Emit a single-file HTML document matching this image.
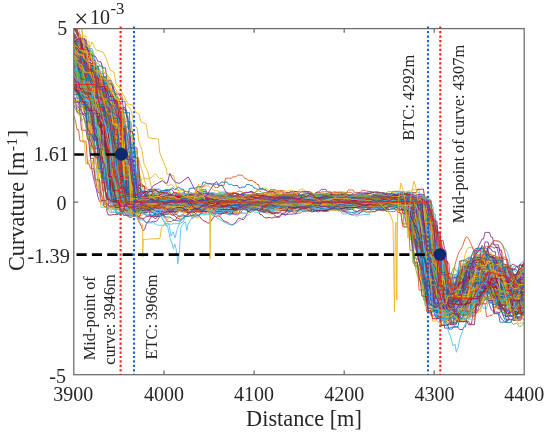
<!DOCTYPE html>
<html><head><meta charset="utf-8"><title>Curvature vs Distance</title>
<style>
html,body{margin:0;padding:0;background:#fff;}
body{width:550px;height:435px;overflow:hidden;}
svg{display:block;}
text{font-family:"Liberation Serif","Times New Roman",serif;fill:#262626;}
.tk{font-size:20.0px;}
.lb{font-size:22.3px;}
.an{font-size:16.35px;fill:#000;}
</style></head><body>
<svg width="550" height="435" viewBox="0 0 550 435">
<rect x="0" y="0" width="550" height="435" fill="#fff"/>
<defs><clipPath id="ax"><rect x="74" y="28.7" width="450.4" height="345.9"/></clipPath></defs>
<g clip-path="url(#ax)"><g transform="scale(0.1)" fill="none" stroke-width="8.5" stroke-linejoin="round">
<path stroke="#0072BD" d="M740 579l15 50 15 32 15 28 15 42 15 46 15 43 15 45 15 43 15 34 15 25 15 24 15 23 15 22 15 16 15 8 15 1 15 13 15 20 15 4 15-9 15 15 15 50 15 49 15 58 15 67 15 91 15 118 15 108 15 85 15 71 15 66 15 55 15 53 15 58 15 34 15 15 15 12 15 1 15 7 15 14 15 5 15-13 15-19 15-17 15-13 15-14 15-17 15-1 15 24 15 11 15-5 15 2 15 11 15 8 15 9 15 19 15 24 15 19 15 8 15 0 15-13 15-30 15-37 15-30 15-12 15-1 15-7 15-8 15-10 15-9 15-5 15 0 15 3 15 0 15-10 15-20 15-14 15-1 15 7 15 13 15 6 15-11 15-20 15-15 15-11 15-5 15 0 15 6 15 8 15 5 15-1 15-1 15 9 15 18 15 15 15 7 15 1 15-4 15 0 15 9 15 8 15 5 15 14 15 17 15 11 15 8 15 3 15-5 15-8 15-11 15-11 15-9 15-7 15-10 15-13 15-6 15 3 15-4 15-8 15-8 15 2 15 6 15 2 15 5 15 16 15 8 15-7 15-3 15-1 15-2 15-5 15-5 15 3 15 6 15 1 15 2 15 10 15 15 15 14 15 9 15 9 15 10 15 10 15 4 15 3 15 10 15 12 15 10 15 4 15-6 15-1 15 6 15 6 15 0 15-5 15-3 15 6 15 9 15 1 15-7 15-9 15-6 15-2 15-2 15-9 15-9 15 1 15 8 15 3 15-2 15-5 15-4 15-3 15 3 15 8 15 6 15 6 15 6 15 4 15 5 15 6 15 2 15 0 15 3 15 2 15 0 15 0 15-3 15-2 15 1 15 2 15-4 15-4 15 3 15 4 15-1 15-2 15-1 15-2 15 0 15-2 15-9 15-7 15-3 15-4 15-2 15 2 15-3 15-7 15-4 15 1 15-1 15 0 15 0 15 0 15-3 15-1 15-2 15-2 15 3 15 2 15-5 15-4 15 0 15 7 15 0 15-3 15 4 15 5 15 6 15 17 15 26 15 42 15 81 15 101 15 87 15 61 15 51 15 35 15 3 15-11 15 7 15 50 15 115 15 176 15 162 15 87 15 23 15 11 15-8 15-6 15-7 15 2 15-6 15-26 15-32 15-31 15-40 15-55 15-46 15-28 15-26 15-35 15-40 15-37 15-20 15-2 15 17 15 26 15 17 15-8 15-28 15-38 15-29 15-8 15 5 15 30 15 26 15 18 15 15 15 22 15 18 15 23 15 37 15 35 15 24 15 23 15 19 15 11 15-2 15-12 15-29 15-23 15-20 15-11 15 4 15-11 15-27 15-22 15-3"/>
<path stroke="#D95319" d="M740 502l15 0 15 12 15 24 15 0 15 0 15 104 15 48 15 0 15 99 15 0 15 0 15 0 15 0 15 138 15 0 15 0 15 0 15 35 15-15 15 0 15 59 15 0 15 0 15 0 15 0 15 162 15 0 15 0 15 0 15 0 15 375 15 342 15 0 15 0 15 0 15 0 15 124 15 0 15 11 15 25 15 18 15 0 15 0 15-14 15 0 15 0 15 0 15 0 15 46 15 0 15 0 15 0 15 0 15-23 15 4 15 0 15-5 15 0 15 0 15 0 15-56 15 0 15 0 15 0 15 0 15 33 15 0 15 18 15-16 15 0 15 0 15 0 15 0 15 27 15 0 15-32 15 0 15 0 15 0 15-36 15 0 15-15 15 0 15-9 15 0 15 0 15 0 15 0 15 19 15 0 15 0 15 8 15 0 15 0 15-5 15 3 15 0 15-18 15 0 15 2 15 0 15 0 15-12 15-15 15 0 15-7 15 0 15 0 15 31 15 0 15 0 15-18 15 0 15 0 15 45 15 0 15 0 15 0 15 0 15 22 15 0 15 7 15 21 15 45 15 0 15 0 15 0 15 0 15 1 15 0 15 0 15 0 15 0 15-33 15 0 15 0 15 2 15-5 15-11 15 0 15-11 15-6 15-3 15 0 15-28 15 0 15 12 15 0 15 0 15 0 15-1 15 0 15 18 15 0 15 0 15 0 15 0 15 0 15 3 15 0 15 0 15 0 15-6 15 0 15-22 15 0 15 0 15 0 15 0 15-23 15-20 15-29 15 0 15 0 15 0 15-5 15 0 15 0 15 4 15 0 15-2 15 6 15 0 15 14 15 0 15 0 15-3 15 0 15 7 15 12 15 0 15 17 15 0 15 0 15 14 15 0 15 0 15 19 15 0 15 0 15 6 15 1 15 5 15 0 15 15 15 0 15 0 15 11 15 0 15-2 15-1 15 0 15 7 15 0 15 0 15 29 15 0 15 0 15 0 15 5 15 9 15 0 15 12 15 106 15 0 15 95 15 0 15 93 15 0 15 84 15 262 15 0 15 0 15 0 15 119 15 0 15 0 15 102 15 3 15 0 15 71 15 0 15 0 15 0 15-17 15 0 15 0 15-165 15 0 15 0 15 0 15 0 15-54 15 0 15 0 15 33 15 0 15 18 15 13 15 13 15 0 15 0 15-5 15 0 15 0 15 0 15-42 15 0 15 0 15-44 15 0 15-44 15 0 15 4 15 25 15 0 15 0 15 0 15 21 15 0 15 0 15 21 15 4 15 0 15 0 15 0 15 0 15 13 15-34 15 0 15 0 15 0 15 0 15 30 15 0 15 0 15 0 15 54 15 0 15 0"/>
<path stroke="#EDB120" d="M740 420l15 66 15 72 15 70 15 56 15 24 15-5 15-12 15-7 15-12 15-16 15-6 15-4 15 4 15 11 15 7 15 15 15 27 15 38 15 54 15 38 15 27 15 4 15 1 15 19 15 45 15 70 15 128 15 142 15 123 15 59 15 20 15 56 15 117 15 133 15 62 15 2 15-6 15-6 15 0 15-2 15-1 15-7 15-8 15-10 15-13 15-12 15-3 15 4 15 5 15-2 15-6 15-9 15-19 15-16 15 9 15 26 15 13 15-1 15 4 15 17 15 25 15 20 15 6 15-7 15-3 15 14 15 16 15 14 15 12 15 4 15-1 15-4 15-2 15 7 15 13 15 15 15 7 15-1 15-5 15-8 15-11 15-11 15-13 15-14 15-11 15-3 15-2 15-4 15 0 15 7 15 8 15 10 15 14 15 11 15-1 15 0 15 15 15 20 15 15 15 14 15 9 15 3 15-1 15 2 15 6 15 8 15 6 15 0 15-3 15-2 15-5 15-7 15-2 15 4 15 3 15-2 15-8 15-13 15-10 15-19 15-23 15-14 15-4 15-3 15-8 15-7 15-1 15 4 15 9 15 9 15 4 15 0 15-1 15 0 15 6 15 3 15-4 15-4 15 0 15 1 15 3 15 3 15-5 15-7 15 1 15 5 15 5 15 2 15 0 15-7 15-13 15-6 15 4 15 12 15 10 15 1 15-1 15 6 15 10 15 6 15 4 15 3 15 5 15 9 15 6 15-4 15-9 15-5 15 0 15 3 15 4 15 8 15 7 15 1 15-4 15 5 15 11 15 8 15 6 15-1 15-8 15-7 15-6 15-7 15-3 15 2 15 2 15-4 15-5 15-5 15-1 15-3 15-6 15-1 15 3 15 3 15 7 15 4 15 0 15 0 15 5 15 10 15 9 15 9 15 8 15 4 15-2 15-7 15-8 15-3 15-1 15-1 15 1 15 5 15 4 15 5 15 9 15 9 15 3 15-1 15 0 15-1 15-7 15-2 15 8 15 50 15 77 15 63 15 50 15 60 15 82 15 76 15 44 15 14 15 17 15 50 15 83 15 73 15 40 15 24 15 26 15 41 15 16 15 17 15 5 15 17 15 7 15-5 15-2 15 7 15 7 15 1 15-27 15-24 15-16 15-10 15-27 15-66 15-101 15-87 15-58 15-41 15-19 15-5 15 1 15 7 15 10 15 24 15 58 15 72 15 54 15 21 15 5 15 3 15 0 15-23 15-26 15 1 15 27 15 23 15 19 15 32 15 46 15 40 15 31 15 30 15 18 15-1 15-19 15-14 15-23 15-39 15-53 15-41 15-11 15 17 15 21 15 10 15 7 15 12"/>
<path stroke="#7E2F8E" d="M740 379l15 68 15 83 15 66 15 44 15 16 15-6 15-10 15 6 15 21 15 20 15 16 15 15 15 9 15-2 15 2 15 15 15 14 15 5 15 11 15 33 15 58 15 41 15 20 15 10 15 12 15 18 15 30 15 24 15 19 15 41 15 25 15-11 15-22 15 8 15 80 15 107 15 111 15 113 15 100 15 72 15 75 15 114 15 132 15 39 15 14 15-8 15-12 15-10 15-8 15-6 15-1 15 3 15 1 15-3 15-6 15-6 15-4 15-2 15 2 15 4 15 5 15 5 15 7 15 3 15-2 15-2 15 0 15-1 15-3 15-9 15-6 15 2 15 9 15 15 15 11 15 2 15-2 15-4 15-2 15 2 15 5 15 2 15 0 15-2 15 0 15 4 15 7 15 3 15 0 15 2 15 4 15 5 15 4 15 0 15-4 15-5 15 0 15 2 15 2 15 4 15 3 15 4 15 3 15 0 15 0 15 3 15 5 15 0 15-9 15-5 15 0 15-3 15-7 15-6 15-1 15-3 15-6 15-10 15-2 15 4 15 5 15 1 15-1 15 1 15 2 15 4 15 5 15 3 15 2 15 3 15 4 15 3 15 4 15 4 15 0 15-2 15-3 15-6 15-6 15-3 15-7 15-5 15 2 15 2 15-5 15-7 15-1 15 0 15-2 15-1 15 3 15 2 15-3 15-6 15-6 15-2 15 1 15-2 15-2 15 1 15 2 15-1 15 0 15-1 15-2 15-2 15 0 15-1 15 1 15 1 15 2 15 4 15 5 15 6 15 9 15 8 15 0 15-1 15 1 15 1 15-2 15 0 15 2 15 1 15-4 15-7 15-5 15 0 15 1 15-2 15-6 15-6 15-2 15 0 15 3 15 0 15-2 15 3 15 7 15 2 15-2 15-3 15-3 15-2 15-3 15-2 15 2 15 2 15 1 15 2 15-1 15-3 15 1 15 3 15 3 15-2 15-3 15 1 15 3 15 2 15 0 15-1 15-2 15-3 15-1 15 2 15-4 15-7 15 0 15 4 15 5 15 47 15 86 15 86 15 78 15 83 15 77 15 46 15 20 15 23 15 36 15 41 15 45 15 47 15 44 15 32 15 13 15 5 15 24 15 2 15 4 15-5 15-2 15 0 15 3 15 15 15-1 15-9 15-34 15-29 15-6 15-12 15-43 15-55 15-37 15-17 15-14 15-19 15-5 15 20 15 24 15-3 15-39 15-47 15-26 15-12 15-20 15-17 15-7 15 5 15 13 15 25 15 48 15 68 15 72 15 49 15 21 15 22 15 39 15 60 15 69 15 33 15-1 15 1 15 6 15 7 15-11 15-32 15-37 15-19"/>
<path stroke="#77AC30" d="M740 573l15 12 15 19 15 46 15 72 15 67 15 46 15 49 15 61 15 44 15 7 15-12 15 7 15 35 15 23 15 5 15 2 15 8 15 17 15 25 15 27 15 28 15 37 15 61 15 121 15 151 15 115 15 52 15 4 15-7 15 17 15 49 15 67 15 82 15 94 15 100 15 51 15 9 15-2 15-13 15-16 15-19 15-11 15 1 15-3 15-4 15 6 15 15 15 12 15-6 15-21 15-19 15-10 15-3 15-3 15-9 15-20 15-19 15-1 15 9 15-5 15-17 15-17 15-13 15-12 15-6 15 0 15-3 15-9 15-2 15 14 15 13 15 9 15 15 15 10 15 3 15 13 15 26 15 20 15 9 15 5 15 8 15 11 15 7 15 1 15-4 15 0 15 10 15 7 15-2 15 2 15 14 15 15 15 9 15-6 15-20 15-29 15-26 15-14 15-7 15-12 15-16 15-9 15 0 15 3 15-4 15-10 15-5 15-3 15-3 15-2 15 6 15 14 15 12 15 4 15 1 15 4 15 0 15-16 15-12 15 6 15 18 15 17 15 9 15 1 15-5 15-7 15-3 15 2 15 5 15 5 15 3 15-2 15-3 15 2 15-3 15-9 15-6 15-3 15-7 15-6 15-5 15-7 15-7 15-4 15 2 15 3 15-1 15-2 15 0 15 4 15 5 15 4 15 2 15-1 15 2 15 5 15 6 15 0 15-4 15-1 15 0 15 1 15-3 15-6 15-7 15 1 15 11 15 8 15 2 15 2 15 3 15 3 15 3 15 3 15 0 15 1 15 4 15 2 15 1 15 8 15 9 15 6 15 2 15-1 15 1 15 8 15 14 15 14 15 0 15-11 15-8 15-4 15-7 15-9 15-3 15 2 15-8 15-14 15-4 15 11 15 16 15 10 15 4 15 4 15 9 15 6 15-3 15-6 15-7 15-12 15-13 15-6 15-1 15 2 15-5 15-10 15 9 15 5 15-1 15 7 15 25 15 61 15 73 15 83 15 91 15 100 15 109 15 93 15 55 15 32 15 36 15 43 15 43 15 56 15 80 15 46 15 38 15 3 15-23 15-35 15-28 15-14 15-10 15-14 15-12 15-27 15-29 15-6 15 8 15 15 15 16 15 12 15-6 15-17 15-22 15-23 15-19 15-13 15-7 15-3 15 5 15 6 15 9 15 4 15-12 15-6 15-6 15-8 15-5 15-11 15 1 15 12 15 18 15 10 15-1 15-3 15-12 15-15 15-1 15 12 15 9 15 6 15 3 15-6 15 4 15 12 15 17 15 33 15 36 15 24 15 2 15 8 15 19 15 19 15 12 15 9 15 17 15 23 15 1 15-30"/>
<path stroke="#4DBEEE" d="M740 888l15 0 15 0 15 49 15 0 15 79 15 0 15 0 15 67 15 0 15 0 15 0 15 205 15 0 15 0 15 0 15 148 15 81 15 0 15 0 15 161 15 163 15 0 15 98 15 0 15 0 15 118 15 0 15 0 15 40 15 0 15 0 15-12 15 0 15 0 15 9 15-9 15 0 15 0 15-23 15 0 15 0 15-7 15 0 15 0 15 0 15 0 15 18 15 0 15 0 15 0 15 5 15-9 15 0 15 0 15-30 15 0 15-21 15 0 15 0 15 0 15 0 15 1 15-18 15 0 15 0 15 0 15-3 15 0 15 7 15 10 15 0 15-4 15 0 15 19 15 0 15 9 15 0 15-27 15 0 15 0 15 0 15 0 15-10 15-19 15 0 15-12 15 0 15 0 15 0 15 11 15 20 15 0 15 0 15 3 15 0 15 0 15 0 15 0 15-8 15 0 15-5 15 0 15 0 15-2 15 0 15 0 15 24 15 0 15 0 15 0 15 0 15 17 15 0 15 0 15 9 15 0 15-11 15 0 15 0 15 2 15 0 15 0 15-5 15 0 15 0 15 0 15-11 15 0 15 3 15 0 15 0 15 0 15-11 15 0 15 0 15 0 15 0 15-4 15 8 15 0 15-1 15 2 15 0 15 0 15 0 15 0 15 33 15 3 15 0 15 8 15 0 15 8 15 0 15 0 15 0 15-14 15 0 15 0 15 0 15 0 15-18 15 0 15 0 15-1 15-10 15 0 15 0 15 0 15-5 15-1 15 1 15-5 15 0 15 0 15 0 15 0 15 10 15 7 15 0 15 2 15 4 15 8 15 0 15 0 15 0 15 0 15 0 15-1 15-4 15 0 15 0 15 0 15 0 15 0 15-6 15 0 15 0 15 0 15 0 15-14 15 0 15 0 15 9 15 3 15 1 15 0 15 0 15 2 15 22 15 0 15 0 15 0 15-6 15-6 15 0 15 0 15-3 15 0 15 0 15-8 15 0 15 14 15 0 15 0 15 52 15 0 15 0 15 0 15 0 15 236 15 0 15 0 15 0 15 0 15 257 15 0 15 169 15 0 15 90 15 67 15 29 15-23 15 0 15 0 15-22 15 0 15 0 15 0 15-22 15 0 15 0 15 0 15-38 15 0 15 0 15 0 15 0 15 83 15 0 15 0 15 1 15 0 15 0 15-3 15 0 15 4 15 25 15 0 15 7 15-1 15 0 15 0 15-63 15 0 15-12 15 0 15 0 15 0 15 6 15 0 15 0 15 0 15-18 15 0 15 28 15 0 15 0 15 26 15 131 15 0 15 0 15 0 15-1 15 0 15 0 15 85 15 0 15 0 15 0 15 0"/>
<path stroke="#A2142F" d="M740 486l15 3 15 10 15 33 15 48 15 53 15 52 15 37 15 23 15 16 15 10 15 15 15 36 15 46 15 35 15 26 15 30 15 43 15 53 15 67 15 56 15 34 15 10 15 4 15 21 15 87 15 112 15 88 15 26 15-19 15-18 15 41 15 104 15 123 15 133 15 87 15 32 15-2 15-7 15-4 15-1 15-6 15-6 15 0 15 4 15 4 15 2 15 2 15 6 15 2 15-6 15-5 15-3 15-6 15-11 15-9 15 0 15 3 15-5 15-11 15-7 15 1 15 6 15 8 15 6 15 2 15-4 15-6 15-5 15-6 15 0 15 6 15 7 15 5 15 7 15 5 15 1 15 1 15 3 15 4 15 3 15 3 15 5 15 2 15-7 15-9 15-2 15 4 15 1 15-2 15-2 15 1 15 4 15 5 15 4 15 5 15 3 15 2 15 3 15 3 15 1 15 2 15 3 15 2 15 0 15-1 15 2 15 7 15 5 15-4 15-4 15 1 15 5 15 3 15-1 15-4 15-6 15-3 15-1 15 1 15-5 15-6 15-5 15-1 15 0 15-3 15-6 15-7 15-7 15-3 15 2 15 5 15 5 15 3 15-1 15-2 15 0 15-4 15-9 15-7 15-3 15 1 15 5 15 7 15 4 15 1 15 2 15 3 15 0 15-4 15-5 15-3 15 1 15 3 15 1 15-2 15-3 15-3 15-8 15-8 15-2 15 1 15 0 15-4 15-1 15 0 15-3 15-6 15-2 15 5 15 8 15 4 15 2 15-2 15-1 15 2 15 0 15-1 15-2 15 1 15 4 15 3 15 0 15-1 15 2 15 1 15-4 15-5 15-1 15 3 15 2 15 2 15 1 15-3 15-6 15-4 15-1 15 0 15-2 15-2 15 0 15 3 15 2 15 3 15 3 15 2 15 0 15-1 15-1 15 2 15 6 15 5 15 1 15-4 15-4 15 0 15-1 15-5 15 1 15 1 15 3 15 2 15 2 15 0 15 3 15 5 15-4 15-9 15 7 15 12 15 28 15 67 15 59 15 54 15 41 15 42 15 66 15 61 15 14 15 2 15 29 15 42 15 54 15 81 15 89 15 65 15 32 15 33 15 77 15 74 15 42 15 8 15-14 15-19 15-5 15 1 15-1 15-21 15-21 15-19 15-15 15-7 15-4 15-12 15-30 15-50 15-39 15-41 15-43 15-39 15-32 15-23 15-17 15-4 15 12 15 10 15 3 15 6 15 5 15-4 15 2 15 21 15 31 15 13 15 0 15 0 15 9 15 16 15 21 15 28 15 32 15 28 15 17 15 22 15 22 15 11 15 6 15-9 15 0 15-11 15-17"/>
<path stroke="#0072BD" d="M740 330l15 32 15 106 15 0 15 0 15 176 15 0 15 0 15 0 15 0 15 123 15 0 15 0 15 121 15 0 15 24 15 0 15 16 15 0 15 0 15 0 15 0 15 4 15 0 15 0 15 0 15 91 15 0 15 44 15 0 15 0 15 20 15-15 15 55 15 0 15 0 15 0 15 0 15 545 15 0 15 0 15 303 15 0 15 19 15 42 15 0 15 0 15 0 15 0 15-44 15-34 15 0 15 0 15-62 15 0 15 0 15 35 15 0 15 0 15 0 15 10 15 0 15 0 15 7 15 0 15 29 15 0 15 23 15 0 15 0 15-10 15 0 15 0 15 12 15 0 15 0 15 0 15 33 15 0 15 30 15 0 15 0 15-26 15 0 15 0 15-33 15 0 15 0 15 0 15 0 15-1 15 0 15 0 15 20 15 0 15 0 15 0 15 0 15 29 15 0 15 0 15 0 15-15 15 0 15 0 15-64 15 0 15 0 15 0 15-3 15 0 15 0 15 0 15 0 15-9 15 0 15 0 15 21 15 0 15 0 15 54 15 0 15 0 15 0 15 13 15 0 15 0 15 0 15 0 15-23 15 0 15-3 15 17 15 0 15 0 15-22 15 0 15-1 15 0 15 0 15-3 15-16 15 0 15 0 15 0 15 0 15-12 15-4 15 0 15 0 15-4 15 0 15 0 15 14 15 4 15 0 15 0 15 0 15 0 15-2 15 0 15 0 15-10 15 0 15 0 15-1 15 0 15 0 15 0 15 7 15 0 15 0 15 0 15 0 15-19 15-6 15 0 15 0 15 0 15-8 15 10 15 0 15 0 15 7 15 0 15 0 15 4 15 0 15 8 15 0 15 7 15 11 15 0 15 0 15 26 15 0 15 0 15 0 15 0 15-9 15 0 15 0 15 0 15 0 15-19 15 0 15 0 15 0 15 0 15 17 15 0 15 0 15-21 15 0 15 0 15 0 15 0 15 37 15 0 15 0 15 0 15 36 15 0 15 22 15 19 15 0 15 0 15 92 15 0 15 87 15 0 15 0 15 169 15 0 15 0 15 398 15 0 15 0 15 0 15 187 15 0 15 31 15 0 15 0 15-13 15 0 15 0 15 0 15 7 15 66 15 0 15 0 15 0 15 0 15-53 15 0 15-31 15-32 15 0 15-49 15 0 15-37 15 0 15-4 15-21 15 0 15-36 15 0 15-38 15-36 15 0 15-36 15 0 15 0 15-61 15 0 15 17 15 0 15 0 15 0 15 0 15 123 15 0 15 0 15 0 15 0 15 44 15 0 15 0 15 2 15 0 15 0 15 0 15 0 15-17 15 2 15 0 15 0 15 0 15 0 15-4"/>
<path stroke="#D95319" d="M740 655l15 32 15 14 15 9 15 24 15 33 15 26 15 12 15 13 15 34 15 47 15 38 15 21 15 13 15 15 15 16 15 7 15 7 15 14 15 33 15 48 15 67 15 84 15 88 15 99 15 102 15 89 15 66 15 59 15 77 15 90 15 84 15 12 15 0 15-5 15 3 15 11 15 3 15 2 15-1 15-3 15-1 15 4 15 12 15 13 15 5 15 0 15 2 15-1 15-5 15-8 15-11 15-10 15-5 15-2 15-2 15 2 15 5 15 6 15 8 15 6 15 2 15 1 15 1 15 3 15 8 15 5 15-1 15-1 15 1 15 2 15 2 15 0 15 1 15 1 15 1 15-1 15-2 15 2 15 7 15 1 15-5 15-5 15-5 15-3 15-1 15 0 15-4 15-3 15 1 15 2 15 0 15 1 15 1 15 4 15 5 15 4 15-2 15-5 15-2 15 4 15 4 15-1 15-4 15-3 15-1 15 1 15 0 15-1 15-1 15-1 15-3 15-2 15-3 15-2 15-1 15-4 15-4 15-8 15-2 15-3 15-6 15-6 15-1 15 8 15 10 15 8 15 4 15 1 15-4 15-8 15-8 15-4 15-4 15-2 15 1 15-1 15-5 15-5 15 1 15 1 15 0 15 1 15 1 15 2 15 4 15 4 15 2 15 0 15-3 15-1 15 0 15 2 15 2 15 2 15 0 15 1 15 0 15-2 15-2 15 1 15 3 15-1 15-2 15-1 15 4 15 5 15 4 15 0 15 1 15 1 15-4 15-8 15-2 15 3 15 1 15-3 15-3 15-1 15 1 15 2 15-1 15-4 15-1 15 3 15 1 15 1 15 2 15-4 15-8 15-6 15 0 15 2 15 7 15 9 15 1 15-5 15-4 15-2 15-2 15 0 15 3 15 2 15 0 15-1 15-1 15 1 15 0 15-1 15 2 15 4 15 2 15-1 15-3 15-5 15-4 15 1 15 4 15 2 15 0 15-3 15 1 15 5 15 5 15 6 15 4 15 10 15 6 15 4 15 1 15-1 15-4 15 16 15 87 15 110 15 82 15 65 15 69 15 84 15 86 15 69 15 66 15 72 15 60 15 39 15 38 15 49 15 48 15 24 15 26 15 25 15 19 15 32 15 24 15 5 15-21 15-33 15-21 15-20 15-42 15-68 15-104 15-101 15-64 15-23 15 4 15 1 15-16 15-31 15-34 15-13 15 21 15 21 15 6 15 0 15 13 15 26 15 26 15 20 15 16 15 19 15 17 15 7 15 4 15 9 15 20 15 27 15 29 15 19 15 10 15 5 15 7 15 15 15 16 15 4 15-2 15-3 15-12 15-17 15-23 15-25"/>
<path stroke="#EDB120" d="M740 755l15 43 15 33 15 6 15-7 15 11 15 37 15 38 15 19 15 16 15 28 15 26 15 24 15 33 15 36 15 35 15 32 15 28 15 11 15-12 15-29 15-22 15 12 15 48 15 44 15 65 15 85 15 84 15 86 15 103 15 126 15 127 15 114 15 66 15 5 15-3 15 5 15 23 15 18 15 1 15 3 15 2 15 0 15 1 15 2 15-2 15-8 15-10 15-10 15-12 15-8 15-4 15-5 15-5 15-7 15-7 15-3 15 0 15-3 15-7 15-6 15-2 15 0 15 3 15 4 15 4 15 1 15-3 15-3 15 5 15 11 15 6 15-1 15 0 15 3 15 2 15 0 15-4 15-7 15-4 15 0 15 2 15-2 15-4 15-6 15-4 15 0 15 0 15-4 15-4 15-1 15 4 15 4 15 0 15-1 15 2 15 3 15 1 15 0 15 0 15 2 15 2 15 2 15 2 15 0 15-4 15-5 15 1 15 6 15 4 15-1 15-1 15-1 15-2 15-1 15-1 15 0 15 4 15 0 15 2 15 2 15 2 15-4 15-8 15-5 15-2 15-3 15-4 15-3 15 1 15 0 15-1 15-1 15 4 15 4 15 2 15 0 15 2 15 3 15 0 15-5 15-7 15-8 15-7 15-3 15-4 15-3 15 0 15 5 15 6 15 5 15 1 15-4 15-4 15-3 15 0 15 5 15 5 15 1 15 1 15 4 15 1 15-2 15-5 15-3 15-2 15-5 15-7 15-8 15-7 15-4 15-2 15-2 15-5 15-4 15 0 15 1 15 4 15 6 15 8 15 8 15 5 15 2 15 3 15 4 15 2 15-2 15-6 15-6 15-5 15-1 15 4 15 3 15-2 15-5 15-1 15 2 15 4 15 6 15 8 15 3 15-3 15-4 15-2 15 0 15 3 15 7 15 4 15 0 15-6 15-8 15-3 15 6 15 6 15 2 15-1 15-4 15-4 15 3 15 5 15 1 15 0 15 4 15 5 15 3 15 5 15 6 15 3 15-5 15-10 15-8 15 7 15 0 15 0 15 15 15 46 15 85 15 91 15 74 15 64 15 69 15 64 15 53 15 60 15 84 15 97 15 70 15 23 15 7 15 28 15 46 15 7 15 4 15 11 15 7 15-4 15-19 15-30 15-26 15-11 15 9 15 22 15 2 15-18 15-11 15 2 15 2 15 2 15 4 15-2 15-14 15-19 15-11 15-4 15 6 15 4 15-15 15-20 15-4 15-1 15-10 15-17 15-23 15-31 15-22 15-18 15-7 15 4 15 11 15 13 15 24 15 46 15 55 15 56 15 40 15 42 15 33 15 13 15 9 15 6 15 2"/>
<path stroke="#7E2F8E" d="M740 710l15 0 15 0 15 0 15 26 15 0 15 0 15 61 15 0 15 0 15 162 15 0 15 0 15 0 15 78 15 0 15 0 15 0 15 0 15 53 15 57 15 0 15 0 15 293 15 0 15 0 15 0 15 0 15 311 15 0 15 0 15 0 15 39 15 32 15 230 15 0 15 0 15 0 15 0 15 26 15-11 15-34 15 0 15 0 15-12 15 0 15-21 15 0 15 0 15 0 15 0 15-1 15 0 15 0 15 0 15-26 15-44 15 0 15-20 15 0 15-1 15-11 15 0 15 0 15 0 15 0 15 9 15 36 15 0 15 0 15-1 15 0 15 0 15 15 15 0 15 13 15 0 15 0 15 0 15 0 15-5 15 0 15 0 15 26 15 0 15-14 15 0 15 0 15 0 15 20 15 0 15 0 15 0 15 0 15-25 15 14 15 0 15 10 15 0 15 0 15-3 15 0 15 0 15-3 15 0 15 0 15 27 15 0 15 0 15 0 15 0 15-22 15 0 15 15 15 13 15 1 15 0 15 0 15 0 15-32 15 0 15-16 15 0 15 0 15 0 15 0 15-3 15 0 15 13 15 0 15 3 15 0 15 0 15 0 15 9 15 0 15 0 15-26 15 0 15 0 15-35 15 0 15 0 15 0 15-17 15 0 15 0 15 45 15 0 15 0 15 0 15 0 15 20 15 0 15 12 15 0 15 0 15 21 15 0 15 0 15 0 15 3 15 0 15 2 15 8 15 12 15 0 15 1 15 0 15 3 15 0 15 13 15 0 15 0 15 4 15 0 15-14 15-7 15-12 15 0 15 0 15-5 15 0 15-3 15 0 15 0 15-3 15-9 15 0 15 0 15 0 15 0 15 25 15 1 15-16 15 0 15 0 15 0 15 0 15 10 15 0 15 0 15-17 15 0 15 0 15 0 15 1 15-11 15 0 15 13 15 0 15-10 15 0 15 0 15-15 15 0 15 0 15 7 15 4 15 0 15 0 15 0 15 0 15 0 15 37 15 0 15 0 15 0 15-1 15 0 15 0 15 279 15 0 15 0 15 0 15 0 15 33 15 0 15 150 15 0 15 165 15 0 15 67 15 155 15 0 15 41 15 20 15 0 15 0 15 60 15 0 15 32 15 0 15 0 15 0 15-1 15 0 15-3 15-5 15 27 15 0 15 0 15 0 15 0 15-54 15 0 15-66 15 0 15 0 15-14 15 0 15 0 15-38 15 0 15 0 15 0 15 0 15-20 15 0 15 0 15-17 15 22 15 0 15 0 15 42 15 0 15 0 15 0 15 11 15 0 15 0 15 106 15 0 15 0 15 30 15 0 15 0 15-2 15-27 15 0 15-12"/>
<path stroke="#77AC30" d="M740 694l15 15 15 28 15 33 15 8 15-1 15 9 15 16 15 17 15 16 15 22 15 39 15 63 15 85 15 62 15 41 15 79 15 145 15 157 15 103 15 58 15 60 15 74 15 85 15 92 15 19 15 10 15-3 15-7 15-1 15 5 15 3 15-3 15-7 15-2 15 4 15 6 15 9 15 12 15 8 15 0 15-7 15-7 15-5 15-7 15-7 15-8 15-10 15-7 15-1 15 1 15-2 15-1 15 1 15 2 15 3 15 5 15 0 15-4 15-1 15 4 15 3 15 0 15 1 15 3 15 2 15-1 15-2 15 2 15 4 15 3 15 2 15 2 15 2 15 1 15-2 15-7 15-4 15-3 15-3 15-2 15-3 15-4 15-5 15 1 15 7 15 9 15 8 15 9 15 8 15 4 15 1 15-2 15-2 15-3 15-2 15 1 15 2 15-3 15-4 15-1 15 3 15 5 15 8 15 6 15 2 15-2 15-5 15-3 15-3 15 1 15 0 15-3 15-5 15-7 15-9 15-7 15 2 15 4 15 9 15 3 15-2 15 1 15 3 15 1 15 0 15-2 15 0 15 0 15-4 15-6 15 4 15 10 15 6 15-2 15-4 15 0 15 0 15-2 15-3 15-4 15 0 15 1 15 1 15-2 15-2 15-5 15-7 15-3 15 2 15 3 15 1 15 1 15 0 15 2 15 6 15 6 15 5 15 5 15 1 15-3 15-3 15-3 15-2 15-3 15-3 15-4 15-2 15-3 15-4 15 0 15 6 15 5 15-3 15-6 15-5 15-5 15-5 15-7 15-4 15-2 15-3 15-2 15-1 15 0 15-5 15-7 15-3 15 3 15 7 15 6 15 6 15 3 15-1 15-3 15-1 15 3 15 7 15 5 15 1 15 2 15 7 15 8 15 0 15-5 15-5 15-3 15-4 15-5 15-1 15 0 15 1 15 1 15 0 15 3 15 7 15 9 15 4 15 1 15 2 15 3 15-1 15-5 15-7 15-6 15-4 15-4 15-5 15-3 15-5 15-3 15 1 15 8 15 8 15 84 15 47 15 9 15 18 15 48 15 67 15 76 15 84 15 87 15 77 15 76 15 91 15 88 15 46 15 6 15 9 15 42 15 7 15 4 15-25 15-18 15-13 15-7 15-6 15 1 15-8 15-18 15-22 15-6 15 9 15 17 15 15 15 9 15 10 15 7 15-6 15-21 15-39 15-41 15-18 15-22 15-13 15 2 15 1 15-7 15-9 15 0 15 1 15-6 15-6 15-7 15-1 15 7 15 15 15 25 15 38 15 47 15 42 15 46 15 58 15 46 15 38 15 30 15 31 15 20 15 0 15-3"/>
<path stroke="#4DBEEE" d="M740 672l15 46 15 41 15 23 15 8 15 6 15 12 15 14 15 4 15 0 15 2 15 19 15 43 15 49 15 35 15 28 15 33 15 33 15 22 15 18 15 32 15 69 15 91 15 92 15 80 15 76 15 72 15 91 15 92 15 66 15 45 15 58 15 54 15 23 15 22 15 16 15 11 15 2 15-3 15-2 15 12 15 18 15 12 15 3 15-11 15-24 15-29 15-24 15-15 15-4 15 3 15 4 15 0 15-1 15 3 15 2 15-5 15-12 15-9 15-7 15-10 15-12 15-16 15-13 15 6 15 20 15 3 15-16 15-8 15 10 15 8 15-11 15-15 15 3 15 16 15 14 15 6 15-5 15-4 15 12 15 24 15 14 15-1 15 1 15 5 15-1 15-7 15-3 15 3 15 6 15 10 15 8 15-4 15-15 15-14 15-8 15 1 15 7 15 9 15 12 15 10 15 4 15 5 15 2 15-10 15-12 15-7 15-7 15-15 15-12 15 8 15 17 15 6 15-7 15-10 15-9 15-6 15 4 15 12 15 16 15 8 15 4 15 7 15 4 15-3 15-10 15-4 15 8 15 7 15 1 15 0 15-1 15 4 15 11 15 2 15-12 15-6 15 13 15 20 15 9 15 1 15 3 15 7 15 5 15 2 15 0 15 3 15 2 15-1 15-3 15-4 15-7 15-5 15-1 15-3 15-12 15-17 15-8 15 9 15 16 15 6 15-2 15-4 15 0 15 9 15 13 15 6 15-4 15-9 15-9 15-9 15-8 15-6 15-6 15-9 15-15 15-14 15-12 15-10 15-4 15 0 15-1 15-6 15-8 15-8 15-5 15 1 15 8 15 7 15-1 15-4 15 6 15 13 15 10 15 1 15-6 15-9 15-5 15 5 15 7 15 3 15-1 15-1 15 0 15 1 15 3 15 10 15 15 15 13 15 4 15-10 15-14 15-6 15-1 15-3 15-5 15 0 15 6 15 7 15 2 15-1 15-3 15 0 15 4 15 3 15 0 15 3 15 5 15 8 15 3 15-5 15-9 15-9 15-5 15 2 15 10 15 21 15 28 15 20 15 41 15 72 15 94 15 93 15 90 15 95 15 108 15 126 15 120 15 71 15 14 15 9 15 2 15-5 15-10 15-2 15 12 15 14 15-2 15-3 15-4 15-12 15-25 15-28 15-14 15 1 15 1 15-11 15-23 15-4 15 2 15-13 15-30 15-12 15 1 15 0 15-8 15-19 15-17 15-4 15-2 15-7 15-12 15-12 15 2 15 19 15 25 15 15 15-7 15-28 15-10 15 0 15 5 15 10 15 23 15 42 15 58 15 44 15 22 15 20 15 4 15 3"/>
<path stroke="#A2142F" d="M740 727l15 12 15 14 15 13 15 12 15 13 15 21 15 22 15 15 15 9 15 10 15 17 15 36 15 52 15 56 15 45 15 24 15 23 15 28 15 28 15 31 15 50 15 61 15 73 15 82 15 74 15 57 15 41 15 34 15 37 15 49 15 70 15 87 15 68 15 40 15 38 15 34 15 33 15 5 15-8 15-3 15 12 15 16 15 11 15 8 15 6 15 8 15 19 15 18 15-3 15-22 15-26 15-12 15 7 15 13 15-4 15-24 15-30 15-18 15 1 15 7 15-1 15-9 15-5 15 5 15 14 15 18 15 17 15 15 15 10 15 8 15 4 15-4 15-7 15-10 15-12 15-13 15-16 15-15 15-5 15 8 15 16 15 14 15 8 15 11 15 21 15 16 15 6 15 7 15 11 15 2 15-12 15-24 15-22 15-9 15-2 15-3 15 2 15 16 15 20 15 13 15 7 15 4 15 10 15 12 15 6 15-5 15-10 15-15 15-22 15-16 15 3 15 11 15 0 15-17 15-31 15-30 15-13 15-8 15-5 15-7 15-5 15-3 15-1 15 4 15 5 15 4 15-4 15-10 15-7 15-5 15-5 15-1 15 3 15-2 15-9 15-6 15 1 15 0 15-6 15-11 15-6 15-4 15-3 15-3 15 1 15 8 15 13 15 15 15 14 15 13 15 6 15 0 15-2 15-3 15-2 15-7 15-10 15-8 15-12 15-19 15-13 15-5 15-3 15-2 15 4 15 9 15 11 15 13 15 9 15 1 15 0 15 0 15-4 15-9 15-6 15-1 15 3 15-2 15-7 15-11 15-13 15-9 15-1 15 5 15 5 15 5 15 9 15 13 15 8 15 4 15 11 15 17 15 8 15-3 15-7 15-8 15-10 15-10 15-4 15-1 15-1 15 3 15 8 15 12 15 10 15 2 15-6 15-6 15 0 15 1 15-8 15-11 15-4 15 8 15 11 15 7 15 1 15 0 15-2 15-1 15 5 15 18 15 23 15 21 15 11 15 6 15 3 15 6 15 3 15 4 15 1 15 8 15 34 15 69 15 58 15 38 15 43 15 69 15 89 15 89 15 85 15 74 15 66 15 64 15 64 15 57 15 49 15 54 15 30 15 27 15 12 15 0 15-17 15-26 15-14 15-14 15-16 15-2 15-2 15-22 15-36 15-36 15-37 15-42 15-34 15-29 15-18 15 4 15 13 15-10 15-41 15-40 15-8 15 19 15 12 15 17 15 3 15-12 15-24 15-27 15-18 15-3 15 2 15 8 15 14 15 11 15 5 15 5 15 5 15 7 15 15 15 11 15 11 15 28 15 41 15 13 15 11 15 0 15-5 15-1"/>
<path stroke="#0072BD" d="M740 380l15 0 15 16 15 58 15 0 15 0 15 197 15 0 15 93 15 0 15 0 15 124 15 0 15 38 15 0 15 0 15 43 15 0 15 0 15 1 15 0 15 41 15 0 15-11 15 26 15 0 15 0 15 119 15 0 15 0 15 0 15 174 15 0 15 0 15 359 15 0 15 0 15 0 15 346 15 0 15 0 15 0 15 0 15 14 15 0 15 0 15 0 15 0 15 4 15 0 15 6 15 0 15 0 15 0 15 0 15 12 15 7 15 0 15-5 15-11 15 0 15 0 15 23 15 0 15 0 15 0 15 9 15 0 15 0 15-7 15 0 15-6 15 0 15-12 15 0 15 0 15 8 15 0 15 0 15 1 15 0 15-6 15 0 15-5 15 0 15 0 15 0 15 4 15 0 15 0 15 0 15-9 15 5 15 0 15 0 15 0 15 0 15-13 15 0 15 0 15 0 15 0 15-3 15 0 15 0 15 0 15 16 15 0 15 0 15 0 15 19 15 0 15 5 15 7 15 12 15 0 15 0 15-10 15 0 15 0 15 0 15 0 15-17 15 0 15 0 15 0 15 8 15 0 15-7 15-9 15 0 15 0 15 5 15 0 15 4 15 0 15 0 15-14 15-34 15 0 15 0 15 0 15-23 15 0 15-9 15 0 15 0 15-4 15 0 15 2 15-3 15 0 15 0 15 4 15 7 15 0 15 0 15 6 15 0 15 0 15 0 15 14 15 0 15 0 15 2 15 1 15 0 15 0 15 5 15 0 15-3 15 0 15 0 15 0 15 0 15 14 15 12 15 0 15 0 15 10 15 0 15 0 15-6 15 0 15 0 15-7 15 0 15 0 15 0 15 0 15-26 15 0 15 0 15 6 15 5 15 3 15 0 15 0 15 0 15 0 15 12 15 0 15-6 15-6 15 0 15 0 15-2 15 0 15 5 15 0 15-5 15 0 15 0 15 0 15 0 15 12 15 0 15 0 15 0 15 0 15-4 15-1 15 0 15 0 15 9 15 0 15 3 15 0 15 19 15 0 15 126 15 0 15 0 15 0 15 272 15 0 15 0 15 148 15 0 15 334 15 0 15 0 15 0 15 170 15 49 15 0 15 0 15 0 15-7 15 0 15 0 15-19 15 0 15 0 15-2 15 0 15 0 15 0 15 0 15-107 15 0 15-62 15 0 15 0 15-60 15 0 15 0 15-78 15 0 15 28 15 0 15 12 15 18 15 0 15 3 15 0 15 0 15-49 15 0 15 13 15 0 15 0 15 54 15 0 15 0 15 0 15 61 15 0 15 0 15 0 15 0 15 204 15 0 15 30 15 12 15-16 15 0 15 0 15-13 15-26 15-22"/>
<path stroke="#D95319" d="M740 733l15 0 15 0 15 18 15-21 15 0 15 0 15 0 15 57 15 0 15 0 15 0 15 0 15 59 15 0 15 0 15 0 15 0 15 296 15 0 15 0 15 0 15 42 15 14 15 0 15-7 15 0 15 0 15 0 15 3 15 39 15 0 15 0 15 240 15 0 15 0 15 146 15 200 15 0 15 0 15 245 15 26 15 0 15 0 15 0 15-19 15 0 15 0 15 0 15 0 15-25 15 0 15 0 15-25 15 0 15-3 15 0 15 0 15-14 15 0 15 0 15 2 15 0 15 0 15 0 15 2 15 0 15 2 15 0 15 0 15 0 15-11 15 0 15 0 15-4 15-14 15 0 15 0 15 0 15 14 15 0 15 0 15 9 15 0 15 0 15-10 15 0 15 0 15 0 15-5 15 0 15 0 15-14 15 0 15 0 15 0 15 0 15 8 15 6 15 0 15 17 15 0 15 0 15 0 15 0 15-2 15 0 15-5 15-1 15 4 15 4 15 10 15 0 15 0 15 14 15 0 15 0 15 0 15-7 15 0 15 0 15 0 15 0 15 6 15 12 15 0 15 0 15 0 15-1 15 0 15 5 15 0 15 5 15 0 15 0 15-8 15 0 15 0 15 0 15 1 15 0 15 0 15 8 15 17 15 0 15 0 15 0 15 0 15 16 15-4 15 0 15-12 15 0 15 0 15 0 15-2 15 0 15-1 15-6 15 0 15-9 15 0 15 0 15-11 15 0 15 0 15 0 15-4 15 0 15 0 15 0 15 21 15 0 15 0 15 0 15 4 15-5 15 0 15 0 15 0 15 0 15-19 15-7 15-9 15-9 15 0 15 0 15 8 15 0 15 0 15-6 15 0 15 0 15 8 15 0 15 2 15 0 15 0 15 0 15-4 15-4 15 0 15 0 15-9 15 0 15 0 15-13 15 0 15-1 15-3 15 14 15 0 15 0 15-10 15 0 15 0 15 0 15 136 15 0 15 135 15 0 15 0 15 0 15 0 15 29 15 24 15 0 15 0 15 180 15 0 15 0 15 0 15 0 15 284 15 0 15 79 15 0 15 0 15 0 15 0 15 63 15 0 15 0 15 0 15 0 15 78 15 0 15 0 15 4 15 0 15-52 15 0 15-82 15 0 15 0 15-95 15 0 15 0 15-75 15 0 15 0 15 0 15-16 15 13 15 9 15 0 15 50 15 0 15 0 15 67 15 0 15 0 15 63 15 0 15 0 15 59 15 41 15 0 15 0 15 29 15 56 15 0 15-26 15 0 15 0 15-67 15 0 15-45 15 0 15 3 15 0 15-83 15 0 15 0 15 0 15-11 15 0 15 0 15 0 15 0 15-19"/>
<path stroke="#EDB120" d="M740 278l15 32 15 25 15 24 15 12 15 5 15 17 15 28 15 22 15 13 15 12 15 23 15 35 15 49 15 61 15 53 15 38 15 31 15 14 15-3 15-4 15 10 15 27 15 35 15 32 15 28 15 29 15 22 15 13 15 13 15 26 15 46 15 75 15 62 15 32 15-1 15 14 15 48 15 75 15 88 15 78 15 60 15 57 15 61 15 58 15 65 15 70 15 67 15 45 15 24 15 9 15-7 15-7 15-9 15-8 15-4 15 7 15 16 15 5 15-14 15-17 15-4 15 0 15-5 15-12 15-18 15-15 15-10 15-6 15 0 15 1 15 3 15 13 15 23 15 20 15 9 15 3 15 1 15-1 15-1 15 2 15-6 15-15 15-11 15-1 15 6 15 6 15 3 15 4 15 11 15 11 15 2 15-7 15-9 15-2 15-2 15-11 15-10 15-1 15-5 15-10 15-5 15-2 15-1 15-4 15-8 15-6 15 1 15 10 15 18 15 19 15 14 15 7 15-4 15-3 15 5 15 3 15-7 15-9 15-4 15-6 15-4 15-2 15 1 15 4 15 7 15 1 15-5 15-3 15-1 15-5 15-7 15-6 15-9 15-9 15-4 15 0 15-3 15-11 15-6 15 3 15 11 15 13 15 9 15 2 15 1 15 1 15-4 15-7 15 0 15 7 15 3 15-3 15 0 15 6 15 8 15 8 15 6 15 5 15 8 15 8 15 5 15 5 15 2 15 0 15-2 15-7 15-5 15 5 15 8 15 7 15 7 15 7 15 10 15 14 15 8 15-1 15-7 15-10 15-8 15-9 15-8 15 0 15 1 15-1 15-7 15-9 15-10 15-9 15-4 15-1 15 1 15 1 15 0 15 1 15 3 15 7 15 5 15 1 15-5 15-2 15 4 15 6 15 2 15 0 15 2 15 3 15 1 15 0 15 2 15 9 15 11 15 8 15 0 15-6 15-15 15-17 15-12 15 5 15 12 15 12 15 29 15 4 15-8 15-1 15 16 15 33 15 49 15 51 15 39 15 29 15 49 15 82 15 88 15 61 15 37 15 38 15 69 15 101 15 103 15 93 15 72 15 17 15 17 15 27 15 34 15 24 15 9 15-2 15-8 15-23 15-26 15-14 15-12 15-28 15-51 15-66 15-54 15-44 15-39 15-27 15-13 15 3 15 12 15 1 15-11 15-8 15 18 15 18 15 13 15 0 15-6 15 7 15 31 15 20 15-1 15-10 15 4 15 8 15-7 15-12 15-5 15 7 15 12 15 6 15 9 15-20 15-11 15-15 15-24 15-13 15-2 15-2 15-4 15-6 15-7 15 4 15 3 15-12 15-20 15-13"/>
<path stroke="#7E2F8E" d="M740 438l15 0 15 0 15 145 15 0 15 0 15 0 15 0 15 76 15 0 15 0 15-24 15 0 15 0 15 49 15 139 15 0 15 0 15 0 15 158 15 0 15 0 15 65 15 0 15 181 15 0 15 0 15 255 15 0 15 100 15 0 15 0 15 127 15 148 15 0 15 0 15 171 15 0 15 9 15 0 15 30 15 0 15 0 15 0 15-26 15 0 15 0 15-17 15 0 15 0 15-37 15 0 15 1 15 0 15 0 15 0 15 33 15 0 15-1 15 7 15 0 15 0 15 0 15 0 15 19 15 0 15 0 15 0 15 2 15 0 15 0 15 0 15-9 15 0 15 0 15-15 15-17 15 0 15-3 15 0 15-3 15 0 15 0 15 4 15 0 15 0 15-23 15 0 15 0 15 0 15-17 15 0 15-1 15 0 15 0 15 0 15 0 15 11 15 0 15 14 15 0 15 0 15 0 15 4 15 0 15 0 15-5 15 0 15 2 15 0 15 0 15 13 15 0 15-8 15 0 15 0 15-5 15 0 15 0 15-7 15-9 15 0 15 0 15-4 15 0 15 0 15 0 15 6 15 5 15 0 15 0 15-17 15-9 15 0 15 0 15-5 15 0 15 0 15 0 15 3 15 0 15 0 15 1 15 15 15 0 15 0 15 0 15 0 15 4 15 0 15 0 15 6 15 0 15 0 15 0 15 3 15 0 15 0 15-3 15 0 15 0 15 3 15 0 15 0 15 21 15 0 15 15 15 0 15-1 15-3 15 8 15 0 15 5 15 1 15-3 15 0 15 0 15-4 15 0 15 0 15-8 15 0 15-5 15 0 15-3 15 0 15 0 15 8 15 0 15-2 15 0 15 1 15 2 15 1 15-1 15 0 15-4 15 0 15 0 15 0 15 0 15 6 15 0 15 0 15 0 15 0 15-8 15 0 15 0 15 0 15-8 15 0 15-7 15 0 15 0 15-14 15 0 15-8 15-9 15 0 15-5 15 0 15-13 15 0 15 0 15 0 15 0 15 40 15 0 15 0 15 0 15 0 15 179 15-39 15 0 15 0 15 279 15 0 15 99 15 89 15 0 15 0 15 230 15 0 15 0 15 0 15 36 15 0 15 0 15 0 15 0 15 16 15 0 15 6 15 0 15 0 15-19 15-21 15-31 15 0 15-5 15-7 15 0 15 10 15 23 15 32 15 0 15 35 15 0 15 0 15-64 15 0 15 0 15-164 15 0 15 0 15 0 15-12 15 0 15 0 15 10 15 0 15 0 15-1 15 0 15 0 15 40 15 0 15 0 15 129 15 0 15 19 15 0 15 0 15 67 15 0 15 0 15 21 15 0 15 0 15 0"/>
<path stroke="#77AC30" d="M740 428l15 43 15 0 15 48 15 0 15 34 15 0 15 0 15 107 15 0 15 0 15 0 15 0 15 214 15 0 15 0 15 0 15-31 15 8 15 0 15 0 15 123 15 0 15 0 15 19 15 0 15 0 15 160 15 0 15 319 15 0 15 0 15 0 15 142 15 0 15 71 15 0 15 101 15 0 15 118 15 122 15 0 15 0 15 14 15 19 15 0 15 6 15 0 15-4 15 0 15 0 15 0 15 0 15-12 15 0 15 0 15-17 15 0 15-2 15 10 15 0 15-5 15 0 15 0 15 0 15 0 15-3 15 0 15 4 15 6 15 0 15 0 15-12 15 0 15-2 15 0 15 0 15 0 15 0 15 17 15 17 15 0 15 0 15 5 15 0 15-6 15 0 15 0 15 0 15 0 15 0 15 5 15 0 15 0 15 15 15 0 15 0 15 0 15 0 15-2 15 0 15 0 15 0 15-3 15 0 15 9 15 0 15 0 15-24 15 0 15-16 15 0 15-9 15 0 15 3 15 0 15 0 15 0 15 0 15-16 15 0 15 0 15-6 15 0 15 0 15-11 15-3 15-9 15 0 15 0 15 4 15-4 15 0 15 0 15 0 15 17 15 0 15 0 15 0 15 20 15 0 15 5 15 0 15 0 15-5 15 1 15 0 15 0 15 0 15 0 15-8 15 0 15-8 15-12 15 0 15 0 15 7 15-3 15 0 15 0 15 3 15 0 15 2 15 0 15 0 15 20 15 0 15 0 15 0 15 0 15 1 15 0 15 0 15 0 15 0 15 2 15-8 15 0 15 0 15 0 15-1 15 0 15 3 15 0 15 0 15 0 15 10 15 0 15 0 15 0 15 0 15-1 15 0 15 0 15-11 15 0 15-20 15 0 15 0 15 0 15-17 15 0 15 0 15-7 15-13 15 0 15 0 15 0 15 0 15 9 15 0 15 11 15 0 15 0 15 0 15 0 15 29 15 0 15 14 15 0 15 0 15 4 15 0 15 0 15 0 15 0 15-7 15-3 15 0 15 0 15 0 15 0 15 393 15 0 15 0 15 0 15 251 15 0 15 108 15 0 15 0 15 212 15 0 15 0 15 0 15 74 15 0 15-6 15 0 15 0 15 0 15 0 15 37 15-21 15 0 15 0 15-144 15 0 15 0 15 0 15-83 15 0 15-65 15 0 15 0 15-17 15-140 15 0 15-66 15 0 15 0 15 49 15 0 15 90 15 0 15 32 15 0 15 0 15 0 15 56 15 0 15 0 15 55 15 8 15 0 15 81 15 0 15 0 15 110 15 0 15-21 15 0 15 0 15-61 15 0 15 0 15-17 15-131 15 0 15 0 15 0"/>
<path stroke="#4DBEEE" d="M740 548l15 11 15 16 15 43 15 64 15 59 15 48 15 35 15 30 15 44 15 56 15 43 15 15 15-1 15 5 15 8 15-2 15-11 15-7 15 8 15 43 15 73 15 118 15 106 15 80 15 78 15 99 15 98 15 80 15 70 15 100 15 61 15 26 15 1 15-8 15-9 15-5 15-3 15-2 15 0 15 0 15-3 15-4 15-2 15-4 15-7 15-7 15-2 15 3 15 0 15-10 15-10 15-3 15 2 15 0 15-3 15 2 15 5 15 2 15 1 15 6 15 4 15 0 15-3 15-4 15-6 15-7 15-9 15-9 15-2 15 1 15 3 15 3 15 1 15-3 15-6 15-5 15 2 15 5 15 2 15 1 15 3 15 1 15-3 15-2 15 5 15 10 15 10 15 6 15 1 15-1 15 1 15 4 15 5 15 3 15 4 15 2 15-4 15-10 15-9 15-6 15-2 15-5 15-6 15-3 15 1 15 5 15 5 15 1 15-5 15-9 15-6 15 3 15 7 15-2 15-6 15-1 15-1 15-4 15 4 15 5 15 3 15 2 15 0 15 1 15 4 15 1 15-5 15-4 15 1 15-1 15 0 15 3 15 0 15-5 15-6 15-4 15-1 15 1 15 7 15 9 15 2 15-1 15 4 15 7 15 4 15 1 15-1 15 0 15-1 15-4 15-3 15 0 15 5 15 6 15 8 15 7 15 5 15 6 15 10 15 11 15 5 15-6 15-8 15-3 15 2 15-1 15-4 15-1 15 2 15 1 15-4 15-4 15 0 15 2 15 5 15 6 15 5 15-1 15-5 15-7 15-7 15-5 15-2 15-1 15-1 15-2 15 1 15 0 15-2 15 1 15 3 15 4 15 1 15-1 15 2 15 3 15 1 15-2 15-2 15 0 15 4 15 1 15-2 15-2 15-3 15-4 15-4 15 0 15 0 15-1 15-2 15 0 15 1 15 0 15 0 15 1 15-1 15-1 15-4 15-4 15-3 15-3 15 4 15 3 15 0 15-2 15-2 15-5 15-4 15 8 15 10 15 6 15 1 15-1 15 2 15 52 15 74 15 77 15 70 15 69 15 71 15 66 15 61 15 64 15 70 15 75 15 75 15 62 15 38 15 28 15 44 15 31 15-3 15-24 15-13 15-13 15-29 15-29 15-23 15-25 15-48 15-40 15-41 15-32 15-20 15-23 15-41 15-52 15-47 15-18 15 3 15 1 15 6 15 19 15 3 15-40 15-37 15-19 15-13 15-12 15-3 15 4 15 5 15 7 15 12 15 25 15 24 15 16 15 24 15 57 15 79 15 64 15 29 15 17 15 25 15 18 15 6 15-5 15 4 15 3"/>
<path stroke="#A2142F" d="M740 347l15 0 15 50 15 0 15 0 15-12 15 0 15 95 15 0 15 0 15 125 15 0 15 0 15 0 15 172 15 0 15 0 15 0 15 133 15 0 15 12 15 15 15 0 15 0 15 0 15 0 15 85 15 0 15 0 15 96 15 378 15 0 15 0 15 0 15 0 15 245 15-2 15 24 15 0 15 0 15 99 15 184 15 0 15 0 15 0 15 0 15-2 15 0 15 0 15 0 15-10 15 0 15 0 15 2 15 0 15 0 15 0 15 11 15 0 15 0 15 0 15-6 15 0 15 3 15 0 15 0 15-15 15 0 15-9 15-4 15-6 15 0 15 0 15-14 15 0 15 3 15 0 15 4 15-2 15 0 15 7 15 0 15 9 15-3 15 0 15-2 15 1 15 0 15-5 15 0 15 7 15 0 15 0 15-7 15-6 15 0 15-3 15-2 15 0 15 7 15 0 15-4 15 0 15-2 15-6 15 0 15-1 15 30 15 0 15 0 15 0 15 27 15 0 15 0 15 0 15 0 15-27 15 0 15-17 15-9 15 2 15 0 15 0 15-15 15 0 15 0 15 0 15 0 15 6 15 0 15 0 15-12 15 0 15 0 15 8 15 18 15 0 15 9 15 0 15-4 15 0 15 0 15-2 15 0 15 0 15-10 15 0 15 0 15 9 15 0 15 0 15 16 15 0 15-11 15 0 15-15 15 0 15 0 15 0 15 1 15 1 15 0 15 0 15 0 15 15 15 0 15 0 15 0 15-4 15 0 15-6 15 0 15 0 15 0 15-7 15 0 15 0 15 0 15 0 15-2 15 0 15-1 15-1 15 5 15 0 15 0 15 9 15 0 15 0 15-4 15 0 15 5 15 0 15-1 15 0 15 0 15 0 15 0 15 12 15 4 15-1 15 0 15 0 15-7 15 0 15 2 15 0 15 0 15-1 15 6 15 0 15 12 15 0 15-1 15 0 15 6 15 0 15 0 15 3 15 0 15 0 15-5 15 0 15 0 15 0 15 4 15 0 15 0 15 135 15 0 15 0 15 0 15 219 15 0 15 0 15 64 15 0 15 0 15 0 15 0 15 226 15 0 15 0 15 156 15 116 15 0 15 0 15 81 15 0 15 9 15 0 15-17 15 0 15 0 15 0 15-85 15 0 15 0 15-53 15-37 15 0 15 0 15-12 15 0 15-7 15 0 15-73 15 0 15 0 15 0 15 0 15-15 15 64 15 0 15 0 15 0 15 0 15 25 15 0 15 0 15 0 15 0 15 38 15 21 15 0 15 0 15 0 15 0 15 38 15 0 15 0 15 21 15 0 15 0 15 28 15 0 15 0 15-24 15 0 15 0 15-35"/>
<path stroke="#0072BD" d="M740 895l15 0 15 28 15 0 15 11 15 43 15 0 15 0 15 0 15 82 15 54 15 0 15 0 15 164 15 0 15 0 15 0 15 319 15 0 15 0 15 0 15 0 15 183 15 15 15 113 15 0 15 170 15 0 15 0 15 0 15 5 15 0 15 8 15 0 15 0 15-7 15 0 15 0 15-15 15 0 15 0 15-3 15 0 15 9 15 8 15 0 15-19 15 0 15 0 15 0 15-20 15 0 15-6 15 0 15 0 15 0 15 0 15 0 15-14 15 0 15-1 15 0 15 0 15 0 15-3 15 0 15 11 15 0 15 0 15 0 15 0 15 20 15 0 15 0 15 0 15 0 15 5 15 0 15-6 15-4 15 0 15 0 15-6 15 0 15 0 15 0 15-9 15 0 15 0 15-14 15 0 15-8 15 0 15 0 15 0 15 3 15 0 15 0 15 0 15 0 15 16 15-2 15 10 15 0 15 0 15 0 15 0 15 14 15 0 15-1 15 0 15 0 15 0 15 0 15-13 15 0 15-3 15 0 15-2 15 0 15 0 15 0 15 0 15 18 15 0 15-1 15 0 15-2 15-1 15-2 15 0 15-2 15-13 15 0 15 0 15 7 15 0 15 0 15 0 15 11 15 0 15 0 15 3 15 0 15 0 15 0 15 0 15 0 15-2 15-2 15-1 15 0 15 0 15-4 15 0 15 0 15 0 15 0 15 1 15 0 15-4 15 0 15 0 15-7 15 5 15 16 15 0 15 10 15 0 15 0 15 0 15 0 15 23 15 0 15 6 15-10 15 0 15 0 15 0 15 0 15-14 15 0 15-14 15 0 15 0 15-3 15 0 15 0 15 0 15-4 15-1 15 0 15-1 15 0 15 0 15 0 15-10 15 0 15 0 15-10 15 0 15 0 15-2 15-3 15 0 15-1 15-7 15 0 15 0 15-8 15 0 15 0 15 4 15 10 15 8 15 5 15 8 15 0 15-16 15 0 15 0 15 0 15 0 15 11 15 0 15 0 15-7 15 0 15 0 15 41 15 0 15 124 15 0 15 0 15 199 15 180 15 0 15 0 15 143 15-30 15 0 15 0 15-1 15 0 15 179 15 0 15 0 15 121 15 88 15 0 15 96 15 0 15 60 15 0 15 0 15 0 15-57 15 0 15-27 15-17 15 0 15 0 15 0 15 16 15 0 15 0 15-38 15-56 15-84 15 0 15 0 15-32 15 0 15-10 15 0 15 0 15-46 15 3 15 0 15 36 15 0 15-2 15 0 15 18 15 0 15-13 15 0 15 0 15 60 15 0 15 66 15 0 15 0 15 30 15 0 15 0 15 0 15-11 15-17 15 0 15 0"/>
<path stroke="#D95319" d="M740 881l15 0 15 18 15 6 15 0 15 0 15 89 15 0 15 26 15 0 15 0 15 268 15 0 15 0 15 0 15 115 15 0 15 0 15 0 15 0 15 278 15 0 15 0 15 0 15 0 15 291 15 0 15 0 15 0 15 35 15 9 15 16 15 0 15 0 15 20 15 0 15 0 15 12 15-4 15 0 15 34 15 0 15 0 15 0 15-31 15 0 15 0 15 0 15-17 15 0 15-22 15 0 15-9 15 22 15 0 15 3 15 0 15-14 15-3 15 0 15 0 15 0 15 0 15 11 15 0 15 3 15-3 15 0 15-16 15 0 15-23 15 0 15 0 15 6 15 0 15-31 15 0 15 0 15 0 15 0 15-20 15 0 15 0 15-28 15 0 15-27 15 0 15 0 15 0 15 56 15 0 15 0 15 12 15 10 15 0 15-15 15 0 15 0 15 7 15 0 15 24 15 10 15-17 15 0 15 0 15 0 15 0 15 49 15 0 15 0 15 0 15-4 15 0 15-7 15 0 15-17 15 0 15 0 15 1 15 0 15 0 15 0 15 0 15-4 15 5 15 0 15-8 15 7 15 0 15 0 15 18 15 0 15 0 15 25 15 0 15-23 15 0 15-3 15 0 15 1 15 4 15 0 15 0 15 24 15 0 15 0 15 17 15 0 15 0 15-15 15 0 15 0 15 6 15 0 15 0 15-7 15 0 15 0 15 0 15 0 15 3 15 0 15 0 15 9 15 21 15 0 15 28 15 0 15 0 15 0 15 0 15-12 15 0 15 0 15 0 15-14 15 0 15 0 15-5 15 0 15 0 15 0 15 0 15-32 15 0 15-11 15-14 15 0 15 0 15 19 15 0 15 7 15 0 15 0 15-6 15-3 15 0 15 0 15 0 15 0 15-10 15 0 15 0 15-1 15 0 15-3 15 19 15 0 15 0 15 0 15 18 15 0 15 0 15 0 15 0 15-32 15 0 15-35 15 0 15 0 15 0 15 0 15 7 15 2 15 0 15 0 15 0 15 0 15 0 15-14 15 0 15 158 15 0 15 199 15 0 15 0 15 173 15 0 15 0 15 0 15 280 15 0 15 0 15 0 15 0 15 41 15 0 15 0 15-28 15 0 15 11 15 0 15 0 15 0 15 0 15-8 15 0 15-21 15 0 15 0 15 2 15 0 15-6 15 12 15 0 15-8 15 0 15 0 15-66 15-24 15-100 15 0 15 0 15 17 15 0 15-24 15 0 15 0 15 0 15 101 15 0 15 0 15 0 15 40 15 0 15 0 15 0 15 80 15 0 15 0 15 14 15 0 15 56 15 65 15 0 15 0 15 0 15 0 15 10 15-2 15 0"/>
<path stroke="#EDB120" d="M740 470l15 0 15 0 15 0 15 0 15 134 15 0 15 0 15-4 15 0 15 0 15 0 15 0 15 79 15 0 15 31 15 0 15 175 15 0 15 0 15 0 15 106 15 74 15 0 15 0 15 127 15 0 15 73 15 0 15 0 15 136 15 0 15 0 15 164 15 0 15 246 15 0 15 0 15 0 15 170 15 0 15 0 15 0 15 0 15 138 15 0 15 0 15-20 15 0 15 0 15 6 15-31 15 0 15 0 15 0 15 4 15 0 15-18 15 0 15 0 15 75 15 0 15 0 15 9 15 0 15 0 15 0 15-22 15 0 15 0 15-31 15 0 15-2 15 0 15 36 15 0 15 0 15 0 15 41 15 0 15 0 15 7 15 7 15 0 15-42 15 0 15-18 15-40 15 0 15-49 15 0 15 0 15 0 15 0 15-2 15 0 15 0 15-10 15-10 15 0 15-28 15 0 15 0 15 11 15-17 15 0 15 0 15 0 15 18 15 14 15 9 15-4 15 0 15-30 15 0 15-4 15 0 15 17 15 0 15 0 15 23 15 0 15 2 15 0 15 14 15 0 15 0 15-1 15 0 15-7 15 0 15 7 15 0 15 0 15-15 15 0 15-2 15 3 15 7 15 0 15 0 15 30 15 0 15 0 15-14 15 0 15 0 15-5 15 10 15-10 15 0 15-6 15-31 15 0 15 0 15 0 15 0 15-14 15 0 15 0 15 12 15 0 15 0 15 0 15-10 15-21 15 0 15 0 15 0 15 0 15-4 15-6 15 2 15 0 15-3 15 0 15 0 15 0 15 0 15-10 15 0 15 0 15-6 15 38 15 0 15 0 15 0 15 0 15 5 15 0 15 0 15 12 15 0 15 0 15-13 15-7 15-9 15-8 15 0 15 0 15 0 15 0 15-11 15 0 15 0 15-5 15 0 15 0 15 0 15-2 15-1 15 0 15 0 15-17 15 0 15 0 15 18 15 0 15-10 15 0 15 0 15 0 15-19 15 0 15 0 15 0 15-14 15 0 15 0 15 0 15 0 15 103 15 0 15 0 15 221 15 0 15 0 15 173 15 0 15 65 15 126 15 0 15 0 15 0 15 0 15 262 15 0 15 0 15 0 15-7 15 0 15-23 15 0 15 31 15 0 15 0 15 44 15 0 15 0 15 0 15 0 15 0 15-61 15 0 15 0 15-33 15 0 15-64 15 0 15 0 15-137 15 0 15 0 15-72 15 0 15 14 15 0 15 0 15 7 15 0 15 33 15 0 15 0 15 78 15 0 15 0 15 57 15 0 15 0 15 170 15 0 15 0 15 0 15 70 15 0 15 0 15 0 15 0 15-26 15 0 15 0"/>
<path stroke="#7E2F8E" d="M740 1062l15 2 15 3 15 7 15 11 15 27 15 40 15 34 15 55 15 83 15 118 15 138 15 121 15 82 15 57 15 61 15 70 15 44 15-2 15-10 15 16 15 26 15 8 15 14 15 0 15-1 15 2 15-1 15-1 15-3 15-8 15-12 15-8 15-3 15-1 15-5 15-4 15 3 15 5 15 1 15-2 15-3 15-3 15-2 15 0 15-2 15-4 15-3 15-1 15 3 15 9 15 7 15 2 15 3 15 6 15 5 15 5 15 2 15-5 15-7 15-3 15-2 15-1 15 0 15-3 15 1 15 6 15 3 15 1 15 1 15 3 15 4 15 2 15 2 15 5 15 6 15 5 15 1 15-1 15-5 15-7 15-5 15 1 15 3 15-5 15-9 15-6 15-5 15-5 15-1 15 1 15 2 15 6 15 9 15 4 15-3 15-9 15-9 15-11 15-9 15-1 15 8 15 14 15 13 15 7 15 2 15 0 15-3 15-7 15-3 15 2 15 6 15 6 15 4 15 4 15 6 15 4 15 4 15-4 15 4 15 0 15 0 15 2 15-2 15-8 15-9 15-5 15-2 15 0 15-1 15 0 15-1 15 1 15 2 15 0 15 1 15 0 15-1 15 3 15 10 15 8 15 2 15-3 15-1 15 0 15-2 15-6 15-8 15-7 15-5 15-4 15-7 15-8 15-2 15 2 15 3 15 0 15-4 15-2 15 1 15 0 15-2 15 1 15 6 15 7 15 6 15 3 15 0 15-4 15-6 15-5 15-1 15 0 15-2 15-1 15 0 15 1 15 1 15-1 15-5 15-5 15-3 15 0 15 2 15 3 15 3 15 1 15 1 15 2 15 5 15 2 15 0 15-1 15-2 15-4 15-3 15-5 15-5 15-5 15-4 15-3 15-2 15-3 15-2 15-4 15-7 15-5 15 0 15 6 15 7 15 1 15-4 15-3 15 2 15 4 15 5 15 0 15-5 15-10 15-8 15-6 15-3 15 0 15 0 15-3 15-6 15 3 15 7 15 3 15 2 15 9 15 63 15 95 15 66 15 40 15 42 15 65 15 83 15 99 15 96 15 64 15 36 15 38 15 54 15 67 15 76 15 34 15 22 15 9 15 6 15-3 15-5 15 2 15 13 15 13 15 10 15 7 15-13 15-20 15-13 15 12 15 19 15-7 15-53 15-54 15-35 15-19 15-11 15-10 15-11 15-28 15-63 15-57 15-21 15-11 15-9 15-10 15-16 15-19 15-5 15 13 15 18 15 24 15 30 15 20 15 8 15 7 15 29 15 53 15 55 15 52 15 52 15 51 15 20 15 8 15 0 15-8 15-20 15-35 15-29 15-22"/>
<path stroke="#77AC30" d="M740 553l15 0 15 0 15 0 15 0 15 43 15 0 15 0 15 62 15 0 15 0 15 230 15 0 15 0 15 0 15 77 15 73 15 0 15 0 15 0 15 0 15 67 15 0 15 0 15 0 15 0 15 190 15 89 15 0 15 0 15 0 15 416 15 0 15 217 15 0 15 0 15 0 15 47 15 0 15 0 15 0 15 0 15-13 15 0 15 0 15-36 15 0 15 0 15 0 15 0 15 14 15 0 15 0 15-10 15-9 15 0 15 9 15 0 15 0 15 1 15 0 15 0 15 0 15 0 15-27 15 0 15 0 15 0 15 0 15-29 15 0 15-8 15 0 15 0 15 0 15 0 15 12 15 0 15 0 15-1 15 9 15 0 15 0 15 2 15 3 15 6 15-1 15 0 15-5 15 7 15 0 15 7 15 2 15 0 15 0 15 5 15 1 15 0 15 0 15 0 15 14 15 0 15 0 15 0 15 6 15 13 15 0 15 0 15 0 15 0 15 0 15-10 15 0 15 0 15-11 15 0 15 0 15 0 15-8 15 0 15 0 15-1 15 0 15 0 15 0 15 0 15 21 15 0 15 0 15 0 15 5 15 0 15 0 15 0 15 0 15-11 15-2 15 0 15 0 15 6 15 0 15-6 15 0 15 0 15 0 15 0 15-1 15 0 15-12 15-18 15 0 15 0 15 0 15 0 15 2 15 8 15 0 15 0 15-21 15 0 15 2 15 0 15 0 15 0 15 7 15 3 15 0 15 0 15 0 15-4 15 0 15-6 15 0 15-10 15-6 15-4 15 0 15 2 15 0 15 3 15 0 15 4 15 0 15 0 15 0 15 0 15 10 15 0 15 8 15 0 15 0 15-3 15 0 15 1 15 0 15 0 15 9 15 0 15 0 15-5 15 0 15-9 15-17 15 0 15-1 15 0 15 0 15 2 15 0 15 0 15 9 15 2 15 5 15 0 15 0 15 0 15 12 15 18 15 0 15 0 15 1 15 0 15 8 15 0 15 0 15 7 15-1 15-10 15 0 15 17 15 0 15 0 15 0 15 154 15 92 15 0 15 0 15 0 15 0 15 182 15 0 15 0 15 0 15 0 15 101 15 42 15 99 15 0 15 0 15 230 15 0 15 0 15 1 15 0 15 0 15 7 15 0 15 0 15-62 15 0 15 0 15 0 15-43 15-65 15 0 15 0 15-58 15 0 15 0 15 0 15-19 15 0 15 0 15 0 15 0 15 96 15 0 15 0 15 0 15 5 15 0 15 0 15 0 15 0 15 146 15 0 15 39 15 0 15 0 15 15 15 0 15 0 15 0 15 0 15 103 15 0 15 0 15 0 15 0 15-136 15 0"/>
<path stroke="#4DBEEE" d="M740 825l15 0 15 33 15 0 15 130 15 0 15 0 15 148 15 0 15 9 15 0 15 8 15 35 15 0 15 0 15 25 15 95 15 0 15 0 15 0 15 253 15 0 15 0 15 423 15 0 15 138 15 0 15 0 15 0 15 23 15 0 15 0 15-6 15 0 15 0 15 0 15-6 15-47 15 0 15 0 15 0 15 0 15-33 15-12 15 0 15 0 15 0 15 0 15-14 15 19 15 0 15-1 15 0 15 2 15 12 15 0 15 0 15 0 15 0 15-10 15 0 15-8 15 0 15 0 15 0 15 0 15 8 15 5 15 13 15 0 15 10 15 0 15-30 15 0 15 0 15 0 15 0 15 21 15 7 15 8 15 0 15-11 15 0 15 0 15 0 15 4 15 0 15 0 15 0 15-4 15 0 15-3 15 0 15-3 15-6 15 0 15 0 15 19 15 0 15 0 15 0 15 26 15 20 15 0 15 1 15 0 15 0 15-10 15 0 15 0 15-28 15 0 15 0 15-8 15 0 15-6 15 0 15 0 15 3 15-5 15 0 15 0 15 6 15 0 15 0 15-7 15-2 15 0 15 0 15 2 15 0 15 0 15 0 15 0 15-4 15 0 15 0 15-9 15 0 15 0 15-6 15 0 15 9 15 0 15 0 15 4 15 0 15 2 15 0 15 0 15-7 15 0 15 1 15 0 15-5 15 0 15 0 15 0 15 0 15 7 15 0 15 1 15-4 15 0 15 6 15 0 15 0 15-6 15 0 15 0 15-5 15 0 15-1 15 1 15 0 15 0 15 0 15-1 15 3 15 0 15-9 15 0 15 0 15-14 15 0 15 0 15 0 15 0 15-5 15 0 15-13 15 0 15 0 15 11 15 0 15 0 15-4 15 0 15 0 15 1 15 13 15 0 15 0 15-2 15 0 15-4 15-5 15 0 15 0 15 1 15 0 15 0 15 2 15 0 15 0 15 0 15 16 15 0 15 0 15 0 15-3 15 2 15 25 15 0 15 0 15 0 15 119 15 0 15 0 15 113 15 242 15 0 15 0 15 0 15 342 15 0 15 0 15 0 15 130 15 0 15 0 15 161 15 0 15 0 15 0 15 68 15 0 15 0 15 0 15 0 15-11 15 0 15 0 15 0 15-16 15-84 15 0 15 0 15 0 15 0 15-140 15 0 15-98 15 0 15 0 15 0 15-36 15 0 15 0 15 0 15-59 15 0 15-24 15 0 15-4 15 66 15 0 15 0 15 0 15 0 15 157 15 52 15 0 15 0 15 11 15-11 15 0 15-11 15 0 15 2 15-4 15 0 15 0 15 0 15 0 15-90 15 0 15 0 15-70 15 0 15-20"/>
<path stroke="#A2142F" d="M740 695l15 0 15-7 15 1 15 23 15 32 15 21 15 0 15 0 15 0 15-16 15 0 15 33 15 0 15 0 15 142 15 0 15 0 15 123 15 0 15 148 15 0 15 0 15 0 15 192 15 76 15-54 15 0 15 13 15 0 15 317 15 0 15 0 15 0 15 0 15 154 15 0 15 0 15 0 15 0 15 153 15 11 15 0 15-4 15 0 15 0 15 0 15 0 15-18 15 0 15-13 15 0 15 0 15-7 15-7 15 0 15 0 15 10 15 0 15 0 15 17 15 0 15 23 15 0 15 0 15 0 15 0 15-9 15 0 15 0 15-40 15 0 15 0 15-9 15 0 15 0 15 0 15 0 15 5 15 10 15 0 15 0 15 0 15 0 15-3 15 0 15 0 15 16 15 0 15 5 15 4 15 5 15 2 15 0 15 0 15-8 15 0 15 0 15 0 15 0 15-9 15-24 15 0 15 0 15 0 15-6 15 0 15 0 15-9 15 0 15 0 15 16 15 0 15 0 15 8 15 0 15 0 15-14 15 0 15 0 15 4 15 11 15 0 15 7 15 0 15 1 15 3 15 0 15 0 15 0 15 0 15 5 15-2 15 0 15 0 15-5 15-12 15 0 15 0 15 0 15 1 15-1 15 0 15 0 15 16 15 0 15 0 15 0 15 0 15 0 15-6 15 0 15 0 15-3 15 0 15-1 15 0 15 0 15-4 15 1 15 7 15 0 15 0 15 17 15 14 15 0 15 0 15 0 15 3 15 0 15 0 15-4 15-10 15 0 15 0 15 1 15 0 15-4 15 5 15 0 15 4 15 0 15 0 15 12 15 0 15-16 15 0 15 0 15 0 15 0 15-33 15 0 15 2 15 0 15 0 15 9 15 0 15-13 15 0 15 0 15-9 15 0 15 0 15-3 15-5 15 0 15 0 15 0 15 23 15 0 15 0 15 0 15 0 15 0 15 0 15 7 15 0 15 0 15 0 15 6 15 0 15 6 15 0 15 0 15 0 15 0 15-21 15 0 15 11 15 0 15 177 15 0 15 52 15 30 15 0 15 0 15 270 15 0 15 0 15 0 15 69 15 113 15 0 15 118 15 0 15 0 15 163 15 0 15 0 15 32 15 3 15 0 15 0 15 51 15 0 15 0 15 19 15 0 15 0 15 0 15-65 15-78 15 0 15 0 15-187 15 0 15 0 15 0 15-156 15-29 15-13 15 0 15 0 15-47 15 0 15 0 15 0 15 0 15 0 15 54 15 0 15 0 15 0 15 0 15 140 15 0 15 0 15 133 15 0 15 0 15 100 15 4 15 0 15 0 15 0 15 25 15 0 15 0 15 0 15 0 15-103"/>
<path stroke="#0072BD" d="M740 452l15-8 15-14 15-9 15 3 15 10 15 7 15 11 15 22 15 26 15 14 15 13 15 30 15 50 15 58 15 54 15 46 15 47 15 51 15 47 15 28 15 17 15 16 15 17 15 19 15 17 15 21 15 44 15 44 15 66 15 113 15 113 15 78 15 54 15 77 15 102 15 97 15 57 15 42 15 53 15 20 15 10 15 5 15 12 15 8 15 0 15 5 15 5 15 1 15-1 15 0 15 0 15 5 15 5 15 2 15-4 15-11 15-13 15-4 15-3 15-9 15-11 15-6 15-3 15-3 15-2 15 2 15 2 15 1 15 3 15 4 15 1 15-1 15-2 15 2 15-1 15-6 15-4 15 1 15 6 15 5 15 1 15-3 15-4 15-2 15-2 15-1 15 3 15 2 15-1 15-3 15-2 15-2 15 0 15 3 15 3 15 0 15 4 15 8 15 6 15 0 15-4 15-3 15-3 15-3 15-3 15-3 15-1 15 4 15 2 15-3 15-5 15-5 15 2 15 4 15 2 15-2 15-3 15-5 15-2 15-1 15 3 15 5 15 3 15-2 15-5 15-4 15-2 15 0 15 3 15 4 15 2 15 0 15 2 15 5 15-1 15-5 15-7 15-11 15-12 15-4 15 2 15 3 15 3 15-1 15-2 15 3 15 3 15-3 15-2 15 0 15 0 15 0 15 5 15 8 15 7 15 6 15 1 15-1 15 1 15 0 15-4 15-4 15-4 15-3 15-1 15 3 15 3 15 2 15 1 15 3 15 7 15 6 15 6 15 4 15-1 15-4 15-2 15 0 15-2 15-7 15-4 15-1 15-4 15-9 15-7 15-3 15 0 15 3 15 6 15 5 15 4 15 3 15 5 15 7 15 5 15 2 15 2 15 1 15-2 15 0 15 2 15 4 15 3 15 1 15-2 15-1 15-1 15-2 15 1 15 4 15 5 15 3 15 3 15 5 15 6 15 4 15-1 15 0 15-1 15 7 15 9 15 6 15 1 15-3 15-1 15-1 15-5 15-13 15-10 15-5 15 1 15 9 15 59 15 53 15 9 15 17 15 62 15 80 15 61 15 46 15 39 15 47 15 75 15 98 15 89 15 62 15 35 15 36 15 55 15 26 15 11 15-9 15-22 15-25 15-14 15 3 15 10 15 5 15 2 15-2 15-23 15-36 15-28 15-15 15 1 15 10 15 3 15-3 15 0 15-1 15-15 15-27 15-32 15-23 15-10 15-7 15-32 15-34 15-17 15 0 15-6 15-26 15-17 15 2 15 11 15 9 15 14 15 26 15 25 15 11 15 3 15 34 15 64 15 18 15 7 15-6 15-14 15-31 15-31 15-18"/>
<path stroke="#D95319" d="M740 827l15 0 15 0 15 46 15 58 15 0 15 0 15 137 15 0 15 0 15 0 15 174 15 0 15 211 15 0 15 137 15-3 15 0 15 0 15 0 15 0 15 218 15 67 15 111 15 0 15 0 15 0 15 109 15 0 15 0 15 8 15-6 15 0 15 0 15 0 15-12 15 0 15-10 15 0 15 2 15 0 15 0 15 0 15 0 15 18 15 6 15 0 15 0 15-16 15 0 15 0 15 13 15 0 15 0 15-7 15 2 15 0 15-5 15 0 15 0 15-10 15 0 15-6 15-17 15 0 15 0 15 0 15-6 15 0 15 10 15 0 15 0 15 0 15 8 15 0 15 0 15 0 15-4 15-4 15 0 15-2 15 4 15 6 15-7 15 0 15 0 15-10 15 3 15 7 15 5 15 1 15-2 15 0 15-5 15-1 15 0 15-6 15 0 15 2 15 0 15 15 15 0 15 0 15 0 15 14 15 0 15 0 15 0 15-18 15 0 15 0 15 0 15 0 15-14 15 0 15 0 15 0 15 3 15 0 15 2 15 0 15 0 15 9 15 0 15 0 15 0 15 0 15 11 15 0 15-7 15 0 15 0 15 12 15 0 15-9 15 0 15-6 15 0 15 0 15-1 15 0 15 0 15 13 15 0 15 10 15 0 15 0 15 0 15 4 15 0 15 0 15 0 15-3 15-10 15 0 15 0 15 0 15-2 15 0 15 0 15 0 15 0 15 0 15 3 15 0 15 0 15 0 15 0 15-9 15-4 15 0 15-8 15 0 15 0 15-4 15 0 15 0 15-8 15 7 15 0 15 3 15 2 15 0 15-2 15 0 15-2 15 0 15-2 15-1 15 0 15 0 15 4 15 0 15 0 15 0 15 2 15 0 15 0 15 3 15 0 15 0 15 0 15 0 15 0 15 0 15 0 15-3 15 1 15 0 15 0 15 0 15 0 15 8 15 0 15 0 15 1 15 0 15 0 15-1 15 0 15 0 15 0 15 0 15-36 15 0 15-10 15 0 15-2 15 7 15 0 15 0 15 13 15 0 15 0 15 134 15 0 15 0 15 0 15 113 15 0 15 0 15 148 15 135 15 0 15 0 15 42 15 274 15 0 15 0 15 0 15 67 15 0 15 106 15 0 15 0 15 0 15 10 15 7 15-17 15 0 15 0 15 0 15 34 15 37 15 0 15 0 15 0 15 0 15-57 15-17 15-8 15 0 15 0 15-8 15 0 15 0 15-97 15 0 15 0 15 0 15 0 15-83 15 0 15 8 15 0 15 0 15 15 15-31 15 0 15-8 15 0 15 38 15 0 15 60 15 0 15 0 15 0 15 111 15 0 15 36 15 0"/>
<path stroke="#EDB120" d="M740 723l15 12 15 5 15 0 15 2 15 9 15 19 15 30 15 26 15 28 15 63 15 78 15 57 15 24 15 17 15 46 15 65 15 102 15 82 15 40 15 25 15 56 15 106 15 120 15 101 15 76 15 56 15 37 15 16 15 17 15 23 15 12 15 4 15-4 15-10 15-8 15-2 15 3 15 4 15 0 15-5 15-8 15-10 15-8 15-4 15 0 15 0 15-5 15-8 15 1 15 13 15 15 15 7 15 4 15 9 15 11 15 7 15 2 15 2 15 3 15 2 15-2 15-8 15-4 15 1 15 3 15 6 15 9 15 7 15 2 15-2 15-2 15 0 15 4 15 0 15-7 15-7 15-3 15-1 15-2 15-1 15-1 15-2 15-5 15-7 15-3 15-5 15-9 15-6 15-1 15-1 15 2 15 5 15 1 15-8 15-13 15-14 15-8 15-2 15-2 15-2 15 1 15 5 15 4 15 5 15 8 15 12 15 8 15 3 15 4 15 7 15 8 15 7 15 6 15 3 15 2 15 6 15 9 15 0 15 3 15 4 15 2 15-3 15 0 15 5 15 7 15 4 15 5 15 6 15 4 15 4 15 3 15-3 15-6 15-7 15-9 15-12 15-10 15-12 15-15 15-14 15-8 15-4 15 0 15-1 15-4 15-1 15 3 15 1 15 2 15 5 15 4 15-1 15 0 15 0 15 1 15 0 15-3 15-7 15-7 15-4 15-1 15 1 15 3 15-1 15-5 15-6 15-2 15 0 15-1 15-4 15-4 15 0 15 4 15 3 15 0 15 4 15 5 15 1 15-3 15-3 15 0 15 1 15 0 15-3 15-2 15 2 15 4 15 3 15-1 15-4 15-7 15-3 15 3 15 4 15 1 15 3 15 6 15 10 15 10 15 6 15-1 15-4 15-1 15 1 15 1 15-2 15 0 15-2 15-1 15 1 15 3 15 4 15 5 15-3 15-6 15-9 15-3 15 13 15 53 15 58 15 35 15 32 15 43 15 61 15 76 15 74 15 51 15 44 15 65 15 83 15 77 15 61 15 37 15 20 15 16 15 33 15 88 15 84 15 17 15 10 15 16 15 22 15 19 15 14 15 7 15-2 15-11 15-20 15-24 15-38 15-54 15-58 15-43 15-36 15-44 15-55 15-51 15-31 15-15 15-22 15-31 15-22 15 27 15 38 15 38 15 30 15 14 15 2 15 15 15 27 15 9 15 2 15 15 15 25 15 31 15 28 15 19 15 12 15 18 15 25 15 8 15 9 15 11 15 6 15-2 15-4 15 5 15 4 15-9 15-15 15 9 15 30 15 37 15 31 15 6 15-13 15-9 15-3 15-12 15-21"/>
<path stroke="#7E2F8E" d="M740 625l15 61 15 54 15 44 15 41 15 36 15 27 15 26 15 32 15 37 15 40 15 35 15 24 15 28 15 29 15 26 15 23 15 18 15 14 15 14 15 33 15 52 15 107 15 130 15 141 15 85 15 10 15 0 15 38 15 67 15 58 15 57 15 63 15 31 15 33 15 13 15 13 15 8 15 0 15-5 15-5 15-1 15 7 15 0 15-18 15-30 15-30 15-25 15-19 15-6 15 3 15 2 15 5 15 13 15 12 15-2 15-16 15-18 15-2 15 18 15 24 15 11 15 3 15 7 15 4 15 2 15 8 15 10 15 0 15-24 15-38 15-26 15-5 15 5 15 4 15-2 15-4 15 0 15 6 15 10 15 17 15 17 15 19 15 16 15 2 15-5 15-6 15-6 15-5 15-2 15 6 15 12 15 12 15 4 15-4 15 1 15 8 15 11 15 1 15-19 15-23 15-2 15 17 15 13 15 2 15 2 15-3 15-18 15-20 15-6 15 3 15-2 15-5 15 3 15 7 15 1 15-4 15 0 15 0 15-2 15-4 15 0 15 2 15 4 15 7 15 9 15 3 15-3 15 1 15 5 15 6 15 5 15 6 15 9 15 12 15 11 15 3 15-9 15-13 15-4 15 6 15-1 15-11 15-10 15-8 15-8 15-12 15-16 15-13 15-4 15 6 15 5 15 2 15 1 15-6 15-12 15-11 15-15 15-15 15-3 15 4 15 3 15 2 15 1 15 1 15-2 15 1 15 6 15 5 15 4 15 1 15-1 15 0 15 3 15 3 15 0 15 0 15 6 15 7 15 5 15 8 15 7 15-3 15-10 15-10 15-8 15-11 15-9 15-1 15-2 15-9 15-11 15-7 15-3 15 0 15 0 15 5 15 5 15-2 15-5 15-2 15-1 15 4 15 10 15 10 15 7 15-3 15-11 15-8 15-3 15-4 15-2 15 3 15 7 15 10 15 14 15 14 15 10 15 1 15-2 15 2 15 14 15 11 15 30 15 91 15 91 15 77 15 65 15 67 15 69 15 49 15 32 15 45 15 70 15 77 15 58 15 34 15 28 15 33 15 3 15 7 15-3 15 11 15 18 15 12 15 0 15-5 15-11 15-12 15 0 15 23 15 33 15 26 15 16 15-10 15-22 15-36 15-30 15-16 15-34 15-73 15-70 15-47 15-47 15-34 15-6 15 11 15 15 15 10 15 10 15 30 15 54 15 45 15 24 15 10 15 26 15 58 15 64 15 43 15 20 15 12 15 9 15 1 15-4 15-7 15-13 15-14 15-27 15-34 15-7 15 10 15-5 15-32 15-38 15-15 15 4 15 8 15-6 15-18 15-16 15-4"/>
<path stroke="#77AC30" d="M740 427l15 0 15 49 15 123 15 0 15 0 15 0 15 160 15 0 15 0 15 0 15 36 15 0 15 13 15 0 15 0 15 28 15 0 15 0 15 8 15 0 15 0 15 58 15 33 15 0 15 27 15 0 15 0 15 0 15 0 15 108 15 20 15 0 15 0 15 128 15 0 15 0 15 0 15 0 15 124 15 173 15 0 15 0 15 258 15 0 15 225 15 0 15 0 15 0 15 0 15 81 15 0 15-1 15 12 15 0 15 0 15 0 15 0 15-7 15 0 15 7 15 0 15 0 15 0 15 0 15-8 15 0 15 0 15-9 15 0 15 0 15 0 15-11 15 0 15 0 15-21 15 0 15 0 15-18 15 0 15 11 15 0 15 0 15 0 15 0 15-5 15 0 15 0 15 0 15 4 15 5 15-2 15 0 15 0 15 0 15 0 15 13 15 0 15 9 15 0 15 0 15 0 15 0 15 0 15 0 15 0 15 1 15 0 15 0 15-4 15 0 15-3 15-3 15-6 15 0 15-11 15 0 15 0 15 0 15 0 15-9 15 0 15-4 15 0 15 17 15 0 15 0 15 0 15 0 15-22 15 0 15 0 15 0 15 0 15-13 15 5 15 0 15-1 15 0 15 0 15 0 15 12 15 2 15 0 15 5 15 0 15 7 15 0 15 0 15 0 15 0 15-13 15 0 15 0 15-7 15 0 15 0 15 1 15-10 15 0 15 0 15-2 15 0 15 0 15 0 15 17 15 15 15 0 15 0 15-2 15 6 15 0 15 0 15 0 15-4 15 0 15 0 15 2 15 0 15-3 15 0 15-2 15 0 15 1 15 0 15 0 15 0 15 0 15 17 15 0 15 0 15 0 15 0 15-7 15 0 15 1 15 0 15 0 15 0 15 0 15 6 15 0 15 0 15 0 15 6 15 0 15-11 15 0 15-6 15 0 15 2 15 8 15 0 15 0 15-5 15-11 15-4 15-5 15 0 15 0 15 253 15 0 15 0 15 0 15 124 15 0 15 234 15 0 15 0 15 0 15 65 15 0 15 0 15 305 15 0 15 0 15 0 15 27 15-3 15 12 15 0 15 0 15 0 15-167 15 0 15 0 15 0 15 63 15 0 15 0 15 10 15-24 15 0 15-21 15 0 15 0 15 0 15 36 15 0 15-16 15 23 15 0 15 0 15 7 15 0 15 0 15 0 15 0 15 14 15 0 15 0 15 24 15 0 15 0 15-3 15 0 15 0 15 0 15 14 15 0 15 0 15 0 15 42 15 0 15 0 15 0 15 9 15 0 15 0 15-70 15 0 15 0 15-24 15 0 15 8 15 0 15 6 15 33 15 0 15 0 15 32"/>
<path stroke="#4DBEEE" d="M740 387l15 16 15 0 15-9 15 1 15 22 15 30 15 21 15 17 15 19 15 26 15 26 15 20 15 28 15 40 15 32 15 25 15 46 15 63 15 59 15 33 15 10 15-1 15 11 15 32 15 28 15 19 15 20 15 16 15 10 15 18 15 41 15 53 15 93 15 79 15 76 15 101 15 107 15 61 15 12 15 32 15 100 15 120 15 18 15-6 15-8 15 3 15 13 15 13 15-1 15 0 15-3 15-6 15-9 15-5 15 3 15 9 15 11 15 12 15 5 15 1 15 3 15 0 15 1 15 7 15 7 15 3 15 2 15 4 15 3 15 5 15 9 15 4 15 3 15 5 15 0 15-4 15-3 15-4 15-8 15-8 15-7 15-8 15-7 15-1 15 5 15 6 15 3 15 1 15-3 15-3 15 0 15 2 15-3 15-9 15-9 15-7 15-12 15-13 15-8 15-5 15-4 15-2 15 4 15 8 15 10 15 9 15 8 15 6 15 3 15 6 15 11 15 12 15 6 15 3 15 5 15 4 15-3 15-12 15-9 15-6 15-3 15 0 15 1 15 0 15 0 15 1 15-1 15-2 15-1 15 3 15 1 15-1 15-4 15-6 15-4 15-6 15-6 15-5 15-2 15-2 15-1 15 2 15 4 15 7 15 6 15 1 15 1 15 2 15 0 15-5 15-5 15-3 15-2 15 0 15 0 15 2 15 2 15 1 15 3 15 5 15 1 15-1 15-3 15-6 15-3 15 2 15 5 15 4 15-1 15-2 15 0 15 2 15 2 15-1 15-1 15-1 15 0 15-1 15 3 15 1 15-2 15 0 15 3 15 4 15 6 15 6 15 4 15 4 15 5 15 1 15 0 15 0 15 2 15 2 15 3 15 4 15 1 15 0 15 3 15 2 15 0 15-3 15-6 15-8 15-3 15-1 15-2 15-4 15-3 15 1 15 1 15-3 15-6 15-3 15 1 15 6 15 8 15 6 15 4 15 6 15 7 15 8 15 2 15-2 15-6 15-5 15-2 15 6 15 11 15 57 15 76 15 38 15 24 15 49 15 100 15 132 15 113 15 64 15 27 15 40 15 83 15 97 15 72 15 53 15 46 15 4 15-7 15-15 15 0 15 11 15 12 15 6 15-7 15-15 15-12 15-23 15-44 15-48 15-33 15-32 15-46 15-56 15-37 15-28 15-33 15-36 15-34 15-30 15-16 15-10 15-10 15-4 15 14 15 5 15-9 15-1 15 17 15 41 15 39 15 15 15 5 15 13 15 12 15 9 15 15 15 16 15 10 15 15 15 18 15 7 15 3 15 15 15-3 15-23 15-33 15-54 15-52 15-35 15-8 15-16"/>
<path stroke="#A2142F" d="M740 486l15 0 15 0 15 120 15 0 15 0 15 98 15 0 15 124 15 0 15 50 15 0 15 0 15 119 15 0 15 0 15 0 15 161 15 0 15 0 15 0 15 61 15 399 15 0 15 0 15 0 15 0 15 336 15 0 15 0 15 112 15 0 15 0 15 6 15 0 15 0 15 9 15 0 15 0 15 0 15 0 15 40 15 0 15 0 15 0 15 5 15 0 15 0 15 0 15-5 15-17 15 0 15 0 15-22 15-3 15 0 15 2 15 0 15 0 15 0 15 0 15 5 15 0 15 0 15-11 15 0 15 0 15-11 15 9 15 0 15 0 15-18 15 0 15 0 15 0 15 8 15 0 15-13 15 0 15 0 15-1 15 0 15 0 15 0 15 0 15-15 15 0 15 0 15 0 15 0 15-14 15 0 15-10 15 0 15-5 15 0 15 0 15-21 15 0 15-6 15-6 15 0 15 1 15 6 15 0 15-2 15 0 15 0 15 0 15-4 15 0 15 0 15 7 15 0 15 0 15 0 15 11 15 0 15-27 15 0 15 0 15 0 15-10 15 0 15 0 15 0 15-5 15 0 15 0 15 0 15 2 15-1 15 0 15 0 15 26 15 0 15 0 15 0 15 1 15-7 15 0 15 0 15 0 15-2 15 5 15 0 15 0 15 2 15 0 15 6 15 0 15 0 15 14 15 3 15 0 15 15 15 0 15 0 15 0 15 13 15 5 15 0 15 0 15 0 15 0 15 2 15 0 15-7 15 0 15 0 15-9 15 7 15 0 15 0 15 0 15 13 15 0 15 0 15 0 15 0 15 4 15-2 15 0 15 3 15 5 15 0 15 0 15 3 15 11 15 19 15 0 15-11 15 0 15 0 15 0 15-18 15 0 15 0 15 0 15-18 15 0 15 1 15 0 15 0 15 0 15 0 15 0 15 5 15 0 15 0 15-1 15 0 15-2 15 0 15 0 15 0 15 0 15 0 15 0 15 0 15 0 15-1 15 0 15 14 15 0 15 0 15 0 15-9 15 0 15 0 15 0 15 0 15 0 15 0 15 0 15 147 15 147 15 0 15 130 15 0 15 0 15 191 15 0 15 0 15 88 15 0 15 127 15 0 15 51 15 0 15 0 15 0 15 96 15 0 15 0 15 0 15 0 15 45 15 0 15 0 15 81 15 0 15 0 15 26 15 0 15-42 15 0 15-109 15 0 15 0 15-144 15-102 15 0 15 0 15 0 15 0 15-80 15 0 15-5 15-2 15 0 15 0 15 56 15 0 15 134 15 0 15 0 15 0 15 0 15 98 15 0 15 0 15 136 15 0 15 0 15 0 15-4 15 0 15-55 15 0 15 0"/>
<path stroke="#0072BD" d="M740 502l15 9 15 2 15 9 15 15 15 3 15-12 15-6 15 21 15 51 15 57 15 45 15 47 15 65 15 74 15 52 15 23 15 16 15 14 15-2 15-8 15 9 15 21 15 4 15-10 15 7 15 50 15 57 15 49 15 24 15 51 15 87 15 104 15 97 15 88 15 74 15 78 15 91 15 98 15 35 15 28 15 1 15 0 15 3 15 4 15-2 15-6 15-3 15 1 15 3 15 1 15 2 15 2 15 0 15-2 15 1 15 10 15 18 15 14 15 1 15-6 15-8 15-7 15-7 15-2 15 1 15-3 15-7 15-5 15 7 15 7 15-3 15-11 15-8 15-1 15 2 15 3 15 1 15 3 15 6 15 6 15 6 15 6 15 3 15 2 15 2 15 2 15 0 15-2 15-2 15 0 15 3 15 4 15 2 15-2 15-5 15-8 15-6 15-3 15-2 15 2 15 4 15-2 15-14 15-15 15-8 15-3 15-3 15-6 15-6 15-4 15 0 15 3 15 1 15-3 15-2 15-2 15 0 15 0 15 4 15 0 15-1 15 0 15 1 15 2 15 5 15 6 15 3 15 1 15 0 15-1 15-2 15 4 15 7 15 5 15 4 15 8 15 6 15 2 15 2 15 2 15-1 15 1 15 1 15-4 15-4 15-1 15-1 15-2 15 0 15 3 15 5 15 5 15 3 15 0 15-1 15-1 15-1 15-4 15-6 15-3 15 1 15-1 15-4 15-4 15-4 15-2 15 1 15 2 15 0 15 2 15 6 15 2 15-2 15-5 15-4 15 0 15 1 15 1 15 1 15 1 15 3 15 4 15 4 15 1 15-1 15-2 15-1 15-3 15-3 15 2 15 5 15 1 15 1 15 3 15-1 15-1 15 2 15 5 15 1 15-3 15-4 15-3 15-3 15-3 15-3 15 0 15 1 15-1 15 0 15 5 15 5 15 1 15 1 15-1 15-5 15 1 15 13 15 14 15 2 15-5 15-4 15 0 15 0 15-5 15-2 15 6 15 1 15-2 15 11 15 16 15 37 15 77 15 123 15 134 15 108 15 68 15 43 15 49 15 67 15 84 15 86 15 59 15 24 15 10 15 32 15 7 15-23 15-21 15-11 15-5 15-19 15-13 15-4 15 3 15 13 15 21 15 19 15 9 15-3 15-18 15-20 15-27 15-33 15-42 15-45 15-45 15-36 15-31 15-23 15-14 15-25 15-27 15-28 15-29 15-18 15-7 15-6 15-4 15 5 15 28 15 42 15 29 15 19 15 49 15 75 15 65 15 39 15 18 15 20 15 16 15 4 15-16 15-18 15-11 15-11 15-11 15 5 15 21 15 18 15 4"/>
<path stroke="#D95319" d="M740 350l15 0 15 65 15 0 15 0 15 12 15 82 15 0 15 0 15 0 15 0 15 180 15 0 15 0 15 6 15 193 15 0 15 0 15 0 15 141 15 0 15 0 15 0 15 0 15 87 15 0 15 0 15 0 15 0 15 309 15 0 15 0 15 0 15 102 15 0 15 0 15 62 15 179 15 0 15 0 15 255 15 0 15 14 15 31 15 0 15 0 15 63 15 0 15 23 15 13 15-10 15 0 15 0 15 0 15 0 15-62 15 0 15 0 15-48 15 0 15 0 15 19 15 27 15 0 15 0 15-14 15 0 15 0 15 0 15-25 15 10 15 0 15 0 15 0 15-29 15 0 15 0 15 0 15-6 15 0 15 0 15 0 15 0 15 33 15 0 15 0 15 0 15 0 15-7 15 2 15 0 15 0 15-30 15 0 15 10 15 0 15 17 15 6 15 10 15 0 15-3 15 0 15 6 15 0 15 13 15 0 15 0 15-40 15 0 15 0 15 0 15 0 15 0 15 12 15 0 15-5 15 0 15-8 15-14 15 0 15 0 15 2 15 0 15 0 15 2 15 5 15 0 15-5 15 0 15 0 15 0 15-8 15-11 15-11 15 0 15 0 15 0 15-11 15-12 15 0 15 0 15 5 15 6 15 0 15-4 15 0 15 0 15-33 15 0 15 0 15 0 15 1 15 0 15-20 15 0 15 0 15 9 15 0 15 0 15 0 15 20 15 14 15-3 15 0 15 0 15 10 15 0 15 5 15 0 15 0 15-28 15 0 15 0 15 0 15 9 15 0 15 15 15 0 15 0 15 0 15 0 15 15 15 4 15 0 15 3 15 0 15 0 15 25 15 0 15 0 15 0 15-8 15 0 15-17 15 0 15 0 15 0 15 2 15-15 15 0 15 0 15 0 15 9 15 0 15 12 15 0 15-8 15-19 15 0 15 0 15 0 15 0 15-47 15 0 15 0 15-2 15-5 15 0 15 9 15 4 15-9 15 0 15 3 15 0 15 0 15 25 15 0 15 0 15 0 15-2 15 0 15-4 15 0 15 8 15 0 15 0 15 29 15 0 15 0 15 188 15 0 15 0 15 95 15 124 15 0 15 75 15 0 15 44 15 105 15 0 15 0 15 207 15 0 15 0 15 0 15 38 15 14 15-26 15 0 15 0 15-137 15 0 15 0 15 0 15-16 15 0 15 0 15 0 15 28 15 0 15 0 15 0 15 3 15 0 15 0 15 0 15 89 15 0 15 0 15 0 15 0 15 24 15 0 15 0 15 0 15 0 15 32 15 9 15 0 15 9 15 0 15-1 15-34 15 0 15 15 15 0 15 0 15 37 15-6 15 0 15 0"/>
<path stroke="#EDB120" d="M740 560l15 48 15 42 15 26 15 5 15-23 15-23 15 17 15 85 15 133 15 94 15 35 15 22 15 9 15 2 15 9 15 12 15-2 15-10 15 9 15 33 15 40 15 38 15 38 15 99 15 156 15 117 15 26 15-13 15 10 15 45 15 68 15 89 15 89 15 75 15 25 15 23 15 19 15-1 15-4 15-6 15-3 15 0 15 5 15 5 15 3 15-5 15-9 15-3 15 4 15 1 15 0 15 1 15 0 15-9 15-13 15-9 15-4 15 0 15 1 15 0 15-1 15 0 15 4 15 5 15 7 15 9 15 6 15 3 15 12 15 17 15 11 15 1 15-1 15-1 15-2 15-2 15-2 15 0 15 2 15 0 15-5 15-11 15-9 15 2 15 6 15 2 15 0 15 0 15 3 15 2 15 4 15 3 15-2 15-6 15-2 15 4 15 4 15 3 15 3 15 6 15 8 15 4 15-4 15-5 15 6 15 7 15 2 15-3 15-5 15-1 15 2 15 1 15-1 15-2 15 1 15 8 15 10 15-1 15-2 15-5 15-3 15-3 15-5 15-5 15-1 15-1 15-4 15-2 15-3 15-7 15-5 15 3 15 5 15 1 15 1 15 1 15-2 15 1 15 1 15-2 15-5 15-6 15-5 15 1 15 7 15 5 15-3 15-5 15-5 15-7 15-5 15 2 15 4 15-3 15-6 15-5 15-7 15-8 15-5 15-3 15-2 15 0 15 3 15 0 15-3 15-1 15 0 15 0 15 1 15 4 15 2 15-3 15-5 15-4 15-2 15 1 15 5 15 6 15 0 15-2 15 2 15 5 15 6 15 3 15-2 15-3 15-2 15-3 15-3 15-1 15-3 15-2 15 0 15 2 15 1 15 0 15-2 15-4 15-5 15-5 15 0 15 1 15-2 15-4 15-4 15-3 15-2 15-1 15 4 15 9 15 7 15 3 15-4 15-8 15-7 15-5 15-5 15-2 15-2 15 0 15 4 15 12 15 7 15 6 15 7 15 14 15 16 15 13 15 27 15 26 15 78 15 124 15 116 15 74 15 31 15 20 15 33 15 44 15 60 15 89 15 107 15 62 15 21 15 1 15-1 15 3 15 11 15 17 15 32 15 43 15 29 15 4 15 2 15 18 15 15 15-4 15-12 15-5 15-9 15-31 15-46 15-49 15-47 15-49 15-27 15-8 15 15 15 10 15 5 15 42 15 31 15 10 15 3 15 6 15 18 15 28 15 19 15-5 15-10 15-1 15 7 15 14 15 20 15 25 15 24 15 14 15 3 15-5 15-7 15-4 15-7 15-14 15-12 15-20 15-30 15-36 15-27 15-11 15 0 15 14"/>
<path stroke="#7E2F8E" d="M740 667l15 0 15 0 15 23 15 0 15 38 15 51 15 116 15 0 15 73 15 0 15 0 15 0 15 125 15 0 15 0 15 0 15 0 15 77 15 236 15 0 15 0 15 0 15 116 15 0 15 0 15 379 15 0 15 0 15 131 15 9 15 22 15 0 15-8 15 0 15 0 15 0 15 0 15-31 15 0 15-4 15 0 15 7 15 0 15 5 15 0 15 0 15 0 15 0 15-9 15-3 15 0 15 0 15-6 15 0 15 0 15-10 15 0 15 0 15-7 15-15 15 0 15 0 15 0 15 0 15 0 15 3 15 0 15-6 15 0 15 0 15 18 15 0 15 0 15 0 15 0 15-33 15 0 15 0 15-7 15-1 15 0 15 0 15-1 15 0 15-2 15 11 15 0 15 2 15-4 15 0 15 0 15 4 15 0 15 0 15 15 15 0 15 0 15 0 15 0 15 10 15-1 15 0 15 0 15-9 15 0 15 0 15 0 15 0 15-19 15 3 15 0 15 0 15 16 15 0 15 0 15 0 15 4 15 0 15-10 15 0 15 0 15-18 15 0 15 0 15 0 15 0 15 10 15 20 15 0 15 0 15 0 15 16 15-1 15-6 15 0 15-3 15-7 15 0 15 0 15 0 15 0 15-19 15 0 15 0 15 0 15 0 15 16 15 0 15 0 15 0 15 0 15 13 15 0 15 0 15 0 15 0 15-3 15 0 15 6 15 0 15 0 15 0 15 0 15-5 15 0 15 0 15 0 15-12 15-2 15 0 15 2 15 0 15-2 15 0 15 5 15 0 15 0 15 0 15-18 15 0 15 0 15-3 15 0 15-5 15 0 15 0 15-4 15 0 15-3 15 0 15-3 15 2 15 0 15 0 15 0 15 0 15 8 15 0 15 0 15 12 15 0 15 0 15 0 15 4 15 0 15-7 15 0 15 0 15 4 15 5 15 0 15 0 15 0 15 0 15 0 15 12 15 0 15 11 15 0 15 0 15 0 15-5 15 0 15 0 15-14 15 0 15-8 15 0 15 0 15-11 15 0 15 0 15 0 15 24 15 0 15 111 15 0 15 0 15 0 15 119 15 0 15 0 15 187 15 0 15 0 15 0 15 83 15 30 15 222 15 0 15 0 15 0 15 88 15 0 15 0 15 0 15 0 15-42 15 0 15 0 15-126 15 0 15 0 15 0 15 44 15 0 15 42 15 0 15 29 15 0 15-10 15 0 15 0 15 0 15 0 15-68 15-46 15 0 15-12 15 0 15-22 15 0 15-12 15-25 15 0 15 0 15 16 15 0 15 0 15 89 15 0 15 82 15 0 15 0 15 115 15 0 15 0 15 0 15 6 15 0"/>
<path stroke="#77AC30" d="M740 569l15 0 15 0 15 70 15 99 15 0 15 0 15 0 15 130 15 0 15 0 15 0 15 0 15 98 15 48 15 0 15 0 15 0 15 35 15 0 15 18 15 9 15 11 15 185 15 0 15 0 15 0 15 17 15 0 15 0 15 276 15 0 15 0 15 0 15 316 15 0 15 0 15 0 15 0 15 104 15 11 15 0 15 0 15 5 15 16 15 8 15 0 15-7 15-3 15-3 15-7 15-13 15 0 15 0 15 24 15 0 15 0 15 0 15-3 15 0 15-3 15 0 15 6 15 0 15 0 15 2 15 0 15 0 15 0 15 0 15-8 15 1 15 0 15 0 15 9 15 0 15-4 15 0 15 0 15 0 15-9 15-12 15 0 15 0 15 0 15 0 15-2 15 0 15 0 15 0 15 15 15 0 15 0 15 0 15 0 15 5 15 0 15 0 15 2 15 0 15 2 15 0 15 0 15 0 15 0 15 5 15 11 15 0 15 0 15-5 15 0 15 0 15 15 15 0 15 0 15 0 15 0 15-24 15 0 15 0 15 0 15 0 15 26 15 13 15 0 15 0 15 6 15 0 15 0 15 0 15-7 15 0 15 0 15 0 15-16 15 0 15 0 15 0 15 0 15-7 15 0 15 2 15 0 15 0 15 0 15-3 15-11 15 0 15 0 15-5 15 11 15 0 15 0 15-3 15 0 15 2 15 0 15 0 15-3 15 0 15 0 15 0 15-10 15-3 15 0 15 0 15-3 15 0 15 0 15 9 15 0 15 0 15 0 15 10 15 2 15 0 15 0 15 5 15 0 15-2 15 0 15 0 15 0 15-9 15 0 15-5 15 0 15 0 15 0 15-2 15 0 15 0 15-6 15 0 15 0 15 0 15 0 15 3 15 0 15 3 15 0 15-4 15 0 15 0 15 0 15 0 15-1 15 0 15 0 15 0 15 0 15-12 15 0 15-11 15 0 15 0 15 0 15 0 15 10 15 6 15 0 15 7 15 5 15 0 15-2 15-4 15-7 15 2 15 0 15 8 15 108 15 0 15 243 15 0 15 0 15 0 15 0 15 224 15 0 15 0 15 269 15 0 15 0 15 0 15 140 15 0 15 0 15 69 15 0 15 0 15 0 15 0 15-31 15 0 15 0 15 48 15 0 15-18 15 0 15 0 15-77 15 0 15-39 15 0 15-31 15 0 15-45 15-109 15 0 15 0 15-39 15 41 15 0 15 0 15 0 15-45 15 0 15 0 15-116 15 0 15 0 15 0 15 101 15 0 15 0 15 87 15 0 15 0 15 169 15 0 15 75 15 0 15 32 15 0 15 22 15 1 15 0 15-76 15 0 15 0 15-36"/>
<path stroke="#4DBEEE" d="M740 798l15 0 15 0 15-24 15 70 15 0 15 0 15 83 15 0 15 54 15 0 15 0 15 0 15 4 15 12 15 30 15 0 15 32 15 201 15 0 15 0 15 0 15 207 15 73 15 246 15 0 15 0 15 0 15 0 15 189 15-10 15 0 15 0 15 0 15 11 15 0 15 0 15 0 15 2 15 8 15 0 15 11 15 5 15 0 15 0 15 0 15 0 15 0 15-1 15-1 15-3 15 0 15-10 15 0 15-1 15 0 15 8 15 0 15 0 15 0 15 11 15 0 15 0 15 21 15 0 15 11 15 1 15 0 15 0 15 0 15 0 15-6 15 0 15 0 15 15 15 0 15 0 15 0 15 0 15-6 15 0 15 13 15 0 15-3 15-15 15 0 15 0 15-26 15 0 15 0 15 0 15 0 15-8 15 0 15 0 15 0 15 0 15-15 15 0 15-6 15 0 15 0 15 3 15 0 15 0 15 0 15-3 15 0 15 0 15 0 15-21 15-8 15 0 15 0 15 0 15 0 15 0 15 0 15 0 15 0 15 10 15 7 15 0 15 1 15 3 15 0 15 5 15 0 15-1 15-7 15 0 15 0 15 0 15-3 15-9 15 0 15 9 15 0 15 4 15 0 15 0 15 0 15-2 15 0 15 0 15 0 15 0 15 0 15 0 15 4 15 0 15 0 15 0 15 0 15 2 15 0 15 0 15 10 15 0 15 0 15 0 15 11 15-3 15 0 15-17 15 0 15-15 15 0 15 0 15 0 15-3 15 0 15 0 15 8 15 12 15 0 15 0 15 0 15 15 15 0 15 0 15 0 15 0 15 0 15 0 15 1 15-5 15-8 15-12 15 0 15 1 15 0 15 0 15-7 15 0 15-5 15 0 15 8 15 0 15 0 15 10 15 0 15 0 15 19 15 0 15 0 15-18 15 0 15-11 15 0 15 8 15 0 15-10 15 0 15 0 15 0 15-23 15 0 15 0 15 0 15 5 15 59 15 0 15 115 15 0 15 0 15 175 15 0 15 61 15 162 15 0 15 0 15 286 15 0 15 0 15 0 15 121 15-31 15 0 15 0 15 77 15 0 15-7 15 0 15 0 15-39 15 0 15 0 15 0 15-143 15 0 15 0 15 0 15-33 15 0 15 0 15 0 15 25 15 0 15 0 15 0 15 0 15 84 15 0 15 0 15 0 15 0 15 30 15 6 15 10 15-24 15 0 15 0 15 0 15 0 15-91 15 0 15 14 15 0 15 0 15 37 15 0 15 0 15 0 15 0 15 1 15-7 15-5 15 0 15 0 15 0 15 0 15-7 15 0 15 65 15 0 15 0 15 0 15 0 15 14 15 0"/>
<path stroke="#A2142F" d="M740 413l15 0 15 21 15 0 15 0 15 62 15 0 15 68 15 177 15 0 15 0 15 0 15 0 15 156 15 0 15 0 15 0 15-47 15 0 15 0 15 40 15 0 15 0 15 35 15 0 15 67 15 0 15 0 15 80 15 89 15 0 15 0 15 0 15 0 15 262 15 223 15 0 15 0 15 317 15 0 15 62 15 0 15-3 15 0 15 0 15 0 15-9 15 0 15 0 15-27 15 0 15 0 15 0 15-1 15 0 15 0 15 0 15 5 15 0 15 0 15 0 15 4 15 0 15-1 15 0 15-9 15 0 15 0 15-23 15-5 15 4 15 0 15 0 15 7 15-4 15 0 15 0 15 0 15 25 15 0 15 7 15 0 15 0 15 28 15 0 15 0 15 8 15 0 15 15 15 0 15 0 15 0 15 8 15 0 15 0 15 8 15 9 15 0 15 0 15 0 15-10 15-14 15 0 15 0 15 0 15 0 15-16 15 0 15-10 15 0 15 0 15 13 15 0 15-3 15 0 15 0 15 0 15 0 15-1 15-3 15-9 15 0 15 0 15 0 15-30 15 0 15 0 15 0 15-2 15-14 15 0 15 0 15 0 15-3 15 0 15 0 15 0 15 2 15 0 15 0 15 0 15 0 15 22 15 0 15 12 15 0 15 0 15 8 15 5 15 0 15-1 15-5 15-4 15 0 15 0 15 0 15-2 15 0 15 0 15-13 15 0 15 0 15 0 15 0 15 0 15 0 15 0 15 19 15 0 15 0 15 0 15 10 15 0 15 0 15 0 15 0 15-4 15 0 15-12 15 0 15 0 15-6 15 0 15 0 15-12 15 0 15 0 15 6 15 0 15-8 15 0 15 0 15-15 15 0 15 0 15 0 15 4 15 0 15 0 15 4 15 0 15 0 15 0 15 3 15 8 15 0 15 0 15 0 15 0 15-15 15 0 15 1 15 0 15 0 15 0 15-13 15 0 15 0 15 0 15-11 15-7 15 0 15 0 15 5 15 0 15 0 15 0 15 4 15 0 15 0 15 50 15 0 15 206 15 0 15 0 15 0 15 109 15 36 15 80 15 0 15 0 15 0 15 240 15 0 15 107 15 0 15 77 15 181 15 0 15 0 15 0 15 0 15 35 15 0 15 15 15 0 15-17 15 0 15 0 15-63 15 0 15 0 15 0 15-242 15 0 15 0 15-98 15 0 15 0 15-45 15 0 15 0 15-35 15 16 15 25 15 5 15 0 15 0 15 99 15 0 15 0 15 0 15 75 15 46 15 0 15 0 15 45 15 0 15 23 15 38 15 78 15 0 15 28 15 40 15 0 15 0 15 0 15 0 15-145 15 0 15 0"/>
<path stroke="#0072BD" d="M740 600l15 0 15 118 15 0 15 0 15 131 15 0 15 49 15 0 15 88 15 0 15 0 15 0 15 0 15 96 15 0 15 45 15 146 15 0 15 0 15 0 15 0 15 365 15 0 15 195 15 0 15 91 15 115 15 0 15 0 15-1 15 26 15 0 15 14 15 0 15-1 15 0 15 6 15 0 15 0 15-7 15-16 15 0 15 0 15 0 15-25 15 0 15-17 15 0 15 0 15 0 15 6 15 8 15 24 15 0 15 26 15 0 15 0 15 0 15-1 15 0 15 0 15 0 15 0 15-1 15 0 15 0 15 0 15 0 15-13 15 0 15 0 15-2 15-14 15 0 15-17 15 0 15 0 15 0 15 0 15 5 15-9 15 0 15-6 15-9 15 0 15 0 15-16 15-8 15 0 15 0 15 0 15-7 15 0 15 0 15 0 15 0 15 22 15 0 15 10 15 0 15 0 15 8 15 0 15 0 15-17 15 0 15 0 15 0 15 0 15 19 15 0 15 0 15 0 15 14 15 0 15-3 15 0 15 0 15-3 15-5 15 0 15-7 15 0 15 0 15 0 15-17 15 0 15 0 15 0 15 0 15-6 15 15 15 0 15-4 15 0 15-20 15 0 15 0 15 2 15 0 15 0 15 3 15 0 15 0 15 0 15 0 15 10 15 0 15 0 15 0 15 15 15 0 15 0 15 0 15 17 15-14 15 0 15 0 15 0 15-20 15 0 15-13 15 0 15 0 15-7 15 0 15 0 15-2 15 0 15 0 15 0 15 12 15 8 15 0 15 7 15 0 15 0 15 16 15 0 15 0 15 0 15 0 15-9 15 0 15 0 15-5 15 0 15 0 15 0 15 0 15 3 15 4 15 0 15 0 15-2 15 0 15 13 15 0 15 0 15 11 15 0 15 0 15 0 15 0 15 0 15 0 15 2 15 0 15 0 15 0 15 7 15-18 15 0 15 0 15 0 15-12 15 0 15-2 15 0 15 0 15 6 15 0 15 0 15 0 15 20 15 0 15 0 15 12 15 0 15 91 15 111 15 0 15 0 15 214 15 0 15 179 15 0 15 0 15 175 15 0 15 127 15 0 15 0 15 172 15 0 15-27 15 0 15 0 15 0 15 6 15 0 15-12 15-5 15 0 15 0 15 0 15 32 15 0 15 0 15 0 15 10 15 0 15 0 15 0 15-78 15 0 15-29 15-142 15 0 15 0 15 0 15 0 15-71 15-34 15 0 15-17 15 0 15 0 15 0 15 0 15-7 15 0 15 30 15 0 15 0 15 43 15 157 15 0 15 0 15 0 15 0 15 114 15 50 15 0 15 0 15-7 15 0 15-19 15-9 15 6"/>
<path stroke="#D95319" d="M740 593l15 0 15 31 15 0 15 21 15 106 15 0 15 0 15 0 15 0 15 109 15 0 15 96 15 0 15 0 15 0 15 0 15 133 15 0 15 0 15 323 15 0 15 0 15 0 15 323 15 0 15 0 15 0 15 0 15 330 15 0 15 0 15 29 15 0 15 4 15-29 15 0 15 0 15 0 15-27 15 0 15-18 15-32 15 0 15-9 15 0 15 0 15-34 15 0 15 0 15 0 15 0 15-4 15 4 15 0 15 15 15 0 15 0 15 0 15 0 15 32 15 0 15 0 15-5 15 0 15-8 15 0 15 0 15 0 15 0 15-8 15 0 15 0 15 8 15 7 15 0 15 5 15 0 15-4 15 0 15 0 15 0 15 0 15-8 15 0 15 0 15-5 15 0 15 5 15 18 15 0 15 0 15-9 15 0 15-10 15 0 15 0 15 0 15 0 15 1 15 6 15 0 15-4 15 0 15 0 15 13 15 0 15 0 15 0 15-15 15 0 15 0 15 0 15-13 15 0 15 0 15 0 15-22 15 0 15 0 15 0 15 0 15 0 15 0 15 10 15 13 15 0 15 4 15 0 15 7 15 8 15 8 15 0 15 0 15 3 15 0 15 0 15 0 15 14 15 0 15 3 15 0 15 1 15 3 15 0 15 0 15 7 15 4 15 0 15 0 15-33 15 0 15 0 15 0 15 0 15-34 15 0 15 0 15 0 15 0 15 1 15 0 15 0 15 2 15 22 15 0 15 12 15 0 15-3 15 0 15 0 15 0 15-12 15 0 15 0 15 0 15 0 15-13 15 0 15 0 15 4 15 0 15 0 15 0 15 0 15 8 15 0 15-9 15 0 15 0 15 0 15 0 15-6 15-1 15 0 15 0 15-9 15 0 15 0 15 0 15 0 15-25 15 0 15 0 15 13 15 19 15 0 15 0 15 0 15 24 15 0 15 0 15 0 15 0 15-5 15 0 15-5 15 0 15 0 15 2 15 0 15-14 15 0 15 0 15 0 15 0 15 5 15 0 15 0 15 183 15 0 15 0 15 114 15 149 15 0 15 0 15 318 15 0 15 0 15 224 15 0 15 65 15 0 15 0 15 0 15-85 15 0 15 0 15 0 15 0 15-152 15 0 15 0 15 0 15-8 15 0 15 0 15 0 15-66 15 0 15 0 15-63 15 0 15 26 15 0 15 0 15 0 15 0 15-14 15 0 15 0 15-108 15 0 15 0 15 0 15-47 15-1 15 55 15 0 15 0 15 0 15 63 15 40 15 0 15 66 15 0 15 0 15 0 15 0 15 201 15 0 15 0 15 0 15 0 15 1 15 0 15-79 15 0 15 0 15 0 15 3"/>
<path stroke="#EDB120" d="M740 214l15 0 15 0 15 0 15 0 15 56 15 143 15 0 15 0 15 0 15 0 15 177 15 0 15 0 15 100 15 80 15 0 15 21 15 0 15 18 15 0 15 0 15 0 15 0 15 109 15 0 15 0 15 127 15 0 15 0 15 173 15 0 15 0 15 0 15 0 15 375 15 0 15 0 15 294 15 0 15 0 15 0 15 71 15 23 15 0 15 0 15 2 15 0 15 0 15-3 15 0 15 0 15 0 15 12 15-10 15 0 15 14 15 0 15 0 15 0 15-2 15-4 15-2 15 0 15 0 15-5 15-4 15-9 15-12 15 0 15 0 15 0 15 0 15-23 15 0 15 4 15 0 15 3 15 0 15 0 15 0 15-1 15 0 15 0 15 0 15 0 15-9 15 0 15 0 15 1 15 0 15 0 15 0 15 2 15 2 15 0 15 6 15 0 15 10 15 0 15 0 15 0 15 0 15 19 15 0 15 28 15 0 15 0 15 20 15 0 15 0 15 6 15 0 15 0 15 0 15 0 15 0 15 0 15-8 15 0 15 0 15 0 15 3 15-3 15-9 15 0 15 0 15-1 15 0 15-2 15 0 15-3 15 0 15 0 15 35 15 0 15 0 15 0 15-4 15-19 15 0 15 0 15 0 15 0 15-11 15 0 15 0 15 0 15-6 15-4 15 0 15 0 15 0 15 5 15 0 15 10 15 0 15 0 15 2 15 0 15 0 15 0 15 5 15 0 15 3 15 0 15-6 15 0 15 0 15 0 15-6 15 0 15-2 15 0 15 0 15 0 15-7 15-21 15 0 15 0 15 0 15 0 15-17 15 0 15 0 15 0 15 0 15 12 15 0 15 7 15 0 15 2 15 0 15 0 15 0 15 0 15 9 15 0 15 0 15-4 15 0 15 0 15 3 15 0 15-2 15 0 15 0 15-9 15-4 15 0 15 0 15 0 15 0 15 32 15 0 15-2 15-8 15 0 15 0 15 3 15 0 15 0 15 0 15 0 15 3 15-13 15 0 15 0 15-2 15 0 15 0 15 0 15 0 15 145 15 106 15 68 15 161 15 0 15 0 15 0 15 140 15 0 15 58 15 117 15 0 15 0 15 180 15 0 15 0 15-15 15 0 15-47 15 0 15 0 15-71 15 0 15-68 15 0 15 0 15-19 15-27 15 0 15 0 15 0 15-41 15 0 15-41 15 0 15 0 15 0 15 0 15-41 15 0 15 0 15-4 15 0 15 0 15-61 15 0 15 70 15 0 15 0 15 0 15 2 15 25 15 43 15 0 15 67 15 0 15 0 15 0 15 134 15 0 15 0 15 0 15 40 15 0 15 0 15 0 15 0 15-64"/>
<path stroke="#7E2F8E" d="M740 574l15 0 15 0 15 83 15 0 15 75 15 0 15 0 15 151 15 0 15 15 15 6 15 0 15 0 15 122 15 0 15 93 15 0 15 0 15 146 15 0 15 0 15 299 15 0 15 0 15 42 15 0 15 0 15 284 15 0 15 0 15 0 15 169 15 0 15-8 15 0 15-13 15-14 15 0 15 0 15-18 15-10 15 4 15 0 15 0 15 0 15 0 15 0 15-9 15-7 15-2 15 0 15 6 15 0 15 0 15 1 15-6 15 0 15 0 15-7 15-3 15 0 15 0 15 5 15 0 15-4 15-9 15 0 15 7 15 9 15 0 15 0 15 1 15 0 15 20 15 0 15-9 15 0 15 0 15 0 15 0 15-8 15 16 15 0 15-12 15 0 15 0 15 0 15 1 15 0 15 20 15 0 15 0 15 0 15 0 15 0 15 0 15 11 15 0 15 3 15-10 15 0 15 0 15 0 15 0 15-3 15 0 15 0 15 0 15 26 15 0 15 0 15 0 15 0 15 0 15 0 15 0 15-16 15 0 15 0 15 0 15 0 15-11 15 8 15 0 15 0 15 0 15 0 15 0 15 3 15 0 15 0 15-3 15 0 15 6 15 0 15 1 15 0 15-5 15-8 15 0 15-11 15 0 15 0 15 0 15-11 15 11 15 0 15 9 15 0 15 0 15 0 15 0 15 9 15-2 15-6 15 0 15 0 15-12 15 0 15 0 15-2 15 0 15 0 15 0 15-11 15 0 15 0 15-5 15-1 15 0 15 0 15 0 15-7 15 4 15 0 15 6 15 0 15 0 15-1 15 0 15 0 15 0 15-6 15 0 15 0 15-3 15 0 15 0 15 0 15 2 15 0 15 4 15-1 15 0 15 0 15 0 15-9 15 0 15-2 15 0 15-18 15 0 15 0 15 0 15 0 15-17 15 0 15 2 15 10 15 0 15 3 15 2 15 4 15 0 15 0 15-2 15 5 15 0 15 0 15-2 15-12 15 0 15 0 15 0 15 0 15 8 15 8 15 0 15 0 15 8 15 20 15 0 15 0 15 0 15 0 15 131 15 0 15 56 15 144 15 0 15 0 15 270 15 0 15 0 15 0 15 281 15 0 15 0 15 0 15 61 15 0 15 0 15 0 15 0 15 24 15 0 15 0 15 0 15 0 15 20 15 0 15 0 15-3 15 0 15 0 15 0 15 0 15-186 15 0 15 0 15 0 15 0 15-171 15 0 15 0 15 0 15-44 15 0 15 0 15 17 15 0 15 0 15 0 15 4 15 0 15 0 15 138 15 0 15 0 15 0 15 0 15 32 15 0 15 0 15 64 15 0 15 0 15 0 15-24 15 0"/>
<path stroke="#77AC30" d="M740 910l15 0 15-10 15 0 15 12 15 0 15 0 15 96 15 0 15 60 15 0 15 0 15 0 15 0 15 237 15 0 15 0 15 0 15 278 15 0 15 78 15 0 15 0 15 101 15 88 15 104 15 105 15 0 15 0 15 0 15 0 15-29 15 0 15 0 15 0 15-14 15-2 15 0 15 0 15 6 15 0 15 3 15 0 15 0 15 0 15 0 15-25 15 0 15 0 15 0 15-14 15 0 15 0 15 0 15 0 15 21 15 0 15 0 15 11 15 0 15 12 15 18 15 0 15 1 15-1 15 0 15 0 15 0 15-11 15 0 15 0 15 0 15 0 15-12 15 0 15 0 15 13 15 0 15-4 15 0 15 5 15 0 15 0 15 0 15 11 15 0 15 0 15 3 15 0 15 0 15 0 15 0 15-31 15 0 15 0 15 0 15-2 15 0 15 0 15-21 15 0 15-2 15-1 15-2 15 1 15 0 15 0 15-2 15-9 15 0 15-3 15 0 15 0 15 0 15 16 15 0 15 0 15 0 15 0 15 2 15 0 15-6 15 0 15 0 15 0 15 0 15-1 15 0 15-10 15 0 15 0 15 0 15 0 15 8 15 11 15 0 15 0 15 0 15 0 15 16 15 0 15 9 15 0 15 0 15 9 15 0 15 5 15 0 15 0 15 1 15 0 15 0 15 0 15-7 15-21 15 0 15 0 15 0 15-9 15 0 15 0 15 0 15 0 15 4 15 0 15 0 15 7 15 10 15 14 15 0 15 0 15-2 15-14 15 0 15 0 15 0 15 0 15-24 15 0 15 0 15-3 15 0 15 0 15-24 15 0 15 0 15 3 15 17 15 0 15 9 15 0 15 6 15 0 15 0 15-3 15 0 15-1 15-5 15 0 15 0 15 2 15 13 15 0 15 6 15 0 15 0 15-6 15-4 15-6 15 0 15 0 15 0 15 15 15 0 15 0 15 0 15 0 15 4 15 0 15 0 15-4 15 0 15-23 15 0 15-30 15 0 15 55 15 0 15 0 15 0 15 0 15 244 15 0 15 0 15 0 15 72 15 98 15 0 15 0 15 222 15 0 15 0 15 244 15 0 15 0 15 64 15 0 15 0 15-5 15 0 15 0 15 0 15 0 15-34 15 0 15 0 15-61 15 0 15 5 15-15 15 0 15 0 15 5 15 3 15 0 15 0 15 9 15 0 15-26 15 0 15 0 15 0 15 0 15-108 15 0 15-14 15-41 15 0 15-47 15 0 15 14 15 33 15 0 15 0 15 44 15 0 15 27 15 157 15 0 15 0 15 0 15 31 15 0 15 28 15 0 15-5 15 0 15 0 15 0 15 0 15 12"/>
<path stroke="#4DBEEE" d="M740 464l15 46 15 40 15 24 15 6 15 0 15 19 15 46 15 61 15 54 15 39 15 30 15 35 15 50 15 57 15 39 15 2 15-3 15 0 15 10 15 22 15 29 15 29 15 40 15 40 15 36 15 66 15 83 15 105 15 110 15 75 15 49 15 76 15 114 15 98 15 15 15 1 15 12 15 26 15 14 15 0 15-7 15-7 15-6 15-4 15 0 15 1 15-3 15-11 15-13 15-8 15-2 15 2 15 3 15 1 15-1 15-3 15-3 15-3 15-10 15-12 15-9 15-4 15-1 15-3 15-7 15-8 15-5 15-2 15 2 15 4 15 7 15 9 15 6 15-1 15-2 15 1 15 4 15 9 15 10 15 6 15 2 15 1 15-1 15-5 15-2 15 2 15-2 15-7 15-6 15-6 15-8 15-2 15 1 15-2 15-8 15-5 15 7 15 12 15 10 15 9 15 11 15 8 15 5 15 6 15 6 15 0 15-2 15-2 15-1 15 1 15 2 15 3 15 4 15 4 15 5 15 5 15 5 15-1 15 2 15 4 15 10 15 10 15 6 15 3 15-2 15-7 15-6 15-1 15 0 15 0 15-3 15-4 15-3 15 3 15 2 15 0 15 1 15 2 15 5 15 3 15 0 15-3 15-2 15-1 15-1 15 2 15 1 15-4 15-4 15-2 15 2 15 2 15 1 15-2 15-5 15-4 15 1 15 6 15 5 15 4 15 5 15 3 15 1 15-2 15-3 15-3 15-4 15-5 15-6 15-3 15 1 15 7 15 10 15 9 15 5 15 2 15 2 15 4 15 4 15-1 15-6 15-8 15-7 15-4 15-4 15-2 15-4 15-7 15-4 15 1 15-1 15-6 15-9 15-6 15 1 15 5 15 3 15 2 15 5 15 8 15 6 15-2 15-8 15-9 15-7 15-3 15-3 15-5 15-4 15-5 15-5 15-3 15 1 15 2 15 2 15 3 15-1 15-5 15 0 15 7 15 7 15 3 15-1 15-1 15-3 15-1 15 0 15 1 15-3 15 1 15-1 15 62 15 40 15 28 15 38 15 50 15 39 15 12 15-2 15 9 15 40 15 86 15 117 15 111 15 75 15 32 15 2 15-1 15 20 15 56 15 97 15 43 15 15 15-8 15-22 15-31 15-25 15-22 15-6 15 8 15 12 15 3 15-6 15-12 15-10 15 2 15-5 15-12 15-8 15 1 15-5 15-17 15-32 15-30 15-23 15-13 15-14 15-10 15 7 15 9 15-7 15-20 15-6 15 14 15 33 15 24 15 10 15 8 15 18 15 22 15 21 15 19 15 20 15 27 15 36 15 6 15 7 15 6 15 4 15-4"/>
<path stroke="#A2142F" d="M740 689l15 37 15 0 15 0 15 0 15 0 15 78 15 0 15 0 15 0 15 41 15 0 15 0 15 169 15 0 15 0 15 0 15 0 15 209 15 97 15 0 15 0 15 274 15 0 15 0 15 0 15 0 15 395 15 0 15 0 15 0 15 58 15 14 15 0 15 0 15-13 15 0 15-37 15 0 15 0 15 0 15-19 15 0 15 0 15-1 15 5 15 0 15 0 15 17 15 0 15 0 15 0 15 9 15 0 15 0 15-6 15-6 15-11 15 0 15 0 15 4 15 0 15 0 15 0 15 21 15 0 15 0 15 0 15 30 15 0 15 0 15 3 15 0 15 0 15 22 15 0 15-1 15-9 15 0 15 0 15-15 15 0 15-1 15 3 15 0 15-4 15 0 15 10 15 0 15 0 15 35 15 0 15 2 15 0 15-16 15 0 15 0 15-15 15 0 15-13 15-12 15-7 15-18 15 0 15-16 15 4 15 0 15 13 15 0 15 0 15-7 15-12 15 0 15 0 15-7 15 0 15 1 15-5 15 0 15-5 15 0 15 6 15 0 15 0 15 13 15 0 15 0 15-13 15 0 15 4 15 0 15 5 15 0 15 9 15 0 15 0 15 0 15 8 15 0 15 0 15 0 15-2 15 0 15 0 15 7 15 0 15 0 15-3 15 7 15 0 15 0 15 15 15 0 15 0 15 0 15 0 15-17 15 5 15 0 15 0 15 0 15-4 15 0 15 0 15 0 15 0 15 0 15 0 15 1 15 0 15 0 15 0 15 0 15-2 15 4 15 0 15 0 15 0 15 14 15 0 15 7 15 0 15 0 15 0 15 2 15 0 15 0 15 3 15 0 15 0 15-11 15 0 15 0 15 0 15-4 15 0 15 1 15 0 15 0 15 0 15-4 15 0 15 0 15 0 15 0 15-7 15 0 15-1 15-13 15 0 15 0 15-23 15 0 15 0 15-5 15 0 15-1 15-1 15 0 15 0 15-29 15 0 15 0 15 0 15 12 15 0 15 0 15 0 15 113 15 228 15 0 15 0 15 0 15 138 15 0 15 0 15 151 15 0 15 0 15 81 15 0 15 0 15 0 15 0 15 223 15 0 15 18 15 33 15 0 15 0 15 38 15-93 15 0 15 0 15 0 15-135 15 0 15 0 15 0 15-19 15 0 15-32 15 0 15 0 15-26 15-55 15 0 15-5 15 0 15 0 15 0 15 0 15 122 15 0 15 0 15 0 15 131 15 0 15 0 15 0 15 33 15 0 15 0 15-3 15 0 15 0 15 0 15 0 15-46 15-17 15 0 15 0 15-47 15 0 15 0 15-21 15 14 15 0 15-43 15 0 15-10"/>
<path stroke="#0072BD" d="M740 841l15 75 15 0 15 0 15 77 15 0 15 0 15 0 15 0 15 240 15 0 15-106 15 0 15 0 15 0 15 0 15 381 15 0 15-19 15 0 15 0 15 0 15 174 15 0 15 314 15 0 15 0 15 0 15 0 15 0 15-30 15-25 15-7 15 0 15-38 15 0 15 0 15 0 15-21 15 0 15 0 15-17 15 15 15 0 15 0 15 58 15 0 15 8 15 0 15 0 15 55 15 0 15 0 15 0 15 0 15 9 15 5 15 0 15 0 15-30 15 0 15 0 15 0 15 3 15 0 15 25 15 0 15 0 15 0 15 0 15-10 15 24 15 0 15-19 15 0 15 0 15 0 15-31 15 0 15 0 15-10 15 0 15-23 15 0 15-17 15 0 15 10 15 0 15 0 15 32 15 0 15 11 15 0 15 0 15 0 15 58 15 0 15-4 15 0 15 18 15 0 15 0 15 0 15-8 15-10 15-25 15 0 15 0 15-35 15 0 15 0 15 0 15 0 15 1 15 0 15 22 15 0 15 0 15 0 15 6 15 0 15 0 15 0 15 0 15-22 15 0 15 0 15 0 15 27 15 5 15 15 15 0 15 0 15 27 15 0 15 5 15 0 15 2 15 0 15-19 15 0 15 0 15 3 15 0 15 0 15 1 15 2 15-5 15 0 15-7 15 0 15-10 15 0 15 0 15 0 15 0 15 0 15-16 15 0 15-12 15 0 15 0 15 0 15 0 15-30 15 0 15 0 15-2 15 0 15 0 15 0 15 0 15 9 15 0 15 0 15 11 15 0 15-16 15 0 15 0 15 0 15 20 15 0 15 0 15 0 15-8 15-1 15 0 15 0 15 20 15 0 15 0 15 0 15 0 15 17 15 0 15-8 15 0 15 0 15 20 15 0 15 0 15 18 15 0 15 0 15 2 15 8 15 0 15 0 15 0 15-14 15 0 15-30 15 0 15 0 15 0 15 0 15-11 15-10 15 0 15 0 15 0 15 11 15 0 15 0 15 25 15 0 15 0 15 0 15-1 15 150 15 0 15 0 15 0 15 0 15 175 15 0 15 69 15 0 15 41 15 47 15 218 15 0 15 0 15 0 15 0 15 103 15 0 15 0 15 25 15 0 15 0 15 0 15-7 15 0 15 0 15 11 15 2 15 18 15 0 15 38 15 0 15-18 15 0 15 0 15 53 15 0 15-1 15 0 15 0 15-34 15-99 15 0 15 0 15-85 15 0 15 0 15-72 15 0 15 0 15 0 15 0 15 117 15 0 15 0 15 0 15 150 15 0 15 0 15 0 15 0 15 82 15 0 15-17 15 0 15-30 15 0 15 0 15-44 15-40 15 0"/>
<path stroke="#D95319" d="M740 687l15 0 15 0 15 0 15 116 15 0 15 0 15 0 15 0 15 104 15 0 15 0 15 65 15 0 15 0 15 0 15 0 15 43 15 161 15 0 15 0 15 172 15 140 15 0 15 0 15 85 15 0 15 0 15 0 15 0 15 317 15 67 15 0 15 0 15 58 15 0 15 0 15-35 15 0 15-14 15-5 15 0 15 0 15 0 15-28 15 0 15 0 15 0 15 0 15 16 15 6 15 0 15-1 15-3 15 2 15 3 15 6 15 0 15 0 15 10 15 0 15 0 15 0 15 0 15 18 15 0 15-36 15 0 15-11 15 0 15 0 15 3 15 0 15 26 15 0 15 0 15 12 15 0 15 0 15 0 15-37 15 0 15-76 15 0 15 0 15 0 15 0 15-25 15-10 15 0 15 0 15-1 15 18 15 0 15 23 15 0 15 0 15-22 15 0 15 0 15 0 15-72 15 0 15 0 15 0 15-2 15-12 15 0 15 0 15-17 15 0 15 0 15 0 15 16 15 20 15 0 15 18 15 0 15 0 15 0 15 16 15 4 15 20 15 0 15 52 15 0 15 0 15 0 15 0 15 17 15 0 15-19 15 0 15 0 15 0 15 12 15 0 15 0 15 0 15 0 15 35 15 0 15 0 15 0 15 0 15 7 15 0 15 0 15-8 15 0 15 12 15 0 15 0 15-20 15 0 15 0 15 0 15 0 15 20 15 0 15 0 15-27 15 0 15 0 15 0 15-7 15 0 15-4 15 2 15 0 15 0 15 9 15 0 15-5 15 0 15 5 15 0 15 0 15-5 15 0 15 2 15 0 15 0 15-24 15 0 15 0 15 0 15 25 15 0 15 0 15 0 15 0 15-21 15 0 15 0 15 8 15 0 15 4 15 0 15 9 15 0 15 0 15 0 15 0 15 1 15 0 15 4 15 18 15 0 15 0 15 0 15 0 15-27 15-6 15 0 15 0 15 0 15 0 15 5 15 0 15 0 15 45 15 0 15 0 15 0 15 78 15 0 15 0 15 0 15 213 15 0 15 0 15 242 15 0 15 0 15 142 15 0 15 0 15 0 15 162 15 0 15 0 15 0 15 0 15 45 15 0 15 0 15-1 15 0 15 69 15 0 15 0 15 0 15 0 15-64 15 0 15-35 15 0 15 0 15 0 15 7 15 0 15 0 15-170 15 0 15 0 15 0 15 0 15-103 15 0 15 0 15 0 15 0 15 19 15 163 15 0 15 0 15 113 15 0 15 0 15 0 15 0 15 108 15 32 15 0 15 45 15 0 15 6 15 0 15-24 15 0 15-68 15 0 15 0 15 0 15 0 15-232 15 0 15 0 15 0 15-84"/>
<path stroke="#EDB120" d="M740 783l15 25 15 0 15 65 15 0 15 0 15 98 15 0 15 87 15 0 15 35 15 0 15 0 15 69 15 0 15 61 15 139 15 0 15 95 15 0 15 0 15 0 15 360 15 0 15 0 15 0 15 0 15 144 15 68 15 0 15 0 15 14 15 6 15 0 15 0 15 0 15-27 15 0 15 0 15 0 15-11 15 0 15-11 15 0 15 0 15 9 15 4 15 0 15 7 15 0 15-2 15 0 15 0 15 18 15 0 15 0 15 0 15 10 15 0 15 0 15-12 15 0 15 0 15 0 15 0 15-20 15-16 15 0 15 0 15 0 15 0 15-3 15 15 15 0 15 0 15 0 15-7 15 0 15 0 15-13 15-3 15 5 15 0 15 0 15 0 15 13 15 0 15 2 15 1 15 0 15 0 15-6 15 0 15 0 15 2 15 3 15 0 15 0 15 3 15 0 15 0 15-4 15 2 15 0 15 0 15 0 15 0 15 0 15 0 15 0 15 0 15-9 15 0 15 0 15 0 15-10 15 0 15 1 15 0 15 0 15 0 15 0 15 0 15 0 15 0 15 0 15 0 15 0 15 0 15 0 15 0 15-18 15 0 15 0 15 0 15 0 15 5 15 0 15 0 15 8 15 0 15 0 15-9 15 14 15 0 15 0 15 16 15 2 15 0 15 8 15 0 15 12 15 0 15 0 15-3 15 0 15 0 15 0 15-14 15 0 15 0 15 0 15 0 15-11 15 0 15 7 15 0 15 13 15 0 15 4 15-1 15 0 15-5 15 0 15 3 15 0 15 5 15 13 15 0 15 6 15 0 15-7 15-13 15 0 15 0 15 4 15 0 15-13 15 0 15 0 15 0 15 0 15-21 15 0 15 0 15 0 15 7 15 0 15 1 15 0 15-9 15 0 15 0 15 13 15 0 15 0 15 0 15 11 15 0 15 0 15 9 15 0 15 0 15 0 15 0 15 6 15 5 15 0 15 0 15 0 15 0 15 25 15 0 15 0 15 0 15 13 15 0 15 0 15 0 15 0 15 156 15 0 15 0 15 63 15 53 15 0 15 105 15 0 15 0 15 285 15 0 15 0 15 0 15 0 15 276 15 0 15 23 15 10 15-17 15 0 15 0 15 0 15 0 15-5 15 0 15-17 15-104 15 0 15 0 15 0 15 0 15-111 15 0 15 0 15-67 15 0 15 0 15-44 15 0 15 0 15 0 15-46 15 0 15-23 15 0 15 0 15 0 15-26 15 0 15 32 15 0 15 0 15 0 15 0 15 107 15 0 15 39 15 0 15 87 15 0 15 0 15 0 15 102 15 0 15 0 15 8 15 0 15 14 15 0 15 0 15-50"/>
<path stroke="#7E2F8E" d="M740 601l15 0 15 0 15 69 15 0 15 0 15 0 15 30 15 0 15 0 15 0 15 0 15 158 15 0 15 0 15 126 15 0 15 25 15 0 15 37 15 0 15 0 15 44 15 0 15 51 15 0 15 0 15 146 15 147 15 0 15 0 15 0 15 78 15 207 15 0 15 0 15 287 15 0 15 0 15 0 15 55 15 0 15 11 15 0 15-2 15 2 15 0 15-3 15-1 15 1 15 0 15 0 15 0 15 0 15-15 15 0 15 11 15 0 15 0 15 2 15 0 15-3 15 0 15 0 15-15 15 0 15 4 15 0 15 0 15 0 15 0 15 10 15 0 15 0 15 0 15 24 15 0 15 0 15-3 15-24 15 0 15 0 15 0 15-7 15 9 15 0 15 0 15 1 15 0 15 0 15 0 15 0 15 2 15 0 15-5 15-29 15 0 15 0 15 0 15-6 15 0 15 0 15 0 15 0 15 32 15 0 15 1 15-4 15 0 15 0 15-13 15 0 15-9 15 0 15 0 15 19 15 0 15 0 15-1 15 4 15 8 15 0 15 0 15 0 15-8 15 0 15 3 15 2 15 0 15 0 15 0 15 3 15 0 15 0 15 0 15 0 15 18 15 0 15 0 15 0 15-5 15 1 15 3 15-3 15 0 15 0 15-10 15-19 15 0 15-7 15 0 15 0 15 0 15 0 15 7 15 0 15 0 15-16 15 0 15 6 15 0 15 0 15-7 15-6 15-11 15 0 15 0 15 2 15 0 15 0 15 0 15 13 15 0 15-1 15 0 15 0 15-7 15-2 15-1 15-5 15 0 15 0 15 0 15 0 15-13 15 0 15 0 15 0 15 0 15-10 15 0 15 0 15-7 15 0 15 0 15-5 15 0 15 0 15 5 15 0 15 0 15 0 15 0 15-17 15 1 15 0 15 0 15-9 15 0 15 0 15-6 15 0 15 13 15 0 15 12 15 0 15 0 15 24 15 0 15 0 15 0 15 6 15 0 15 0 15-11 15 3 15-5 15 0 15 0 15 0 15 12 15 0 15 142 15 0 15 0 15 0 15 142 15 0 15 0 15 207 15 0 15 0 15 0 15 94 15 120 15 0 15 0 15 0 15 148 15 0 15 152 15 0 15 0 15 0 15 0 15 55 15 0 15 0 15 0 15 0 15 37 15 21 15 0 15 0 15-56 15 0 15 0 15 0 15-82 15-91 15 0 15 0 15-58 15 0 15 0 15 0 15-28 15-12 15 0 15 0 15 18 15 24 15 0 15 0 15 70 15 0 15 0 15 60 15 0 15 0 15 49 15 0 15 0 15 66 15 84 15 0 15 0 15 0 15 0 15-63 15 0"/>
<path stroke="#77AC30" d="M740 698l15 0 15 0 15 58 15 0 15 0 15 72 15 0 15 96 15 0 15 0 15 158 15 0 15 0 15-5 15 54 15 0 15 223 15 0 15 0 15 102 15 0 15 47 15 0 15 0 15 0 15 0 15 270 15 0 15 228 15 0 15 0 15 0 15 6 15 0 15 0 15 0 15 0 15-6 15 0 15 0 15 0 15 0 15-3 15 0 15 0 15 24 15 0 15 18 15 0 15 0 15 8 15 0 15 0 15 0 15-14 15 0 15 0 15-25 15 0 15 0 15-15 15 0 15 0 15 0 15 0 15-2 15 0 15 0 15-14 15 1 15 0 15 0 15 0 15 7 15-3 15 0 15 0 15 9 15 0 15 0 15 0 15 0 15 3 15 0 15 21 15 0 15 0 15 0 15 0 15-3 15 0 15 0 15 2 15 0 15 0 15-3 15 0 15-6 15 0 15 0 15 0 15 0 15-4 15 0 15 1 15 0 15 12 15 0 15 0 15-3 15 0 15-3 15-7 15 0 15 0 15 0 15 0 15 1 15 10 15 0 15 0 15 0 15 0 15 0 15 9 15 1 15-12 15 0 15 0 15 1 15 0 15 0 15-3 15-3 15 0 15 0 15-3 15 1 15 3 15 0 15 0 15-15 15 0 15 0 15 0 15 0 15 2 15-4 15 0 15 0 15 6 15 0 15-3 15 0 15 0 15 0 15 0 15-4 15 0 15-13 15 0 15 0 15-9 15-11 15 0 15 0 15-1 15 0 15 0 15 27 15 0 15 2 15 3 15 0 15 2 15 0 15 0 15 5 15 1 15-6 15 0 15 0 15 0 15 0 15-3 15 0 15 0 15 0 15 4 15 0 15-5 15 0 15 0 15 1 15 0 15 12 15 0 15 0 15 0 15 2 15 0 15 2 15 0 15 0 15 3 15 0 15 3 15-3 15 0 15 0 15 0 15 0 15 5 15-8 15-10 15-4 15 0 15-4 15 0 15 0 15 0 15-4 15 0 15 0 15 0 15 5 15 0 15 0 15 27 15 66 15 104 15 0 15 0 15 126 15 0 15 151 15 0 15 168 15 0 15 141 15 0 15 170 15 0 15 0 15 0 15 0 15 46 15 17 15 0 15 0 15 5 15 0 15 0 15-62 15 0 15-66 15 0 15 0 15-55 15 0 15 0 15-202 15 0 15 0 15-39 15 0 15 0 15 0 15 0 15-31 15 0 15 0 15 0 15 0 15 51 15 0 15-6 15 0 15 55 15 0 15 39 15 45 15 0 15 56 15 0 15 34 15 143 15 0 15 0 15 0 15-23 15 0 15 0 15 0 15-22 15-39 15 0 15 0 15-75 15-14"/>
<path stroke="#4DBEEE" d="M740 634l15-1 15 3 15 8 15 14 15 10 15 5 15 6 15 20 15 28 15 44 15 54 15 57 15 55 15 53 15 63 15 43 15 73 15 91 15 81 15 53 15 52 15 72 15 69 15 50 15 58 15 72 15 50 15 15 15 12 15 54 15 63 15 29 15-3 15-4 15-2 15-3 15-6 15-9 15-12 15-15 15-14 15-10 15-4 15-1 15 0 15 1 15 0 15 2 15 11 15 8 15 2 15 4 15 6 15 3 15 6 15 11 15 8 15 2 15 2 15 2 15-1 15-3 15-5 15-1 15 2 15 0 15-5 15-7 15-6 15-2 15-2 15-4 15 1 15 6 15 8 15 9 15 6 15 2 15 1 15 3 15 1 15 3 15 6 15 8 15 2 15-5 15-1 15 5 15 7 15 9 15 5 15 1 15 3 15 2 15-3 15-5 15-3 15-2 15 0 15 1 15-1 15-4 15-1 15 6 15 8 15 5 15 0 15 0 15 2 15-1 15-3 15 1 15 2 15-3 15 0 15 3 15-1 15-8 15-4 15-1 15 4 15 2 15-1 15 1 15 1 15-1 15-3 15-5 15-1 15 2 15-2 15-9 15-7 15-3 15 1 15-1 15-1 15 0 15 0 15-3 15-6 15-3 15 3 15 5 15 5 15 2 15 0 15 1 15 1 15-1 15 1 15 5 15 6 15 2 15-1 15-4 15-6 15-6 15 0 15 3 15-1 15-6 15-7 15-6 15-7 15-4 15-1 15 3 15 5 15 6 15 5 15 5 15 6 15 2 15-4 15-6 15-2 15-1 15-2 15-1 15 2 15 5 15 7 15 5 15 1 15 0 15 4 15 5 15 3 15 1 15 0 15-1 15-4 15-5 15-3 15 2 15 4 15 6 15 4 15 2 15 0 15-3 15-3 15-1 15 5 15 4 15-1 15-3 15-1 15 2 15 2 15 0 15-1 15-2 15 3 15 4 15 1 15-2 15-2 15-1 15 0 15 3 15 2 15 3 15 0 15-2 15-3 15-3 15-2 15 14 15 23 15 73 15 61 15 69 15 84 15 74 15 38 15 20 15 33 15 37 15 27 15 38 15 67 15 87 15 108 15 116 15 20 15-6 15-4 15-17 15-35 15-36 15-36 15-47 15-74 15-28 15 4 15 0 15-15 15-5 15 16 15 23 15 19 15 24 15 20 15-4 15-28 15-15 15-3 15 3 15 1 15-3 15 0 15 23 15 26 15 11 15 2 15-4 15-8 15-12 15-20 15-23 15-24 15-24 15-21 15-12 15-5 15 4 15 7 15 5 15 7 15 10 15 6 15 6 15 14 15 21 15-6 15 11 15 20 15 16"/>
<path stroke="#A2142F" d="M740 292l15 20 15 32 15 30 15 27 15 34 15 41 15 40 15 35 15 27 15 22 15 29 15 23 15 4 15 5 15 22 15 22 15 18 15 33 15 46 15 43 15 38 15 29 15 14 15 6 15 13 15 26 15 59 15 81 15 132 15 102 15 70 15 54 15 63 15 87 15 117 15 131 15 108 15 34 15 11 15 8 15 10 15 17 15 8 15 0 15 1 15 2 15-2 15-7 15-5 15 0 15 6 15 7 15 4 15 0 15-7 15-11 15-8 15-7 15-8 15-9 15-6 15-1 15 1 15 4 15 3 15-2 15-3 15 3 15 4 15 1 15-2 15-3 15-6 15-7 15-4 15-3 15-11 15-16 15-12 15-4 15 2 15 3 15 2 15 7 15 11 15 9 15-2 15-14 15-12 15-1 15 5 15 1 15-3 15-4 15-3 15-2 15-3 15-5 15-2 15 0 15 0 15-2 15-2 15-1 15-2 15-4 15-1 15 4 15 8 15 5 15-5 15-10 15-3 15-1 15-1 15-3 15-6 15-6 15 5 15 7 15 5 15 6 15 10 15 10 15 11 15 13 15 11 15 10 15 10 15 7 15 4 15 4 15 7 15 6 15 2 15-2 15-4 15-5 15-4 15-4 15-2 15-2 15-4 15-5 15-3 15-2 15-1 15-1 15 1 15 5 15 7 15 5 15 2 15-1 15-1 15 2 15 5 15 1 15-4 15-7 15-10 15-5 15 4 15 4 15 1 15 2 15 3 15 0 15-3 15 1 15 4 15 2 15 2 15 7 15 8 15 5 15-1 15-3 15-8 15-10 15-7 15-3 15-2 15-4 15-2 15-1 15-1 15-3 15-2 15-3 15-6 15-4 15 1 15-1 15 0 15 4 15-1 15-7 15-5 15 0 15 1 15-2 15-1 15 0 15 3 15 6 15 5 15 2 15-1 15 2 15 5 15-1 15-3 15 3 15 8 15 1 15-9 15-9 15-6 15 1 15 2 15 3 15 3 15 6 15-1 15 6 15 7 15 6 15 28 15 111 15 104 15 93 15 89 15 91 15 86 15 80 15 80 15 66 15 36 15 42 15 61 15 49 15 11 15-2 15-12 15-26 15-24 15-10 15-6 15-17 15-19 15-12 15-11 15-28 15-27 15-20 15-18 15-18 15-13 15-12 15-11 15 1 15 10 15 15 15 0 15-16 15-7 15 9 15 3 15-13 15-26 15-14 15-12 15-3 15 0 15-13 15-11 15 11 15 14 15-2 15-18 15-22 15-6 15 11 15 15 15 6 15-9 15-8 15 14 15 36 15 50 15-4 15-8 15-6 15-13 15-10 15-9 15-7 15-6 15 0"/>
<path stroke="#0072BD" d="M740 771l15-1 15-16 15 5 15 40 15 61 15 53 15 36 15 23 15 7 15 3 15 12 15 25 15 35 15 28 15 20 15 24 15 18 15 15 15 39 15 104 15 157 15 112 15 39 15 42 15 100 15 119 15 68 15 16 15 16 15 20 15 9 15 2 15 2 15 1 15 0 15 2 15 5 15 1 15-2 15-2 15 1 15 1 15 0 15-2 15 3 15 2 15 1 15-4 15-8 15-9 15-7 15-4 15-2 15-1 15 0 15 2 15 5 15 4 15-1 15 2 15 7 15 10 15 8 15 0 15-5 15-4 15-3 15 2 15 3 15 1 15-4 15-11 15-12 15-4 15 3 15 2 15 0 15 2 15 0 15-3 15 2 15 7 15 7 15 9 15 9 15 4 15-1 15 0 15 6 15 11 15 9 15 0 15-11 15-13 15-5 15 6 15 6 15-5 15-15 15-10 15-6 15-2 15-2 15-1 15-2 15-2 15-1 15-2 15-1 15 3 15 7 15 8 15 6 15-2 15-10 15-10 15-6 15-9 15-7 15-3 15 2 15 6 15 9 15 5 15 0 15 0 15 0 15-1 15 0 15 1 15 2 15-2 15-4 15-4 15 0 15 4 15 3 15 3 15 1 15 0 15 3 15 6 15 5 15 0 15-1 15 0 15 2 15 1 15-1 15-1 15 0 15-2 15-3 15-3 15-1 15-1 15-4 15-4 15-5 15-2 15-2 15 0 15 2 15 0 15-1 15-2 15-4 15-2 15 0 15 1 15 4 15 6 15 0 15-4 15-3 15 1 15 0 15 1 15 1 15 2 15 1 15 1 15-1 15 2 15 5 15 7 15 3 15-1 15-1 15 1 15 3 15 2 15 0 15-3 15-3 15-2 15-2 15-2 15-2 15 0 15 3 15 3 15 0 15-1 15 0 15 3 15 6 15 5 15 1 15 0 15-1 15-3 15-1 15 2 15 3 15-3 15-7 15-2 15 6 15 3 15 2 15 6 15 7 15 2 15-4 15-6 15-5 15-2 15 3 15 4 15 10 15 29 15 68 15 48 15 66 15 88 15 88 15 79 15 63 15 56 15 82 15 111 15 94 15 39 15 0 15 0 15 23 15 30 15 44 15 21 15 10 15-9 15-9 15-1 15 3 15 5 15 3 15-7 15 0 15 4 15 5 15-4 15-15 15-13 15 3 15 14 15 10 15-18 15-56 15-66 15-44 15-26 15-17 15-10 15-7 15 3 15 2 15 5 15 2 15 3 15 12 15 26 15 28 15 35 15 39 15 29 15 10 15 13 15 34 15 36 15 12 15 1 15 5 15 5 15-4 15-34 15-37 15-36 15-56 15-49"/>
<path stroke="#D95319" d="M740 508l15 151 15 0 15 21 15 24 15 0 15 24 15 57 15 0 15 0 15 0 15 0 15 125 15 0 15 0 15 0 15 86 15 0 15 0 15 39 15 0 15 0 15 0 15 0 15 153 15 0 15 463 15 0 15 0 15 0 15 146 15 0 15 53 15 0 15 0 15 143 15 27 15 17 15 4 15 0 15 0 15 0 15 0 15 1 15 0 15 0 15 0 15 1 15-11 15 0 15 0 15 0 15 0 15-8 15 5 15 0 15 17 15 0 15 0 15 0 15-17 15 0 15 0 15-28 15 0 15 0 15-16 15 0 15 0 15-7 15 0 15 5 15 21 15 0 15 0 15 0 15 0 15 4 15 0 15 3 15 1 15 0 15 0 15 0 15 0 15 0 15 0 15 10 15 0 15 0 15 0 15 0 15 9 15-7 15 0 15 0 15 0 15-2 15 0 15 0 15 0 15 0 15 0 15-2 15 0 15 0 15 0 15 5 15-6 15 0 15-2 15 6 15 0 15-4 15-3 15 0 15 0 15 3 15 0 15 0 15 9 15 0 15 0 15-13 15 0 15 0 15 0 15-17 15 0 15 0 15 4 15 0 15 2 15-10 15 0 15 0 15 0 15 0 15-5 15 0 15-13 15 0 15 0 15 0 15-11 15 0 15 5 15 0 15 0 15 4 15 0 15 0 15 0 15-3 15 0 15 0 15 0 15-15 15 0 15 0 15 4 15 0 15 3 15 0 15 0 15 16 15 10 15 0 15 0 15 0 15 0 15 18 15 5 15 0 15-2 15 0 15-10 15 0 15 0 15 7 15 0 15 11 15 0 15 0 15 0 15 0 15 14 15 0 15 0 15 0 15-13 15 0 15-4 15 0 15-10 15 0 15-11 15 0 15 0 15 0 15 3 15 0 15 0 15 0 15 6 15 0 15 0 15 0 15 4 15 0 15 0 15 0 15 11 15 0 15 0 15-23 15 0 15 0 15 0 15 0 15 4 15 0 15 14 15 0 15 0 15 27 15 0 15 0 15 0 15 0 15 3 15 21 15 0 15 3 15 0 15 58 15 0 15 0 15 0 15 0 15 199 15 0 15 0 15 0 15 0 15 497 15 0 15 0 15 0 15 165 15 0 15 0 15 0 15 138 15 0 15 0 15 0 15-7 15-21 15-172 15 0 15 0 15 0 15-75 15 0 15 0 15 0 15-118 15 0 15 0 15-23 15 0 15 0 15 0 15 64 15 0 15 0 15 0 15 42 15 0 15 0 15 0 15 64 15 0 15 0 15 0 15 0 15 38 15 37 15 0 15 0 15-8 15 0 15-47 15 0 15 0 15 0 15 0 15-122 15 0 15 0"/>
<path stroke="#EDB120" d="M740 631l15 0 15 63 15 0 15 0 15 117 15 0 15 0 15 65 15 52 15 0 15 0 15 20 15 0 15 0 15 0 15 0 15 164 15 0 15 92 15 0 15 0 15 0 15 0 15 208 15 0 15 84 15 82 15 114 15 0 15 0 15 244 15 0 15 0 15 104 15 0 15-7 15 0 15 0 15 0 15-7 15 0 15 0 15-29 15 0 15 0 15 0 15 0 15-1 15 0 15-4 15 0 15-1 15 0 15 0 15 0 15 0 15 6 15 7 15 0 15 0 15 19 15 0 15 0 15 0 15-20 15 0 15 0 15 0 15 0 15-7 15 0 15 0 15 0 15-20 15 0 15 0 15 0 15 0 15 0 15 3 15 0 15 0 15 0 15 0 15 7 15 0 15-3 15 0 15 5 15 0 15 0 15 0 15 0 15-11 15 0 15 0 15 0 15 0 15 0 15 0 15 10 15 0 15 8 15 0 15 0 15-8 15 0 15 1 15 0 15 0 15 0 15 0 15 32 15 0 15 1 15 0 15 2 15 0 15 11 15 0 15 0 15-10 15-11 15 0 15 0 15 0 15 0 15 14 15 0 15 0 15-25 15 0 15 0 15-4 15 0 15 0 15-16 15 0 15 0 15 0 15 0 15 1 15 0 15 0 15 0 15-3 15 0 15 0 15-7 15 1 15 1 15 0 15-6 15 0 15 0 15 0 15 3 15-6 15 0 15 0 15 0 15 0 15 12 15 0 15 0 15 0 15-4 15 0 15-5 15 0 15 0 15 11 15 0 15 5 15 0 15 0 15 0 15 0 15 3 15 0 15 3 15 0 15 5 15 0 15 0 15 0 15 4 15 0 15-2 15 0 15 9 15 0 15 0 15 7 15 0 15 0 15 0 15 9 15 0 15 0 15-8 15 0 15 0 15-1 15 0 15 0 15 1 15 0 15 0 15 0 15-5 15 0 15 0 15 6 15 0 15 0 15 4 15 0 15 0 15 0 15 1 15 0 15-7 15 0 15 0 15-10 15 0 15 0 15-6 15-5 15-16 15 0 15 70 15 132 15 0 15 0 15 146 15 0 15 0 15 0 15 36 15 77 15 0 15 75 15 181 15 0 15 0 15 0 15 0 15 221 15 37 15 31 15 0 15-23 15-58 15 0 15 0 15 0 15 0 15-61 15 0 15 0 15 0 15 0 15-60 15 0 15 0 15 0 15 0 15-52 15 0 15 0 15-22 15 0 15 0 15 0 15-7 15 0 15 0 15-35 15-23 15 0 15 4 15 0 15 0 15 30 15 0 15 0 15 55 15 0 15 5 15 0 15 0 15 66 15 0 15 0 15 41 15 0 15 0 15 0"/>
<path stroke="#7E2F8E" d="M740 625l15 0 15 29 15 0 15 0 15 124 15 0 15 0 15 178 15 0 15 0 15 0 15 1 15 74 15 0 15 0 15 0 15 0 15 108 15 55 15 0 15 0 15 354 15 0 15 0 15 0 15 0 15 443 15 0 15 0 15 89 15 0 15 0 15 3 15 0 15 0 15 0 15-18 15 0 15 0 15-19 15 0 15-30 15 0 15 10 15 0 15 0 15 10 15 0 15 0 15 10 15 0 15 0 15 25 15 0 15 0 15 0 15-6 15 0 15-11 15 0 15-6 15 0 15 0 15-6 15 0 15 0 15 0 15 13 15 0 15-2 15 0 15-9 15 0 15-9 15 0 15 0 15 10 15 0 15 0 15-10 15 0 15-9 15-8 15-14 15 0 15-18 15 0 15 0 15 0 15 0 15 0 15 8 15 0 15 14 15 0 15 0 15 0 15 0 15-3 15-2 15 0 15-3 15 0 15 0 15 6 15 0 15 0 15 0 15 4 15 0 15 3 15-14 15 0 15 0 15-18 15 0 15 0 15-15 15 0 15-5 15 0 15-6 15 0 15 0 15 34 15 0 15 0 15 0 15 0 15 10 15-3 15-14 15 0 15 0 15 0 15 0 15-4 15 0 15 0 15 0 15 0 15 3 15-8 15 0 15 0 15 1 15 5 15 10 15 0 15 0 15 0 15 0 15 6 15 0 15 0 15-6 15 0 15 5 15 0 15-2 15 0 15-1 15 0 15 7 15 0 15 0 15 0 15-14 15 0 15 0 15 0 15 0 15 0 15 0 15-8 15 0 15 0 15 0 15 0 15 0 15 0 15 0 15 11 15 0 15 0 15 0 15 8 15 0 15-10 15 0 15 0 15 7 15 0 15 0 15 0 15 9 15 0 15-13 15 0 15 0 15 21 15 0 15 0 15 19 15 0 15 0 15 18 15 0 15 0 15 0 15 12 15 0 15 0 15 0 15 0 15 3 15 0 15-5 15 10 15 0 15 9 15-8 15 0 15-6 15 1 15 7 15 0 15 9 15 0 15 0 15 0 15 0 15 166 15 0 15 207 15 0 15 0 15 0 15 299 15 0 15 0 15 0 15 226 15 0 15 0 15 110 15 195 15 0 15 0 15 0 15-4 15-6 15 0 15 0 15 0 15 0 15 24 15 0 15 0 15-27 15 0 15-96 15 0 15-60 15-137 15 0 15-293 15 0 15 0 15 0 15-162 15 0 15 0 15-100 15 0 15 0 15 68 15 0 15 30 15 0 15 0 15 290 15 0 15 0 15 0 15 0 15 34 15 0 15 0 15 114 15 0 15 0 15 95 15 43 15 51 15 0 15-39 15 0 15-34 15-2"/>
<path stroke="#77AC30" d="M740 700l15 0 15 156 15 0 15 0 15 0 15 0 15 99 15 0 15 0 15 0 15 0 15 33 15 0 15 8 15 13 15 0 15 80 15 0 15 0 15 123 15 38 15 26 15 113 15 0 15 237 15 0 15 0 15 293 15 0 15 118 15 0 15 4 15 12 15 0 15 0 15 17 15 8 15 6 15-9 15 0 15-12 15-14 15 0 15 0 15-19 15 0 15 0 15-28 15 0 15 0 15 0 15 0 15-36 15 0 15 0 15 0 15 0 15 10 15 18 15 0 15 0 15 10 15 0 15 0 15-5 15 0 15-4 15-6 15 0 15 0 15 0 15 0 15 4 15 0 15 0 15 5 15 0 15 0 15-4 15 0 15 0 15-9 15 0 15 8 15 0 15 6 15 0 15 0 15 0 15 0 15-3 15 3 15 4 15 0 15 6 15-1 15 0 15-7 15 0 15 0 15 0 15 11 15 0 15 14 15 0 15 0 15 0 15 0 15 1 15 0 15 2 15 2 15 1 15-6 15 0 15 0 15-20 15 0 15 0 15 0 15 0 15-5 15-1 15-1 15 7 15 0 15 0 15 0 15 0 15-8 15 0 15-11 15 0 15 0 15 2 15 0 15 0 15 0 15 0 15 0 15-1 15 0 15 0 15-14 15 0 15 0 15 0 15-16 15 0 15 0 15 0 15 0 15-6 15 8 15 0 15 0 15 0 15 14 15 0 15 0 15 7 15 0 15-1 15 0 15 2 15 0 15 0 15 0 15-9 15 0 15 0 15 0 15 8 15 0 15-4 15 0 15 0 15 3 15 8 15 0 15 13 15 0 15 0 15-7 15 0 15 8 15 0 15 3 15 3 15-3 15 0 15 0 15 1 15 6 15 0 15 0 15-7 15 0 15 0 15 0 15 0 15-1 15 2 15 0 15 0 15-8 15 0 15 0 15-2 15-12 15 0 15 0 15 0 15 0 15 0 15 0 15 0 15-7 15 0 15-3 15 0 15 0 15 0 15 14 15 0 15-4 15 0 15 0 15 20 15 0 15 0 15 146 15 0 15 0 15 162 15 0 15 0 15 0 15 0 15 319 15 0 15 0 15 0 15 264 15 0 15 0 15 25 15 79 15 42 15 0 15-5 15 0 15 0 15-23 15 0 15 0 15 0 15-22 15-24 15 0 15 0 15-32 15 0 15-15 15-60 15 0 15-116 15 0 15-28 15-140 15 0 15 0 15 0 15-21 15 0 15 74 15 0 15 0 15 0 15 0 15 92 15 0 15 0 15 91 15 28 15 0 15 0 15 55 15 0 15 0 15 91 15 0 15 0 15 0 15-40 15 0 15 0 15 0 15 0 15-45"/>
<path stroke="#4DBEEE" d="M740 813l15 0 15 0 15 144 15 0 15 45 15 0 15 0 15 13 15 0 15 0 15 11 15 0 15 0 15 7 15 15 15 13 15 0 15 0 15 60 15 220 15 0 15 83 15 0 15 256 15 0 15 0 15 0 15 103 15 0 15 17 15 113 15 0 15 0 15 113 15 32 15 0 15 0 15 20 15 0 15-3 15 0 15 0 15-10 15-12 15 0 15-26 15 0 15 0 15 0 15-24 15 0 15-8 15 0 15 0 15 0 15 0 15 27 15 0 15 0 15 17 15 0 15-4 15-5 15 1 15 0 15 4 15 0 15 0 15 16 15 0 15 0 15 0 15 0 15 20 15 0 15 0 15 0 15 0 15 15 15 0 15 0 15 0 15 0 15 5 15 0 15 0 15 0 15 0 15 11 15 0 15 7 15 4 15 0 15 0 15 7 15 0 15 0 15-29 15 0 15 0 15 0 15 0 15-17 15 0 15 3 15 0 15 0 15 0 15 0 15 16 15 0 15 0 15 0 15 0 15 0 15-15 15 0 15 0 15 0 15 1 15 0 15 0 15 15 15 0 15 0 15-9 15 0 15 0 15 0 15 0 15-5 15 0 15 0 15 0 15 0 15-27 15 0 15 0 15 0 15-3 15 0 15 11 15 0 15 0 15 0 15 0 15 40 15 0 15 10 15 0 15 0 15-7 15 0 15 0 15 0 15 0 15-9 15 0 15 0 15-12 15-9 15 0 15 0 15 6 15 3 15-2 15-6 15 0 15 0 15 0 15-8 15 0 15 0 15 0 15 0 15-23 15-23 15 0 15 0 15-19 15 0 15 0 15 0 15 0 15-12 15-1 15-4 15 0 15 0 15-2 15-2 15-8 15 0 15 0 15 0 15-1 15 0 15 0 15 0 15 5 15 0 15 0 15 0 15 9 15 0 15 0 15 0 15 13 15 0 15 0 15 14 15 4 15 0 15 0 15-8 15 0 15 0 15-6 15-11 15 0 15 0 15 0 15 0 15 7 15 0 15 0 15 8 15 0 15 137 15 0 15 69 15 0 15 0 15 56 15 0 15 0 15 152 15 0 15 28 15 42 15 74 15 187 15 0 15 0 15 0 15 0 15 37 15 0 15 0 15 9 15 5 15 18 15 0 15 4 15 0 15 0 15 0 15 0 15-30 15 0 15 0 15 5 15-36 15 0 15-30 15 0 15 6 15 0 15 0 15 9 15 0 15 0 15 0 15 43 15 0 15-4 15 5 15 58 15 0 15 0 15 107 15 0 15 0 15 39 15 0 15 51 15 0 15 0 15 62 15 0 15 0 15 0 15 0 15 3 15 0 15-26 15 0 15 0 15-37 15 0"/>
<path stroke="#A2142F" d="M740 1025l15 0 15 0 15 0 15 0 15 87 15 27 15 16 15 18 15 48 15 0 15 34 15 227 15 0 15 0 15 0 15 0 15 237 15 0 15 183 15 0 15 0 15 218 15 30 15 0 15 0 15-4 15 0 15 0 15 0 15-25 15 0 15 0 15 32 15 0 15-1 15 0 15 0 15-24 15 0 15-25 15 0 15-2 15 0 15 5 15 8 15 3 15 0 15 0 15-3 15-9 15 0 15 0 15-23 15 0 15 0 15 0 15 28 15 0 15-1 15 0 15 0 15-10 15-15 15 0 15-11 15 0 15-6 15 0 15 0 15 14 15 0 15 25 15 0 15 0 15 19 15 0 15 0 15 1 15 0 15 0 15-12 15 0 15-14 15 0 15 13 15 0 15 0 15-27 15 0 15 0 15 4 15 10 15 0 15 0 15 0 15 0 15 5 15 0 15 6 15 0 15 0 15 2 15 0 15 0 15 0 15 18 15 0 15 0 15 0 15 0 15-39 15 0 15 0 15 0 15 0 15 32 15 0 15 0 15-21 15 0 15 0 15 0 15 0 15 42 15 0 15 18 15 12 15 5 15-3 15-2 15 0 15 8 15-11 15 0 15 0 15 0 15 0 15-20 15-21 15 0 15 0 15-32 15 0 15 0 15 0 15 0 15-40 15 0 15 0 15 0 15-9 15 0 15 5 15 0 15 0 15 16 15 0 15-3 15 0 15 0 15 12 15 0 15-29 15 0 15 0 15-3 15 0 15-1 15 0 15 31 15 0 15 0 15 0 15 0 15 6 15 0 15 0 15 0 15 0 15-15 15 0 15 0 15-4 15-12 15 0 15-3 15 0 15 0 15-12 15 14 15 0 15 0 15 20 15 0 15 0 15 21 15 0 15 0 15-1 15 0 15-14 15 0 15 0 15-16 15-17 15 0 15 0 15 0 15 0 15 3 15 0 15 0 15 0 15-25 15 0 15 0 15 0 15-1 15 0 15-9 15 16 15 0 15 0 15 21 15 13 15 28 15 0 15 0 15 169 15 0 15 144 15 0 15 0 15 0 15 193 15 0 15 0 15 173 15 0 15 58 15 0 15 0 15 122 15 0 15 226 15 0 15 0 15 0 15 7 15-17 15 0 15 0 15 0 15 0 15 50 15 0 15 0 15 0 15-15 15-56 15 0 15 0 15 0 15 0 15-52 15 0 15-26 15-12 15 0 15 0 15-7 15-48 15 0 15-4 15 0 15 0 15 8 15 0 15 3 15-42 15 0 15 0 15 0 15 119 15 0 15 0 15 0 15 110 15 0 15 0 15 0 15 0 15 10 15 0 15-3 15 0 15 0 15 0 15-98 15 0"/>
<path stroke="#0072BD" d="M740 423l15 32 15 18 15 24 15 43 15 51 15 47 15 36 15 15 15-7 15-24 15-19 15 8 15 28 15 27 15 19 15 19 15 23 15 31 15 31 15 10 15-3 15 4 15 31 15 61 15 68 15 70 15 52 15 9 15 3 15 59 15 133 15 141 15 96 15 52 15 64 15 108 15 121 15 73 15 20 15 8 15 27 15 5 15 5 15 10 15 20 15 7 15 8 15 2 15-1 15-1 15 1 15 4 15 4 15 1 15-5 15-5 15-4 15-10 15-15 15-6 15 5 15 4 15 0 15 2 15 2 15 0 15-1 15-3 15-4 15-4 15-4 15-4 15-2 15-5 15-6 15-4 15-3 15-1 15 5 15 9 15 4 15 0 15-4 15-7 15-4 15 5 15 6 15 3 15 2 15 4 15 3 15 3 15-2 15-2 15 1 15-4 15-6 15-1 15-1 15-6 15-8 15-5 15 0 15 1 15 0 15 0 15 2 15 3 15 1 15 2 15 2 15 0 15-4 15-1 15-1 15-5 15-4 15-4 15 1 15-1 15-2 15-3 15-1 15 1 15 4 15 2 15 1 15 0 15 1 15 0 15-1 15 1 15 3 15 3 15 4 15 6 15 4 15-2 15-5 15-1 15-1 15-3 15 0 15 1 15 0 15-2 15-3 15-5 15-1 15 0 15-1 15-1 15-4 15-5 15-2 15 0 15 3 15 6 15 4 15-1 15-4 15-2 15-3 15-3 15-2 15-1 15-1 15 1 15-1 15-2 15 3 15 8 15 9 15 6 15 3 15-1 15-2 15-1 15 1 15 2 15 1 15 0 15 1 15 1 15-1 15-3 15-6 15-4 15-1 15-3 15-7 15-1 15 4 15 7 15 6 15 1 15-2 15-1 15-1 15 0 15 4 15 2 15-4 15-6 15-1 15 1 15-2 15-5 15-4 15-1 15 2 15-1 15-3 15-6 15-4 15-2 15-1 15 4 15 0 15-5 15-3 15 3 15 6 15 6 15 0 15-1 15 53 15 57 15 58 15 69 15 84 15 75 15 61 15 52 15 39 15 32 15 45 15 69 15 88 15 83 15 51 15 35 15 61 15 27 15 12 15-4 15 6 15 19 15 17 15 9 15 15 15 29 15 19 15 17 15 6 15-9 15-24 15-26 15-22 15-33 15-39 15-36 15-40 15-49 15-48 15-61 15-53 15-25 15-27 15-11 15 1 15 4 15 12 15 29 15 30 15 20 15 42 15 65 15 50 15 34 15 40 15 37 15 19 15 16 15 31 15 46 15 43 15 16 15 1 15-10 15-3 15-2 15-12 15-34 15-59 15-62 15-43 15-26 15-8 15-9"/>
<path stroke="#D95319" d="M740 439l15 6 15 14 15 25 15 24 15 13 15 9 15 8 15 15 15 29 15 33 15 30 15 19 15 7 15 21 15 52 15 76 15 60 15 41 15 36 15 30 15 30 15 80 15 110 15 98 15 23 15-19 15-22 15-1 15 33 15 76 15 115 15 127 15 82 15 9 15-15 15 57 15 153 15 74 15 14 15-8 15-3 15 2 15 3 15 4 15 4 15-2 15-9 15-13 15-15 15-14 15-11 15-7 15-2 15 1 15 2 15 5 15 4 15 0 15-2 15 2 15 5 15 6 15 8 15 10 15 10 15 10 15 6 15 4 15 3 15 5 15 7 15 10 15 9 15 1 15-1 15 1 15 1 15-2 15-7 15-10 15-7 15-6 15-10 15-9 15-3 15 5 15 9 15 10 15 10 15 8 15 7 15 6 15 4 15 2 15 2 15 2 15 3 15 1 15-2 15-3 15-4 15-4 15-5 15-3 15 0 15 2 15 2 15-2 15-5 15-5 15-5 15-5 15-7 15-5 15 0 15 0 15-6 15-13 15-2 15 3 15 2 15-1 15 1 15 3 15-1 15-5 15-9 15-10 15-8 15-7 15-10 15-5 15 1 15 1 15-2 15 0 15 4 15 3 15 1 15 2 15 5 15 3 15 2 15 4 15 5 15 2 15 0 15-1 15 1 15 4 15 5 15 2 15-3 15-3 15-4 15 2 15 9 15 8 15 7 15 3 15-1 15-5 15-4 15 0 15 5 15 5 15 5 15 4 15-1 15-2 15 4 15 6 15 5 15 3 15 0 15 0 15 1 15 2 15-1 15-3 15-2 15 0 15 0 15 0 15 1 15 1 15-3 15-6 15-4 15 2 15 4 15 3 15 1 15-3 15-9 15-8 15-1 15 4 15 6 15 9 15 6 15 2 15 1 15 2 15-1 15-1 15 2 15-1 15-2 15-2 15-1 15 3 15 8 15 6 15-2 15-4 15 0 15 0 15-6 15 9 15 17 15 68 15 30 15 4 15 5 15 28 15 39 15 26 15 29 15 58 15 77 15 71 15 59 15 49 15 49 15 52 15 51 15 49 15 61 15 27 15 34 15 28 15 22 15 8 15 1 15 6 15 19 15 13 15 4 15-10 15-16 15-14 15-15 15-23 15-30 15-31 15-29 15-23 15-15 15-1 15-9 15-22 15-25 15-33 15-34 15 9 15 16 15 15 15 14 15 20 15 19 15 14 15 3 15-10 15-7 15 9 15 20 15 18 15 22 15 24 15 18 15 13 15 17 15 25 15 21 15 25 15 36 15-2 15-25 15-48 15-31 15-17 15-24 15-24 15-17 15-11 15-8 15 0 15 7 15-6"/>
<path stroke="#EDB120" d="M740 559l15 6 15 28 15 0 15 23 15 31 15 0 15 180 15 0 15 0 15 0 15 0 15 132 15 21 15 0 15 0 15 0 15 101 15 0 15 0 15 251 15 0 15 0 15 405 15 0 15 30 15 0 15-26 15 17 15 278 15 0 15 0 15 0 15 36 15 0 15 0 15-23 15 0 15 0 15 0 15-23 15 0 15 0 15 0 15-9 15 0 15 0 15 0 15 19 15 0 15 0 15 0 15-16 15 0 15 0 15 0 15 0 15-25 15 0 15-8 15 0 15 0 15 0 15 0 15 18 15 0 15 0 15 45 15 0 15 0 15 0 15 0 15 7 15 0 15 0 15 0 15-21 15 0 15-3 15 0 15 0 15 0 15-5 15 0 15 0 15 0 15 0 15 1 15 0 15 0 15-10 15 0 15-1 15 0 15 0 15-5 15 1 15 4 15 0 15 9 15 0 15 0 15 0 15 17 15 0 15 0 15 19 15 0 15 0 15 1 15 0 15 0 15 0 15-19 15 0 15 0 15-3 15 0 15 0 15 0 15 0 15 26 15-3 15 0 15 8 15 0 15 1 15 0 15 0 15 0 15 0 15 4 15 0 15 0 15-3 15 0 15 7 15 0 15 12 15 0 15 0 15-10 15 0 15-2 15-9 15 0 15 0 15-21 15 0 15 4 15 0 15 0 15 0 15 6 15 0 15 0 15 1 15 0 15 1 15 0 15 2 15 0 15 6 15 0 15-9 15 0 15-7 15 0 15 0 15-7 15-5 15-12 15 0 15-9 15 0 15 0 15 1 15-2 15-9 15 0 15 0 15-3 15 0 15-17 15 0 15 0 15 0 15 0 15 6 15 0 15 9 15 5 15-6 15 0 15 0 15 1 15 0 15 0 15 17 15 3 15 0 15-7 15 0 15 0 15 4 15 0 15 0 15 0 15 0 15-4 15-2 15-9 15 0 15 0 15-5 15 0 15 0 15 18 15 0 15 0 15-3 15 0 15 0 15 17 15 0 15 101 15 0 15 81 15 187 15 0 15 0 15 97 15 0 15 0 15 140 15 0 15 0 15 113 15 0 15 0 15 0 15 226 15 0 15 0 15 0 15 0 15 200 15 0 15 0 15 0 15-15 15 0 15 0 15-31 15-15 15 0 15 0 15 0 15-38 15 0 15 0 15-32 15 0 15-47 15 0 15 0 15-118 15-109 15 0 15-16 15 0 15 0 15 0 15 0 15-105 15 0 15-10 15 0 15 0 15 30 15 0 15 77 15 0 15 0 15 108 15 0 15 105 15 0 15 31 15 22 15-4 15 0 15 0 15 0 15 0 15-79 15 0 15-26 15 0 15 0 15-19"/>
<path stroke="#7E2F8E" d="M740 712l15 0 15 0 15 0 15 0 15 53 15 32 15 0 15 0 15 100 15 0 15 0 15 195 15 0 15 0 15 0 15 11 15 0 15 0 15 0 15 0 15 133 15 0 15 135 15 0 15 155 15 0 15 0 15 160 15 122 15 0 15 98 15 0 15 0 15 111 15 0 15 0 15 0 15-4 15 0 15 0 15-3 15 0 15 0 15-8 15 0 15 0 15-12 15 4 15 0 15 0 15 0 15 5 15 2 15 0 15-4 15-2 15 0 15 0 15-4 15 0 15 0 15 0 15-6 15 0 15-18 15 0 15 0 15 0 15 5 15 0 15 6 15 8 15 8 15 16 15 0 15 7 15 0 15 3 15 0 15 0 15 0 15 0 15 17 15 0 15 0 15 5 15-4 15 0 15-3 15 0 15 0 15 12 15 0 15 0 15 0 15-7 15 0 15 14 15 0 15 0 15 0 15 0 15-4 15 0 15 0 15 0 15 15 15 2 15 0 15 4 15 0 15 0 15 0 15 5 15 0 15 0 15-6 15 0 15 0 15-14 15 0 15 0 15 0 15 0 15-10 15 0 15 0 15-8 15 0 15-7 15 0 15 0 15-5 15 0 15 0 15 0 15-3 15-1 15-6 15 0 15 0 15 0 15 0 15 4 15 0 15 0 15 3 15 0 15 0 15 0 15 3 15 0 15-2 15 0 15 0 15 5 15 0 15 0 15 0 15 20 15 0 15 0 15 0 15-1 15 0 15 9 15 0 15 0 15-12 15 0 15 0 15 0 15-19 15 0 15 0 15 0 15-7 15 0 15 0 15 0 15 25 15 0 15 0 15 0 15 0 15 3 15 0 15-9 15 0 15-4 15 0 15 0 15-8 15 0 15 0 15 0 15 0 15 6 15 0 15 0 15 0 15 0 15 0 15 0 15 0 15-7 15 0 15 0 15-6 15 0 15 0 15 0 15-7 15 0 15 0 15 0 15 0 15 1 15-4 15 0 15 0 15 7 15 0 15 0 15 13 15 0 15 0 15 0 15 0 15-26 15 0 15 0 15-5 15 0 15 32 15 0 15 0 15 221 15 0 15 0 15 0 15 0 15 127 15 165 15 0 15 125 15 0 15 0 15 127 15 45 15 26 15 23 15 16 15 62 15 0 15 0 15 29 15 67 15 0 15 55 15 0 15-19 15 0 15 0 15 0 15-70 15 0 15 0 15-168 15 0 15 0 15-114 15 0 15 0 15-17 15-81 15 0 15 0 15 0 15 21 15 0 15 60 15 0 15 0 15 0 15 47 15 77 15 0 15 0 15 0 15 0 15 181 15 0 15 0 15 0 15 0 15-5 15-90 15 0 15 0"/>
<path stroke="#77AC30" d="M740 787l15 8 15 14 15 18 15 21 15 28 15 38 15 44 15 26 15 23 15 42 15 50 15 45 15 47 15 62 15 42 15 44 15 90 15 82 15 37 15 12 15 43 15 82 15 73 15 32 15 40 15 82 15 101 15 88 15 18 15 9 15-3 15 2 15 2 15-4 15-4 15 1 15-4 15-9 15-10 15-11 15-9 15-6 15 1 15-4 15-11 15-8 15-5 15-7 15-9 15-8 15-2 15 3 15 3 15-2 15-1 15 4 15 5 15 6 15 9 15 7 15 5 15 6 15 3 15 3 15 5 15 4 15-1 15-4 15-5 15-1 15-1 15-4 15-7 15-7 15-5 15-5 15-4 15-5 15-2 15 6 15 13 15 8 15 0 15 0 15 1 15 1 15 0 15 1 15 1 15 1 15 5 15 7 15 3 15-4 15-4 15 1 15-1 15-3 15-4 15-6 15-10 15-6 15 0 15 5 15 3 15 0 15 0 15 6 15 9 15 8 15 7 15 5 15 2 15 1 15 0 15 3 15 5 15-6 15-9 15-9 15-8 15-7 15-3 15 3 15 3 15-6 15-13 15-10 15-2 15 3 15 3 15 3 15 5 15 4 15 3 15 1 15-2 15-3 15-1 15 1 15 0 15-4 15-6 15-6 15-6 15-5 15 1 15 4 15 4 15-1 15-3 15 1 15 3 15 1 15-2 15-3 15-1 15 2 15 5 15 1 15-1 15 1 15 4 15 2 15-3 15-6 15-3 15 3 15 6 15 6 15 6 15 4 15-2 15-5 15-10 15-9 15-1 15 6 15 9 15 5 15 0 15-6 15-7 15-5 15 1 15 4 15 7 15 5 15 1 15-1 15 2 15 3 15 2 15 0 15-2 15-1 15-1 15 0 15 1 15 0 15-2 15-2 15-1 15-3 15-5 15-5 15-2 15 3 15 3 15 3 15 5 15 6 15 0 15-6 15-4 15 2 15 6 15 4 15 2 15 7 15 8 15 8 15 3 15-6 15-12 15-2 15 2 15-1 15 19 15 94 15 95 15 80 15 68 15 71 15 83 15 83 15 65 15 46 15 40 15 42 15 52 15 67 15 70 15 31 15 28 15 11 15 4 15-10 15-11 15-2 15 4 15-2 15-21 15-21 15-8 15-2 15-9 15-15 15-14 15-17 15-12 15-12 15-8 15-29 15-45 15-41 15-24 15-9 15-13 15-33 15-47 15-17 15 13 15 11 15 3 15 11 15 28 15 16 15 4 15 11 15 22 15 18 15 2 15-11 15-7 15 15 15 31 15 37 15 38 15 34 15 25 15 23 15 17 15-6 15-13 15 2 15 12 15 6 15 4 15 11"/>
<path stroke="#4DBEEE" d="M740 919l15 0 15 0 15 0 15 104 15 0 15 0 15 0 15 93 15 0 15 194 15 0 15 188 15 0 15 0 15 199 15 136 15 112 15 60 15 50 15 0 15 15 15 24 15 0 15 30 15 0 15 0 15 0 15 0 15-4 15 0 15 11 15-13 15 0 15 0 15 0 15 0 15-7 15-9 15 0 15-10 15 0 15 0 15 42 15 0 15 0 15 0 15 0 15 22 15 0 15-10 15 0 15 0 15 0 15 0 15-1 15 0 15 0 15-3 15 0 15 0 15-1 15 0 15-5 15-16 15 0 15 0 15 17 15 0 15 0 15-34 15 0 15 0 15 0 15-8 15-3 15 0 15 0 15 0 15 56 15 0 15 0 15 0 15-9 15 3 15 0 15 9 15-7 15 0 15-7 15 0 15 0 15-46 15 0 15 0 15-43 15 0 15 0 15 0 15 9 15 0 15 0 15 0 15 2 15 0 15 8 15 0 15 9 15 0 15 0 15 0 15 3 15 0 15 0 15-1 15 0 15 0 15-57 15 0 15 0 15 0 15-12 15 0 15-3 15 0 15 1 15 4 15 0 15 22 15 0 15 0 15 5 15-20 15 0 15 27 15 0 15 0 15 0 15-17 15-1 15 0 15 0 15 0 15 11 15 3 15 10 15 10 15 0 15-26 15 0 15 0 15 0 15 2 15 0 15 0 15 12 15 0 15 0 15-20 15-10 15 0 15 0 15-53 15 0 15 0 15 0 15 0 15-9 15 0 15 0 15 0 15 0 15 0 15 0 15-1 15 0 15 0 15 0 15 9 15 6 15-2 15-15 15 0 15 0 15 0 15 0 15-24 15-6 15 22 15 0 15 0 15 0 15 33 15 0 15 0 15 63 15 0 15 0 15 0 15 0 15-11 15-10 15-19 15 2 15 0 15 0 15 0 15 0 15 27 15 0 15 8 15 0 15 0 15 0 15 0 15 0 15 0 15 1 15 18 15 0 15 0 15 0 15 13 15 0 15 0 15 194 15 0 15 50 15 58 15 0 15 0 15 198 15 0 15 111 15 0 15 40 15 0 15 0 15 162 15 0 15 172 15 0 15 0 15 0 15 0 15 10 15 0 15 0 15-84 15 0 15 0 15 0 15 0 15-52 15 0 15 0 15 0 15 0 15-36 15 0 15 0 15-47 15 11 15 0 15 24 15 28 15 12 15 0 15 0 15-46 15 0 15-27 15 0 15 0 15-132 15 0 15-27 15 0 15 0 15 29 15 0 15 0 15 0 15 62 15 0 15 83 15 0 15 57 15 57 15 0 15 23 15 0 15 11 15 56 15 0 15 0 15 0 15 0 15 19 15 6 15 0"/>
<path stroke="#A2142F" d="M740 560l15 7 15 6 15 18 15 26 15 21 15 13 15 10 15 22 15 47 15 53 15 35 15 20 15 19 15 27 15 50 15 63 15 48 15 23 15 19 15 8 15 2 15 18 15 33 15 61 15 65 15 54 15 45 15 35 15 29 15 54 15 93 15 106 15 105 15 110 15 93 15 25 15 22 15 9 15-12 15-10 15-9 15-11 15-5 15-3 15-7 15-8 15 1 15 12 15 13 15 0 15-9 15-4 15 4 15 3 15-5 15-4 15-1 15-3 15-4 15-4 15-4 15 1 15 5 15 0 15-6 15-3 15 1 15 1 15-4 15-6 15 0 15 5 15 3 15-3 15-2 15 4 15 4 15-2 15-5 15-2 15 1 15 6 15 8 15 5 15 1 15 0 15-1 15 0 15 5 15 8 15 3 15-1 15 0 15 3 15 0 15-6 15-11 15-12 15-7 15-4 15-6 15-6 15-6 15-8 15-5 15 4 15 9 15 3 15 2 15 5 15 4 15 0 15 3 15 3 15 3 15 2 15 2 15-3 15 1 15 0 15 2 15 3 15 5 15 9 15 8 15 3 15 3 15 1 15-1 15-1 15 0 15-1 15 3 15 5 15 5 15 1 15-1 15-1 15-1 15-6 15-11 15-8 15-4 15-4 15-6 15-4 15 0 15 5 15 6 15 4 15-1 15 2 15 7 15 5 15 0 15-4 15-6 15-4 15 2 15 2 15 2 15 3 15 1 15-1 15-1 15 2 15 5 15 3 15 2 15 2 15 0 15 1 15 2 15 2 15 0 15-2 15 1 15 3 15 6 15 4 15 2 15 0 15 1 15 3 15 7 15 8 15 8 15 0 15-5 15-6 15-1 15 2 15 6 15 3 15-4 15-8 15-8 15-4 15-2 15-3 15-3 15-1 15 2 15 2 15 4 15 5 15 2 15 0 15 0 15 0 15 0 15 2 15 6 15 4 15-3 15-8 15-3 15 0 15 1 15-3 15-5 15-2 15 2 15 0 15-5 15-9 15-6 15-4 15-1 15-1 15-6 15-7 15 1 15 8 15 13 15 10 15 40 15 73 15 65 15 55 15 50 15 38 15 16 15 15 15 63 15 111 15 113 15 92 15 87 15 85 15 71 15 6 15 2 15-1 15-6 15-2 15 1 15 0 15-4 15 8 15 20 15 12 15 3 15-6 15-25 15-35 15-31 15-36 15-40 15-35 15-16 15 6 15 4 15-12 15-18 15 17 15 23 15 30 15 20 15-5 15-16 15-6 15 8 15 13 15 24 15 22 15 19 15 25 15 32 15 27 15 24 15 20 15 18 15 12 15-8 15-11 15-8 15-1 15 0 15-18"/>
<path stroke="#0072BD" d="M740 427l15 34 15 0 15 0 15 177 15 0 15 0 15 0 15 0 15 77 15 0 15 75 15 0 15 86 15 0 15 0 15 0 15 0 15 179 15 0 15 0 15 0 15 37 15 0 15 47 15 0 15 0 15-11 15 0 15 0 15 152 15 0 15 0 15 295 15 0 15 0 15 133 15 0 15 0 15 294 15 0 15 0 15 0 15 0 15 33 15-9 15 0 15 0 15 0 15 17 15 0 15 0 15 0 15 0 15-22 15 0 15 0 15 0 15 0 15-11 15 0 15 0 15 0 15 0 15 17 15 1 15 0 15 0 15 0 15 2 15-5 15 0 15 0 15 0 15 2 15-6 15 0 15 0 15 3 15 23 15 0 15 0 15 0 15 6 15 0 15 0 15 4 15 0 15 0 15 13 15 0 15 8 15 0 15 0 15-3 15 0 15 0 15-10 15 0 15-7 15 0 15 0 15-12 15 0 15 0 15 0 15 0 15 15 15 0 15 7 15 0 15 1 15-2 15 0 15 0 15-3 15 0 15 6 15 0 15 4 15 5 15 0 15-2 15 0 15 3 15 0 15-2 15 0 15-5 15 0 15 0 15 0 15 0 15-2 15 0 15 5 15 0 15 0 15-12 15 0 15 0 15 0 15-3 15 0 15-1 15-12 15 0 15 0 15-15 15 0 15 0 15-7 15 0 15 0 15-2 15 0 15-5 15 0 15 0 15 0 15 0 15 4 15 0 15 0 15 0 15 0 15-12 15 0 15 1 15 2 15 0 15 0 15 10 15 0 15 0 15-4 15 0 15-1 15 0 15 0 15 0 15 0 15 9 15 10 15 0 15 0 15 11 15 0 15 1 15-3 15 0 15 0 15-2 15 0 15-2 15-3 15 3 15 0 15-4 15 0 15 0 15 0 15 7 15 0 15 0 15-3 15 0 15-10 15-14 15 0 15 0 15-9 15 0 15 0 15 0 15 0 15 16 15 0 15 3 15 0 15 2 15 0 15 0 15 0 15 0 15 51 15 0 15 0 15 243 15 0 15 238 15 0 15 0 15 0 15 0 15 156 15 0 15 0 15-71 15 53 15 274 15 0 15 0 15 0 15 91 15 0 15 42 15 0 15-5 15 0 15 0 15 0 15-58 15 0 15 0 15 0 15 0 15-84 15 0 15 0 15-63 15-25 15 0 15 0 15-100 15 0 15-7 15 3 15 0 15 0 15-31 15 0 15 3 15 0 15-3 15 0 15 0 15-23 15 0 15 26 15 0 15 41 15 0 15 0 15 152 15 0 15 0 15 85 15 0 15 0 15 29 15 44 15 0 15 0 15 0 15 11 15 0 15-20 15 0 15 0 15-6"/>
<path stroke="#D95319" d="M740 392l15 6 15 26 15 52 15 53 15 39 15 36 15 36 15 23 15 14 15 16 15 19 15 13 15 7 15 7 15 9 15 17 15 25 15 32 15 37 15 51 15 61 15 49 15 29 15 16 15 20 15 33 15 38 15 58 15 74 15 100 15 118 15 121 15 114 15 80 15 36 15 30 15 47 15 45 15 28 15 30 15 40 15 22 15 19 15-14 15-8 15-2 15-1 15-2 15 0 15 2 15-3 15-4 15 1 15 0 15-4 15-3 15 3 15 4 15 1 15 2 15 6 15 4 15 1 15 2 15 3 15-2 15-7 15-6 15-3 15-4 15-5 15-8 15-11 15-7 15-4 15-3 15-5 15-5 15-3 15-2 15 0 15 0 15 0 15 2 15 8 15 10 15 10 15 8 15 6 15 4 15 0 15-1 15-2 15-3 15-7 15-7 15-5 15-5 15-4 15-3 15-1 15 2 15 7 15 7 15 6 15 3 15-3 15-6 15-3 15 0 15-1 15-7 15-10 15-2 15 4 15 4 15-1 15-6 15 0 15 3 15 3 15 0 15-1 15-1 15-4 15-7 15-9 15-4 15-1 15 2 15 0 15-4 15-5 15-2 15-4 15-4 15 1 15 3 15-1 15-3 15-3 15 1 15 2 15 1 15-1 15-4 15-5 15 1 15 6 15 6 15 5 15 3 15 5 15 5 15 6 15 6 15 7 15 6 15 4 15 0 15-4 15-2 15 0 15 2 15 0 15 0 15 2 15 7 15 10 15 8 15 5 15 0 15-4 15-4 15 0 15 1 15-3 15-6 15-2 15 1 15 2 15 1 15-4 15-5 15-1 15 0 15-2 15-5 15-5 15-2 15 0 15 1 15 2 15 5 15 4 15 0 15-1 15-3 15-4 15 0 15-1 15-5 15-4 15-2 15-5 15-8 15-5 15-2 15 1 15 3 15 6 15 7 15 9 15 10 15 4 15-4 15-3 15 1 15 0 15-1 15 0 15 2 15-4 15-7 15-4 15 1 15 2 15 8 15 16 15 71 15 80 15 74 15 90 15 90 15 79 15 82 15 92 15 85 15 55 15 48 15 86 15 107 15 33 15 8 15-5 15-10 15-3 15-1 15-3 15-1 15 6 15 1 15-10 15-15 15-9 15 1 15-4 15-14 15-15 15 7 15 14 15 18 15 21 15 18 15 9 15 8 15 5 15-19 15-22 15-10 15-20 15-37 15-33 15-13 15-12 15-19 15-12 15 4 15 18 15 7 15-4 15-10 15 4 15 28 15 39 15 27 15 12 15 1 15-3 15 8 15 19 15 8 15 9 15 8 15-2 15-28 15-27 15-9 15-6 15-16"/>
<path stroke="#EDB120" d="M740 977l15 0 15 0 15 0 15 0 15 88 15 0 15 0 15 0 15 0 15 308 15 96 15 0 15 0 15 76 15 24 15 0 15 342 15 0 15 0 15 0 15 0 15 149 15 0 15 0 15 12 15 0 15 0 15-21 15-8 15-14 15 0 15 0 15-5 15 0 15 0 15 11 15 0 15 0 15 0 15 0 15 17 15 0 15 0 15 15 15-17 15 0 15 0 15-14 15 0 15-1 15 0 15-4 15 0 15 0 15 15 15 0 15 12 15 0 15 0 15 18 15 0 15 0 15 0 15-13 15 0 15 0 15-1 15 0 15 0 15 10 15 0 15 0 15-6 15 0 15 0 15 0 15 0 15 10 15 0 15 0 15 0 15-10 15-2 15-11 15 0 15-3 15 0 15-2 15 0 15 0 15 0 15-12 15 0 15 0 15 3 15 12 15 0 15 0 15 0 15 0 15-1 15-10 15 0 15 0 15 15 15 0 15 0 15 11 15 1 15 0 15 0 15 0 15 0 15 18 15-4 15 7 15 0 15 1 15 0 15-8 15 0 15 0 15 0 15 0 15-23 15-14 15 0 15 0 15 0 15 0 15 2 15 0 15 0 15-4 15 0 15 0 15 0 15 8 15 0 15 0 15 1 15 0 15-5 15 0 15 0 15 0 15-3 15 6 15 0 15 0 15-1 15 0 15 9 15 0 15-8 15 0 15 0 15 0 15 8 15 0 15 0 15 0 15-13 15 0 15 0 15 0 15 0 15 0 15 0 15 0 15-13 15 0 15 0 15 0 15-4 15 0 15 0 15 0 15 26 15 0 15 0 15 0 15-3 15 0 15-3 15 0 15 0 15-15 15 0 15 0 15 0 15 6 15-7 15 0 15 0 15 0 15 3 15 1 15 0 15 0 15 5 15 0 15 0 15 0 15 0 15 9 15 0 15 0 15-3 15 2 15 0 15 0 15 9 15 0 15 0 15-1 15-6 15 0 15 0 15 15 15 0 15 13 15 0 15 67 15 0 15 111 15 0 15 0 15 0 15 0 15 290 15 0 15 0 15 0 15 0 15 496 15 0 15 0 15 169 15 0 15 0 15-31 15-27 15-31 15-45 15 0 15-47 15 0 15 0 15-29 15 0 15 0 15-37 15-46 15 0 15-71 15 0 15 0 15 0 15-8 15 0 15 0 15 0 15-37 15 0 15-33 15 0 15-41 15-4 15 0 15 0 15 0 15 0 15 21 15 0 15 0 15 38 15 0 15-35 15 0 15 0 15 0 15 45 15 0 15 56 15 60 15 0 15 82 15 0 15 0 15 0 15 33 15 0 15 0 15 0 15-30 15 0 15 0 15 0 15-40"/>
<path stroke="#7E2F8E" d="M740 567l15 10 15-7 15-15 15-1 15 6 15 0 15-7 15 5 15 39 15 69 15 79 15 68 15 53 15 42 15 34 15 33 15 42 15 49 15 42 15 26 15 7 15-9 15-14 15-3 15 19 15 34 15 43 15 44 15 42 15 34 15 32 15 51 15 68 15 94 15 112 15 93 15 72 15 62 15 76 15 72 15 54 15 48 15 45 15 28 15 26 15 42 15-9 15-47 15-30 15-2 15 4 15-4 15-5 15 1 15-1 15-16 15-32 15-32 15-21 15-11 15-15 15-11 15 14 15 34 15 26 15 4 15-6 15-2 15 7 15 10 15-4 15-11 15 2 15 10 15-1 15-13 15-13 15-10 15-4 15-5 15-11 15-10 15-6 15-7 15-9 15-9 15-2 15 16 15 21 15 14 15 8 15 1 15-4 15-3 15 3 15 2 15-5 15-7 15 5 15 12 15-3 15-14 15-1 15 13 15 16 15 8 15 4 15 3 15 0 15-8 15-14 15-19 15-16 15-12 15-12 15-8 15-5 15-6 15-1 15 5 15 3 15-1 15-3 15-6 15-4 15 0 15-3 15-7 15-9 15-7 15 0 15 6 15 7 15 3 15-1 15-6 15-1 15 9 15 13 15 8 15 1 15 1 15 6 15 2 15-3 15-1 15 3 15 7 15 4 15 1 15 1 15 3 15 4 15 1 15 0 15 3 15 0 15-3 15-1 15 6 15 14 15 14 15 2 15-6 15-6 15-2 15 1 15-1 15-4 15-7 15-11 15-7 15 3 15 8 15 7 15 0 15 2 15 10 15 11 15 2 15 1 15 8 15 10 15 7 15 2 15-5 15-3 15 3 15 1 15-4 15-11 15-16 15-13 15-5 15 1 15 2 15-1 15-4 15-4 15-2 15-2 15 1 15 4 15 3 15-1 15-2 15-1 15-4 15-13 15-16 15-11 15-7 15-8 15-8 15-9 15-9 15-1 15 7 15-2 15-9 15-9 15-4 15 3 15 2 15-13 15-12 15-1 15 2 15 8 15 72 15 42 15 4 15 23 15 59 15 52 15 34 15 60 15 95 15 105 15 114 15 125 15 89 15 27 15-2 15 4 15 26 15 50 15 32 15 26 15 8 15 1 15 8 15 13 15 4 15-8 15-6 15-4 15 2 15 3 15-7 15-10 15-8 15-20 15-37 15-44 15-30 15-14 15-18 15-6 15 24 15 24 15 8 15-7 15-17 15-13 15 6 15 26 15 28 15 26 15 33 15 43 15 29 15 8 15 5 15 12 15 14 15 11 15 6 15-1 15-14 15-20 15-7 15-16 15-12 15-3 15-5 15-12 15-16 15-24 15-18"/>
<path stroke="#77AC30" d="M740 904l15 16 15 0 15 50 15 0 15 28 15 20 15 51 15 0 15 0 15 52 15 0 15 0 15 154 15 0 15 95 15 0 15 0 15 10 15 184 15 0 15 0 15 0 15 0 15 205 15 0 15 318 15 0 15 0 15 0 15 0 15-1 15 0 15 5 15 0 15-4 15 0 15 0 15 10 15 5 15 0 15-9 15 0 15 0 15-15 15 0 15-2 15 0 15 0 15-23 15 0 15 0 15 0 15-24 15 0 15 0 15 0 15 0 15 18 15 0 15 1 15 0 15 0 15 20 15 0 15 0 15 0 15-7 15 0 15-4 15 0 15 0 15-14 15-3 15 7 15 20 15 0 15 2 15-4 15-13 15 0 15 0 15 26 15 0 15 0 15 0 15 0 15 5 15 0 15-7 15-4 15 0 15 6 15-3 15 0 15 0 15 0 15 0 15-24 15 0 15-5 15 0 15-9 15-9 15-19 15 0 15 0 15 0 15 0 15 1 15 0 15-11 15 0 15 0 15-9 15 0 15-8 15 0 15 0 15-14 15 14 15 0 15 0 15 0 15 8 15 0 15 8 15 0 15 0 15 0 15 13 15 0 15 0 15 6 15 0 15 10 15 0 15 7 15 7 15 0 15 7 15 0 15 4 15 7 15 10 15 0 15 3 15 0 15-2 15 0 15 0 15 0 15 0 15-13 15 0 15 0 15 4 15 0 15 4 15-6 15 0 15 0 15-17 15 0 15 0 15-3 15 0 15 0 15 0 15 0 15 0 15-1 15 0 15-5 15 0 15 0 15 0 15 0 15 9 15 2 15 0 15 0 15-7 15 0 15-12 15 0 15 0 15 0 15 0 15 9 15 5 15 0 15 0 15 0 15 0 15-3 15 0 15 0 15-4 15 0 15 14 15 0 15 0 15 0 15 2 15 0 15 0 15 3 15 0 15-6 15 0 15 0 15 0 15 0 15 7 15 0 15 0 15 0 15 9 15 0 15 3 15 0 15-8 15 0 15 4 15 0 15 0 15 3 15-12 15 0 15 0 15-11 15 0 15 3 15 0 15 0 15 0 15 57 15 78 15 0 15 0 15 126 15 104 15 206 15 0 15 0 15 0 15 0 15 197 15 0 15 0 15 194 15 0 15 14 15 33 15 0 15 0 15 0 15 47 15 0 15 0 15 50 15 0 15 0 15-22 15-79 15 0 15 0 15 0 15-140 15 0 15-11 15 0 15 0 15-95 15 0 15 0 15-85 15 0 15 0 15-55 15-23 15 1 15 0 15 0 15 61 15 0 15 0 15 0 15 51 15 0 15 0 15 70 15 49 15 0 15 0 15 18 15 0 15 13 15 3 15 5"/>
<path stroke="#4DBEEE" d="M740 510l15 0 15 0 15 3 15-3 15 0 15 0 15-13 15 0 15-4 15-8 15 0 15 0 15 45 15 93 15 0 15 148 15 0 15 0 15 0 15 0 15 157 15 0 15 55 15 0 15 0 15 17 15 0 15 18 15 77 15 0 15 0 15 216 15 0 15 0 15 0 15 260 15 0 15 0 15 157 15 0 15 0 15 0 15 320 15 0 15 34 15 0 15 0 15 0 15 0 15-15 15 0 15 0 15 0 15-15 15 0 15 0 15 0 15-3 15 0 15-6 15-5 15 0 15 0 15 0 15-14 15-20 15 0 15-11 15-13 15-3 15 0 15 14 15 0 15 4 15 3 15 0 15 3 15 0 15 4 15 0 15 0 15 7 15 0 15 0 15 6 15 0 15 2 15 0 15 0 15 0 15-5 15 0 15 0 15 5 15 0 15 0 15 0 15 16 15 0 15 1 15 2 15 0 15 0 15 24 15 0 15 0 15 0 15 0 15 17 15 0 15 0 15 0 15 0 15-11 15 0 15-21 15 0 15 0 15 0 15-24 15 0 15 7 15 0 15 10 15 0 15 0 15 0 15 1 15 1 15 0 15 0 15 0 15-1 15 0 15 0 15 0 15 0 15 12 15 0 15-5 15 0 15-1 15-1 15-7 15 0 15 0 15-5 15-9 15 0 15-5 15 0 15-3 15 0 15 0 15 0 15 0 15 16 15 10 15 0 15 0 15 6 15 0 15 0 15-3 15 0 15 0 15 3 15 0 15 0 15-3 15 0 15 2 15 0 15-1 15-13 15 0 15 0 15 0 15 0 15-19 15 3 15 8 15 0 15 9 15 0 15 0 15 0 15 2 15-3 15 0 15 0 15-1 15 0 15 6 15 3 15 4 15 0 15 0 15-11 15 0 15 11 15 0 15 0 15 0 15 0 15-1 15 0 15 8 15 0 15-3 15 0 15 0 15-19 15 0 15 0 15 0 15-3 15 10 15 0 15 6 15 10 15 0 15 0 15-11 15 0 15 0 15 10 15 120 15 0 15 0 15 105 15 12 15 89 15 0 15 0 15 265 15 0 15 0 15 0 15 182 15 0 15 0 15 136 15 0 15 0 15 0 15 99 15 0 15 34 15 16 15 43 15 0 15 36 15 0 15 0 15-94 15 0 15 0 15-41 15-3 15-63 15 0 15 0 15-233 15 0 15 0 15 0 15 0 15-89 15 0 15 44 15 47 15 0 15 38 15 0 15 0 15 0 15 48 15 33 15 75 15 0 15 0 15 0 15 124 15 0 15 0 15 0 15 29 15 63 15 0 15-71 15 0 15 0 15-61 15 0 15-48 15 0 15 0 15-59 15-18"/>
<path stroke="#A2142F" d="M740 638l15 0 15 0 15 0 15 50 15 52 15 0 15 69 15 0 15 94 15 0 15 68 15 0 15 0 15 0 15 107 15 0 15 0 15 0 15 0 15 42 15 0 15 0 15 108 15 0 15 0 15 184 15 0 15 52 15 0 15 203 15 0 15 0 15 0 15 247 15 0 15 0 15 0 15 149 15 0 15 25 15 5 15 0 15 2 15 0 15-1 15 3 15 0 15 0 15 11 15 0 15 4 15-8 15 0 15 0 15 12 15 0 15-3 15-2 15 0 15 0 15-1 15 7 15 0 15 0 15 0 15-27 15 0 15 0 15 0 15-7 15 0 15 0 15 3 15-3 15 0 15 0 15 7 15 0 15 0 15 20 15 0 15 0 15 0 15 0 15 5 15 0 15 0 15 0 15 0 15 6 15 0 15 0 15 15 15 0 15 0 15 0 15 0 15 0 15-1 15 0 15-10 15 0 15-10 15 0 15 0 15-25 15-12 15 0 15 1 15 0 15 10 15 0 15 0 15 0 15-5 15-5 15 0 15 1 15 0 15 13 15 0 15 0 15-2 15 0 15 0 15 8 15 0 15 0 15 2 15-5 15 0 15-4 15 0 15 0 15 0 15 0 15-7 15 0 15 0 15 0 15-9 15 0 15 0 15 0 15 0 15-6 15 0 15-2 15-14 15 0 15 0 15 0 15 0 15-13 15 0 15-4 15 0 15 0 15 0 15 0 15 2 15 9 15 0 15 3 15 0 15 0 15-3 15 0 15-4 15 0 15 0 15-10 15 2 15 0 15 5 15 0 15 11 15 0 15-7 15 0 15 0 15-1 15 0 15-5 15 0 15 1 15 0 15-7 15 0 15-4 15-2 15 0 15 0 15 0 15-7 15 0 15 0 15-31 15 0 15 0 15 0 15 0 15-5 15 0 15 0 15 7 15 0 15 16 15 0 15 2 15 0 15-3 15-3 15-3 15 0 15 0 15 15 15 0 15-3 15 0 15 0 15 10 15 4 15 2 15-7 15 0 15 0 15 5 15 41 15 139 15 0 15 148 15 0 15 0 15 108 15 0 15 0 15 0 15 0 15 290 15 0 15 155 15 0 15 0 15 117 15 0 15 0 15 0 15 64 15 0 15 0 15 4 15 0 15 4 15 0 15 0 15 14 15 0 15 0 15 0 15 0 15-27 15 0 15 0 15 0 15 2 15-55 15 0 15 0 15-10 15-82 15 0 15 0 15 0 15-85 15 0 15 0 15 0 15 0 15-32 15 3 15-1 15 38 15 0 15 0 15 0 15 0 15 75 15 0 15 34 15 65 15 0 15 0 15 113 15 0 15 51 15 0 15-50 15 0 15-48"/>
<path stroke="#0072BD" d="M740 852l15 60 15 0 15 0 15 156 15 0 15 0 15 6 15 27 15 0 15 9 15 0 15 23 15 0 15 0 15 0 15 121 15 0 15 0 15 0 15 0 15 61 15 66 15 0 15 125 15 0 15 254 15 0 15 0 15 260 15 0 15 0 15 0 15 72 15 0 15-7 15-4 15 0 15 0 15-25 15 0 15-3 15 0 15 0 15 14 15 0 15 0 15 3 15 8 15 19 15 0 15 0 15 10 15-4 15 3 15 0 15 0 15 0 15 0 15-13 15 0 15-7 15 0 15 0 15 8 15 0 15 0 15 0 15 9 15-1 15-11 15 0 15 0 15-8 15 0 15-8 15 0 15 0 15 3 15 10 15 0 15 0 15-8 15 0 15 0 15 12 15 0 15 0 15-21 15 0 15 0 15 0 15 0 15-15 15 0 15 0 15 0 15 0 15 9 15 0 15 0 15 0 15 10 15 0 15-32 15 0 15 0 15 0 15-29 15 0 15 0 15-11 15-12 15 0 15 0 15 0 15 0 15-17 15 0 15 0 15 9 15 0 15 0 15 0 15 0 15 7 15 0 15 15 15 0 15 0 15 0 15 0 15 7 15 0 15 6 15 0 15 6 15 0 15 0 15 0 15-7 15-1 15 11 15 0 15 0 15 10 15 0 15 2 15 14 15 0 15 0 15 17 15 0 15 0 15 0 15 0 15 8 15 0 15 16 15 0 15 0 15 15 15 0 15-5 15 0 15 0 15 0 15-6 15 0 15-2 15 0 15 0 15 0 15-9 15-9 15 0 15 6 15 0 15 4 15-10 15 0 15 0 15 0 15 0 15-12 15 0 15 0 15 0 15 0 15-3 15 0 15 3 15 12 15 0 15 0 15-9 15 0 15 0 15-15 15 0 15-17 15 0 15 0 15-12 15-2 15-2 15-4 15 0 15 0 15 2 15 13 15 0 15 0 15 25 15 0 15-3 15 0 15-3 15 0 15 0 15 14 15 0 15 11 15 0 15 0 15 19 15 0 15 0 15 0 15 128 15 0 15 0 15 0 15 226 15 0 15 0 15 147 15 0 15 122 15 0 15 86 15 0 15 58 15 140 15 0 15 0 15 133 15 89 15 0 15 34 15-26 15 0 15 0 15 0 15 2 15 0 15-41 15 0 15 0 15 0 15-6 15 0 15-4 15-73 15 0 15 0 15-40 15 0 15 0 15-22 15 0 15 0 15-115 15 0 15-76 15 0 15 0 15 0 15 0 15-6 15 0 15 0 15-45 15 0 15 0 15-36 15 18 15 0 15 2 15 4 15 119 15 0 15 0 15 0 15 0 15 59 15 0 15 0 15 27 15 0 15 13"/>
<path stroke="#D95319" d="M740 443l15 0 15 0 15 97 15 0 15 0 15 85 15 54 15 0 15 0 15 98 15 0 15 0 15 41 15 90 15 0 15 0 15 0 15 1 15 2 15 0 15 0 15 120 15 0 15 0 15 0 15 182 15 0 15 34 15 0 15 58 15 211 15 0 15 99 15 0 15 0 15 84 15 147 15 0 15 0 15 205 15 0 15 0 15 0 15 23 15 0 15 0 15-14 15 0 15 0 15-5 15 0 15 0 15-9 15-20 15 0 15 0 15 0 15 0 15-23 15 0 15 0 15 9 15 0 15 0 15 0 15 0 15 7 15 13 15 0 15 0 15 19 15 0 15 19 15 0 15 0 15 7 15 0 15 2 15 0 15 0 15-24 15 0 15 0 15 0 15-23 15 0 15 0 15-29 15-25 15 0 15-2 15 0 15 3 15 0 15 0 15 16 15 0 15 0 15 0 15 15 15 0 15 0 15-4 15 0 15-6 15 0 15 0 15 0 15-3 15 0 15-1 15 0 15 0 15 0 15 0 15 5 15 0 15-8 15 0 15 0 15 0 15-9 15 0 15 1 15 0 15 0 15 21 15 0 15 0 15 12 15 0 15 3 15 0 15 10 15 0 15 0 15 0 15 0 15 3 15 0 15-16 15 0 15-17 15 0 15 0 15-18 15 0 15 0 15-5 15 0 15 0 15 0 15 0 15 8 15 2 15 27 15 0 15 0 15 0 15 0 15 2 15 0 15 0 15 0 15 3 15 0 15-3 15 0 15 0 15-19 15 0 15 0 15-8 15 0 15 0 15-11 15-11 15 0 15 0 15 0 15 2 15 0 15 0 15 0 15 0 15 10 15 3 15 0 15 0 15 0 15 0 15 0 15 0 15 0 15 5 15 0 15 0 15-2 15 0 15 0 15 9 15 0 15 0 15 0 15 0 15-29 15 0 15 0 15-11 15-4 15 0 15 0 15 0 15 5 15 0 15 2 15 5 15 0 15 0 15 0 15 21 15 0 15 0 15 58 15 0 15 74 15 0 15 0 15 361 15 0 15 0 15 104 15 0 15 0 15 290 15 0 15 0 15 131 15 30 15 32 15 0 15 0 15 0 15-10 15 0 15 0 15 0 15 0 15-8 15 0 15-16 15 0 15-24 15 0 15-26 15-64 15 0 15 0 15 0 15 0 15-44 15 0 15-7 15 0 15 0 15 9 15 0 15 0 15 0 15 0 15-59 15 0 15 0 15 0 15-18 15 0 15 20 15 37 15 0 15 0 15 14 15 0 15 0 15 13 15 0 15 0 15 0 15 38 15 0 15-18 15 0 15 0 15-36 15 0 15-8 15-4 15 0 15 12 15-4 15 0"/>
<path stroke="#EDB120" d="M740 1005l15 39 15 33 15 24 15 13 15 1 15-2 15 4 15 19 15 29 15 66 15 118 15 96 15 65 15 64 15 80 15 75 15 71 15 86 15 98 15 34 15 5 15-5 15-4 15 9 15 3 15-10 15-10 15-8 15-4 15-5 15-3 15-4 15-6 15-3 15 3 15 6 15 5 15 6 15 12 15 15 15 7 15-5 15-6 15-2 15 4 15 5 15 3 15-2 15-2 15 1 15 4 15 6 15 8 15 7 15 6 15 9 15 8 15 1 15-3 15-1 15-1 15-1 15-2 15-5 15-4 15-2 15-3 15-4 15-2 15-3 15-3 15-1 15-3 15-6 15-6 15-1 15 5 15 9 15 10 15 5 15 3 15 1 15-1 15-4 15-4 15 0 15 1 15 0 15-7 15-12 15-12 15-6 15-1 15 1 15 9 15 10 15 3 15-1 15 0 15 1 15 1 15 3 15 4 15 2 15-2 15-3 15-1 15 1 15 5 15 2 15-2 15 1 15 9 15 8 15 5 15 1 15-1 15-14 15-10 15-7 15-3 15 1 15-1 15-6 15-10 15-8 15-1 15 3 15 3 15 1 15 2 15 3 15 1 15-4 15-7 15-5 15-2 15 6 15 7 15 3 15-1 15 0 15 5 15 4 15 3 15 2 15-3 15-6 15-4 15-2 15-7 15-7 15-5 15-2 15 0 15 3 15 2 15-4 15-3 15 3 15 7 15 6 15 4 15 3 15 1 15 4 15 4 15 0 15-3 15 0 15-1 15-3 15-5 15-4 15-1 15 0 15-1 15-4 15-5 15 0 15 5 15 6 15 6 15 1 15-4 15-4 15-1 15-2 15-1 15 1 15 6 15 6 15 2 15-2 15-3 15-4 15-2 15-3 15-4 15-4 15-3 15-3 15 1 15 3 15 1 15-5 15-5 15 0 15 2 15 4 15 7 15 5 15-2 15-3 15 4 15 8 15 4 15 2 15 1 15 4 15 4 15-1 15 0 15 1 15-1 15-1 15 7 15 16 15 16 15 89 15 100 15 90 15 68 15 52 15 41 15 44 15 42 15 12 15-16 15 11 15 75 15 113 15 94 15 31 15-10 15 17 15 71 15 28 15 3 15 10 15 17 15 17 15 1 15-11 15-3 15 1 15-11 15-21 15-13 15-6 15-12 15 11 15 14 15-19 15-48 15-48 15-24 15-15 15-11 15-1 15 11 15 1 15-16 15-17 15-16 15-19 15-6 15 18 15 15 15-1 15-1 15 0 15 8 15 13 15 18 15 26 15 30 15 41 15 43 15 32 15 10 15 0 15 0 15 5 15 0 15-7 15-6 15 4 15 0 15-11"/>
<path stroke="#7E2F8E" d="M740 662l15 0 15 0 15 31 15 0 15 0 15 0 15 0 15 188 15 0 15 0 15 85 15 0 15 0 15 0 15 183 15 0 15 214 15 0 15 0 15 0 15 330 15 0 15 0 15 174 15 0 15-53 15 0 15 0 15 66 15 0 15 0 15 175 15 0 15 0 15 0 15 0 15-30 15-4 15 0 15-13 15 0 15 0 15-3 15 0 15 0 15 0 15 1 15 0 15 0 15 0 15 0 15-9 15 0 15 2 15 2 15 0 15-9 15 0 15-1 15 0 15 0 15 0 15 13 15 2 15-3 15 0 15 5 15 0 15-1 15 0 15-1 15-12 15 0 15-7 15 0 15 0 15-9 15 0 15-5 15-7 15-3 15 0 15 13 15 0 15 0 15 0 15 3 15 0 15 0 15 18 15 8 15 0 15 0 15-23 15 0 15 0 15 0 15 15 15 0 15 0 15-4 15 0 15 0 15 0 15 0 15-12 15 0 15-16 15 0 15-14 15 0 15 0 15 13 15 0 15 5 15 0 15 0 15 1 15 0 15 0 15 0 15 12 15 0 15-3 15 0 15 0 15-5 15 0 15 0 15 8 15 0 15 0 15-3 15 0 15 0 15 0 15-3 15 0 15 5 15 6 15 0 15 0 15 18 15 0 15-7 15 0 15 7 15 0 15 7 15 0 15 0 15-10 15 0 15 0 15 0 15 1 15 0 15-4 15 0 15 0 15-13 15 0 15 0 15 0 15 1 15-4 15-5 15-6 15 0 15 1 15 0 15 7 15 0 15 0 15 0 15 0 15 11 15 3 15 4 15-6 15 0 15 0 15 0 15 0 15-20 15 0 15-15 15 0 15-19 15 0 15 0 15 3 15 0 15-5 15 0 15 0 15 0 15 0 15 9 15 0 15 0 15 5 15 0 15 0 15 0 15 0 15 0 15 0 15 0 15-4 15 0 15-3 15 0 15-1 15 6 15 0 15 0 15-10 15 0 15 0 15 0 15-1 15 0 15 2 15 0 15 0 15 14 15 0 15-8 15 0 15 0 15 0 15 0 15 230 15 0 15 0 15 53 15 114 15 0 15 130 15 0 15 0 15 267 15 0 15 0 15 184 15 0 15 0 15 0 15 35 15 0 15 0 15 44 15 0 15 0 15 0 15-26 15-15 15 0 15 0 15 0 15 55 15 6 15 0 15 0 15-40 15 0 15 21 15 0 15-15 15 0 15 0 15-52 15 0 15 0 15 0 15-97 15 0 15 0 15 0 15 0 15-87 15 0 15-65 15 0 15 0 15 0 15 0 15 38 15 0 15 0 15 114 15 0 15 0 15 0 15 0 15-45 15 0 15 0 15-6"/>
<path stroke="#77AC30" d="M740 969l15 42 15 0 15-7 15 0 15 0 15 0 15 9 15 0 15 0 15 3 15 39 15 207 15 0 15 0 15 193 15 0 15 271 15 0 15 0 15 318 15 0 15 0 15-10 15 0 15 0 15 21 15 0 15 0 15 0 15-4 15 0 15 0 15 0 15 0 15-15 15 0 15 0 15 0 15 0 15 6 15 0 15 0 15-4 15 0 15 0 15 0 15 26 15 18 15 0 15 0 15-10 15 0 15 0 15-14 15 0 15 0 15 0 15 0 15-4 15-6 15-4 15 0 15 0 15-13 15 0 15 0 15 0 15-15 15 0 15 7 15 0 15 0 15 0 15 0 15 19 15 9 15 1 15 0 15 0 15 0 15 0 15-24 15 0 15-2 15 0 15 0 15 9 15-14 15 0 15-5 15 0 15 0 15 0 15 0 15-1 15 0 15 6 15 10 15 0 15 0 15 23 15 0 15-1 15 0 15-9 15 0 15 2 15 0 15 0 15-5 15 0 15 0 15 16 15 0 15 0 15 0 15-4 15 0 15 0 15 0 15-18 15 0 15 0 15 0 15 0 15-20 15 0 15 10 15 0 15 0 15 26 15 0 15 6 15 0 15 0 15-10 15 0 15 0 15 0 15 0 15 2 15 0 15 0 15 0 15 4 15 0 15 0 15 0 15 0 15-3 15-1 15 0 15 0 15 12 15 0 15 0 15 0 15-3 15 0 15 0 15-11 15 0 15 0 15 0 15 0 15-18 15 12 15 0 15 4 15 2 15 0 15 5 15 0 15 7 15 0 15 0 15 14 15 0 15 0 15 24 15 0 15 0 15 0 15 0 15-14 15 0 15 0 15-12 15 0 15 0 15 0 15 0 15-14 15 0 15 0 15 0 15 0 15-1 15 0 15 0 15-4 15 0 15 1 15 0 15 0 15 0 15 0 15-15 15 0 15-1 15 0 15 5 15 0 15 0 15 2 15 0 15 0 15 0 15 0 15-3 15 0 15 0 15 10 15 0 15 0 15 0 15 7 15 0 15 0 15 0 15 0 15 51 15 0 15 0 15 111 15 0 15 0 15 135 15 0 15 0 15 345 15 0 15 88 15 55 15 23 15 10 15 193 15 0 15 0 15 0 15 36 15 0 15 0 15-71 15 0 15 0 15 0 15 0 15 53 15 0 15 0 15-61 15 0 15 0 15-109 15 0 15 0 15 0 15 17 15-21 15-4 15 0 15 0 15 0 15-49 15 0 15-43 15 0 15-9 15 0 15-1 15 0 15 12 15 13 15 19 15 0 15 51 15 0 15 79 15 0 15 0 15 0 15 35 15 0 15 87 15 0 15 0 15 50 15 0 15-22"/>
<path stroke="#4DBEEE" d="M740 612l15 24 15 0 15 0 15 0 15 173 15 0 15 0 15 0 15 0 15 109 15 0 15 0 15 25 15 0 15 4 15 3 15 4 15 0 15 72 15 0 15 89 15 0 15 0 15 110 15 0 15 0 15 130 15 0 15 168 15 0 15 83 15 85 15 144 15 0 15 169 15 0 15 0 15 0 15 0 15 56 15 0 15 0 15-7 15 0 15 0 15 0 15-16 15 0 15 0 15-13 15 0 15 0 15-1 15 0 15 0 15 0 15-10 15 0 15 0 15 0 15-4 15 0 15 0 15 0 15 0 15 2 15 6 15 6 15 0 15 0 15-12 15 0 15 0 15-13 15-22 15 0 15 0 15 0 15-20 15 0 15 0 15 9 15 0 15 25 15 0 15 0 15 0 15 5 15 0 15 0 15 0 15-20 15 0 15-7 15 0 15 0 15 0 15 0 15 7 15 17 15 0 15 16 15 0 15 0 15 0 15 0 15 1 15 0 15 0 15-17 15 0 15 0 15-7 15 0 15-3 15 0 15 0 15-5 15 0 15 5 15 0 15 0 15 13 15 0 15-2 15 0 15 0 15 0 15-8 15 0 15 0 15 0 15 0 15-15 15 7 15 0 15 0 15 8 15 0 15 0 15 0 15 13 15 0 15 3 15-2 15 0 15 0 15 12 15 0 15 9 15 0 15 0 15 0 15-6 15 0 15 0 15 0 15-3 15-5 15 0 15-1 15 0 15 0 15 14 15 0 15 0 15-19 15 0 15 0 15 10 15 0 15 0 15 30 15 0 15 0 15 0 15 0 15 6 15 0 15-3 15 0 15-5 15-7 15 0 15 0 15 0 15 0 15-5 15 0 15 0 15 0 15 0 15-13 15 0 15 0 15 0 15 0 15 4 15 1 15 0 15 0 15-6 15 0 15 0 15-8 15 0 15-5 15 0 15-3 15-2 15-10 15 0 15 5 15 0 15 0 15 0 15 0 15-13 15 0 15 0 15 5 15-1 15 0 15 0 15 3 15 159 15 0 15 123 15 0 15 0 15 0 15 0 15 190 15 62 15 0 15 0 15 16 15 4 15 0 15 62 15 68 15 115 15 0 15 0 15 0 15 0 15 31 15 45 15 0 15 0 15 0 15 2 15 0 15 0 15 0 15-80 15 0 15-37 15-34 15 0 15-101 15 0 15 26 15 0 15 0 15 0 15 0 15-105 15-50 15 0 15 0 15 80 15 0 15 0 15 164 15 0 15 0 15 79 15 0 15 16 15 100 15 0 15 0 15 0 15 0 15 134 15 0 15 5 15-71 15 0 15-65 15 0 15 0 15 0 15-183 15 0 15 0 15 0 15 0 15-83"/>
<path stroke="#A2142F" d="M740 690l15 0 15 1 15 0 15 0 15 32 15 47 15 0 15 0 15 27 15 0 15 28 15 0 15 0 15 34 15 66 15 0 15 0 15 65 15 114 15 0 15 0 15 210 15 0 15 118 15 0 15 0 15 0 15 202 15 0 15 0 15 0 15 0 15 319 15 0 15 0 15 104 15 0 15 0 15-12 15 0 15-10 15 0 15-4 15 0 15 0 15 0 15-9 15 0 15-3 15 5 15 0 15 0 15-2 15 0 15 0 15-7 15 0 15 0 15 0 15 0 15 27 15 0 15 5 15-9 15 0 15 1 15 3 15 0 15 0 15 6 15 0 15 13 15 0 15 4 15-9 15 0 15 0 15 0 15-15 15 0 15 0 15 0 15-22 15 0 15 0 15 5 15 0 15-7 15-13 15 0 15 0 15 0 15 0 15-8 15 0 15 0 15 0 15 0 15 5 15 0 15 0 15 0 15 0 15 25 15 12 15 0 15 0 15 35 15 0 15 7 15 0 15 0 15 2 15 0 15-9 15 0 15-18 15 0 15 0 15 0 15-5 15 0 15 0 15 0 15 0 15 4 15-9 15 0 15 0 15 0 15 0 15 2 15-3 15 0 15 0 15 0 15 3 15 0 15 0 15 0 15-6 15-8 15 0 15-2 15-2 15 0 15-1 15-12 15 0 15 0 15-12 15 0 15 12 15 0 15 0 15 14 15 0 15 0 15 8 15 0 15 0 15-1 15 0 15 0 15 3 15 0 15 0 15 0 15 0 15-3 15 0 15 1 15 12 15 0 15 0 15 0 15-1 15-10 15 0 15-7 15 0 15 0 15 0 15-5 15 0 15 0 15 9 15 0 15 1 15 0 15 0 15 0 15 0 15-18 15 0 15 4 15 0 15-10 15 0 15 0 15 0 15-3 15 0 15 0 15-9 15 0 15 0 15 0 15 25 15 0 15 1 15 0 15 0 15 0 15 0 15-1 15 0 15 0 15 0 15 0 15 15 15 0 15 3 15 0 15-3 15 1 15 15 15 0 15-8 15 0 15 0 15-4 15 16 15 0 15 62 15 0 15 43 15 18 15 67 15 0 15 0 15 77 15 0 15 0 15 440 15 0 15 0 15 0 15 235 15 0 15 23 15 0 15 0 15 23 15 0 15 0 15 49 15 0 15 0 15-81 15 0 15 0 15 0 15 0 15-147 15 0 15-11 15-87 15 0 15 0 15-38 15 18 15 0 15 21 15 0 15 0 15 15 15 0 15 0 15 0 15 14 15-31 15 0 15 0 15 0 15 29 15 0 15 0 15-9 15 0 15-7 15 0 15 0 15 0 15 0 15 35 15 0 15-43 15 0 15 0"/>
<path stroke="#0072BD" d="M740 736l15 0 15 0 15 0 15 0 15 91 15 0 15 0 15 0 15 0 15 57 15 50 15 0 15 15 15 90 15 0 15 0 15 0 15 0 15-24 15 42 15 0 15 0 15 276 15 0 15 0 15 0 15 125 15 70 15 225 15 0 15 0 15 0 15 251 15 0 15 35 15 0 15 0 15 4 15 25 15 0 15 0 15 0 15 0 15-7 15 0 15 0 15 0 15 0 15-5 15 0 15 0 15-24 15 0 15-29 15 0 15-39 15 0 15 0 15 0 15 0 15 9 15 0 15 0 15 6 15 0 15 0 15 0 15 0 15 10 15 0 15 0 15 0 15 0 15 20 15 0 15 7 15 0 15 0 15 0 15-3 15 0 15 0 15 10 15 0 15 0 15 0 15 0 15 13 15 14 15 0 15 6 15-1 15-12 15 0 15 0 15 0 15-15 15 0 15 0 15-20 15 0 15 0 15-18 15 0 15 0 15 0 15 0 15 0 15 0 15 2 15 0 15 0 15-2 15-2 15 0 15-8 15 0 15 1 15 0 15-10 15 0 15 0 15 1 15 7 15 0 15 0 15 10 15 0 15-18 15 0 15 7 15 0 15 9 15 9 15 0 15 0 15 0 15 4 15 14 15 0 15-4 15 0 15 1 15 0 15 0 15 7 15 0 15-7 15 0 15 0 15 0 15 0 15-10 15 0 15 0 15 8 15 0 15-2 15 0 15 0 15 0 15 0 15-32 15 0 15 0 15-3 15 3 15 0 15 0 15-10 15 0 15 0 15 10 15 0 15 0 15 3 15-9 15 0 15 0 15 0 15 0 15 8 15-13 15 0 15 0 15 0 15 0 15 11 15 0 15 0 15 0 15 0 15 7 15 0 15 9 15 0 15 0 15 15 15 0 15 0 15 19 15 0 15 0 15 0 15-4 15 0 15 0 15 0 15-7 15 0 15 1 15 3 15 0 15-13 15 0 15 0 15 0 15 0 15 4 15-2 15 0 15 0 15 0 15 0 15 93 15 0 15 0 15 0 15 140 15 0 15 53 15 53 15 0 15 173 15 0 15 0 15 0 15 149 15 0 15 0 15 0 15 0 15 105 15 310 15 0 15 0 15 0 15 59 15 0 15-30 15 0 15 0 15-22 15 0 15 0 15 0 15 0 15-42 15 0 15 0 15 0 15 0 15 19 15-2 15-67 15 0 15 0 15-82 15 0 15 0 15-51 15-76 15 0 15 0 15 0 15-7 15-37 15 0 15 0 15-10 15-69 15 0 15 0 15 0 15 0 15 91 15 88 15 0 15 43 15 120 15 0 15 0 15 0 15 69 15-18 15 0 15-32 15 0 15-4 15 0"/>
<path stroke="#D95319" d="M740 474l15 0 15 0 15 0 15 84 15 0 15 80 15 0 15 88 15 0 15 0 15 203 15 0 15 0 15 0 15 0 15 123 15 0 15 0 15 40 15 0 15 0 15 41 15 0 15 0 15 0 15 0 15 204 15 0 15 25 15 0 15 0 15 40 15 141 15 0 15 61 15 308 15 0 15 0 15 0 15 0 15 183 15 0 15 0 15-1 15 0 15 0 15-14 15 0 15 0 15 0 15-7 15 0 15 0 15 0 15 0 15 6 15 0 15 0 15 8 15 5 15 0 15-3 15 4 15 0 15 0 15 1 15 0 15 4 15 0 15-12 15 0 15 0 15 0 15 0 15-4 15 0 15 0 15-21 15 0 15 0 15 0 15 0 15-17 15 0 15-4 15 0 15 5 15 0 15 0 15 0 15 0 15 18 15 0 15 0 15 0 15 0 15-8 15 0 15 0 15 0 15 7 15 0 15 0 15 0 15 0 15 14 15-4 15 0 15 0 15 0 15-9 15 0 15 0 15-6 15 0 15-9 15 0 15-12 15 0 15 0 15 1 15 0 15 0 15 3 15 0 15 0 15-25 15 0 15 0 15 0 15 14 15 0 15 0 15 7 15 10 15 0 15 11 15 0 15 3 15 0 15 0 15-5 15 0 15-6 15 0 15 0 15 0 15 0 15-2 15 0 15 0 15 0 15 5 15 0 15-17 15 0 15-4 15 0 15-16 15 0 15 0 15 0 15 0 15-4 15 0 15 0 15 16 15 13 15 0 15 0 15 0 15 0 15-17 15 0 15-11 15 0 15-3 15 12 15 0 15 0 15 15 15 0 15 2 15 5 15 0 15 0 15-8 15 0 15 0 15 0 15 0 15-6 15 0 15 0 15 6 15 0 15 0 15-22 15 0 15 0 15 0 15 0 15 13 15 0 15 0 15 0 15 9 15 0 15 5 15 0 15 0 15 0 15 6 15 0 15 0 15 0 15 0 15-16 15 0 15 0 15-11 15 0 15-6 15 0 15 9 15 0 15 0 15 0 15 1 15-6 15 0 15 0 15 21 15 183 15 0 15 144 15 0 15 0 15 60 15-7 15 0 15 0 15 252 15 0 15 0 15 0 15 226 15 0 15 0 15 174 15 38 15 0 15 2 15 5 15 3 15 1 15 0 15-13 15 0 15 0 15 6 15 0 15 0 15 0 15 0 15 3 15 0 15-58 15 0 15 0 15-61 15 0 15-27 15-58 15 0 15 0 15-103 15 0 15 0 15 0 15 0 15-56 15 0 15 0 15-6 15 0 15 0 15 0 15 0 15 214 15 0 15 0 15-8 15 0 15 6 15 120 15 0 15 0 15 0 15-9"/>
<path stroke="#EDB120" d="M740 757l15 37 15 31 15 28 15 24 15 23 15 32 15 46 15 44 15 46 15 93 15 89 15 68 15 67 15 81 15 92 15 84 15 80 15 62 15 31 15 22 15 56 15 61 15 26 15 18 15 3 15 5 15 2 15 0 15 3 15 3 15 3 15 4 15 5 15 3 15-2 15 1 15 5 15 5 15-4 15-9 15-6 15 1 15 5 15 5 15 3 15-1 15-2 15-1 15 0 15 2 15 2 15-1 15-3 15-2 15-1 15 0 15 0 15-2 15-2 15 0 15 0 15 1 15 1 15 2 15 3 15 6 15 7 15 7 15 3 15-2 15-5 15-7 15-6 15-8 15-10 15-7 15-4 15-2 15-3 15-5 15-2 15-2 15-5 15-5 15-1 15 0 15-6 15-8 15-6 15-6 15-8 15-4 15-2 15-2 15-2 15-5 15-4 15-3 15-2 15-2 15 3 15 9 15 12 15 10 15 8 15 5 15 3 15 7 15 5 15 5 15 5 15 7 15 4 15-3 15-6 15-3 15 2 15-1 15-1 15-9 15-10 15-3 15 2 15 0 15-3 15 1 15 3 15 0 15-1 15 0 15 2 15 1 15 3 15 6 15 8 15 4 15-1 15-1 15-2 15-2 15-2 15-1 15-2 15-2 15 2 15 3 15 0 15-2 15-1 15 1 15 0 15 2 15 4 15 3 15 4 15 6 15 1 15-3 15-2 15 2 15 2 15-3 15-3 15-2 15-1 15-2 15-2 15-4 15-2 15 0 15 1 15 5 15 3 15-1 15 1 15 5 15 3 15-2 15-1 15 1 15 0 15 3 15 9 15 11 15 7 15 3 15 1 15-1 15-2 15 3 15 4 15 2 15-1 15-2 15-3 15-3 15-3 15-1 15 1 15 0 15-4 15-7 15-8 15-8 15 0 15 6 15 6 15-1 15-3 15 0 15 2 15-5 15-4 15 2 15 2 15-1 15-1 15 1 15 1 15 0 15-1 15-1 15 1 15 4 15-1 15-1 15 49 15 62 15 66 15 56 15 59 15 77 15 70 15 41 15 32 15 33 15 31 15 42 15 72 15 84 15 78 15 79 15 38 15 35 15 22 15 8 15 20 15 26 15 22 15 23 15 13 15-16 15-21 15-15 15-19 15-26 15-35 15-47 15-59 15-57 15-44 15-36 15-26 15-23 15-31 15-34 15-20 15 0 15 5 15 19 15 14 15-5 15-15 15-2 15 18 15 14 15-3 15 4 15 44 15 48 15 21 15 3 15 16 15 32 15 20 15 5 15 13 15 37 15 1 15-24 15-44 15-36 15-26 15-24 15-5 15-16 15-22 15-8 15 7 15 1"/>
<path stroke="#7E2F8E" d="M740 480l15 29 15 59 15 59 15 51 15 39 15 26 15 17 15 11 15 1 15 3 15 7 15 5 15 8 15 22 15 31 15 28 15 34 15 40 15 82 15 114 15 131 15 83 15 26 15 11 15 35 15 51 15 35 15 21 15 42 15 75 15 94 15 103 15 43 15 32 15 29 15 1 15-25 15-21 15-8 15-5 15-10 15-11 15-18 15-19 15-3 15 16 15 18 15 14 15 8 15 3 15-4 15 0 15 19 15 24 15 11 15-5 15-13 15-14 15-9 15-2 15 2 15 1 15 6 15 19 15 25 15 15 15 7 15-1 15-5 15 4 15 18 15 14 15 2 15 0 15 5 15 6 15 0 15-13 15-13 15 6 15 13 15 3 15-2 15 0 15 2 15 4 15 2 15-7 15-16 15-12 15-2 15 1 15-6 15-6 15 6 15 17 15 12 15 9 15 24 15 22 15-1 15-10 15-5 15-4 15-4 15 4 15-2 15-10 15-5 15 4 15 6 15 7 15 7 15 7 15 2 15 0 15-1 15-7 15-3 15-2 15-5 15-9 15-7 15-4 15-5 15-7 15-7 15-5 15-3 15-3 15-4 15-3 15 1 15 2 15 3 15 3 15 1 15 2 15 10 15 9 15-4 15-9 15 0 15 2 15-10 15-19 15-14 15-5 15-6 15-13 15-18 15-11 15 2 15 4 15 0 15-1 15 2 15 8 15 13 15 11 15 8 15 4 15-2 15-6 15 0 15 4 15 2 15 0 15 3 15-1 15-1 15 4 15 0 15-5 15 1 15 12 15 16 15 9 15-7 15-11 15 4 15 19 15 19 15 6 15-3 15 0 15 4 15 0 15-1 15 0 15-7 15-7 15 2 15 8 15 6 15 5 15 8 15 6 15 1 15-5 15-13 15-14 15-8 15 1 15 1 15-3 15-5 15-7 15-5 15-3 15 2 15 1 15-6 15-7 15-4 15-4 15-2 15 0 15 8 15 21 15 57 15 33 15 40 15 59 15 54 15 38 15 49 15 71 15 70 15 54 15 51 15 71 15 90 15 87 15 75 15 67 15 60 15 16 15 23 15 35 15 29 15-4 15-7 15-4 15-11 15-24 15-28 15-19 15-29 15-33 15-21 15-18 15-26 15-45 15-61 15-52 15-34 15-15 15-6 15-1 15-2 15-8 15-16 15-18 15-3 15-3 15-2 15 16 15 33 15 47 15 49 15 27 15 3 15-5 15 6 15 25 15 32 15 31 15 23 15 9 15-5 15-8 15-8 15-18 15-30 15-30 15-22 15-20 15-26 15-50 15-47 15-24 15-2 15 9 15 10 15 18 15 15 15 3 15 0 15 4"/>
<path stroke="#77AC30" d="M740 699l15 0 15 0 15 74 15 0 15 0 15 30 15 0 15 0 15 3 15 0 15 0 15 0 15 0 15 145 15 0 15 0 15 97 15 0 15 0 15 202 15 0 15 0 15 184 15 0 15 58 15 0 15 284 15 0 15 0 15 0 15 105 15 0 15 0 15 100 15 0 15 0 15 0 15 7 15 0 15 0 15 0 15 0 15 7 15 0 15-14 15 0 15-6 15 0 15 8 15 0 15 0 15 0 15 0 15-18 15 4 15 1 15-1 15 0 15 0 15 15 15 0 15 0 15 7 15 0 15 0 15 0 15 0 15 0 15 0 15 0 15 0 15 33 15 0 15 0 15 12 15 3 15 0 15 3 15 6 15 0 15 0 15 16 15 0 15 9 15-1 15 0 15 0 15-5 15 0 15-16 15 0 15 0 15 0 15 0 15-27 15 0 15-3 15 0 15 0 15-10 15 0 15 1 15 1 15-4 15-17 15 0 15 0 15-9 15 0 15 5 15 0 15 0 15 13 15 0 15-1 15 0 15 0 15-3 15 0 15 0 15-5 15 12 15 0 15 0 15 0 15-17 15 0 15 6 15 0 15 2 15 7 15 0 15 0 15 0 15 0 15 9 15 0 15 0 15 2 15 0 15 0 15-5 15 0 15 0 15 0 15-2 15-5 15-3 15 0 15 0 15 3 15 0 15 15 15 0 15 0 15 16 15 0 15 0 15 0 15-10 15 0 15-7 15 0 15 0 15 0 15-13 15 0 15-5 15 0 15 0 15 0 15 0 15-3 15 1 15-2 15 0 15 2 15-3 15 0 15 0 15 0 15 0 15 1 15-1 15 0 15-3 15-3 15 0 15 0 15 0 15 4 15-1 15 0 15 0 15 0 15 8 15 5 15 8 15 0 15 0 15 0 15 0 15-2 15-9 15 0 15 0 15 4 15 0 15 0 15 5 15 3 15-9 15 0 15 0 15 0 15 4 15-2 15 1 15 5 15 0 15 0 15-12 15 0 15 0 15 51 15 0 15 0 15 0 15 306 15 0 15 0 15 0 15 0 15 289 15 0 15 59 15 0 15 68 15 0 15 0 15 0 15 0 15 108 15 0 15 0 15 20 15 0 15 0 15 0 15-49 15 0 15-45 15 0 15-62 15 0 15 0 15 0 15-29 15 0 15 0 15 0 15 0 15-4 15 0 15 0 15-11 15 0 15 0 15 89 15 0 15 0 15 0 15 59 15 0 15-11 15 0 15 0 15 0 15-8 15-14 15 0 15 8 15 0 15-6 15 2 15 0 15 0 15 0 15 0 15-32 15 0 15 0 15 0 15-10 15 1 15 27 15 54 15 0 15 43 15 0"/>
<path stroke="#4DBEEE" d="M740 408l15 0 15 15 15 0 15 17 15 0 15-5 15 0 15 0 15 43 15 0 15 59 15 0 15 0 15 53 15 96 15 0 15 0 15 50 15 0 15 31 15 109 15 0 15 0 15 211 15 0 15 0 15 0 15 0 15 36 15 0 15 10 15 29 15 96 15 0 15 0 15 0 15 169 15 0 15 0 15 159 15 34 15 45 15 320 15 0 15 0 15 0 15 79 15 0 15 0 15 6 15 0 15 2 15 18 15 0 15 0 15 13 15 0 15 0 15-1 15 0 15 0 15 0 15 0 15 12 15-12 15 0 15 0 15 0 15 0 15-2 15 0 15-6 15 0 15 0 15 0 15 0 15-15 15 0 15 0 15-13 15 0 15 0 15 0 15 0 15-18 15 0 15 1 15 20 15 0 15 0 15 0 15 13 15 0 15 0 15 0 15-9 15 0 15 0 15 0 15-3 15 0 15 2 15 0 15 0 15 0 15 5 15 0 15 0 15 5 15 0 15 0 15 0 15-13 15 0 15 2 15 1 15-7 15 0 15 6 15 0 15 0 15 11 15 0 15-11 15 0 15 0 15-2 15 0 15-5 15 0 15 0 15-15 15 0 15 0 15 0 15 0 15-8 15 0 15-1 15 0 15 0 15 0 15-4 15 0 15 0 15 6 15 0 15 0 15 11 15-6 15 0 15 0 15 0 15 0 15-14 15 0 15-8 15 0 15 0 15 6 15 0 15 0 15 0 15-3 15 0 15 0 15 0 15-4 15 0 15 0 15 0 15 0 15 9 15 0 15 0 15 0 15 3 15 4 15 0 15-3 15 0 15 0 15 0 15 0 15 1 15 2 15 0 15-1 15-6 15 0 15 0 15 0 15 0 15 4 15 0 15 0 15 0 15 7 15 0 15-1 15 0 15 0 15 4 15 0 15 12 15 0 15 0 15 0 15 8 15 0 15-11 15 0 15 0 15 0 15-1 15-8 15 0 15-2 15 10 15 0 15 7 15-24 15 0 15 0 15 0 15 3 15 0 15 0 15 0 15-3 15 0 15 0 15 0 15 0 15 127 15 0 15 237 15 0 15 0 15 244 15 0 15 140 15 0 15 0 15 0 15 0 15 222 15 0 15 0 15 71 15 0 15-20 15 0 15 0 15 10 15-18 15 0 15-43 15 0 15 0 15 0 15 0 15 14 15 0 15 15 15 0 15 0 15-101 15 0 15 0 15 0 15 0 15-44 15 0 15-94 15 0 15 0 15 0 15-21 15 0 15-6 15 0 15 37 15 33 15 33 15 0 15 0 15 3 15 0 15 24 15 0 15 0 15 94 15 0 15 0 15 113 15 0 15 0 15 0 15 8"/>
<path stroke="#A2142F" d="M740 849l15 0 15 81 15 0 15 0 15 0 15 0 15 75 15 0 15 18 15 2 15 0 15-13 15 0 15 0 15 158 15 0 15 0 15 0 15 282 15 0 15 0 15 0 15 0 15 419 15 0 15 86 15 0 15 0 15 0 15 0 15 133 15 0 15 0 15-25 15 0 15 0 15-21 15 0 15 0 15-26 15 0 15 0 15-16 15 0 15 0 15-5 15 0 15 7 15 0 15 0 15 0 15 0 15 12 15-6 15-7 15 0 15 4 15 3 15 0 15 0 15-1 15 0 15 2 15 0 15 0 15 0 15 0 15 9 15 0 15 0 15 0 15-14 15 0 15 0 15 1 15 0 15 0 15 9 15 0 15 0 15 0 15 0 15 3 15 0 15 0 15 17 15 0 15 0 15 0 15 0 15 1 15 0 15 0 15-9 15-16 15 0 15 0 15 0 15 0 15-5 15 0 15-1 15 0 15-2 15-6 15 9 15 0 15 0 15 0 15 0 15 19 15 8 15 0 15 1 15 7 15 0 15 0 15 0 15 0 15 2 15 0 15 0 15 0 15 0 15-5 15 0 15 0 15-23 15 0 15-1 15 5 15 0 15 0 15-7 15 0 15 0 15-4 15 0 15 5 15 0 15 0 15 0 15 0 15-3 15-1 15 0 15-2 15 0 15-1 15 0 15 1 15 0 15 0 15 0 15 0 15 0 15 21 15 0 15 0 15-23 15 0 15 0 15-11 15 0 15 0 15 0 15 0 15 3 15 0 15 0 15-3 15 0 15-10 15-16 15 0 15 0 15 8 15 0 15 0 15 0 15 5 15 0 15 0 15 13 15 0 15 0 15-11 15 4 15 0 15 2 15 0 15 0 15 13 15 0 15 0 15 0 15 0 15-16 15-8 15 0 15 0 15-5 15 0 15 0 15 0 15 3 15 0 15 4 15 0 15 0 15 0 15 0 15 0 15 0 15 0 15 2 15 0 15 0 15 0 15-8 15 0 15 0 15 68 15 0 15 1 15 215 15 0 15 0 15 0 15 0 15 226 15 77 15 149 15 0 15 0 15 176 15 0 15 0 15 0 15 0 15 151 15 18 15 0 15-50 15 0 15-30 15-48 15 0 15 0 15-59 15 0 15-5 15 0 15 0 15 0 15 0 15-51 15 0 15 0 15 0 15 0 15-72 15 0 15 0 15 0 15 0 15-10 15 34 15 0 15 0 15 0 15 9 15 0 15 51 15 0 15 0 15 46 15 0 15 0 15 0 15 0 15 57 15 25 15 0 15 0 15 50 15 0 15 0 15 0 15 0 15-2 15 0 15-5 15-4 15-1 15 33 15 0 15 1 15 0 15 0"/>
<path stroke="#0072BD" d="M740 553l15 0 15 10 15 0 15 61 15 0 15 133 15 0 15 0 15 51 15 0 15 0 15 0 15 0 15-7 15 176 15 0 15 0 15 0 15 110 15 0 15 51 15 0 15 78 15 0 15 115 15 0 15 0 15 0 15 92 15 0 15 0 15 234 15 0 15 226 15 0 15 0 15 110 15 0 15-18 15 0 15 0 15 0 15 0 15-1 15 0 15 0 15 0 15-18 15 0 15-9 15 0 15 0 15 15 15 0 15 0 15 4 15 0 15 0 15-2 15 15 15 0 15 0 15 17 15 0 15 0 15 0 15 13 15 0 15 10 15 0 15 0 15 0 15-7 15-7 15 0 15-4 15 0 15 1 15 6 15 0 15-5 15-6 15-7 15 0 15 0 15-9 15 0 15 0 15 0 15 3 15 0 15 7 15 0 15 0 15 0 15 0 15 3 15 0 15 3 15 0 15 0 15 0 15 0 15 14 15 3 15 0 15 0 15 0 15-3 15 0 15 0 15 0 15-10 15 0 15 0 15 0 15 0 15-10 15 0 15 0 15 0 15 0 15-8 15-1 15 0 15 0 15-11 15 0 15 0 15 0 15 7 15 5 15 0 15 4 15 13 15 0 15 0 15 0 15 0 15 0 15 0 15 0 15 0 15 7 15-6 15 0 15-9 15 0 15 0 15-7 15 0 15-6 15 0 15-2 15 3 15 8 15 0 15 0 15 20 15 0 15 0 15 0 15 0 15 33 15 0 15 0 15 0 15 0 15 8 15-10 15 0 15-15 15 0 15 0 15-9 15-2 15 0 15 0 15 11 15 0 15 0 15 0 15 6 15 0 15 0 15 0 15-16 15 0 15 0 15-18 15 0 15 0 15 0 15 13 15 0 15 0 15 0 15-13 15 0 15-3 15 0 15-3 15 0 15-8 15 0 15-3 15 0 15 0 15 3 15 0 15 15 15 0 15 0 15 3 15 0 15 0 15 8 15 0 15-8 15 0 15 13 15 0 15 0 15 264 15 0 15 71 15 89 15 0 15 117 15 0 15 0 15 0 15 135 15 0 15 257 15 0 15 0 15 0 15 43 15-1 15 1 15 39 15 0 15 0 15-8 15 0 15-40 15 0 15 0 15 0 15 0 15-206 15 0 15 0 15 0 15 0 15-163 15 0 15-8 15 1 15-9 15-9 15-13 15 0 15 0 15 37 15 0 15 82 15 0 15 0 15 1 15 0 15 0 15 89 15 134 15 0 15 0 15 36 15 0 15 23 15 0 15-17 15-30 15-22 15-13 15-116 15 0 15 0 15 0 15 0 15-80 15 0 15 0 15 0 15 0 15 32 15 0 15 0 15 0 15 0"/>
<path stroke="#D95319" d="M740 685l15 0 15 98 15 0 15 0 15 0 15 45 15 0 15 0 15 0 15 60 15 0 15 0 15 31 15 57 15 0 15 0 15 0 15 0 15 118 15 0 15 0 15 109 15 0 15 0 15 0 15 0 15 341 15 0 15 0 15 0 15 78 15 0 15 0 15 0 15 122 15 0 15 202 15 0 15 93 15 0 15 0 15 0 15 0 15-3 15 0 15 0 15-2 15-6 15 0 15-13 15 0 15 0 15-7 15-4 15 0 15 0 15-17 15 0 15 0 15 0 15-29 15 0 15 0 15 0 15 0 15 29 15 0 15 9 15 9 15 0 15 0 15 10 15 0 15 0 15 0 15 13 15 0 15 0 15 7 15-1 15 0 15 6 15 0 15-10 15 0 15-3 15 0 15 0 15 0 15 0 15 13 15 0 15 0 15-28 15 0 15 0 15 0 15 0 15 2 15 1 15 0 15 0 15 2 15 0 15-2 15-12 15 0 15-1 15 0 15 0 15 0 15 0 15 15 15 0 15 0 15 0 15 0 15 21 15 10 15 0 15 0 15-9 15 0 15 0 15 0 15-2 15 1 15 0 15-14 15 0 15-13 15 0 15 0 15 4 15 0 15 3 15 0 15-9 15 0 15 0 15 30 15 0 15 0 15 0 15 0 15 8 15 0 15 0 15-2 15 0 15 0 15 0 15 0 15-1 15-6 15 0 15 0 15 1 15 3 15 3 15 0 15 0 15 0 15 14 15 0 15-1 15 0 15 0 15 9 15 0 15-3 15 0 15 2 15 0 15 0 15-10 15 0 15 0 15-2 15 0 15 0 15-14 15-11 15 0 15 0 15 4 15-2 15 3 15 0 15 0 15 0 15 3 15 0 15 0 15 0 15 0 15-6 15 0 15-1 15-10 15 0 15 0 15 7 15 0 15 0 15-3 15-2 15-10 15 0 15 0 15 7 15 0 15 16 15 0 15 0 15 9 15 5 15 0 15 0 15 0 15 7 15 7 15-2 15 0 15 0 15-16 15 9 15 113 15 0 15 0 15 0 15 241 15 0 15 0 15 161 15 0 15 0 15 0 15 90 15 0 15 0 15 195 15 174 15 0 15 77 15 0 15 0 15 0 15 0 15-4 15 0 15 0 15-105 15 0 15 0 15 0 15-42 15 0 15-41 15 0 15-17 15 3 15 0 15 0 15-10 15 0 15 0 15 4 15 0 15 0 15 27 15 0 15 0 15 6 15 12 15 0 15 0 15 0 15 0 15-65 15-40 15 0 15-31 15 0 15 2 15 0 15 22 15 33 15 14 15-14 15 0 15 0 15 68 15 0 15 0 15 71 15 0 15 0 15 20 15 0"/>
<path stroke="#EDB120" d="M740 613l15 0 15 0 15 1 15 0 15 0 15 43 15 37 15 0 15 0 15 38 15 0 15 0 15 0 15 100 15 0 15 0 15 0 15 0 15 193 15 0 15 0 15 107 15 0 15 0 15 124 15 0 15 214 15 0 15 191 15 0 15 0 15 130 15 61 15 130 15 0 15 0 15 114 15 0 15-5 15 0 15 0 15-1 15 0 15 0 15-11 15 0 15 0 15-9 15-1 15 0 15 0 15-8 15-1 15 0 15-14 15 0 15 0 15 0 15 0 15 13 15 0 15 0 15 4 15 0 15 0 15 0 15 4 15-8 15 0 15 0 15 0 15 0 15-8 15-13 15 0 15 0 15-29 15 0 15-15 15 0 15 0 15-2 15 5 15 0 15 0 15-2 15 0 15 0 15 0 15 0 15 0 15 0 15-29 15 0 15 0 15 0 15 0 15 9 15 0 15 3 15 0 15 0 15 0 15 8 15 0 15 0 15 0 15 10 15 6 15 0 15 0 15 0 15-9 15 0 15 0 15 0 15 0 15 2 15 0 15 0 15 14 15 0 15 6 15 0 15-14 15 0 15 1 15 0 15 5 15 0 15 0 15 0 15 0 15 9 15 0 15 0 15 0 15 0 15-3 15-11 15 0 15 0 15 0 15 2 15 0 15 0 15 3 15 0 15 0 15 8 15 6 15 0 15 0 15 0 15 0 15-3 15-8 15 0 15 0 15-15 15 0 15 0 15-3 15 0 15 0 15 9 15 0 15 0 15 14 15 0 15 0 15-8 15 0 15-4 15 0 15 0 15-4 15 0 15 0 15 0 15-6 15 0 15 0 15-2 15 0 15 0 15 0 15 0 15 20 15 0 15 0 15 0 15 0 15 18 15 0 15 0 15 0 15 12 15 10 15 0 15 4 15 0 15 0 15-9 15 0 15 1 15 0 15 0 15-12 15 0 15 0 15-13 15 0 15 0 15 0 15 0 15-5 15-7 15 0 15 3 15-5 15 0 15-6 15 0 15 2 15 0 15 0 15 0 15 59 15 0 15 0 15 0 15 0 15 230 15 0 15 0 15 190 15 0 15 96 15 0 15 84 15 0 15 71 15 0 15 0 15 144 15 41 15 0 15 42 15 0 15 0 15 67 15 0 15 41 15 0 15 14 15 0 15 0 15 0 15-121 15 0 15 0 15 0 15 0 15-252 15 0 15-11 15 0 15-60 15 0 15 0 15 0 15 0 15 29 15 31 15 51 15 0 15 0 15 0 15 15 15 55 15 0 15 0 15 0 15 0 15 42 15 0 15 49 15 0 15 49 15 0 15 0 15 26 15 0 15-37 15 0 15 0 15-2 15 0 15 0"/>
<path stroke="#7E2F8E" d="M740 787l15 0 15 20 15 0 15 0 15 0 15 0 15 32 15 59 15 0 15 72 15 0 15 282 15 0 15 0 15 0 15 325 15 0 15 0 15 0 15 0 15 356 15 0 15 67 15 0 15 0 15 22 15 0 15 0 15 2 15 0 15 3 15 0 15-12 15 0 15 0 15-2 15 0 15 0 15 0 15 0 15 1 15 0 15 0 15 1 15 0 15 0 15 0 15 0 15 28 15 0 15 0 15-8 15 0 15 0 15 0 15 0 15 2 15 11 15 0 15 0 15-11 15 0 15 0 15 0 15-10 15 0 15-2 15 0 15 0 15 0 15 0 15 7 15 0 15 0 15 0 15-2 15 1 15 2 15-4 15-8 15 0 15 0 15 0 15-8 15 0 15 0 15-15 15 0 15 0 15-12 15 0 15 8 15 0 15 0 15 0 15 0 15 12 15 0 15 0 15-15 15 0 15 0 15-8 15 0 15 0 15-11 15 12 15 0 15 0 15 9 15 0 15 2 15 0 15 0 15 0 15 0 15 3 15 0 15 8 15 11 15 0 15 0 15 0 15-1 15 0 15 0 15 1 15 0 15-6 15 0 15 0 15-16 15 0 15 0 15 0 15 0 15-4 15 0 15 0 15 8 15 0 15 5 15 0 15 7 15 0 15 0 15 0 15 0 15-13 15 0 15 0 15 0 15 0 15 11 15 0 15 0 15-4 15 0 15 0 15 0 15 0 15 0 15 0 15 4 15 0 15 0 15-1 15 0 15-5 15 0 15 0 15-4 15 0 15 0 15-2 15-9 15 0 15 0 15 0 15 0 15-16 15 0 15-5 15 0 15 0 15 0 15 0 15 0 15 0 15-11 15 0 15 0 15 0 15 0 15 15 15 0 15 0 15 9 15 0 15 0 15 0 15 0 15-9 15 0 15-13 15 0 15 0 15 0 15-1 15 0 15-6 15 0 15 0 15 9 15 14 15 0 15 0 15 0 15 0 15 1 15 16 15 0 15 7 15 4 15 0 15 13 15 0 15 0 15 0 15 0 15 32 15 0 15 14 15 208 15 0 15 0 15 0 15 223 15 0 15 231 15 0 15 0 15 0 15 0 15 276 15 0 15 0 15 0 15 26 15 16 15 0 15 0 15-13 15-15 15-21 15 0 15-16 15 0 15 0 15-32 15 11 15 28 15 3 15 0 15 0 15-44 15 0 15 0 15-126 15 0 15 0 15-146 15 0 15-14 15-7 15-29 15 0 15 0 15 0 15-14 15 20 15 0 15 0 15 0 15 40 15 0 15 0 15 109 15 0 15 75 15 133 15 0 15 0 15 62 15 18 15 0 15-29 15 0 15 0 15 0"/>
<path stroke="#77AC30" d="M740 539l15 30 15 10 15-9 15-8 15 8 15 30 15 47 15 48 15 27 15 13 15 29 15 51 15 47 15 33 15 31 15 43 15 43 15 33 15 49 15 93 15 69 15 55 15 46 15 56 15 67 15 56 15 38 15 28 15 12 15-1 15 34 15 99 15 124 15 110 15 64 15 15 15 9 15-8 15-1 15 4 15 2 15-5 15-6 15-7 15-7 15-3 15 2 15 3 15 2 15 1 15 0 15 0 15 2 15 0 15-6 15-7 15-7 15-3 15-3 15-5 15-6 15-3 15 3 15 5 15 2 15 1 15 1 15 2 15-1 15-3 15 2 15 4 15 0 15-1 15 3 15 3 15 0 15-4 15-4 15-3 15 0 15 2 15-1 15-3 15-1 15 3 15 4 15-1 15-3 15 2 15 6 15 6 15 0 15-2 15 0 15 3 15 3 15 4 15 5 15 6 15 4 15 2 15 3 15 3 15-2 15-5 15-4 15-2 15 3 15 6 15 4 15 3 15 0 15-2 15-3 15-2 15 1 15-3 15-1 15-3 15-4 15-6 15-6 15-3 15-3 15-6 15-7 15-3 15-2 15 0 15 3 15 2 15-2 15-3 15 0 15 0 15-2 15-4 15-5 15-6 15 1 15 9 15 9 15 2 15 0 15 4 15 1 15-3 15-3 15 1 15 0 15-3 15-5 15-4 15-4 15-3 15 1 15 3 15 0 15 2 15 8 15 4 15-6 15-8 15-5 15-1 15 0 15 2 15 6 15 5 15-1 15 0 15 5 15 8 15 9 15 8 15 5 15 1 15-2 15-1 15-5 15-7 15-8 15-4 15 1 15 6 15 8 15 5 15-1 15 0 15 3 15 4 15-3 15-7 15-5 15-1 15 2 15 1 15-3 15-1 15 3 15 3 15 0 15 2 15 6 15 2 15-3 15-5 15-5 15 1 15 8 15 5 15-2 15-2 15-6 15-3 15 3 15 5 15 2 15-1 15-1 15-1 15-1 15 3 15 6 15 6 15 3 15 0 15-2 15 4 15 4 15 29 15 117 15 110 15 72 15 43 15 27 15 19 15 39 15 96 15 150 15 157 15 123 15 72 15 24 15 23 15 4 15-13 15-25 15-13 15 0 15-2 15-24 15-39 15-31 15-21 15 4 15 9 15 7 15 9 15 4 15 0 15-1 15-9 15-7 15-4 15-12 15-19 15-12 15 2 15 0 15-17 15-28 15-20 15-15 15-9 15-14 15-33 15-33 15-17 15 11 15 20 15 18 15 6 15-9 15-13 15-2 15 15 15 28 15 38 15 48 15 39 15 22 15 16 15 12 15 6 15 1 15 5 15 13 15 4"/>
<path stroke="#4DBEEE" d="M740 566l15-11 15 4 15 17 15 19 15 22 15 34 15 40 15 37 15 33 15 33 15 36 15 37 15 28 15 23 15 33 15 33 15 17 15 19 15 31 15 39 15 47 15 52 15 58 15 94 15 79 15 77 15 104 15 113 15 88 15 70 15 65 15 61 15 72 15 36 15 25 15-6 15-7 15-3 15-2 15-4 15-7 15-8 15-7 15-8 15-10 15-6 15 0 15 3 15 4 15 4 15 6 15 7 15 2 15-4 15-2 15 1 15 3 15 3 15 1 15-1 15 2 15 3 15 3 15 0 15-1 15-1 15 3 15 2 15-2 15-2 15 1 15 1 15 0 15 3 15 4 15 3 15 6 15 3 15-5 15-9 15-4 15-4 15-2 15 1 15 6 15 5 15-2 15-2 15 1 15 1 15-1 15-3 15-7 15-7 15-3 15-5 15-13 15-14 15-6 15 2 15 2 15-2 15-3 15-1 15 0 15 2 15-1 15-4 15-1 15 0 15 0 15-1 15 0 15-1 15 2 15 3 15-1 15-8 15-4 15-5 15-2 15 1 15 3 15 2 15 2 15 1 15 3 15 2 15-2 15-5 15-3 15 3 15 3 15-4 15-4 15 5 15 8 15 3 15 2 15 1 15-1 15 1 15 5 15 6 15 1 15 2 15 4 15 4 15 5 15 3 15 3 15 3 15 4 15-2 15-5 15-3 15-1 15-3 15-4 15-2 15 0 15-5 15-5 15-2 15 4 15 4 15-1 15-4 15-5 15-5 15-2 15 4 15 6 15 8 15 6 15 1 15-2 15 0 15 0 15 0 15-2 15-3 15 1 15-1 15-9 15-13 15-9 15-2 15 1 15 4 15 10 15 9 15 2 15-3 15-5 15-2 15 3 15 2 15-3 15-9 15-7 15-8 15-8 15-5 15 1 15 2 15-3 15-3 15 2 15 4 15 0 15-3 15 0 15-1 15-2 15-3 15-5 15-3 15-3 15 0 15 2 15 3 15 7 15 2 15-1 15 12 15 5 15 10 15 33 15 32 15 7 15 5 15 47 15 82 15 84 15 77 15 82 15 77 15 58 15 59 15 98 15 124 15 97 15 27 15-1 15 7 15 27 15 17 15 13 15-1 15-12 15-10 15 7 15 2 15-2 15-24 15-26 15-11 15-9 15-12 15-2 15-7 15-19 15-14 15-5 15-12 15-15 15-18 15-17 15-6 15-10 15-27 15-16 15-14 15-1 15 8 15 1 15-12 15-21 15-23 15-25 15-18 15-9 15 10 15 31 15 41 15 45 15 56 15 54 15 22 15 8 15 3 15-14 15-24 15-32 15-19 15-13 15-9 15-2 15 14"/>
<path stroke="#A2142F" d="M740 870l15 44 15 19 15 6 15 2 15-5 15-5 15 7 15 19 15 18 15 12 15 9 15 13 15 30 15 46 15 41 15 26 15 47 15 61 15 120 15 98 15 48 15-4 15-4 15 60 15 113 15 90 15 31 15 13 15 47 15 88 15 85 15 8 15-3 15-4 15 7 15 6 15-5 15-2 15-1 15 2 15 5 15 3 15 2 15 0 15-3 15-1 15-3 15-6 15-3 15 5 15 5 15 0 15-3 15-3 15-4 15-3 15 3 15 8 15 2 15-4 15-4 15 1 15 3 15 5 15 3 15 4 15 5 15 2 15-3 15-4 15-4 15-2 15 2 15 5 15 4 15 2 15 1 15-1 15-2 15 2 15 1 15-5 15-8 15-5 15-1 15 1 15 4 15-1 15-6 15-8 15-7 15-5 15-1 15-1 15-7 15-10 15-5 15-4 15-1 15 1 15 0 15-2 15 0 15 0 15 1 15-2 15-6 15-3 15 2 15 3 15 0 15-1 15 2 15 5 15 6 15 4 15 1 15-3 15 1 15 0 15 1 15 6 15 11 15 11 15 6 15 2 15 2 15 3 15 7 15 10 15 11 15 0 15-9 15-10 15-5 15-4 15-1 15 1 15-1 15-5 15-7 15-7 15-3 15 0 15 0 15 1 15 3 15 3 15 1 15-1 15-2 15-3 15-3 15-1 15 1 15 1 15 0 15 3 15 7 15 3 15-2 15-2 15 1 15 3 15 2 15-3 15-7 15-5 15-8 15-10 15-7 15-3 15 0 15 2 15 4 15 3 15 2 15 2 15 2 15 2 15 0 15-1 15-1 15-1 15 1 15 0 15 0 15 2 15 3 15 2 15 0 15-2 15-2 15-4 15-4 15-4 15-1 15-1 15-2 15-3 15-3 15-1 15 6 15 7 15 5 15 7 15 7 15 7 15 5 15 0 15 0 15 3 15 4 15-2 15-5 15-2 15-3 15-5 15-4 15 0 15 3 15 2 15-1 15 2 15 5 15 1 15 2 15 28 15 53 15 49 15 43 15 37 15 44 15 50 15 43 15 29 15 18 15 16 15 39 15 61 15 61 15 54 15 60 15 78 15 111 15 56 15 19 15 16 15 5 15-5 15-9 15-1 15 1 15-4 15-1 15-1 15-10 15-31 15-42 15-63 15-78 15-85 15-54 15-16 15-4 15-21 15-27 15-23 15-13 15-21 15-24 15 2 15 19 15 23 15 15 15 12 15 17 15 11 15-6 15-2 15 19 15 36 15 45 15 49 15 32 15 22 15 20 15 22 15 31 15 27 15 22 15-21 15-13 15-8 15 2 15 4 15-3 15-8 15-9 15-15"/>
<path stroke="#0072BD" d="M740 679l15 0 15-47 15 0 15 0 15 0 15 0 15 28 15 0 15 14 15 0 15 0 15 53 15 0 15 0 15 107 15 0 15 0 15 0 15 0 15 142 15 0 15 48 15 43 15 0 15 0 15 0 15 71 15 0 15 0 15 248 15 0 15 0 15 0 15 167 15 122 15 0 15 35 15 109 15 0 15 0 15 175 15 0 15 104 15 0 15 0 15 0 15-1 15-10 15-22 15 0 15 0 15-39 15 0 15 0 15-19 15 0 15 0 15 0 15 6 15 3 15 0 15 14 15 0 15 0 15 0 15 0 15 12 15 0 15 0 15 0 15 7 15 0 15 0 15 0 15 0 15 2 15 15 15 0 15 6 15 0 15-5 15 0 15-3 15 11 15 0 15 0 15 0 15 0 15 0 15-3 15-4 15 0 15 0 15 0 15 0 15 11 15 0 15-11 15 0 15-8 15 0 15-1 15 2 15-1 15 0 15-10 15 0 15 0 15-25 15-14 15 0 15 0 15 4 15 0 15 0 15 0 15 0 15 21 15 8 15 0 15 0 15 5 15 0 15 3 15-5 15-5 15 0 15 0 15 0 15-11 15 0 15-6 15-2 15-1 15 0 15 4 15 6 15 0 15 5 15 0 15 0 15 0 15-3 15 0 15 0 15 0 15 0 15 4 15 0 15 0 15 17 15 0 15 0 15-9 15 0 15-4 15-1 15 0 15 0 15 0 15-4 15-6 15-10 15 0 15 0 15-8 15 0 15 7 15 0 15 7 15 0 15 0 15 0 15 0 15 5 15 9 15 0 15 0 15 0 15-14 15 0 15 5 15 0 15 0 15 9 15 0 15 0 15 7 15 0 15 0 15 0 15 1 15 1 15 0 15 3 15-2 15 0 15 0 15 0 15 0 15-3 15 0 15 0 15 0 15-14 15 0 15 0 15-7 15 12 15 0 15 0 15 0 15 0 15 12 15 0 15 8 15 0 15 0 15 0 15 0 15 157 15 38 15 44 15 0 15 0 15 30 15 84 15 0 15 0 15 0 15 105 15 48 15 85 15 240 15 0 15 231 15 0 15 0 15 0 15-20 15 0 15-3 15 71 15 0 15 38 15 0 15-27 15 0 15 0 15 0 15-44 15-41 15 0 15-104 15 0 15 0 15 0 15-89 15 0 15 0 15-109 15 0 15-20 15 0 15 13 15 0 15 0 15 87 15 0 15 0 15 13 15 1 15 0 15 0 15 7 15 38 15 0 15 19 15 95 15 0 15 0 15 0 15 0 15 13 15 0 15 0 15-24 15 0 15 0 15-50 15 0 15 0 15 0 15-19 15-22 15-85 15 0 15 0 15 0 15 0"/>
<path stroke="#D95319" d="M740 513l15 0 15 0 15 31 15-6 15 0 15 0 15 31 15 19 15 18 15-5 15 0 15 0 15 77 15 0 15 83 15 0 15 101 15 0 15 0 15 0 15 0 15 158 15 30 15 0 15 0 15 49 15 20 15 31 15 0 15 36 15 174 15 0 15 0 15 0 15 187 15 121 15 0 15 25 15 64 15 209 15 0 15 32 15 0 15 0 15 30 15 0 15 0 15 0 15-2 15 0 15 15 15 0 15-13 15 0 15 0 15 0 15-6 15 0 15-8 15 0 15 2 15 0 15 0 15 0 15 3 15 0 15 0 15 0 15 0 15 33 15 0 15 0 15 0 15-4 15-4 15-5 15 0 15-8 15 0 15-4 15 3 15 0 15 0 15 6 15 0 15-3 15 0 15 0 15 0 15-4 15 0 15 0 15 0 15 0 15-26 15 0 15 0 15 0 15 9 15 0 15-12 15 0 15-12 15 0 15 0 15 0 15 0 15-7 15 0 15 0 15 0 15 0 15 2 15 4 15 0 15 13 15 0 15-11 15 0 15-3 15 0 15 0 15-5 15 0 15-3 15 0 15 2 15 4 15 0 15 0 15-2 15 0 15 1 15 0 15 0 15 1 15 0 15 0 15 0 15 0 15 15 15 0 15 0 15 4 15 0 15 2 15 0 15 0 15 0 15 0 15 10 15 8 15 0 15 0 15-6 15 0 15 0 15-11 15 0 15-2 15 0 15 0 15 0 15 13 15 0 15 0 15 1 15 0 15 0 15 0 15-18 15 0 15 0 15 0 15-18 15 0 15 0 15 0 15 0 15-10 15 0 15-11 15 0 15 6 15 0 15 0 15 0 15 0 15 4 15 0 15 0 15 8 15 0 15 0 15 0 15 0 15 5 15-5 15 0 15 0 15-4 15 3 15 0 15 0 15 2 15 0 15 4 15 0 15-2 15 0 15 5 15 6 15 7 15 0 15 7 15 0 15 10 15 0 15 0 15 22 15 0 15 0 15 0 15 0 15-4 15 0 15 1 15-1 15 119 15 0 15 0 15 226 15 0 15 38 15 0 15 60 15 0 15 0 15 0 15 0 15 262 15 0 15 0 15 0 15 230 15 0 15 0 15 0 15 25 15 0 15 0 15 53 15 0 15-48 15 0 15-3 15 0 15 0 15 0 15-20 15-27 15 0 15 0 15 0 15-89 15 0 15-9 15 0 15 0 15 0 15 0 15-182 15 0 15 0 15-36 15 0 15 0 15 0 15 0 15 63 15 0 15 41 15 0 15 0 15 0 15 0 15 66 15 0 15 211 15 0 15 0 15 0 15 0 15 8 15 11 15-17 15 0 15 0 15-44 15 0"/>
<path stroke="#EDB120" d="M740 1002l15 0 15 0 15 0 15 0 15 61 15 0 15 0 15 29 15 0 15 12 15 0 15 0 15 146 15 0 15 0 15 0 15 228 15 0 15 0 15 0 15 284 15 0 15 0 15 0 15 0 15 327 15 0 15 0 15 0 15-3 15-11 15-23 15 0 15 0 15 0 15-5 15-22 15 0 15 0 15-9 15 6 15 0 15 15 15 0 15 24 15 0 15 0 15 0 15 11 15-2 15 0 15-12 15 0 15-1 15 1 15-3 15 0 15 0 15-34 15 0 15 0 15 0 15 0 15-11 15 0 15 0 15 0 15 0 15-19 15 0 15 0 15 0 15 2 15 1 15 0 15 0 15 0 15-6 15-2 15 0 15 14 15 0 15 0 15 0 15 0 15 39 15 0 15 5 15 0 15-1 15 1 15-1 15 0 15 0 15-21 15 0 15 0 15 0 15 0 15-4 15-5 15-5 15-13 15 0 15 0 15-6 15-9 15 0 15 0 15-2 15 7 15 0 15 0 15 9 15-1 15-2 15 0 15-2 15 0 15 0 15-15 15-9 15 0 15 0 15 6 15 15 15 0 15 0 15 0 15 10 15 0 15 1 15 3 15 0 15 0 15 0 15 0 15 10 15 0 15 0 15 0 15 0 15 0 15 0 15 3 15 5 15 0 15 0 15-16 15 0 15-3 15 0 15 6 15 3 15 0 15 0 15-8 15 0 15 0 15 8 15 1 15 0 15 0 15-4 15 0 15 0 15 0 15 0 15 3 15 0 15-1 15 0 15 8 15 0 15 0 15 0 15 0 15-18 15 0 15 0 15-12 15 0 15-6 15-4 15 0 15 0 15 2 15-2 15 0 15 0 15 0 15 12 15 0 15 0 15 0 15 0 15 31 15 0 15 0 15 0 15-1 15 5 15 7 15 7 15-1 15 0 15 0 15-5 15 0 15 3 15 0 15 0 15 8 15 13 15 0 15 12 15 0 15 4 15 2 15 0 15 0 15 0 15-2 15 0 15 0 15 0 15 0 15 2 15-4 15 0 15 0 15 19 15 0 15 121 15 0 15 137 15 0 15 0 15 0 15 0 15 355 15 0 15 0 15 0 15 0 15 232 15 157 15 0 15 0 15 0 15 0 15 34 15-5 15 0 15 25 15 0 15 4 15 0 15 0 15 0 15-7 15 0 15-58 15 0 15 0 15 0 15 0 15-97 15-86 15-126 15 0 15 0 15-127 15 0 15 0 15 0 15 0 15 51 15 0 15 0 15 38 15 15 15 0 15 0 15 53 15 0 15 27 15 0 15 0 15 31 15 0 15 85 15 0 15 91 15 0 15 0 15 30 15 0 15 0 15 0"/>
<path stroke="#7E2F8E" d="M740 371l15 11 15 27 15 73 15 103 15 86 15 33 15-7 15 3 15 38 15 41 15 16 15 2 15 17 15 32 15 29 15 17 15 16 15 14 15 13 15 11 15 11 15 22 15 37 15 36 15 17 15-3 15-7 15 9 15 35 15 49 15 99 15 89 15 60 15 52 15 62 15 79 15 93 15 85 15 54 15 13 15 11 15 58 15 76 15 36 15 21 15 1 15-6 15-1 15 3 15-10 15-26 15-27 15-7 15 13 15 12 15-4 15-17 15-15 15-9 15 4 15 29 15 38 15 26 15 10 15 5 15 7 15 10 15 6 15-7 15-4 15 6 15 4 15-8 15-12 15-4 15 8 15 8 15-3 15-18 15-20 15-2 15 12 15 7 15-2 15 3 15 9 15 3 15-5 15-6 15 1 15 2 15-1 15 7 15 18 15 17 15 10 15 4 15 3 15 4 15 0 15-17 15-21 15-12 15-6 15-9 15-10 15-5 15 8 15 7 15-1 15-7 15-9 15-5 15 5 15 8 15 2 15 0 15-1 15 6 15 0 15-11 15-12 15-11 15-14 15-10 15-1 15 1 15-5 15-6 15 3 15 13 15 17 15 17 15 12 15 4 15-1 15-3 15-4 15-8 15-9 15-4 15 1 15 2 15 3 15 1 15-2 15-1 15-1 15-6 15-8 15 2 15 12 15 6 15-1 15-3 15-1 15 3 15 7 15 6 15 2 15 0 15 1 15 8 15 15 15 15 15 9 15 5 15-3 15-9 15-17 15-16 15-8 15 4 15 9 15-1 15-15 15-16 15-5 15 2 15-2 15-9 15-7 15-4 15-4 15-2 15 0 15-1 15-4 15-5 15 1 15 7 15 10 15 8 15 6 15 3 15 2 15 1 15-2 15-2 15-3 15-7 15-2 15 3 15 0 15-8 15-7 15 1 15 9 15 9 15 2 15-1 15 0 15 0 15 0 15 2 15 1 15 2 15 7 15 5 15-7 15-15 15-9 15 4 15 7 15-7 15-19 15-15 15 1 15 22 15 87 15 77 15 63 15 49 15 37 15 23 15 19 15 29 15 52 15 54 15 38 15 40 15 62 15 72 15 52 15 35 15 41 15 40 15 20 15 7 15 13 15 1 15 6 15 2 15 4 15-1 15-14 15-26 15-17 15-9 15-8 15-5 15-20 15-29 15-24 15-16 15-13 15-22 15-24 15-25 15-23 15-21 15-8 15 1 15 14 15 28 15 34 15 35 15 24 15 6 15 3 15 13 15 32 15 41 15 30 15 13 15 11 15 21 15 13 15 1 15-4 15 8 15 16 15-23 15-32 15-27 15-1 15 3 15-11 15-25 15-31"/>
<path stroke="#77AC30" d="M740 839l15 14 15 33 15 32 15 20 15 6 15-1 15 2 15 14 15 17 15 0 15-14 15-15 15-7 15-5 15-3 15 12 15 43 15 55 15 40 15 23 15 18 15 29 15 37 15 39 15 49 15 93 15 101 15 113 15 99 15 78 15 72 15 81 15 70 15 48 15 30 15 18 15 15 15 9 15-4 15-11 15-6 15-1 15 3 15 8 15 7 15 0 15-6 15-6 15-8 15-7 15-4 15-1 15 0 15-4 15-6 15 4 15 15 15 11 15 2 15-3 15-7 15-9 15-7 15-8 15-8 15-7 15-11 15-17 15-14 15-3 15 6 15 10 15 6 15-1 15-1 15 3 15 4 15-1 15-3 15-4 15-3 15 2 15 2 15-3 15-2 15 2 15 3 15 3 15 1 15-5 15-6 15-3 15-2 15-2 15 6 15 9 15 4 15 3 15 5 15 8 15 11 15 8 15 2 15 0 15 2 15 1 15 0 15-1 15-1 15-1 15 2 15 2 15 3 15 4 15 5 15 3 15 3 15-6 15-2 15 0 15 2 15 3 15 4 15 4 15 0 15-3 15-1 15 3 15 7 15 6 15 0 15-5 15-6 15-2 15 4 15 9 15 7 15-1 15-3 15-4 15-4 15-4 15-6 15-7 15-5 15-1 15 1 15 3 15-1 15-3 15-3 15-5 15-7 15-6 15-3 15-5 15-7 15-8 15-6 15-4 15-4 15-3 15-4 15-2 15 0 15 0 15 1 15 0 15-5 15-6 15-1 15 2 15 1 15 0 15 1 15 6 15 5 15 0 15-3 15-2 15-3 15-4 15-1 15 8 15 10 15 8 15 5 15 5 15 3 15 4 15 1 15 2 15 3 15 5 15 2 15-1 15-1 15 4 15 4 15 0 15-2 15-2 15 1 15 3 15 2 15 3 15 3 15 1 15 2 15 1 15 4 15 3 15-2 15-11 15-12 15-7 15-2 15-5 15-8 15-7 15 7 15 19 15 48 15 25 15 19 15 18 15 34 15 69 15 100 15 122 15 119 15 87 15 48 15 38 15 64 15 98 15 91 15 16 15-11 15-18 15 1 15 36 15 28 15-1 15 2 15 9 15 8 15-5 15 4 15 20 15 4 15-20 15-14 15 4 15 13 15 20 15 17 15 3 15-20 15-7 15 0 15 4 15 14 15 4 15-9 15-34 15-43 15-31 15-14 15-20 15-9 15 4 15-4 15-14 15-13 15-7 15-5 15 0 15 11 15 18 15 9 15 5 15 22 15 45 15 35 15 19 15 18 15 24 15 24 15 12 15 20 15 32 15 13 15-9 15-3 15 15 15 15 15 0 15-13 15-24"/>
<path stroke="#4DBEEE" d="M740 536l15 0 15 0 15 57 15 0 15 2 15 18 15 0 15 29 15 61 15 0 15 169 15 0 15 0 15 0 15 0 15 157 15 0 15 0 15 0 15 0 15 63 15 0 15 0 15 31 15 0 15 0 15 26 15 0 15 21 15 62 15 0 15 0 15 0 15 0 15 217 15 208 15 0 15 0 15 0 15 0 15 335 15 0 15 70 15 15 15 0 15 0 15 0 15-9 15 0 15-11 15 0 15 0 15 0 15 0 15-5 15 0 15 0 15 6 15 0 15 0 15 7 15 3 15 0 15 0 15-31 15 0 15 0 15-10 15 5 15 0 15-2 15 0 15 8 15 0 15 0 15 0 15-2 15-4 15 0 15 12 15 0 15 0 15 0 15 0 15 9 15 0 15-5 15 0 15 0 15-13 15 0 15 1 15 0 15 8 15 0 15 12 15 0 15 0 15 7 15 0 15 0 15 0 15-14 15 0 15 0 15-8 15 0 15-10 15 0 15 4 15 6 15 13 15 0 15 0 15 0 15 4 15-3 15 0 15 24 15 0 15 0 15 0 15 0 15 7 15 9 15 0 15 12 15 0 15 0 15-2 15 0 15 0 15-2 15 0 15-7 15 3 15 0 15 1 15-7 15-18 15 0 15 0 15-8 15 0 15 0 15 7 15 0 15 6 15 0 15 0 15 0 15 0 15 4 15 0 15 0 15-10 15 2 15 0 15 0 15 0 15 5 15 9 15 0 15 0 15-1 15 0 15-10 15 0 15-2 15-7 15 0 15 0 15-9 15 0 15 0 15-4 15-10 15 0 15 0 15 0 15 0 15 2 15 0 15 0 15-9 15 2 15 0 15 3 15-6 15 0 15-7 15 0 15 0 15 2 15 0 15 0 15 0 15 0 15 0 15 17 15 0 15 0 15 8 15 0 15 0 15 0 15 0 15 10 15 0 15 0 15 0 15-12 15 0 15-6 15 0 15 0 15 3 15 3 15 2 15 0 15 0 15 0 15-7 15 0 15 0 15 6 15 0 15 0 15-7 15 0 15-2 15 0 15 103 15 0 15 0 15 101 15 0 15 99 15 0 15 0 15 8 15 0 15 0 15 210 15 0 15 0 15 0 15 359 15 0 15 0 15 0 15 93 15 0 15 0 15 32 15 13 15 0 15 32 15 0 15 0 15 0 15 0 15-5 15 0 15 0 15 25 15 0 15 0 15 0 15-75 15 0 15 0 15 40 15 0 15 0 15-54 15 0 15 0 15 0 15-55 15 0 15 0 15 0 15 0 15-41 15 0 15 0 15 13 15 0 15 0 15-5 15 0 15 0 15 91 15 0 15 45 15 13 15-3 15-21 15 0"/>
<path stroke="#A2142F" d="M740 711l15 0 15 0 15 0 15 44 15 0 15 0 15 0 15 78 15 0 15 21 15 107 15 0 15 0 15 0 15 0 15 306 15 0 15 0 15 78 15 0 15-5 15 53 15 0 15 227 15 0 15 0 15 304 15 0 15 29 15 0 15 0 15 0 15 0 15-7 15 8 15 10 15 0 15 0 15-19 15 0 15 0 15 9 15 0 15 0 15-13 15 0 15-27 15 0 15 0 15 0 15 0 15 7 15 18 15 0 15 0 15 14 15 0 15 22 15 0 15-14 15 0 15 0 15 0 15-15 15 0 15-18 15 0 15 0 15 5 15 61 15 0 15 0 15 0 15 0 15 3 15 0 15-4 15 0 15 0 15 6 15 0 15 0 15 0 15 0 15-9 15 0 15 0 15-9 15 0 15 0 15 0 15 0 15 15 15 0 15 0 15 0 15 0 15 21 15-1 15 5 15 27 15 0 15 0 15 14 15-15 15 0 15 0 15 0 15 20 15 0 15 0 15-9 15 0 15 0 15-65 15 0 15 0 15 0 15 0 15 14 15 0 15 0 15 0 15 0 15-32 15 0 15-26 15 0 15-14 15-19 15 0 15 0 15 0 15 27 15 0 15 6 15 0 15 2 15-19 15 0 15 0 15-7 15 0 15 15 15 0 15 0 15 0 15 0 15 52 15 0 15 0 15 0 15 0 15-15 15 15 15 0 15 1 15 0 15-8 15 0 15 0 15 0 15-9 15 0 15 0 15-1 15 0 15 0 15 0 15 0 15 24 15 0 15 20 15 0 15 0 15 0 15 0 15-19 15 0 15 0 15 0 15 0 15 13 15 0 15 0 15-3 15 0 15 0 15 0 15 0 15-8 15 0 15 0 15-1 15-15 15 0 15 0 15 0 15 0 15 15 15 0 15 0 15 0 15-1 15 0 15-5 15 0 15 0 15 20 15 0 15 0 15 0 15 0 15-44 15 0 15-27 15 0 15 1 15 0 15 0 15-5 15-15 15 0 15 0 15 4 15-2 15 0 15 0 15-34 15 0 15 0 15-2 15 0 15 123 15 0 15 0 15 0 15 0 15 237 15 110 15 0 15 236 15 0 15 126 15 0 15 0 15 151 15 0 15 0 15 0 15-2 15-26 15 0 15 0 15 0 15 8 15 0 15 0 15 11 15 0 15 2 15 129 15 0 15 0 15 0 15-92 15 0 15-127 15 0 15-82 15 0 15-102 15 0 15-35 15 0 15-90 15 0 15 0 15 0 15 15 15-8 15 0 15 0 15 27 15 0 15 141 15 0 15 0 15 0 15 167 15 0 15 0 15 0 15 147 15 0 15 0 15 0 15 0 15-13 15 0"/>
<path stroke="#0072BD" d="M740 840l15 0 15 146 15 0 15 0 15 0 15 0 15 146 15 0 15 0 15 0 15 125 15 0 15 0 15 0 15 108 15 0 15 0 15 68 15 0 15 0 15 131 15 170 15 0 15 0 15 255 15 0 15 0 15 144 15 0 15 0 15 0 15 0 15-12 15-13 15 0 15 0 15 0 15-8 15 0 15-7 15 0 15-7 15 0 15-9 15 0 15 2 15 2 15 0 15 0 15 13 15 0 15 0 15 7 15 0 15 0 15 0 15 0 15-20 15 0 15 0 15 0 15 0 15-5 15 0 15 0 15 0 15-4 15-11 15 0 15 0 15 0 15 0 15-9 15 0 15 0 15 0 15 16 15 0 15-4 15 5 15 0 15 13 15 0 15 0 15-17 15 0 15 0 15 0 15 7 15 0 15 0 15-3 15 0 15 0 15 0 15 12 15 3 15 18 15 0 15 0 15 0 15 12 15 0 15 0 15 0 15-10 15 0 15 0 15 0 15-24 15 0 15 0 15 0 15 1 15 0 15 0 15-24 15 0 15-3 15-11 15 0 15 0 15 0 15 10 15 0 15 9 15 5 15 9 15 0 15 4 15 4 15 0 15 0 15-16 15 0 15 0 15-7 15 2 15 0 15 0 15 4 15 0 15 0 15 0 15 0 15-7 15 0 15 0 15 5 15-4 15 0 15 0 15 5 15 0 15 0 15 0 15 0 15-3 15 0 15 0 15 0 15 2 15 0 15-6 15 0 15 0 15 0 15 14 15 0 15 0 15 15 15 0 15 6 15 0 15 0 15 14 15 0 15 0 15-21 15 0 15 0 15 0 15-8 15 0 15 0 15-21 15 0 15-3 15 4 15 0 15 0 15 19 15 0 15 0 15 0 15 0 15 13 15 0 15 0 15-1 15 9 15 0 15 0 15 3 15 0 15 0 15 0 15 0 15-5 15 0 15-6 15 0 15 0 15 2 15 6 15-5 15 0 15 0 15 0 15-3 15 9 15 0 15 0 15 0 15 135 15 0 15 0 15 0 15 317 15 0 15 0 15 200 15 36 15 23 15 36 15 0 15 0 15 159 15 0 15 0 15 0 15 163 15 0 15-3 15 0 15 0 15 0 15 76 15 0 15 50 15 0 15 0 15-25 15 0 15 0 15 0 15-87 15-70 15 0 15-33 15-67 15 0 15 0 15-101 15 0 15 0 15 56 15 0 15 0 15-32 15 0 15 0 15 17 15 0 15 32 15 0 15 40 15 0 15 0 15 116 15 0 15 0 15 0 15 84 15 0 15 0 15 0 15 4 15 0 15 0 15 0 15-28 15 0 15 0 15-63 15 0 15 0 15-2 15-29 15 0"/>
<path stroke="#D95319" d="M740 943l15 0 15 0 15-29 15 9 15 50 15 0 15 0 15 24 15-10 15 0 15-6 15-43 15 0 15 0 15 0 15 0 15 133 15 0 15 0 15 0 15 147 15 0 15 0 15 231 15 0 15 85 15 0 15 0 15 0 15 383 15 0 15 0 15 0 15 161 15 0 15 22 15-4 15-17 15-19 15 0 15 0 15 15 15-15 15 0 15 0 15 5 15 16 15 0 15 0 15-8 15 0 15 0 15-8 15-29 15 0 15 0 15 0 15 0 15-35 15 0 15-5 15 18 15 0 15 0 15 0 15 0 15 19 15 0 15 5 15 26 15 0 15 0 15-32 15 0 15 0 15-29 15 0 15 0 15 8 15 0 15-5 15 0 15 0 15 0 15 47 15 0 15 0 15 0 15-6 15 0 15 0 15 0 15 0 15 4 15 0 15 0 15 0 15-34 15 0 15 0 15-53 15 0 15 0 15 0 15 10 15 5 15 0 15 0 15-5 15 7 15 0 15 0 15 0 15 7 15 0 15 3 15 0 15 0 15 11 15 3 15 0 15 0 15 0 15 0 15 37 15 0 15 7 15 0 15 0 15 0 15 39 15 0 15 0 15 0 15 13 15 0 15 0 15 0 15 0 15-6 15 0 15 0 15 21 15 0 15 0 15 0 15 15 15 4 15 0 15-4 15 0 15-15 15 0 15-4 15 0 15 0 15 0 15 0 15-24 15 0 15 0 15-21 15 0 15 0 15-25 15 0 15 0 15 0 15 0 15 42 15 0 15 0 15 0 15 14 15 0 15 0 15 0 15 0 15-26 15 0 15 0 15-14 15 0 15 0 15 0 15 17 15 0 15 0 15 0 15-5 15 0 15 0 15 0 15 1 15 0 15 0 15 0 15 37 15 9 15 0 15 0 15-16 15 0 15 3 15-2 15 0 15-8 15 22 15 0 15 0 15 0 15-1 15 0 15 0 15-16 15 28 15 0 15 8 15 104 15 0 15 0 15 0 15 0 15 264 15 0 15 0 15 156 15 0 15 0 15 242 15 0 15 0 15 0 15 0 15 213 15 0 15 0 15 40 15-4 15 0 15 0 15 6 15 0 15 43 15 0 15 0 15 0 15 0 15-175 15 0 15-88 15 0 15 0 15 0 15-113 15 0 15-86 15-128 15 0 15 0 15 0 15 0 15 37 15 76 15 0 15 30 15 32 15 91 15 0 15 163 15 0 15 0 15 0 15 0 15 126 15 0 15-7 15 0 15-11 15-14 15-73 15 0 15 0 15 0 15 0 15-142 15 0 15-59 15 0 15-8 15 0 15 0 15-16 15 14 15 0 15 21 15 0 15 0 15 0 15 27"/>
<path stroke="#EDB120" d="M740 920l15 0 15 47 15 0 15 23 15 0 15 109 15 0 15 0 15 0 15 0 15 258 15 81 15 79 15 122 15 0 15 179 15 0 15 0 15 0 15 0 15 138 15 0 15 0 15 34 15 0 15-11 15 0 15-1 15 8 15 0 15-5 15 0 15 0 15 0 15 0 15 10 15 0 15 3 15 0 15 0 15 8 15 0 15 0 15-17 15 0 15 0 15 0 15 0 15-36 15 0 15 0 15 0 15-6 15 0 15 0 15-1 15 0 15 30 15 0 15 0 15 0 15 3 15 0 15 0 15 0 15 3 15 4 15 0 15-9 15 0 15 0 15 15 15 0 15 0 15-2 15 6 15 0 15 11 15 0 15 0 15 0 15 0 15 15 15 0 15 0 15 0 15 0 15 8 15 3 15 0 15 0 15 1 15 0 15 0 15 0 15 0 15 3 15 0 15-15 15 0 15 0 15 0 15-3 15 0 15 0 15 0 15 0 15-24 15 0 15-2 15 0 15 7 15 13 15 0 15 0 15 0 15-13 15 0 15-6 15 0 15 0 15-8 15 0 15 0 15 0 15 0 15 0 15 0 15 0 15 0 15 0 15 0 15 0 15 0 15 0 15 0 15 5 15 0 15 0 15 0 15 0 15 6 15 0 15-4 15 0 15 0 15 0 15 0 15-8 15 0 15 4 15 5 15 0 15-3 15 0 15 0 15 0 15 4 15 10 15 0 15 0 15 0 15-1 15 0 15 0 15-12 15 0 15-4 15 0 15 0 15-5 15 0 15 0 15 0 15 0 15-2 15 0 15 5 15 0 15-4 15 0 15 0 15-7 15 0 15-3 15 0 15 0 15 0 15 1 15 11 15 0 15 0 15 0 15 0 15 16 15 0 15 0 15 0 15 1 15 0 15 0 15-7 15 0 15 0 15-9 15 0 15 0 15 0 15 0 15 0 15 14 15 0 15 0 15 0 15 3 15 0 15 0 15 0 15-1 15 0 15 0 15-14 15-4 15 0 15-1 15 0 15-10 15 0 15 0 15 9 15 6 15 72 15 0 15 0 15 268 15 0 15 177 15 0 15 0 15 0 15 0 15 276 15 0 15 0 15 0 15 10 15 69 15 0 15 0 15 0 15 0 15 29 15 0 15 0 15 0 15 26 15 0 15 0 15 0 15 0 15-1 15 0 15 0 15-84 15 0 15 0 15 0 15 0 15-97 15-85 15 0 15-41 15-34 15 0 15 0 15-8 15 0 15 0 15-4 15 0 15 0 15 35 15 0 15 0 15 0 15 0 15 107 15 0 15 0 15 189 15 0 15 0 15 0 15 72 15 0 15 0 15 0 15 0 15 18 15 0"/>
<path stroke="#7E2F8E" d="M740 681l15 0 15 0 15 0 15 0 15 117 15 0 15-19 15 159 15 0 15 0 15 0 15 0 15 94 15 0 15 0 15 0 15 0 15 26 15 0 15 34 15 0 15 7 15 0 15 0 15 198 15 0 15 0 15 216 15 0 15 0 15 0 15 389 15 0 15 0 15 0 15 0 15 187 15 14 15 0 15 0 15 60 15 0 15 21 15 9 15-10 15 0 15 0 15-21 15 0 15 0 15 0 15 0 15-6 15-19 15 0 15 0 15-6 15 0 15 0 15-12 15 2 15 0 15 0 15-30 15 0 15 0 15 0 15-21 15 0 15 0 15-25 15 0 15 0 15 13 15 0 15 0 15-24 15 0 15 2 15 0 15 0 15-31 15 0 15-10 15 0 15-6 15-26 15 0 15 0 15 0 15 0 15-29 15 7 15 11 15 0 15 0 15 35 15 0 15 0 15 12 15 0 15 0 15 0 15-17 15 0 15 0 15 0 15 0 15-25 15 0 15 0 15-20 15 0 15-14 15 0 15 0 15-1 15 0 15 0 15 71 15 0 15 0 15 0 15 37 15 37 15 0 15 0 15 0 15 0 15-18 15 0 15 0 15-14 15 23 15 0 15 10 15 0 15 0 15 0 15 0 15 15 15-25 15 0 15 0 15 16 15 0 15 0 15 0 15-7 15 0 15 0 15-45 15 0 15 0 15-2 15 0 15 0 15 0 15-1 15 0 15 3 15 0 15 0 15 0 15 0 15 5 15 13 15 0 15 0 15 1 15 0 15 0 15 0 15 33 15 0 15 12 15 0 15 0 15 17 15 0 15 0 15-5 15 0 15-4 15 2 15 0 15 17 15 0 15 2 15-11 15 0 15 0 15 0 15-9 15 0 15-3 15 0 15 1 15 4 15-2 15-17 15 0 15 0 15 0 15 0 15-19 15 0 15 0 15 4 15-2 15 0 15 11 15 0 15 0 15 0 15 0 15 27 15 0 15-1 15-15 15 0 15 0 15-12 15-4 15 0 15 0 15 0 15 0 15 2 15 0 15 0 15 0 15 0 15-12 15 0 15 0 15 80 15 0 15 0 15 178 15 320 15 0 15 0 15 0 15-25 15 0 15 0 15 0 15 0 15 232 15 0 15 0 15 278 15 0 15 20 15 0 15 4 15 39 15 0 15 0 15 30 15 0 15 0 15 29 15 0 15-112 15 0 15 0 15-120 15 0 15 0 15-71 15 0 15 0 15-134 15 0 15 0 15-10 15 0 15-37 15 0 15 4 15 0 15 0 15 63 15-12 15 0 15 46 15 0 15 0 15 0 15 51 15 0 15 32 15 0 15 0 15 157 15 0 15 45 15 0"/>
<path stroke="#77AC30" d="M740 624l15 0 15 107 15 0 15 23 15 49 15 0 15 31 15 62 15 0 15 0 15 70 15 0 15 0 15-4 15 0 15 0 15 0 15 0 15 245 15 0 15 0 15 0 15 183 15 0 15 116 15 128 15 254 15 0 15 0 15 130 15 0 15 0 15 0 15 13 15-1 15 0 15 2 15 0 15 28 15 0 15-1 15 0 15 0 15-36 15 0 15 0 15-28 15 0 15 0 15 6 15 0 15 0 15-9 15-2 15 0 15 6 15 3 15 0 15 0 15 10 15 0 15 6 15 0 15 0 15 0 15 5 15 0 15 0 15 0 15-2 15 5 15 0 15 0 15 14 15 0 15 0 15 0 15 0 15-13 15 0 15 5 15 0 15 9 15 0 15 0 15 0 15-1 15-18 15 0 15 0 15 0 15 7 15 6 15 0 15 4 15 11 15 20 15 0 15 5 15 0 15 0 15 0 15 0 15 1 15 0 15 0 15-1 15 0 15 0 15 0 15 0 15-19 15 0 15 0 15-15 15 0 15 0 15 0 15-8 15 0 15 0 15-11 15 0 15 0 15 3 15 0 15 0 15 0 15 4 15-2 15 0 15 0 15 0 15 2 15 0 15 0 15-3 15 1 15 0 15 0 15-3 15 0 15 0 15 0 15 11 15-5 15 0 15 0 15 0 15 0 15 12 15 0 15 0 15-3 15 0 15 2 15 2 15 2 15 2 15 0 15 0 15 0 15-6 15 0 15 0 15 0 15 0 15 4 15 9 15 0 15 10 15 0 15 0 15 0 15 0 15-9 15 0 15 0 15 0 15 0 15-6 15 0 15 1 15-2 15 0 15-5 15 0 15 0 15 0 15-3 15-6 15 0 15 0 15 0 15-13 15 0 15 2 15 0 15 3 15 0 15 0 15 0 15 4 15 0 15 0 15 0 15 10 15 8 15 0 15 0 15-2 15 0 15-5 15 0 15-11 15 0 15 0 15-3 15 0 15 0 15 10 15 0 15 0 15-23 15 11 15 0 15 0 15 0 15 42 15 0 15 0 15 0 15 0 15 400 15 0 15 0 15 0 15 0 15 306 15 151 15 0 15 0 15 0 15 0 15 215 15 0 15 0 15 0 15 23 15 19 15 0 15-71 15 0 15 0 15 0 15 0 15 47 15 0 15 0 15 0 15 0 15-75 15 0 15 0 15-17 15 0 15 0 15 0 15-126 15 0 15 0 15 0 15 0 15-121 15 0 15 0 15-109 15 0 15 0 15-44 15 20 15 0 15 0 15 44 15 0 15 0 15-25 15 0 15 36 15 0 15 71 15 84 15 126 15 0 15 0 15 0 15 54 15 0 15-17 15 0"/>
<path stroke="#4DBEEE" d="M740 722l15 0 15 0 15-14 15 0 15 0 15 0 15 0 15-26 15 95 15 0 15 0 15 0 15 0 15 96 15 0 15 84 15 0 15 115 15 0 15 0 15 0 15 12 15 27 15 109 15 0 15 175 15 0 15 202 15 0 15 172 15 0 15 0 15 206 15 119 15 0 15 0 15 55 15 0 15 0 15 0 15 0 15-9 15 0 15-12 15 0 15 0 15-41 15 0 15 0 15 0 15 0 15-22 15-7 15-7 15 0 15 0 15-14 15 0 15 0 15 20 15 0 15 0 15 0 15-3 15 1 15 0 15 0 15 19 15 0 15-22 15 0 15 0 15-25 15 2 15 0 15 0 15 0 15-7 15-1 15-4 15 0 15 0 15 0 15 0 15-39 15-9 15-1 15 0 15 0 15 2 15 0 15 0 15 0 15 0 15 12 15 0 15 0 15 0 15-2 15 0 15 2 15 1 15 0 15 0 15 10 15 0 15 0 15 2 15 17 15 0 15 21 15 0 15 0 15 0 15 0 15 10 15 0 15 0 15 0 15 7 15 11 15 0 15 19 15 0 15-2 15 0 15 3 15 0 15 3 15 0 15-7 15 0 15 0 15 0 15 0 15-6 15 0 15 0 15 6 15 1 15-2 15 0 15-12 15 0 15-6 15-4 15-12 15 0 15 0 15 8 15 0 15 0 15 15 15 0 15 0 15 0 15 0 15 18 15 1 15 0 15 0 15 7 15 0 15 7 15 0 15-2 15-10 15 0 15 0 15 0 15 0 15-40 15 0 15 0 15 0 15-3 15 3 15 4 15 0 15 0 15 0 15 0 15 0 15 2 15 4 15 0 15 0 15 0 15-15 15 0 15 4 15 17 15 0 15 0 15 0 15 0 15 12 15-5 15 0 15 0 15-15 15 0 15-5 15 0 15 0 15-2 15 0 15 0 15 0 15 12 15 0 15 0 15 0 15 0 15-8 15 0 15 0 15-21 15 0 15 0 15 10 15 0 15 0 15 0 15 0 15 9 15 0 15 22 15 0 15 0 15 373 15 0 15 0 15 191 15 130 15 0 15 0 15 0 15 116 15 0 15 0 15 136 15 0 15 0 15 0 15 178 15 0 15 2 15-43 15 0 15 0 15 0 15-15 15 0 15 9 15 0 15 1 15 0 15 0 15-9 15 0 15 0 15-23 15-48 15 0 15-14 15 0 15 0 15-56 15 0 15-62 15 0 15-2 15 0 15 0 15-19 15-1 15 3 15 0 15 0 15-28 15-45 15 0 15 0 15 0 15 0 15 54 15 36 15 32 15 64 15 0 15 0 15 67 15 17 15-66 15 0 15 0 15 0 15-62 15 0"/>
<path stroke="#A2142F" d="M740 720l15 26 15 38 15 37 15 18 15 4 15 10 15 22 15 19 15 18 15 30 15 21 15 11 15 14 15 13 15 10 15 18 15 37 15 47 15 71 15 133 15 130 15 93 15 59 15 47 15 51 15 44 15 24 15-3 15-27 15-39 15-10 15 67 15 131 15 144 15 29 15 17 15-1 15 2 15 4 15-4 15-6 15 0 15 0 15-4 15-5 15-2 15-4 15-3 15 1 15 3 15 1 15 2 15 2 15-2 15-4 15-1 15 4 15 8 15 4 15-5 15-7 15 1 15 6 15 2 15-6 15-4 15-1 15 0 15 0 15 4 15 9 15 6 15 3 15 4 15 2 15-1 15-3 15-5 15-2 15 4 15 9 15 8 15 4 15-2 15-2 15-1 15-1 15-1 15 1 15-1 15-3 15-2 15 2 15 1 15-5 15-9 15-4 15-1 15-1 15-1 15 0 15-2 15-6 15-4 15-2 15 1 15-3 15-8 15-7 15 1 15 3 15 0 15-1 15 3 15 4 15 2 15 2 15-3 15 1 15 2 15 5 15 3 15-4 15-5 15 5 15 12 15 10 15 4 15 1 15 3 15 4 15 3 15 1 15 0 15-2 15-4 15 0 15 3 15-1 15-6 15-5 15-2 15-2 15-7 15-11 15-7 15-4 15-4 15-6 15-9 15-9 15-7 15-3 15 0 15 2 15 0 15-1 15 3 15 4 15-1 15-4 15 0 15 6 15 7 15 4 15 2 15-2 15-3 15 1 15 2 15 1 15 0 15-2 15-5 15-8 15-5 15-3 15-2 15-3 15-2 15 0 15 2 15 3 15 2 15 3 15 7 15 7 15 8 15 4 15 1 15 1 15 0 15 4 15 6 15 3 15 0 15 1 15 5 15 7 15 6 15 1 15-5 15-5 15-2 15 1 15 1 15-2 15-9 15-15 15-11 15 2 15 5 15 0 15-2 15 4 15 5 15-1 15-6 15-5 15 3 15 3 15 4 15 4 15 30 15 69 15 99 15 102 15 94 15 99 15 82 15 51 15 57 15 88 15 103 15 91 15 64 15 19 15 2 15 9 15 17 15-4 15-8 15 3 15 11 15 22 15 11 15-2 15 1 15 5 15-2 15-8 15-18 15-40 15-59 15-48 15-10 15 9 15-21 15-43 15-24 15 4 15 4 15-25 15-49 15-39 15-3 15 8 15 8 15 1 15-12 15-14 15-11 15-6 15-8 15-4 15 1 15 1 15 14 15 52 15 75 15 59 15 40 15 41 15 48 15 44 15 34 15 5 15 9 15-1 15-24 15-30 15-18 15-29 15-35 15-30 15-21 15-11 15-14 15-20 15-20"/>
<path stroke="#0072BD" d="M740 615l15 0 15 0 15 152 15 0 15-17 15 45 15 0 15 170 15 0 15 0 15 0 15-1 15 0 15 0 15-67 15 0 15 0 15 0 15 0 15-7 15 1 15 74 15 0 15 0 15 302 15 0 15 0 15 0 15 0 15 247 15 0 15 224 15 0 15 0 15 0 15 114 15 0 15 28 15 0 15 0 15 0 15 0 15-4 15 0 15 26 15 22 15 23 15 0 15-26 15 0 15-11 15-11 15-7 15 0 15 0 15 0 15 0 15 13 15 0 15-1 15 0 15 0 15 0 15 0 15-23 15 0 15 13 15 0 15-23 15 0 15 21 15 0 15 0 15 51 15 0 15 0 15-61 15 0 15 0 15 0 15 0 15-16 15 0 15 0 15 0 15-44 15 0 15 0 15 17 15 0 15 0 15 0 15 0 15 3 15 0 15 0 15 0 15-20 15 0 15 0 15 0 15 0 15 21 15 0 15 0 15 12 15 0 15 0 15 0 15 24 15 0 15-8 15 0 15 0 15-25 15 0 15 0 15 10 15 0 15 26 15 0 15 11 15 0 15-9 15 0 15 0 15 17 15 0 15 19 15 0 15 0 15-7 15 0 15 7 15 40 15 0 15 15 15 0 15 0 15 8 15-2 15 0 15 0 15-2 15-12 15-19 15-32 15 0 15 0 15 36 15 0 15 0 15 38 15 0 15 11 15 0 15 1 15 0 15 0 15 0 15-1 15 0 15 0 15-1 15 0 15 0 15 0 15 0 15 8 15 0 15 0 15 0 15 0 15-8 15 0 15 11 15 0 15 2 15 0 15 0 15 0 15-14 15 0 15 0 15-20 15 0 15 0 15-5 15 0 15-4 15 0 15-5 15 0 15-6 15 0 15 0 15 0 15 9 15 0 15 2 15 0 15 0 15-2 15-10 15 0 15 0 15 0 15 12 15 0 15 0 15 0 15-12 15-12 15 0 15 0 15-3 15-16 15 0 15 0 15 0 15 43 15 0 15 39 15 0 15 29 15 0 15 0 15 0 15-4 15 0 15 142 15 0 15 0 15 91 15 60 15 0 15 144 15 0 15 0 15 212 15 0 15 0 15 238 15 0 15 0 15 0 15 0 15 58 15 0 15 26 15 15 15 6 15 0 15 0 15 19 15 0 15-11 15-28 15-38 15-30 15-96 15 0 15 0 15 0 15 0 15-16 15 0 15-109 15 0 15-94 15 0 15 0 15 0 15 0 15 27 15 0 15 0 15-35 15 0 15 90 15 0 15 0 15 0 15 0 15 154 15 0 15 86 15 0 15 0 15 0 15 0 15 35 15 0 15 0 15 38 15-24 15 0 15 0 15-25 15 9"/>
<path stroke="#D95319" d="M740 677l15 46 15 0 15 0 15 16 15-11 15 0 15 13 15 0 15 0 15 90 15 0 15 35 15 0 15 0 15 188 15 0 15 0 15 152 15 0 15 0 15 0 15 0 15 298 15 176 15 0 15 54 15 119 15 0 15 50 15 85 15 0 15 0 15 83 15 0 15 47 15 0 15 33 15 0 15 0 15 0 15 12 15 0 15 0 15 0 15-45 15 0 15-12 15-15 15 0 15 0 15 0 15 0 15-6 15 4 15-3 15 9 15 0 15 0 15 0 15 82 15 0 15 39 15 0 15 0 15 0 15-12 15 0 15-9 15-31 15 0 15 0 15-1 15-8 15 0 15 0 15-29 15 0 15 31 15 0 15-14 15 0 15-23 15 0 15 0 15 12 15 0 15-4 15 0 15-12 15 0 15 0 15 0 15 0 15 27 15-8 15 0 15 0 15-24 15 0 15 0 15 0 15 0 15-18 15 0 15-15 15 0 15 0 15 0 15-4 15 0 15 0 15-33 15 0 15 0 15-22 15 0 15 0 15-2 15-2 15-29 15 0 15-10 15 0 15 0 15 7 15 0 15 0 15-8 15 0 15-2 15-4 15-1 15-1 15 0 15 0 15 0 15 0 15-8 15 0 15-4 15-8 15 0 15 0 15 0 15 6 15 0 15 0 15 0 15 0 15 3 15 0 15 19 15 0 15 9 15 0 15-6 15 0 15 0 15 0 15-13 15 0 15-8 15-7 15 0 15 1 15-3 15 0 15-13 15 0 15-5 15 0 15 0 15-9 15 0 15 0 15 0 15 0 15 0 15 27 15-4 15 0 15 0 15 14 15 0 15 3 15 0 15 0 15 1 15 0 15 0 15 0 15 0 15 12 15-2 15 0 15 0 15 7 15 17 15 11 15 0 15 0 15 0 15-9 15 0 15 0 15-11 15-14 15-3 15 0 15-10 15 0 15 7 15 0 15 0 15 0 15 21 15 0 15 0 15 0 15 17 15 0 15 14 15 159 15 0 15 0 15 144 15 0 15 0 15 44 15 118 15 0 15 0 15 181 15 0 15 0 15-20 15 0 15 0 15 161 15 0 15 0 15 64 15 0 15 0 15 0 15-8 15 0 15 0 15 0 15-4 15 0 15 0 15 0 15 46 15 5 15 0 15 0 15 104 15 0 15 0 15 87 15 0 15 0 15 0 15 0 15-132 15 0 15 0 15 0 15 0 15-71 15-37 15 0 15 0 15-42 15 0 15 0 15 0 15 0 15 48 15 46 15 0 15 74 15 0 15 0 15 0 15 59 15 71 15 0 15-23 15 0 15 0 15 0 15 10 15 0 15 0 15-45 15 0 15 0 15 0"/>
<path stroke="#EDB120" d="M740 819l15 19 15 15 15 15 15 17 15 22 15 33 15 27 15 3 15-7 15 12 15 42 15 57 15 48 15 56 15 31 15 29 15 77 15 109 15 105 15 70 15 40 15 29 15 46 15 80 15 99 15 95 15 65 15 12 15 4 15-6 15-5 15 7 15 15 15 4 15-9 15-6 15-4 15-3 15-4 15-2 15-1 15 2 15 6 15 7 15-1 15-10 15-9 15-1 15 6 15 2 15-7 15-8 15 1 15 9 15 9 15 7 15 8 15 11 15 11 15 6 15-5 15-11 15-7 15 1 15 2 15-5 15-11 15-8 15 1 15 6 15 8 15 5 15 2 15 5 15 9 15 7 15 4 15 3 15 1 15-3 15-4 15-2 15-3 15-9 15-13 15-6 15-1 15-3 15-5 15-5 15 0 15 3 15 5 15 4 15 4 15 4 15 0 15-8 15-11 15-3 15 5 15 5 15-1 15-6 15-5 15 0 15 3 15 4 15 4 15 2 15 4 15 6 15 6 15 2 15-4 15-2 15 4 15 3 15 7 15 5 15 4 15 1 15-2 15-3 15-2 15-2 15-3 15-3 15 0 15 0 15-1 15-2 15-1 15 2 15 7 15 4 15 0 15 3 15 4 15 1 15-2 15-5 15-6 15-7 15-3 15-3 15-5 15-5 15-5 15-3 15 2 15 2 15 0 15 0 15-5 15-7 15-6 15-2 15 0 15-2 15-4 15-6 15-5 15-1 15 3 15 1 15-2 15 0 15 5 15 5 15 0 15 0 15 4 15 5 15 1 15-2 15-3 15-2 15 0 15 0 15 1 15 2 15 4 15 2 15-1 15-4 15-4 15 1 15 3 15 2 15 3 15 5 15 3 15-4 15-8 15-7 15-2 15 2 15 3 15 2 15-1 15 0 15 1 15 0 15-5 15-5 15-1 15-1 15-1 15-1 15 2 15 4 15 2 15 1 15-1 15-4 15-6 15-2 15 4 15 5 15 4 15 1 15 2 15 6 15 5 15-1 15 0 15 1 15 16 15 58 15 104 15 59 15 42 15 53 15 63 15 59 15 52 15 51 15 50 15 58 15 70 15 78 15 81 15 66 15 40 15 27 15 41 15 30 15 32 15 11 15-12 15-7 15-6 15-12 15-11 15-4 15 4 15 4 15-7 15-5 15 12 15 12 15-3 15-26 15-33 15-40 15-32 15-14 15 7 15 9 15-8 15-20 15-23 15-34 15-33 15-26 15-18 15-10 15-5 15 2 15 11 15 10 15-2 15-8 15 0 15 1 15-8 15-5 15 3 15 18 15 35 15 2 15-14 15-3 15 5 15-1 15-4 15-6 15-1 15-7"/>
<path stroke="#7E2F8E" d="M740 503l15 31 15 29 15 10 15 4 15 4 15 8 15 20 15 23 15 16 15 15 15 17 15 13 15 11 15 21 15 37 15 57 15 48 15 38 15 37 15 36 15 33 15 32 15 31 15 39 15 63 15 72 15 18 15 4 15 53 15 96 15 104 15 93 15 77 15 55 15 65 15 91 15 99 15 34 15 17 15 16 15 3 15-2 15-6 15-7 15-6 15-7 15-7 15-5 15-3 15-1 15 1 15 2 15 2 15 2 15 5 15 3 15-4 15-4 15 2 15 9 15 9 15 4 15 1 15 2 15-1 15-5 15-4 15 1 15 5 15 8 15 4 15-1 15-1 15-1 15-5 15-10 15-6 15 3 15 6 15 2 15-3 15 1 15 8 15 5 15-2 15-4 15 1 15 4 15-2 15-4 15-2 15 1 15 1 15-3 15-5 15-8 15-10 15-9 15-7 15-3 15 0 15 2 15 1 15 1 15-2 15-8 15-7 15-3 15-3 15-4 15-7 15-9 15-6 15 2 15 3 15 5 15 8 15 1 15-2 15-6 15-4 15 2 15 5 15 4 15-1 15-3 15-3 15-2 15-1 15 1 15 2 15 0 15 1 15 5 15 7 15 5 15 2 15-1 15 1 15 0 15-2 15-5 15-4 15-4 15-4 15-4 15-1 15 0 15 3 15 8 15 7 15 3 15 2 15 0 15-3 15-7 15-7 15-6 15-4 15 2 15 3 15 0 15 1 15 2 15 0 15-1 15-1 15 1 15-1 15-4 15-2 15 3 15-1 15-1 15 0 15-7 15-10 15-1 15 3 15 0 15 0 15 2 15-3 15-9 15-7 15 3 15 8 15 6 15 3 15 4 15 7 15 9 15 7 15 6 15 4 15 4 15 1 15 0 15 0 15 0 15-2 15-4 15 0 15-1 15-4 15-5 15-5 15-8 15-8 15-3 15-1 15-2 15-1 15 2 15 5 15 3 15 1 15-1 15-3 15-2 15 4 15 2 15 3 15 4 15 6 15-2 15-8 15 2 15-1 15 1 15 7 15 47 15 73 15 59 15 45 15 37 15 35 15 26 15 27 15 53 15 75 15 69 15 51 15 56 15 80 15 78 15 55 15 57 15 63 15 26 15 19 15 5 15 1 15-14 15-30 15-37 15-13 15-6 15-22 15-36 15-34 15-36 15-15 15 0 15 0 15-1 15-3 15-17 15-30 15-22 15-1 15-9 15-20 15-10 15 17 15 34 15 22 15 7 15 10 15 28 15 27 15 16 15 16 15 20 15 24 15 32 15 35 15 28 15 15 15 8 15 6 15-1 15-3 15 4 15 3 15-8 15 0 15-6 15-19 15-35"/>
<path stroke="#77AC30" d="M740 530l15 8 15 15 15 18 15 25 15 25 15 18 15 22 15 37 15 39 15 38 15 46 15 56 15 44 15 18 15-6 15-12 15 6 15 22 15 26 15 18 15 15 15 17 15 22 15 44 15 82 15 130 15 131 15 129 15 135 15 149 15 132 15 32 15 19 15 8 15 3 15 7 15 16 15 7 15 9 15 1 15-7 15-10 15-3 15 2 15-2 15-4 15 1 15 2 15 1 15-3 15-5 15-3 15-1 15 2 15 2 15 0 15 0 15 0 15 0 15 1 15 3 15 4 15-1 15-6 15-2 15 3 15 4 15 3 15 2 15 1 15 3 15 5 15 3 15 0 15-2 15-5 15-3 15 6 15 7 15 4 15 4 15 3 15-4 15-6 15-4 15-2 15-1 15 3 15 1 15-3 15 0 15 6 15 8 15 7 15 3 15-1 15-7 15-13 15-10 15-2 15 2 15 0 15 0 15-3 15-6 15-4 15 3 15 3 15 2 15 2 15 1 15 0 15-3 15-5 15-7 15-2 15 2 15-3 15-1 15-2 15-3 15-3 15-3 15-5 15-5 15-5 15-6 15-6 15-2 15-3 15-5 15-4 15-4 15 0 15 6 15 7 15 8 15 9 15 11 15 13 15 8 15 2 15 2 15 6 15 7 15 3 15-2 15-5 15-4 15 0 15 2 15 0 15 4 15 5 15 0 15-6 15-9 15-9 15-5 15-2 15 2 15 3 15-1 15-2 15-1 15 0 15 3 15 3 15 1 15-1 15 3 15 3 15-2 15-5 15 0 15 2 15-1 15 0 15 1 15-2 15-6 15-4 15-1 15 3 15 3 15 3 15 2 15-1 15-7 15-10 15-7 15 0 15 3 15 0 15-5 15-5 15 1 15 5 15 5 15 0 15-1 15 4 15 5 15-2 15-3 15 1 15 2 15 0 15 0 15 0 15 1 15-2 15-2 15 1 15 0 15-3 15 1 15 8 15 7 15 6 15 7 15 10 15 9 15 2 15 8 15-2 15-4 15 4 15 14 15 111 15 101 15 43 15-2 15-6 15 21 15 46 15 74 15 97 15 86 15 36 15 6 15 36 15 80 15 89 15 75 15 73 15 41 15 16 15 13 15 19 15 21 15 2 15-21 15-24 15-13 15-7 15-27 15-49 15-53 15-54 15-65 15-79 15-67 15-24 15-5 15 3 15 3 15-1 15-8 15-11 15-6 15 19 15 46 15 50 15 41 15 40 15 31 15 25 15 14 15 11 15 13 15 12 15 14 15 12 15 13 15 15 15 14 15 10 15 11 15 14 15 14 15 12 15-22 15-42 15-52 15-44 15-18 15-17 15-26 15-13"/>
<path stroke="#4DBEEE" d="M740 548l15 48 15 116 15 0 15 0 15 0 15 0 15 167 15 0 15 73 15 0 15 53 15 0 15 0 15 0 15 117 15 0 15 0 15 0 15 0 15 60 15 54 15 0 15 0 15 83 15 0 15 0 15 0 15 0 15 637 15 0 15 0 15 148 15 0 15 0 15 0 15 0 15 0 15 1 15 0 15 0 15-35 15 0 15 0 15 0 15 5 15 0 15 0 15 0 15 0 15 12 15 0 15 4 15 0 15 0 15-3 15 0 15 0 15-3 15 0 15 0 15-14 15 0 15 0 15 0 15-8 15 0 15 0 15-25 15 0 15 0 15 0 15 11 15 0 15 0 15 0 15 0 15 1 15 0 15-2 15 4 15 0 15-7 15 0 15 15 15 0 15 11 15 6 15 0 15 10 15 0 15 0 15 0 15-4 15 0 15 0 15 3 15 0 15 0 15-4 15-18 15 0 15 0 15 0 15 0 15 0 15 0 15 9 15 2 15 0 15 6 15 0 15 6 15 0 15 0 15 8 15-2 15-6 15-8 15-9 15 0 15 0 15 0 15-17 15 0 15-5 15 0 15 0 15 10 15 0 15 0 15 0 15 1 15 3 15 0 15 0 15 13 15 0 15 0 15 7 15 0 15 0 15 0 15-3 15 0 15 0 15-21 15 0 15 0 15 0 15 0 15-3 15 0 15 0 15 0 15 0 15 0 15-13 15-3 15 0 15 0 15 0 15 0 15-9 15 0 15 0 15 14 15 0 15 0 15-9 15 0 15 0 15 0 15 8 15 1 15 5 15 0 15 0 15 5 15 5 15-3 15 0 15 0 15 0 15 0 15 5 15 0 15 0 15 5 15-11 15 0 15 0 15 0 15-1 15 0 15-11 15 0 15 0 15 0 15 0 15 15 15 0 15 0 15 4 15 0 15 0 15-8 15-3 15 0 15 2 15 0 15 0 15 7 15-6 15 0 15-8 15 3 15 0 15 1 15-1 15 4 15 0 15 4 15 0 15 4 15 0 15 0 15 8 15 0 15 0 15 20 15 0 15 9 15 0 15 193 15 0 15 0 15 173 15 83 15 160 15 0 15 76 15 0 15 0 15 0 15 83 15 63 15 132 15 0 15 56 15 10 15 0 15 0 15 0 15 33 15 0 15 0 15 0 15-25 15 0 15 0 15 0 15-11 15 0 15 0 15 0 15-170 15 0 15 0 15-140 15 0 15 0 15 24 15 0 15 0 15 0 15 0 15 52 15 47 15 0 15 0 15 0 15 96 15 0 15 0 15-10 15 0 15 18 15 0 15 0 15 11 15 0 15 0 15-13 15 0 15 0 15-84 15 0 15-6 15-76 15 0"/>
<path stroke="#A2142F" d="M740 662l15 84 15 139 15 0 15 0 15 0 15 129 15 0 15 0 15 0 15 85 15 0 15 0 15 298 15 0 15 0 15 0 15 173 15 0 15 0 15 196 15 0 15 0 15 0 15 0 15 243 15 0 15 0 15 0 15 0 15 16 15 0 15 0 15-12 15 0 15 0 15 0 15 0 15-15 15 0 15-3 15-3 15 6 15 0 15 0 15 0 15 8 15 0 15 6 15 21 15 0 15 0 15 0 15 0 15-10 15 0 15-5 15-6 15-11 15 0 15 0 15 6 15 0 15 3 15-11 15 0 15 0 15 6 15 0 15 0 15 13 15 0 15 0 15 9 15 18 15 0 15 0 15 13 15 0 15-9 15 0 15 0 15 0 15 0 15-23 15 0 15-13 15 0 15 0 15 0 15-9 15 0 15 0 15 0 15 0 15 17 15 0 15 0 15 0 15 0 15 11 15 0 15 0 15 0 15 0 15 1 15 2 15 5 15 7 15 0 15 0 15 0 15 0 15 4 15 0 15-2 15-2 15 0 15-1 15 12 15 0 15 0 15 2 15-15 15 0 15 0 15 0 15-11 15 0 15 0 15 3 15 0 15 0 15-5 15 0 15 0 15-10 15 0 15 0 15-3 15 0 15 5 15 0 15-5 15-15 15 0 15 0 15 0 15 0 15-10 15-28 15 0 15 0 15 0 15 0 15-9 15 1 15 2 15 0 15 1 15 0 15 0 15 0 15 4 15 0 15 0 15 0 15 0 15 0 15 0 15 0 15-13 15 0 15 0 15 0 15 0 15 0 15 6 15 0 15 0 15 0 15 23 15 0 15 0 15 14 15 17 15 0 15 0 15 14 15 3 15 0 15 0 15 0 15 0 15-30 15 0 15 0 15 0 15-7 15 0 15 0 15-4 15 0 15 0 15 0 15 12 15 0 15 7 15 0 15 0 15 0 15 0 15 5 15 2 15-5 15 0 15 0 15-13 15 0 15 0 15 0 15 0 15 7 15 0 15 0 15 1 15 0 15 0 15 0 15 168 15 0 15 0 15 0 15 203 15 0 15 63 15 0 15 0 15 190 15 0 15 162 15 0 15 113 15 0 15 53 15 0 15 0 15 34 15 24 15 55 15 0 15 0 15-25 15 0 15 0 15 0 15-164 15 0 15 0 15 0 15-137 15 0 15-19 15-39 15 0 15 0 15-18 15 0 15 0 15 10 15 0 15 0 15 51 15 0 15 0 15 0 15 28 15 0 15 0 15 0 15 0 15 115 15 20 15 0 15 0 15 0 15 0 15 95 15 0 15 0 15-53 15 0 15 0 15-122 15 0 15 0 15 0 15-91 15 0 15-75 15 0"/>
<path stroke="#0072BD" d="M740 453l15 50 15 48 15 40 15 28 15 19 15 11 15 3 15 4 15 15 15 27 15 35 15 31 15 11 15-3 15-8 15-3 15 0 15 0 15 5 15 6 15 15 15 16 15 19 15 13 15 12 15 23 15 48 15 61 15 49 15 47 15 25 15 54 15 137 15 140 15 73 15-4 15-31 15-5 15 63 15 131 15 147 15 115 15 82 15 77 15 35 15 6 15-7 15-11 15-4 15-12 15-15 15-20 15-26 15-13 15 2 15 9 15 10 15 11 15 6 15-2 15-7 15-3 15 5 15 6 15 9 15 7 15-7 15-17 15-7 15 3 15-1 15-6 15-5 15-6 15-5 15 3 15 9 15 6 15-2 15 3 15 11 15 14 15 12 15 10 15 8 15 4 15-3 15-6 15-5 15 1 15 4 15-3 15-6 15-3 15-5 15-13 15-16 15-6 15 0 15-8 15-13 15-12 15-2 15 11 15 13 15 5 15-9 15-20 15-16 15-11 15-10 15-8 15 0 15 3 15 2 15 4 15 6 15-2 15-4 15-6 15-7 15-7 15 2 15 9 15 10 15 9 15 11 15 14 15 10 15 4 15-1 15 3 15 9 15 9 15 3 15 4 15 8 15 9 15 3 15 1 15 2 15 0 15-4 15-8 15-7 15-5 15-10 15-14 15-6 15-2 15-7 15-6 15 1 15 4 15-3 15-5 15 1 15 8 15 6 15 4 15 9 15 12 15 9 15 1 15-5 15 4 15 10 15 9 15 3 15-4 15-5 15-5 15-6 15 2 15 8 15 4 15-1 15-1 15 0 15 0 15 0 15 2 15-5 15-13 15-8 15 8 15 12 15 7 15-4 15-9 15-5 15 2 15 5 15 3 15-2 15-8 15-8 15-4 15 2 15 1 15-4 15-8 15-9 15-7 15-1 15 4 15 2 15 5 15 8 15 9 15 11 15 7 15 7 15 13 15 14 15 10 15 4 15 4 15 6 15 8 15-1 15 1 15 16 15 128 15 136 15 116 15 64 15 20 15 2 15 18 15 67 15 101 15 77 15 33 15 18 15 20 15 32 15 55 15 62 15 29 15 4 15-3 15-5 15-14 15-19 15-9 15-15 15-1 15 5 15-3 15-16 15-22 15-35 15-66 15-59 15-42 15-38 15-34 15-19 15-24 15-38 15-29 15 1 15 8 15-4 15 15 15 25 15 12 15 0 15-2 15 1 15 7 15 29 15 66 15 55 15 29 15 27 15 34 15 25 15 22 15 21 15 9 15-24 15-44 15-47 15-49 15-22 15-3 15 8 15 6 15-12 15-16 15 7 15 20 15 7 15-7 15-10 15-2 15 5 15 1"/>
<path stroke="#D95319" d="M740 732l15 0 15 0 15 62 15 0 15 0 15 41 15 0 15 135 15 0 15 0 15 0 15 32 15 46 15 0 15 49 15 0 15 33 15 0 15 0 15 84 15 125 15 0 15 0 15 282 15 0 15 304 15 0 15 0 15 0 15 0 15 176 15 0 15 0 15-11 15 0 15-1 15 0 15 0 15 0 15 0 15-3 15-20 15 0 15 0 15-2 15 0 15 0 15 0 15 0 15 0 15 0 15 8 15 0 15 0 15 0 15 16 15 0 15 0 15 0 15 0 15 33 15 0 15 0 15 0 15-4 15 0 15 0 15 0 15 0 15-12 15 0 15 0 15 0 15 0 15 2 15 0 15 8 15 0 15 0 15-8 15 0 15-1 15-9 15 0 15 0 15-19 15 0 15-1 15 10 15 0 15 0 15 0 15-7 15 0 15 12 15 0 15 0 15 0 15 0 15 7 15 0 15 0 15 0 15 3 15 0 15 0 15 0 15 1 15 0 15-9 15-6 15 0 15 0 15-11 15 0 15-3 15-11 15 0 15 1 15 0 15 0 15 22 15 0 15-6 15 0 15 0 15 0 15 0 15-21 15 0 15 3 15 15 15 0 15 0 15 9 15 0 15 0 15 3 15 0 15 0 15 24 15 0 15 0 15 0 15-3 15-1 15 0 15 0 15 0 15-22 15 0 15 0 15 0 15-1 15 0 15 0 15 0 15-11 15-8 15 0 15 0 15 0 15-6 15 0 15 0 15 0 15 8 15 0 15 1 15 0 15 6 15 0 15 0 15 0 15-2 15 7 15 0 15 0 15-28 15 0 15 0 15-22 15 0 15 0 15 0 15-3 15 0 15 0 15 0 15 0 15 0 15 0 15 8 15-2 15 0 15 0 15 0 15-2 15 0 15 0 15 0 15 10 15 0 15 0 15 16 15 0 15 0 15 0 15-2 15 0 15 9 15 0 15 0 15 0 15 0 15-25 15 0 15 0 15 11 15 0 15 8 15 0 15 0 15 0 15 0 15 6 15 0 15 0 15 21 15 0 15 227 15 0 15 0 15 0 15 0 15 486 15 0 15 0 15 0 15 172 15 0 15 40 15 0 15 0 15 0 15 79 15 0 15 0 15 54 15 0 15 0 15-3 15 0 15-6 15 0 15 0 15 0 15-15 15 0 15 0 15 0 15-42 15-41 15 0 15 0 15 0 15 0 15-62 15 0 15-127 15 0 15 0 15 0 15 38 15 0 15 0 15 0 15 64 15 0 15 0 15-20 15 0 15 0 15 0 15 0 15-37 15 0 15 0 15 0 15 0 15 53 15 0 15 49 15 0 15 8 15-36 15 0 15-9 15 0 15 0"/>
<path stroke="#EDB120" d="M740 843l15 17 15 23 15 27 15 34 15 40 15 36 15 21 15 7 15 11 15 71 15 115 15 66 15-19 15-49 15-28 15 29 15 92 15 109 15 80 15 73 15 105 15 124 15 130 15 74 15 26 15 14 15-1 15-9 15-4 15 6 15 0 15 0 15-2 15-5 15-5 15-2 15-2 15-6 15-7 15-3 15 2 15 5 15 4 15 5 15 5 15 5 15 7 15 6 15 3 15-4 15-4 15-1 15 1 15 1 15-1 15-4 15-7 15-4 15 1 15 3 15 5 15 3 15-2 15-8 15-10 15-8 15-4 15-2 15-4 15-5 15-7 15-5 15 1 15 6 15 7 15 7 15 6 15 11 15 11 15 7 15 4 15 3 15 4 15 4 15 5 15 7 15 5 15-1 15-3 15-2 15-1 15-1 15-1 15 1 15 0 15-2 15-3 15-2 15-3 15-4 15-7 15-8 15-4 15 0 15-3 15-9 15-6 15-4 15-3 15-1 15-4 15-5 15-5 15-3 15-2 15 0 15 1 15-3 15 0 15 2 15-1 15-4 15-3 15 3 15 6 15 0 15-6 15-2 15 3 15 1 15-7 15-7 15-5 15 0 15 4 15 7 15 4 15 1 15-1 15 0 15-4 15-8 15-11 15-9 15-7 15-2 15 2 15 4 15 6 15 1 15-5 15-5 15 1 15 0 15 0 15 0 15 1 15 2 15 1 15-3 15-7 15-5 15-2 15 0 15 3 15 7 15 6 15 3 15 2 15 3 15 6 15 5 15 4 15 9 15 9 15 4 15 1 15-3 15-3 15 0 15 3 15 1 15-1 15-4 15 0 15 6 15 9 15 8 15 5 15 5 15 4 15 2 15-2 15-5 15-4 15-3 15-2 15 1 15 2 15-2 15-5 15-5 15-2 15-1 15-3 15-10 15-13 15-3 15 6 15 7 15 3 15 0 15-1 15 3 15 6 15 5 15 1 15 3 15 5 15 7 15 4 15 2 15 1 15-2 15 16 15 83 15 84 15 24 15 10 15 29 15 49 15 61 15 76 15 92 15 86 15 67 15 49 15 40 15 48 15 70 15 75 15 52 15 16 15-7 15 12 15 50 15 58 15 28 15-7 15-16 15-14 15-17 15-23 15-34 15-29 15-1 15 17 15 6 15-18 15-30 15-21 15-18 15-26 15-9 15 0 15 0 15-7 15-7 15-9 15-8 15 10 15 17 15 12 15-1 15-17 15-38 15-43 15-24 15 6 15 17 15 17 15 12 15 15 15 9 15 12 15 27 15 34 15 30 15 18 15-3 15 3 15 7 15-7 15-7 15 9 15 5 15-1 15-10 15-16 15-13"/>
<path stroke="#7E2F8E" d="M740 361l15 8 15 15 15 20 15 19 15 25 15 31 15 26 15 18 15 40 15 72 15 71 15 41 15 8 15-8 15 3 15 20 15 19 15 15 15 22 15 27 15 27 15 15 15 15 15 21 15 23 15 16 15 11 15 17 15 31 15 43 15 47 15 86 15 96 15 107 15 115 15 113 15 83 15 40 15 14 15 17 15 30 15 39 15 57 15 60 15 26 15 11 15-4 15-4 15 0 15 8 15 7 15 4 15 1 15 2 15 5 15 1 15-1 15-2 15-1 15 0 15-1 15-5 15-7 15-1 15 3 15 0 15-1 15 2 15 3 15 3 15 5 15 1 15-2 15-1 15 5 15 3 15-3 15-1 15 1 15 4 15 4 15 2 15 1 15 0 15-2 15-8 15-11 15-10 15-4 15-3 15-8 15-10 15-8 15-5 15 2 15 10 15 9 15 5 15 4 15 11 15 12 15 7 15 5 15 5 15 9 15 10 15 9 15 4 15-1 15-6 15-8 15-6 15 0 15 4 15 3 15 3 15 2 15-5 15 0 15 0 15-2 15 0 15-2 15-10 15-14 15-8 15-1 15 2 15 3 15 1 15 3 15 1 15-6 15-8 15-2 15 8 15 6 15-4 15-10 15-6 15-4 15-1 15-4 15-4 15-2 15 1 15 1 15 2 15 3 15 3 15-2 15-7 15-5 15 3 15 7 15 1 15-5 15-7 15-2 15 2 15 1 15-2 15-3 15 0 15 2 15 2 15 3 15 2 15-2 15-1 15 0 15 1 15 0 15 1 15 0 15-1 15-2 15-1 15 2 15 4 15 2 15 4 15 5 15 4 15 1 15-1 15-3 15-4 15-2 15 0 15 1 15 3 15 8 15 8 15 5 15 7 15 8 15 7 15 2 15-1 15 0 15 1 15-4 15-7 15-1 15 3 15 0 15-3 15 0 15 4 15 6 15 4 15 1 15-2 15-3 15 0 15 2 15 1 15-1 15-5 15-6 15-4 15-3 15 1 15 5 15 8 15 7 15 3 15 0 15 1 15 0 15-7 15 7 15 46 15 45 15 42 15 42 15 55 15 66 15 64 15 65 15 71 15 72 15 82 15 82 15 46 15 2 15 2 15 40 15 72 15 40 15 19 15 14 15 0 15-3 15 5 15-7 15-27 15-28 15-21 15 2 15 3 15-10 15-13 15-11 15 2 15 1 15-25 15-38 15-29 15-5 15 2 15-13 15-28 15-24 15-10 15-9 15-11 15 31 15 42 15 22 15-8 15-19 15-20 15-23 15-15 15-10 15-6 15-5 15-8 15-2 15 10 15 18 15 14 15 10 15 15 15 31 15 36 15 27 15 7"/>
<path stroke="#77AC30" d="M740 408l15 57 15 69 15 71 15 68 15 71 15 59 15 37 15 28 15 21 15 11 15 18 15 31 15 25 15 17 15 15 15 24 15 35 15 49 15 45 15 20 15 17 15 16 15 10 15-3 15-4 15 13 15 35 15 80 15 74 15 58 15 53 15 64 15 87 15 108 15 121 15 84 15-1 15-7 15 6 15 24 15 11 15 3 15-5 15-11 15-16 15-15 15-9 15-11 15-16 15-16 15-13 15-6 15-1 15-1 15 8 15 14 15 2 15-8 15-2 15 4 15-4 15-6 15 3 15 8 15 12 15 15 15 14 15 6 15 2 15 1 15-3 15-1 15-2 15-5 15 4 15 19 15 18 15 5 15-2 15 7 15 15 15 8 15 5 15 10 15 11 15 2 15-11 15-11 15-5 15-4 15-10 15-16 15-8 15-2 15 1 15 8 15 10 15 2 15-3 15-1 15 5 15 2 15-3 15 1 15 9 15 4 15 5 15 7 15 6 15 5 15 3 15-3 15-5 15-7 15-13 15-19 15-10 15 0 15 9 15 6 15-4 15-5 15 2 15 0 15-7 15-4 15 10 15 15 15 2 15-8 15-8 15-7 15-18 15-23 15-11 15-6 15-5 15 2 15 2 15-5 15-8 15-3 15 0 15 2 15 6 15 10 15 8 15 5 15 0 15-4 15-6 15-3 15-1 15 2 15 3 15-1 15-3 15-1 15 2 15 2 15-4 15-8 15 0 15 5 15-1 15-6 15-1 15 8 15 7 15-1 15-5 15-7 15-5 15 5 15 10 15-2 15-14 15-8 15 6 15 9 15 3 15 2 15 6 15 5 15 4 15 7 15 7 15 3 15 2 15 2 15 3 15 3 15 7 15 3 15-2 15-3 15 6 15 13 15 12 15 9 15 5 15 6 15 5 15 2 15 2 15-1 15-5 15-4 15-2 15 0 15 8 15 11 15 5 15-1 15 1 15 1 15-3 15-6 15-5 15-8 15-6 15 1 15 4 15-4 15-9 15-4 15-1 15-3 15-8 15-9 15 6 15 8 15 33 15 88 15 97 15 79 15 60 15 45 15 27 15 26 15 49 15 63 15 54 15 27 15 16 15 33 15 51 15 57 15 62 15 64 15 24 15-10 15-13 15-11 15 2 15 8 15 9 15 14 15 18 15 10 15 6 15 12 15 8 15 3 15 1 15-13 15-21 15-32 15-23 15-17 15-45 15-70 15-72 15-50 15-32 15-18 15-13 15 0 15 23 15 6 15 3 15 9 15 7 15 8 15 15 15 25 15 22 15 19 15 34 15 49 15 44 15 21 15 2 15 7 15 25 15 29 15 3 15-5 15-2 15 3"/>
<path stroke="#4DBEEE" d="M740 538l15 0 15 42 15 0 15 0 15 0 15 132 15 0 15 0 15 86 15 0 15 0 15 16 15 0 15 30 15 66 15 0 15 27 15 112 15 0 15 0 15 0 15 115 15 0 15 0 15 252 15 0 15 0 15 0 15 0 15 276 15 211 15 0 15 79 15 31 15 0 15 0 15 0 15-8 15 0 15 17 15 12 15 2 15-2 15-15 15 0 15 0 15-19 15 0 15-5 15-16 15 0 15 0 15-39 15-16 15 0 15-8 15-9 15 0 15 0 15 7 15 0 15 0 15 0 15 0 15 58 15 0 15 0 15 0 15 0 15-40 15 0 15 0 15 0 15 48 15 0 15-8 15-11 15 0 15 0 15 8 15 7 15 2 15-14 15 0 15 28 15 0 15 0 15 0 15 0 15-14 15 0 15-3 15 0 15 0 15 0 15 0 15-54 15 2 15 0 15 0 15 0 15 0 15 38 15 0 15 0 15-2 15 0 15 17 15 0 15 0 15 26 15 0 15 0 15 0 15 7 15 9 15 0 15-2 15-3 15 0 15-13 15 0 15 0 15-27 15 12 15 0 15 0 15 6 15 8 15 40 15 0 15 0 15 12 15 0 15 0 15 22 15 0 15-2 15 0 15 0 15 0 15 0 15-24 15 0 15 0 15-17 15-11 15-16 15-15 15-9 15-11 15 0 15 0 15-19 15 0 15 0 15 0 15 0 15 30 15 0 15 0 15 0 15 25 15 0 15 0 15 0 15 0 15 5 15 0 15 0 15 14 15 6 15 0 15 0 15 0 15-9 15 0 15 0 15 0 15 0 15 7 15-17 15 0 15 0 15 0 15 0 15-34 15 0 15-8 15 0 15 0 15 0 15 25 15 0 15 0 15 19 15 0 15 0 15 0 15 3 15 0 15 0 15-23 15 0 15-5 15-10 15-8 15-20 15 0 15 0 15 0 15 34 15 0 15 0 15 22 15 0 15 7 15 0 15 0 15 0 15-18 15-7 15 11 15 197 15 0 15 0 15 150 15 0 15 0 15 244 15 0 15 0 15 216 15 0 15 0 15 0 15 157 15 7 15 0 15-11 15 0 15-7 15 0 15 0 15 43 15 12 15 0 15-9 15 0 15 0 15-31 15-204 15 0 15 0 15 0 15-80 15 0 15 0 15-28 15 0 15 0 15-10 15 0 15 0 15-1 15 0 15 0 15 88 15 0 15 0 15 208 15 0 15 0 15 0 15 46 15 49 15 0 15 0 15 0 15-19 15 0 15-7 15 0 15 0 15-97 15 0 15-76 15 0 15-137 15 0 15 0 15 0 15-37 15 0 15-2 15 15 15 0 15 26 15 0 15 0"/>
<path stroke="#A2142F" d="M740 824l15 0 15-33 15 0 15-4 15 1 15 0 15 0 15 9 15 0 15 0 15 0 15 61 15 0 15 64 15 0 15 46 15 0 15 29 15 0 15 80 15 0 15 171 15 0 15 0 15 176 15 0 15 85 15 100 15 221 15 0 15 0 15 160 15 17 15 0 15 41 15 0 15 0 15 20 15 0 15 0 15-19 15 0 15 0 15 0 15-12 15 0 15 0 15 0 15 0 15 1 15 14 15 0 15 0 15 0 15 0 15-1 15 0 15 0 15 3 15 0 15 0 15 0 15 0 15 4 15 4 15 0 15 18 15 0 15 0 15 0 15 1 15 0 15 0 15 0 15-22 15 0 15 0 15 0 15-2 15 0 15 0 15-11 15 0 15 0 15 1 15 0 15 0 15 0 15 0 15 11 15 0 15 0 15 9 15 3 15 6 15 0 15 0 15 0 15 0 15-6 15 0 15 0 15 0 15-6 15 0 15 0 15-14 15 0 15 0 15 4 15 0 15-2 15 0 15 19 15 0 15 0 15-1 15 0 15 0 15-4 15 0 15 0 15 0 15 0 15-11 15 0 15 0 15 0 15 0 15 0 15 0 15 2 15 0 15 0 15-3 15 0 15-1 15 0 15 0 15-16 15 0 15 0 15-14 15 0 15 0 15-10 15 0 15 0 15 0 15-3 15 0 15 0 15 1 15 0 15 0 15 0 15-2 15-11 15 0 15 0 15 10 15 0 15 10 15 0 15 0 15 0 15 3 15 0 15 0 15 0 15 0 15 2 15 0 15 0 15 0 15 0 15 8 15 0 15 0 15 5 15 0 15 6 15 0 15 4 15 0 15-15 15 0 15 0 15 0 15 8 15 0 15 0 15 0 15-1 15-3 15 2 15 3 15 0 15 0 15-6 15-3 15 1 15 0 15-4 15 0 15-6 15 0 15-5 15 0 15 0 15 0 15 0 15 12 15 0 15 0 15-6 15 3 15 0 15 106 15 0 15 0 15 0 15 156 15 0 15 70 15 96 15 167 15 0 15 0 15 146 15 62 15 132 15 0 15 6 15-5 15 144 15 0 15 0 15 81 15 0 15 0 15-2 15 0 15 0 15 70 15 0 15 0 15 0 15-7 15 0 15 0 15 0 15 0 15-289 15 0 15 0 15-200 15 0 15-93 15 0 15 0 15 9 15 0 15-32 15 0 15 24 15 0 15 0 15 0 15 59 15 0 15 0 15 29 15 0 15 0 15 0 15 0 15 166 15 0 15 53 15 0 15 0 15 0 15 76 15 0 15 0 15 1 15 0 15-11 15-66 15 0 15 0 15-229 15 0 15 0 15 0 15-11 15 0 15 0 15 0"/>
<path stroke="#0072BD" d="M740 844l15 15 15 31 15 0 15 0 15 46 15 0 15 0 15 109 15 0 15 176 15 0 15 0 15 0 15 0 15 24 15 440 15 0 15 0 15 0 15 0 15 249 15 62 15 0 15 0 15 3 15 0 15 0 15 1 15 0 15 0 15 0 15 0 15-6 15 0 15-8 15 0 15 0 15 15 15 10 15 0 15 0 15 5 15 0 15 0 15-1 15 0 15 0 15 3 15 0 15-8 15 0 15 0 15-6 15 0 15 0 15-6 15 0 15 0 15-8 15 0 15 5 15 0 15 0 15-2 15 3 15 0 15 0 15-4 15 0 15 0 15 0 15 0 15 0 15 0 15 0 15-9 15 0 15 0 15 0 15 8 15-2 15-2 15 0 15 0 15 4 15 6 15 0 15 0 15 0 15-8 15 0 15 0 15 17 15 0 15 0 15-15 15 0 15 0 15 0 15 0 15 3 15 0 15 0 15 0 15 0 15 7 15 0 15 0 15 0 15-6 15 4 15 0 15 0 15 16 15-2 15 0 15 0 15-15 15-1 15 0 15 0 15 0 15 0 15 2 15 0 15 4 15 7 15 0 15 0 15 12 15 4 15 0 15-17 15 0 15 0 15 0 15-8 15 0 15-4 15 0 15 0 15 0 15 0 15-5 15 0 15-24 15 0 15 0 15 3 15 0 15 0 15 13 15 20 15 0 15 0 15 0 15 2 15 0 15 0 15-4 15 0 15 0 15 0 15-2 15 0 15 4 15 0 15 0 15 10 15 0 15 0 15 0 15 4 15-3 15 0 15 2 15 0 15 0 15-5 15 2 15 0 15 0 15 4 15-8 15 0 15 0 15-7 15-3 15 0 15 8 15 0 15 0 15-14 15 0 15 0 15 6 15 0 15-2 15 0 15 0 15 0 15 0 15-12 15 0 15 0 15 0 15 5 15 3 15 0 15 0 15 0 15 0 15-2 15 0 15 0 15-14 15 0 15 0 15 0 15 0 15 10 15 0 15 0 15 0 15 4 15 0 15-3 15 0 15 21 15 0 15 0 15 158 15 80 15 210 15 0 15 0 15 0 15 139 15 0 15 0 15 193 15 0 15 0 15 55 15 0 15 49 15 0 15 0 15 0 15 0 15 10 15 26 15-7 15 0 15 0 15 0 15 0 15-64 15 0 15 0 15-62 15 0 15-70 15 0 15 0 15 0 15-152 15 0 15 0 15 0 15 0 15 67 15 0 15 0 15 64 15 0 15 106 15 0 15 0 15 88 15 0 15 15 15 0 15 0 15 71 15 0 15 25 15 0 15 0 15 44 15 0 15-18 15 0 15-47 15 0 15-27 15-14 15 0 15 0 15-39"/>
<path stroke="#D95319" d="M740 573l15 0 15-1 15 30 15 54 15 50 15 40 15 40 15 45 15 40 15 15 15 6 15 12 15-7 15-14 15 10 15 22 15 24 15 19 15 43 15 46 15 59 15 55 15 23 15 15 15 26 15 32 15 38 15 43 15 50 15 60 15 74 15 89 15 97 15 97 15 67 15 25 15 15 15 26 15 31 15 27 15 16 15 7 15-2 15-2 15-4 15-8 15-6 15 1 15 1 15-1 15 0 15 2 15 2 15-1 15 1 15 8 15 12 15 9 15 5 15 8 15 9 15 3 15-1 15-1 15-4 15-6 15-4 15-6 15-7 15-5 15-1 15 2 15 5 15 6 15 8 15 4 15-1 15-4 15-2 15-3 15-2 15-2 15-5 15-13 15-16 15-9 15-4 15-3 15-1 15 3 15 4 15 3 15 0 15 0 15 1 15 5 15 5 15 3 15 1 15 5 15 8 15 4 15-1 15-4 15-3 15-2 15 1 15 5 15 4 15 5 15 5 15 4 15 2 15 1 15 1 15 1 15-1 15-7 15 0 15 6 15 8 15 4 15-1 15-3 15 2 15 4 15 0 15 0 15 1 15 2 15 2 15 2 15 5 15 5 15 2 15 1 15-1 15-2 15-2 15-5 15-8 15-5 15-5 15-5 15-3 15-3 15-3 15-1 15 3 15 5 15 3 15-1 15-4 15-2 15-5 15-9 15-8 15-2 15 0 15-2 15-5 15-5 15-3 15-3 15-1 15 3 15 3 15 0 15-3 15-3 15-3 15-5 15-5 15-3 15-1 15-3 15-2 15 1 15 1 15-3 15-5 15-3 15 0 15 3 15 7 15 4 15 1 15 3 15 5 15 1 15-3 15-2 15 2 15 3 15 0 15-4 15-4 15-5 15-6 15-5 15-2 15-4 15-6 15-5 15 2 15 5 15 4 15 2 15 1 15 0 15 2 15 5 15 6 15 4 15 2 15 1 15 0 15 2 15 6 15 5 15 0 15-4 15-4 15-2 15 5 15 4 15 5 15 5 15 6 15 4 15-2 15 3 15 15 15 13 15 7 15 12 15 83 15 87 15 65 15 45 15 35 15 26 15 26 15 27 15 32 15 37 15 46 15 69 15 80 15 53 15 25 15 44 15 98 15 115 15 17 15-4 15-2 15 4 15 4 15 3 15-4 15-8 15-8 15-7 15 2 15-11 15-18 15-15 15-39 15-37 15-31 15-28 15-23 15-20 15-17 15-15 15-14 15-13 15-5 15-5 15 5 15 18 15 20 15 21 15 13 15-2 15-10 15-11 15-5 15 3 15 9 15 17 15 22 15 24 15 25 15 30 15 41 15 46 15 33 15-14"/>
<path stroke="#EDB120" d="M740 541l15-1 15-9 15-19 15-10 15 19 15 35 15 36 15 46 15 58 15 57 15 44 15 39 15 52 15 65 15 53 15 26 15 13 15 21 15 21 15 7 15 9 15 24 15 30 15 35 15 42 15 45 15 48 15 44 15 52 15 61 15 63 15 62 15 75 15 100 15 116 15 102 15 37 15 16 15 13 15 8 15-3 15 2 15 0 15-6 15-8 15-6 15-4 15-5 15-6 15-9 15-9 15 1 15-1 15 0 15 3 15 6 15 3 15 2 15 0 15 0 15 1 15-2 15 0 15 6 15 5 15 1 15 0 15 3 15 7 15 4 15-2 15-2 15 7 15 10 15 3 15-4 15-4 15-4 15-7 15-8 15-6 15-6 15-5 15-2 15-1 15-4 15-3 15 2 15 1 15 4 15 6 15 3 15 1 15 1 15-1 15 2 15 3 15 0 15-3 15-2 15 1 15 5 15 4 15 1 15 3 15 8 15 6 15-3 15-4 15 1 15 4 15 0 15 0 15 1 15 2 15 3 15 1 15-6 15-1 15 0 15-3 15-6 15-3 15 2 15-1 15-5 15 0 15 1 15-3 15-6 15-5 15-3 15 0 15-2 15-4 15-4 15-1 15-3 15-4 15 0 15 2 15-2 15-2 15 7 15 12 15 4 15-2 15-4 15-3 15-2 15 0 15 1 15 2 15 0 15-1 15 3 15 6 15 2 15 0 15 1 15 5 15 4 15-2 15-4 15 2 15 10 15 9 15 3 15 2 15 2 15 0 15-3 15-4 15-3 15-5 15-10 15-10 15-6 15-2 15 2 15 4 15 3 15 2 15 3 15 1 15-2 15-1 15 2 15 3 15 3 15 7 15 8 15 5 15-2 15-4 15-2 15-1 15 0 15 2 15 4 15 5 15 4 15 0 15-10 15-11 15-6 15-5 15-7 15-1 15 2 15 1 15 3 15 6 15 7 15 0 15-4 15-4 15-2 15 2 15 3 15 5 15 3 15 4 15 8 15 6 15 7 15 9 15 6 15 7 15 17 15 70 15 78 15 74 15 72 15 68 15 70 15 83 15 100 15 90 15 55 15 34 15 35 15 46 15 62 15 81 15 78 15 20 15 6 15-17 15-20 15-10 15 5 15 11 15 1 15-13 15-2 15-2 15-3 15 5 15 5 15-10 15-19 15-45 15-42 15-19 15-18 15-44 15-67 15-57 15-40 15-41 15-52 15-46 15-23 15-9 15-6 15-9 15-8 15 0 15 6 15 25 15 31 15 34 15 26 15 25 15 31 15 22 15 8 15 3 15 14 15 47 15 77 15 53 15 0 15-9 15-8 15-5 15-28 15-38 15-34"/>
<path stroke="#7E2F8E" d="M740 984l15 0 15 144 15 0 15 0 15 174 15 0 15 0 15 0 15 94 15 0 15 0 15 70 15 0 15 106 15 0 15 0 15 0 15 0 15 255 15 0 15 0 15 0 15 232 15 0 15 0 15 0 15-6 15 0 15-3 15 5 15 10 15-28 15 0 15 0 15 0 15 6 15 0 15 0 15 0 15 0 15-13 15 0 15 0 15 52 15 0 15 36 15 0 15 0 15 0 15 0 15 2 15 0 15 0 15 30 15 0 15 0 15-10 15 0 15 0 15 4 15-2 15 0 15 0 15-24 15 0 15 0 15-30 15 0 15 0 15-41 15 0 15 0 15-27 15 0 15 0 15-9 15-5 15-2 15 7 15 5 15-26 15 0 15-30 15 0 15-19 15 0 15 0 15 0 15 0 15-9 15 0 15 10 15 14 15 0 15 2 15 0 15 0 15 0 15 0 15 17 15 0 15 0 15-3 15 0 15 0 15-36 15 0 15 0 15 0 15 0 15 18 15 0 15 0 15 12 15 0 15 0 15 38 15 0 15 13 15 1 15-6 15 0 15 0 15-17 15 0 15 0 15 0 15-17 15 0 15 0 15-13 15 0 15 0 15 0 15 0 15 0 15 0 15 0 15-15 15 0 15-18 15 0 15-3 15-9 15 0 15 0 15-3 15 0 15 0 15 0 15 3 15 0 15 0 15 0 15 0 15 3 15 10 15 8 15 5 15 0 15 0 15-27 15 0 15-12 15-13 15 0 15 0 15 0 15 26 15 0 15 0 15 24 15 21 15 0 15 0 15-17 15 0 15-8 15 0 15 0 15 0 15 0 15 11 15 0 15 0 15 0 15-5 15-2 15-15 15 0 15 0 15 0 15-1 15 0 15 0 15-8 15 0 15 0 15 0 15 0 15 0 15 0 15 0 15 8 15 0 15 0 15 0 15 21 15 0 15 0 15 0 15 0 15 12 15 0 15 0 15 0 15 0 15 18 15 0 15 0 15 0 15 0 15-15 15 0 15 0 15-9 15 0 15 0 15 0 15 0 15 219 15 0 15 0 15 0 15 0 15 371 15 0 15 0 15 0 15 0 15 154 15 88 15 0 15 0 15 36 15 0 15 0 15 0 15 0 15 37 15 27 15 0 15 22 15 0 15-83 15 0 15 0 15 0 15 0 15-185 15 0 15 0 15-55 15 0 15 0 15 0 15 0 15-67 15-28 15-36 15-31 15-34 15 0 15-66 15 0 15 0 15 0 15 48 15 0 15 77 15 0 15 0 15 0 15 85 15 32 15 107 15 0 15 0 15 0 15 59 15 0 15 12 15 0 15 0 15 0 15 0 15-95 15 0 15 14 15 0"/>
<path stroke="#77AC30" d="M740 875l15-2 15 14 15 25 15 33 15 43 15 46 15 33 15 44 15 35 15 22 15 29 15 44 15 63 15 66 15 46 15 38 15 55 15 70 15 47 15 15 15 10 15 22 15 29 15 41 15 72 15 102 15 71 15 14 15 8 15 10 15-4 15-1 15 7 15 8 15-1 15-8 15-10 15-10 15-13 15-7 15 1 15 8 15 10 15 2 15-6 15-6 15 0 15 3 15 3 15 2 15-1 15-6 15-5 15-1 15 2 15 3 15 6 15 7 15 2 15 0 15 0 15 3 15 4 15 4 15-3 15-5 15 2 15 10 15 7 15 4 15 3 15 0 15 1 15 4 15 9 15 9 15 2 15-1 15-2 15-1 15-3 15-2 15 1 15 1 15 0 15-5 15-9 15-8 15-2 15 2 15 3 15 4 15 3 15 7 15 7 15 3 15-8 15-16 15-14 15-5 15 1 15 3 15 3 15-1 15-5 15-1 15 5 15 3 15-1 15-3 15-2 15-3 15 0 15 7 15 13 15 6 15-1 15-4 15 4 15 4 15 5 15 6 15 4 15-1 15-4 15-6 15-3 15-3 15 0 15 4 15 3 15-1 15-1 15 1 15 5 15 6 15 3 15-1 15 0 15 3 15 6 15 5 15-1 15 0 15 3 15 2 15-3 15-7 15-5 15-1 15 3 15 1 15-1 15-4 15-4 15 2 15 2 15 0 15 0 15 1 15-3 15-6 15-2 15 1 15-1 15 0 15 5 15 5 15-2 15-6 15-2 15-1 15 2 15 5 15 4 15-1 15-2 15-1 15 3 15 4 15 0 15-5 15-4 15-3 15-6 15-10 15-8 15-7 15-6 15-4 15-2 15-1 15 0 15 2 15 3 15-1 15-3 15-1 15 0 15-3 15-3 15 2 15 5 15 0 15-3 15-2 15-3 15-4 15 1 15 6 15 5 15 0 15-1 15-1 15 0 15-3 15-5 15-4 15-1 15 1 15 3 15 2 15-2 15-4 15-3 15-2 15-4 15 1 15 7 15 3 15 1 15 7 15 10 15 10 15 8 15 41 15 53 15 43 15 40 15 54 15 77 15 99 15 94 15 43 15-13 15-4 15 51 15 93 15 109 15 94 15 54 15 16 15-1 15 10 15 32 15 0 15-10 15-13 15-8 15-15 15-8 15 25 15 39 15 3 15-36 15-28 15-17 15-22 15-22 15-23 15-40 15-52 15-39 15-9 15-3 15-25 15-40 15-29 15-16 15-14 15-17 15-7 15 19 15 27 15 17 15 16 15 27 15 27 15 37 15 54 15 56 15 38 15 17 15 10 15 15 15 22 15 29 15 31 15 26 15 16"/>
<path stroke="#4DBEEE" d="M740 419l15 70 15 0 15 39 15 0 15 0 15 24 15 0 15 0 15 56 15 0 15 0 15 0 15 44 15 11 15 77 15 0 15 76 15 115 15 0 15 0 15 0 15 0 15 146 15 0 15 0 15-5 15 0 15 0 15 94 15 34 15-10 15-24 15 0 15 95 15 0 15 153 15 0 15 0 15 46 15 201 15 0 15 260 15 0 15 135 15 0 15 0 15 0 15 50 15 0 15 0 15 0 15 0 15-12 15 0 15 0 15-8 15-2 15 0 15 0 15 34 15 0 15 0 15-17 15 0 15 0 15-12 15 3 15 2 15-4 15 0 15 0 15-19 15 0 15 0 15 0 15 14 15 0 15 0 15 12 15 0 15 0 15 0 15-33 15 0 15 0 15 0 15 3 15 0 15 0 15 0 15 0 15 4 15 0 15-4 15 0 15-9 15 0 15 0 15-10 15 1 15 0 15 0 15 0 15 0 15 4 15 0 15 0 15 0 15 1 15 0 15 7 15 0 15 0 15 0 15 0 15 20 15 0 15 0 15 0 15 0 15-14 15 0 15-17 15 0 15 0 15 0 15-6 15 0 15 0 15-2 15 0 15 0 15 3 15 0 15 0 15-4 15 0 15 0 15 0 15 0 15-12 15 0 15 0 15 7 15 5 15 0 15 0 15-2 15 0 15 3 15 2 15 10 15 0 15 6 15 6 15 4 15-3 15 0 15 0 15-11 15 0 15 6 15 0 15 4 15 0 15 10 15 0 15 11 15 0 15 0 15-5 15 0 15 0 15 0 15 0 15-9 15 0 15 0 15 0 15 0 15-9 15 0 15-13 15 0 15 0 15-13 15 0 15-5 15 0 15 0 15-5 15-8 15 0 15 0 15 0 15 0 15-13 15 0 15 0 15 0 15 0 15-6 15-1 15-10 15 0 15-5 15 0 15 0 15-4 15 0 15-3 15 0 15 2 15 7 15 0 15 0 15 7 15 0 15 0 15-9 15 0 15-9 15 0 15-15 15 0 15 0 15-6 15 0 15 3 15 14 15 0 15 0 15-6 15 35 15 0 15 0 15 47 15 0 15 103 15 0 15 347 15 0 15 0 15 0 15 183 15 0 15 124 15 0 15 62 15 0 15 0 15 0 15 0 15 115 15 38 15 0 15 1 15 0 15 4 15 0 15-7 15 0 15 0 15 0 15-1 15 0 15 0 15 0 15-68 15 0 15 0 15 33 15 0 15 0 15-60 15 0 15-62 15 0 15-22 15-39 15 0 15 0 15-73 15 0 15 0 15 0 15 63 15 14 15 0 15-9 15 0 15 0 15 100 15 0 15 0 15 0 15 23 15 0 15 68 15 0"/>
<path stroke="#A2142F" d="M740 598l15 0 15 0 15 0 15 0 15 52 15 0 15 21 15 0 15 20 15 0 15 0 15 172 15 0 15 0 15 0 15 0 15 22 15 56 15 0 15 0 15 0 15 304 15 0 15 0 15 0 15 0 15 270 15 150 15 0 15 100 15 0 15 0 15 0 15 30 15 170 15 0 15 0 15 0 15 0 15 11 15 0 15 2 15 0 15 0 15 0 15 0 15-14 15 0 15 0 15-13 15 0 15 0 15 0 15 13 15 0 15 0 15 0 15 0 15 25 15 0 15 0 15 0 15 0 15 0 15 0 15 0 15 0 15 0 15-20 15 0 15 0 15 0 15 0 15 11 15 5 15 16 15 0 15 0 15 0 15 0 15 11 15 0 15 0 15 0 15 0 15-21 15 0 15 0 15 0 15 0 15-10 15 0 15 10 15 0 15 7 15 0 15 26 15 0 15 0 15 0 15-7 15-6 15-4 15 0 15 0 15 0 15-23 15 0 15 0 15-28 15 0 15 0 15-2 15 0 15 0 15 0 15 0 15 0 15 0 15 26 15 0 15 8 15 0 15 5 15 4 15 0 15 0 15 7 15 0 15 6 15 6 15 16 15 0 15 0 15 1 15 2 15 0 15-4 15 0 15 0 15 0 15 0 15-2 15 0 15-3 15-1 15 0 15 0 15 0 15-10 15 0 15 0 15 0 15 0 15 6 15 0 15-18 15 0 15 0 15 0 15 0 15-22 15 0 15 2 15 1 15-11 15 0 15 0 15-12 15 0 15-14 15 0 15 0 15-8 15 0 15 2 15 0 15 7 15 0 15 0 15 0 15 0 15 0 15 13 15-6 15 0 15 0 15 0 15 1 15 0 15 0 15-16 15 0 15 0 15 0 15-4 15 0 15-9 15 0 15-3 15 0 15 0 15 10 15 7 15 0 15 0 15 0 15 0 15-6 15 3 15 0 15 0 15 0 15 0 15 23 15 0 15 12 15 0 15 0 15-7 15 0 15 0 15 4 15 0 15 0 15 2 15-8 15-11 15 0 15 0 15 0 15 0 15 115 15 0 15 116 15 0 15 0 15 0 15 192 15 0 15 118 15 0 15 0 15 206 15 0 15 0 15 0 15 130 15 0 15 0 15 117 15 0 15 45 15 0 15 0 15 0 15 0 15 48 15 4 15 0 15 0 15 0 15-98 15 0 15-181 15 0 15 0 15 0 15 0 15-40 15-28 15 0 15 0 15 0 15 0 15-20 15 101 15 0 15 0 15 0 15 0 15 94 15 0 15 25 15 0 15 0 15 0 15 0 15 29 15 0 15 0 15-26 15 0 15 0 15 0 15-28 15 0 15 0 15-81 15 0"/>
<path stroke="#0072BD" d="M740 510l15 0 15 0 15 0 15 0 15 135 15 0 15 0 15 0 15 137 15 0 15 0 15 141 15 0 15 0 15-1 15 0 15 0 15 0 15 69 15 0 15 0 15 52 15 0 15 0 15 0 15 24 15 0 15 0 15 205 15 0 15 0 15 0 15 0 15 249 15 0 15 0 15 0 15 0 15 425 15 0 15 0 15 85 15 0 15 41 15 0 15 0 15 19 15 0 15 0 15 0 15 0 15-16 15 0 15 0 15 8 15 0 15 0 15-18 15-3 15 9 15 0 15 0 15 16 15 0 15-5 15 0 15 0 15 0 15 10 15 0 15 0 15-9 15-2 15 0 15 6 15 0 15 0 15 0 15-1 15 0 15-21 15 0 15-19 15 0 15 0 15-19 15 2 15 3 15 0 15 0 15-1 15 0 15 0 15 14 15 0 15 0 15-6 15-2 15 0 15-4 15 2 15 0 15-7 15 0 15-8 15 0 15-19 15 0 15 0 15 0 15 0 15 0 15 0 15 0 15 0 15 26 15 7 15 0 15 0 15 0 15 10 15 0 15 0 15 0 15 0 15 3 15 0 15 6 15 0 15-5 15 0 15 3 15 0 15 0 15-7 15 0 15 0 15 0 15 0 15 5 15 0 15 0 15-10 15-1 15 10 15 0 15 9 15 15 15 0 15 0 15 0 15 0 15-7 15 0 15 0 15 12 15 0 15 0 15-9 15 0 15 0 15 0 15 0 15 17 15 0 15 0 15 6 15 0 15 0 15-26 15 0 15 0 15-5 15 0 15 2 15 0 15 0 15 0 15 4 15 0 15 9 15 0 15 0 15 0 15 0 15-7 15 7 15 0 15 7 15 0 15 0 15-14 15 0 15-19 15 0 15 0 15 0 15-11 15 0 15 0 15 0 15-8 15 0 15 0 15 0 15 0 15 3 15 3 15 0 15 0 15 0 15 0 15 0 15 2 15 0 15-2 15 0 15 0 15-18 15 0 15 0 15 0 15 0 15-9 15 0 15 0 15-3 15 37 15 137 15 0 15 60 15 0 15 94 15 0 15 0 15 280 15 0 15 0 15 0 15 262 15 0 15 129 15 0 15 80 15 0 15 0 15 0 15 0 15 49 15 13 15 0 15 0 15-13 15 0 15 0 15-60 15 0 15 0 15 0 15 0 15-91 15 0 15 0 15 8 15-25 15 0 15-54 15 0 15 0 15 0 15 0 15-1 15 0 15 0 15 11 15 0 15 0 15 4 15 0 15 0 15 65 15 0 15 61 15 0 15 76 15 0 15 0 15 40 15-10 15 0 15 0 15 0 15 0 15-46 15-48 15-28 15-10 15 4 15 0 15 0"/>
<path stroke="#D95319" d="M740 436l15 56 15 30 15 25 15 46 15 47 15 24 15 22 15 50 15 56 15 39 15 33 15 38 15 34 15 16 15 7 15 9 15 16 15 26 15 31 15 30 15 24 15 19 15 31 15 37 15 51 15 109 15 127 15 110 15 32 15-18 15 2 15 48 15 76 15 109 15 143 15 56 15 13 15 2 15 4 15 5 15 0 15-3 15 0 15 3 15 3 15 1 15-1 15-6 15-10 15-7 15-5 15-3 15-2 15-3 15-8 15-10 15-4 15-2 15-4 15-2 15 5 15 8 15 4 15 3 15 6 15 4 15-1 15-5 15-3 15-1 15-3 15-7 15-6 15-3 15-1 15-5 15 0 15 7 15 4 15 2 15 2 15 7 15 8 15 5 15 3 15 5 15 4 15 1 15 4 15 5 15 3 15 7 15 7 15 4 15 2 15 2 15-1 15-4 15-3 15 2 15 2 15-5 15-6 15 1 15 3 15 1 15 2 15 6 15 5 15-1 15 0 15 2 15 4 15 5 15 4 15 2 15 1 15-9 15-8 15-7 15-5 15 0 15-1 15-4 15-3 15 0 15 0 15-2 15-6 15-10 15-11 15-5 15-1 15 0 15 0 15-1 15-1 15-1 15-1 15-1 15 2 15 4 15 6 15 3 15-3 15-4 15 2 15 9 15 7 15-2 15-4 15-4 15-2 15 0 15 1 15-2 15-6 15-2 15 2 15 3 15 1 15 0 15-2 15 0 15 3 15 7 15 7 15 4 15-2 15-5 15-3 15 2 15 6 15 0 15-6 15-5 15 0 15 6 15 6 15 4 15 2 15 0 15 0 15 2 15 7 15 7 15 4 15-1 15-2 15 0 15 3 15 6 15 6 15-1 15-7 15-3 15 2 15 6 15 2 15-5 15-9 15-7 15-4 15-1 15-2 15-4 15-4 15-2 15 0 15 2 15 2 15-1 15 0 15 5 15 9 15 9 15 4 15-2 15-1 15-1 15-2 15-1 15-1 15 3 15 0 15-6 15-2 15 2 15 7 15 12 15 47 15 22 15 24 15 29 15 21 15 24 15 34 15 38 15 48 15 69 15 83 15 81 15 85 15 97 15 87 15 51 15 9 15 12 15-2 15 1 15-2 15-8 15-1 15 1 15-10 15-14 15-4 15 3 15 13 15 14 15-12 15-36 15-43 15-14 15 7 15-2 15-10 15 1 15 8 15-7 15-16 15-15 15-15 15-20 15-20 15-15 15 3 15 1 15-11 15-19 15-13 15 0 15-5 15-18 15-8 15 20 15 56 15 64 15 39 15 22 15 34 15 43 15 38 15 37 15 16 15 18 15 16 15 5 15-5 15-7"/>
<path stroke="#EDB120" d="M740 423l15 69 15 0 15 0 15 0 15 0 15 99 15 0 15 27 15 33 15 0 15 0 15 0 15 0 15 46 15 78 15 0 15 85 15 0 15 144 15 0 15 0 15 0 15 0 15 91 15 0 15 0 15 104 15 0 15 208 15 0 15 0 15 0 15 350 15 0 15 0 15 0 15 188 15 135 15 0 15 0 15 30 15 0 15-22 15 0 15 0 15-18 15-2 15 0 15 0 15 0 15-3 15 0 15 0 15 0 15-15 15 6 15 21 15 0 15 12 15 0 15-12 15 0 15 0 15-7 15 0 15 0 15 0 15 20 15 0 15-3 15 0 15 0 15 5 15 0 15 0 15-10 15 0 15 0 15 0 15-4 15 0 15-7 15 0 15 0 15-24 15 0 15 0 15-4 15 0 15-8 15-6 15-16 15 0 15 0 15 0 15-19 15 0 15 0 15-23 15-19 15 0 15 0 15 0 15 6 15 0 15 0 15 0 15 3 15 22 15 0 15 5 15 0 15 0 15 19 15 0 15 0 15 0 15 0 15-20 15 0 15 0 15 0 15 0 15-6 15 0 15 0 15 0 15 0 15 16 15 0 15 0 15 0 15 0 15 12 15 0 15 7 15 0 15 0 15-6 15 0 15 0 15 0 15 26 15 0 15 0 15 0 15 0 15-3 15 0 15 0 15 0 15-1 15 0 15 0 15 0 15 0 15-10 15 0 15-2 15 3 15 0 15 3 15 1 15 0 15 6 15 0 15 0 15 4 15 0 15-4 15 0 15-8 15 0 15 0 15 0 15 4 15-15 15 0 15 0 15 0 15 0 15 3 15 0 15-2 15 0 15 0 15-5 15-16 15 0 15 0 15-9 15 0 15 0 15-9 15 0 15 15 15 0 15 8 15 3 15 6 15 0 15 0 15 0 15 0 15 24 15 0 15 0 15 6 15 0 15 0 15-11 15 0 15 0 15 0 15 0 15-6 15 4 15 6 15 0 15 0 15 3 15 0 15 0 15 0 15 6 15 0 15 10 15 0 15 0 15 0 15 0 15 4 15 83 15 0 15 0 15 0 15 213 15 0 15 0 15 294 15 0 15 0 15 0 15 156 15 0 15-1 15 0 15 0 15 247 15 0 15 0 15 23 15 20 15 0 15 0 15 4 15 33 15 0 15 22 15 0 15 0 15 0 15 44 15 0 15 0 15 0 15 0 15-73 15 0 15 0 15 0 15-128 15 0 15 0 15-139 15 0 15-86 15 0 15 0 15 0 15-9 15 0 15 11 15 0 15 0 15 74 15 0 15 0 15 0 15 85 15 0 15 0 15 0 15 0 15 139 15 0 15 0 15 0 15 0 15-21"/>
<path stroke="#7E2F8E" d="M740 508l15 103 15 0 15 0 15 0 15 0 15 108 15 52 15 0 15 36 15 0 15 0 15 97 15 0 15 24 15 77 15 0 15 0 15 177 15 0 15 0 15 101 15 0 15 0 15 343 15 0 15 236 15 0 15 0 15 171 15 0 15 33 15 0 15 0 15 0 15 0 15 9 15 0 15 0 15 5 15 0 15-10 15 0 15-2 15-7 15 0 15 0 15 0 15 0 15-8 15 0 15 0 15-12 15 0 15 0 15 0 15 14 15-10 15 0 15 0 15 8 15 0 15 0 15-5 15 0 15 0 15 0 15 0 15-2 15 0 15-15 15 0 15 0 15 0 15 0 15 8 15 0 15 9 15 0 15-5 15 0 15 0 15-12 15 0 15 0 15 9 15 0 15 0 15-3 15 0 15 0 15 2 15 0 15 0 15 0 15 0 15-7 15 0 15 0 15 0 15 0 15 0 15 0 15 0 15 8 15 0 15 0 15 7 15 0 15 0 15-5 15 0 15 0 15 15 15 0 15 0 15 3 15 0 15 0 15 0 15-7 15 0 15 0 15 11 15 0 15 1 15 2 15 0 15 0 15-5 15-8 15-8 15 0 15 0 15-4 15 0 15 0 15-9 15 1 15 0 15 0 15 0 15 8 15 10 15 0 15 0 15 0 15 0 15-9 15 0 15-11 15 0 15-17 15 0 15 0 15 0 15-1 15-1 15-1 15-3 15-14 15 0 15 0 15 7 15 0 15 0 15 10 15 0 15-3 15 0 15 0 15-6 15 0 15-9 15 0 15 0 15 0 15 0 15 0 15 5 15 0 15 0 15 0 15 0 15 15 15-1 15 0 15 0 15 21 15 0 15 0 15 0 15 11 15 0 15 0 15 10 15 0 15 0 15 0 15 4 15-12 15 0 15 0 15 0 15-2 15 0 15-5 15-6 15-4 15 0 15 0 15-4 15-1 15 1 15 0 15 0 15 0 15 15 15 0 15 0 15 0 15-1 15 0 15 2 15 0 15 0 15 5 15 17 15 0 15 0 15 0 15 0 15 20 15 43 15 0 15 0 15 164 15 0 15 80 15 0 15 126 15 0 15 250 15 0 15 0 15 231 15 0 15 0 15 108 15 0 15 0 15 155 15 0 15 0 15 0 15 0 15-82 15 0 15-33 15-46 15 0 15 0 15 0 15 0 15-74 15 0 15-20 15 0 15 0 15-38 15-10 15-15 15 0 15 0 15 0 15-83 15 0 15 0 15-25 15 0 15-9 15 0 15 0 15 0 15 35 15 0 15 0 15 27 15 0 15-13 15-12 15 32 15 0 15 0 15-3 15 0 15 48 15 0 15 0 15 13 15 0"/>
<path stroke="#77AC30" d="M740 765l15 38 15 43 15 39 15 35 15 38 15 29 15 10 15-1 15 22 15 55 15 72 15 68 15 35 15 48 15 56 15 20 15 0 15 24 15 50 15 70 15 107 15 145 15 162 15 62 15 23 15 16 15 5 15-4 15-1 15 5 15 6 15 5 15 6 15 3 15-2 15 0 15 4 15-2 15-11 15-13 15-11 15-5 15-2 15-1 15-4 15-4 15 0 15 5 15 6 15 4 15 3 15 2 15-4 15-8 15-6 15 0 15 5 15 0 15-9 15-13 15-6 15-3 15-2 15-2 15-4 15-4 15 3 15 8 15 1 15-6 15-6 15-3 15 0 15-1 15-1 15 6 15 6 15-1 15-3 15 3 15 10 15 9 15 4 15 1 15 1 15-1 15-3 15-3 15 0 15 1 15 4 15 3 15 2 15 0 15-3 15-5 15-8 15-5 15 0 15 2 15 2 15-2 15-7 15-8 15-2 15-1 15-1 15 0 15 2 15 3 15 0 15-2 15-4 15-7 15-7 15-2 15-1 15-4 15-3 15-9 15-11 15-9 15-2 15 5 15 7 15 3 15 1 15 1 15 1 15 1 15 4 15 4 15 4 15 0 15-3 15 0 15 5 15 8 15 7 15 1 15-1 15-3 15-2 15 1 15 2 15 2 15 0 15-1 15 3 15 9 15 9 15 7 15 6 15 4 15 0 15-3 15-3 15-5 15-3 15 2 15 6 15 3 15-3 15-1 15 3 15 5 15 4 15 2 15 0 15-1 15 3 15 6 15 5 15 0 15-4 15-2 15 2 15 4 15 5 15 1 15-3 15 0 15 3 15 2 15-1 15-4 15-4 15-4 15-5 15-3 15-2 15-3 15-7 15-5 15-2 15-5 15-5 15-6 15-6 15-6 15-3 15-4 15-2 15 1 15 3 15-1 15-7 15-12 15-9 15-3 15 0 15 1 15-1 15-3 15-2 15 5 15-1 15 4 15 60 15 68 15 19 15-9 15-8 15 13 15 27 15 34 15 44 15 42 15 34 15 32 15 47 15 63 15 68 15 64 15 50 15 48 15 53 15 41 15 17 15 16 15 28 15 26 15 13 15 9 15 17 15 19 15 12 15-14 15-22 15-26 15-37 15-52 15-35 15 7 15 25 15 12 15-15 15-37 15-37 15 9 15 4 15-1 15 1 15-1 15 2 15 5 15 0 15 2 15 9 15 10 15 8 15 17 15 30 15 39 15 45 15 55 15 58 15 46 15 22 15 20 15 27 15 6 15-22 15-60 15-32 15 4 15 8 15-8 15-24 15-27 15-29 15-35 15-36 15-24 15-13 15-19 15-25 15-10 15 13 15 23"/>
<path stroke="#4DBEEE" d="M740 1067l15 0 15 0 15 0 15-18 15 0 15-4 15 66 15 0 15 0 15 0 15 0 15 75 15 0 15 78 15 0 15 0 15 89 15 0 15 0 15 251 15 0 15 0 15 353 15 0 15 0 15 125 15 0 15 49 15 0 15 0 15 0 15 0 15-1 15 0 15 0 15 11 15 0 15-2 15 0 15-8 15 0 15-15 15 0 15 0 15-19 15 1 15 0 15 12 15 0 15 0 15 0 15 0 15 14 15 0 15 2 15 0 15 0 15-20 15 0 15-17 15-11 15 0 15 0 15 0 15 0 15 0 15 0 15 0 15 0 15 0 15-14 15 0 15 0 15 17 15 0 15 7 15 3 15 0 15 0 15-3 15 0 15 0 15 0 15 0 15 0 15-34 15 0 15 0 15-8 15 0 15 0 15 0 15 0 15 6 15 0 15 0 15 7 15 0 15 0 15-5 15 0 15 0 15 3 15 0 15 0 15 10 15 0 15 9 15 0 15 0 15 12 15 0 15 5 15 3 15 8 15 0 15 0 15 0 15 0 15 17 15 1 15 0 15 0 15 0 15-5 15 0 15-8 15 0 15-3 15 0 15-8 15 0 15 0 15-3 15 0 15-25 15 0 15 0 15 0 15 0 15-6 15 0 15 0 15 16 15 0 15 0 15 5 15 0 15 0 15 0 15-8 15 0 15-9 15 0 15-4 15-3 15 0 15 0 15 5 15 0 15 0 15 0 15 10 15 0 15 0 15 0 15 0 15 7 15-4 15 0 15 0 15 0 15 1 15 0 15-2 15 0 15 0 15-7 15 0 15-6 15 0 15 0 15 0 15 0 15-5 15 0 15 0 15 0 15-10 15 0 15 0 15 0 15 0 15-6 15 0 15 0 15 6 15 0 15 0 15 10 15-6 15 0 15 0 15 0 15 12 15 0 15 0 15 0 15 3 15 0 15 0 15 7 15 0 15-8 15 0 15 0 15 0 15 3 15 0 15 0 15-10 15 113 15 0 15 0 15 0 15 0 15 312 15 0 15 0 15 0 15 26 15 0 15 104 15 0 15 0 15 0 15 0 15 253 15 0 15 0 15 0 15 218 15 0 15 127 15 0 15-7 15 0 15-47 15-47 15-45 15 0 15 0 15 0 15 0 15-27 15 0 15-65 15 0 15 0 15 0 15-89 15 0 15 0 15 0 15 0 15-101 15 0 15 0 15 0 15-62 15 0 15 0 15-40 15 0 15 11 15 0 15 66 15 0 15 0 15 0 15 79 15 0 15 0 15 0 15 0 15 162 15 0 15 0 15 21 15 0 15 0 15 65 15 0 15 8 15 0 15 45 15 0 15 0 15 0 15 0"/>
<path stroke="#A2142F" d="M740 278l15 28 15 0 15 58 15 0 15 34 15 98 15 0 15 0 15 0 15 93 15 0 15 0 15 187 15 0 15 0 15 110 15 0 15 0 15-14 15 0 15 0 15 38 15 0 15 21 15 29 15 0 15 44 15 0 15 70 15 0 15 0 15 196 15 0 15 0 15 0 15 0 15 47 15 0 15 0 15 66 15 197 15 0 15 0 15 281 15 0 15 0 15 0 15 179 15 0 15 10 15 0 15 0 15 0 15-12 15 0 15 0 15-5 15 9 15 0 15-12 15 0 15 0 15 0 15 0 15 12 15 0 15-6 15 0 15 0 15 0 15 0 15-4 15 0 15-1 15 0 15 0 15 3 15 0 15 0 15 0 15 14 15 0 15 0 15 0 15-9 15 0 15 0 15-17 15 0 15-11 15 0 15 0 15 7 15 0 15 0 15 5 15 0 15-6 15 0 15 0 15-9 15 7 15 0 15 0 15 0 15 0 15 12 15 0 15 4 15 0 15 0 15 0 15-8 15-17 15 0 15 0 15 0 15 0 15 2 15 0 15 0 15 3 15 0 15 0 15 4 15 0 15 7 15 0 15 0 15 18 15 0 15 0 15 0 15 1 15 0 15 4 15 0 15 0 15-1 15 0 15 0 15-16 15 0 15-9 15 0 15-7 15-25 15 0 15 0 15 0 15 0 15-1 15 0 15 6 15 0 15 4 15 12 15 0 15 0 15-3 15 0 15 5 15 0 15 0 15-9 15 0 15 0 15 0 15 0 15-5 15 0 15 0 15 0 15 0 15 0 15 0 15 0 15 0 15 0 15 0 15 0 15-2 15 3 15 0 15 0 15-3 15 0 15 0 15 11 15 0 15 0 15 7 15 0 15 0 15 0 15 0 15-4 15-6 15-6 15 0 15 0 15 0 15 0 15 12 15 0 15-5 15 0 15 0 15 0 15-4 15 0 15 0 15-9 15-8 15-11 15 0 15 0 15 2 15 0 15 0 15 0 15 13 15 0 15 0 15 16 15 10 15 152 15 0 15 0 15 0 15 0 15 355 15 0 15 0 15 175 15 0 15 190 15 0 15 0 15 0 15 55 15 0 15-3 15 0 15 0 15 16 15 0 15 0 15 0 15 0 15-104 15 16 15 0 15 0 15 30 15 16 15 0 15 0 15 48 15 0 15 0 15 0 15-6 15-8 15 0 15 0 15-53 15 28 15 0 15 0 15 21 15 0 15 0 15-56 15 0 15 0 15 0 15-81 15 0 15 0 15 0 15 0 15 11 15 0 15-7 15 98 15 0 15 0 15 0 15 6 15 0 15 0 15 0 15 3 15 17 15 0 15 0 15 0 15 0 15-4"/>
<path stroke="#0072BD" d="M740 842l15 0 15 0 15 37 15 0 15 36 15 0 15 0 15 0 15 23 15 30 15 0 15 0 15 0 15 0 15 91 15 0 15 0 15 0 15 0 15 165 15 162 15 0 15 239 15 0 15 0 15 0 15 304 15 37 15-74 15 0 15 0 15 0 15 103 15 0 15 0 15-21 15 0 15-11 15 0 15 0 15 0 15-15 15 2 15 0 15 8 15 1 15 0 15 0 15 0 15 0 15 28 15 0 15 0 15 0 15 5 15 0 15 10 15 0 15-5 15 0 15 0 15 1 15 0 15 0 15 0 15 0 15 6 15 0 15-12 15 0 15 0 15 0 15 0 15 0 15-18 15 0 15-13 15-9 15 4 15 0 15 3 15 0 15 17 15 0 15 0 15 16 15 1 15 13 15 0 15 0 15 0 15-4 15 0 15 0 15 0 15 0 15-6 15 0 15 0 15 0 15 3 15-8 15 0 15 0 15 0 15 19 15 0 15 0 15 10 15 0 15 0 15 0 15 11 15 0 15 0 15 0 15 0 15-16 15 0 15 5 15 6 15 0 15 0 15 0 15 0 15-3 15-12 15 0 15 0 15-7 15 1 15 0 15 8 15 0 15 5 15 0 15 0 15 0 15 10 15 8 15 0 15 2 15 5 15 0 15 0 15 0 15-13 15 0 15 0 15-15 15 1 15 0 15 0 15 0 15-1 15 0 15 9 15 0 15 0 15-4 15 0 15 0 15 6 15 7 15 0 15 0 15-8 15-3 15 0 15-14 15 0 15 0 15 0 15-13 15 0 15 0 15-7 15-6 15 0 15-5 15 0 15 0 15 0 15 0 15 17 15 0 15 0 15 0 15 15 15-3 15 0 15 0 15 0 15 0 15 0 15 0 15 0 15 0 15 0 15-6 15 0 15 0 15-2 15 0 15 0 15 0 15 19 15 0 15 0 15 9 15 0 15 0 15 0 15 0 15 2 15-3 15 2 15 0 15 0 15 4 15 0 15-4 15 0 15 0 15 0 15 0 15-2 15 0 15 0 15 28 15 0 15 120 15 0 15 0 15 0 15 0 15 230 15 0 15 0 15 0 15 51 15 0 15 193 15 0 15 0 15 0 15 0 15 302 15 0 15 0 15-3 15 0 15 0 15-25 15-21 15 0 15-20 15-31 15 0 15 7 15 20 15 14 15 0 15 0 15 0 15 0 15 74 15 0 15 8 15-8 15 0 15 0 15-114 15 0 15 0 15 0 15 0 15-78 15 0 15 5 15 45 15 0 15 0 15 0 15 0 15-27 15 17 15 0 15 0 15 12 15 0 15 11 15 26 15 0 15 75 15 0 15 0 15 0 15 0 15 103"/>
<path stroke="#D95319" d="M740 656l15 10 15 9 15-2 15-11 15-5 15 16 15 31 15 30 15 19 15 6 15 10 15 25 15 46 15 53 15 52 15 47 15 46 15 71 15 75 15 84 15 70 15 46 15 15 15 1 15 29 15 74 15 86 15 63 15 35 15 42 15 69 15 74 15 52 15 41 15 56 15 26 15 36 15 0 15-8 15-6 15-6 15-10 15-12 15-7 15-5 15-6 15 0 15 8 15 13 15 13 15 9 15 5 15 3 15 4 15 1 15-3 15-2 15-4 15-9 15-10 15-7 15 1 15 6 15 6 15 5 15 1 15-2 15 0 15 4 15 2 15-2 15-2 15 1 15 1 15-2 15 0 15-1 15-4 15-4 15 1 15 0 15-5 15-8 15-5 15 0 15 1 15-4 15-8 15-1 15 1 15-2 15-1 15 2 15 2 15 2 15 10 15 9 15 1 15-3 15-1 15 2 15 4 15 2 15-3 15-7 15-5 15 0 15 6 15 9 15 5 15-5 15-11 15-12 15-9 15-8 15-3 15 3 15-3 15-8 15-9 15-3 15 2 15 2 15 1 15-1 15 6 15 15 15 14 15 6 15 1 15 2 15 1 15 0 15-3 15-3 15 1 15-1 15-8 15-5 15-3 15-6 15-5 15-1 15-1 15-2 15-5 15-4 15 1 15 2 15 0 15 1 15 1 15 1 15-3 15-1 15 3 15 7 15 6 15 5 15 6 15 8 15 10 15 5 15-3 15-4 15-1 15 0 15 3 15 2 15 3 15 1 15 2 15 2 15 2 15 3 15 4 15 3 15-1 15-6 15-10 15-5 15-1 15-3 15-7 15-7 15-6 15-5 15-1 15 0 15-6 15-7 15-2 15 2 15 5 15 5 15 6 15 6 15 7 15 5 15 0 15 3 15 6 15 8 15 6 15 2 15-1 15-3 15 0 15-1 15-1 15-1 15-2 15-2 15-3 15-3 15-5 15-4 15 0 15 0 15-2 15-2 15-1 15-5 15-9 15-6 15 2 15 8 15 9 15 3 15-2 15 0 15 2 15-2 15-3 15 8 15 39 15 67 15 69 15 78 15 79 15 82 15 85 15 55 15 19 15 17 15 43 15 59 15 44 15 25 15 47 15 86 15 41 15 23 15-4 15-14 15-9 15-7 15-10 15-13 15-9 15-6 15-5 15-14 15-23 15-11 15-14 15-19 15-18 15-9 15-9 15-14 15-23 15-16 15-10 15-8 15-11 15 4 15 15 15 18 15 7 15-5 15 8 15 15 15 10 15 10 15 14 15 11 15 4 15 3 15 7 15-2 15-5 15-2 15 5 15 8 15 9 15 14 15 7 15-8 15-3"/>
<path stroke="#EDB120" d="M740 203l15 0 15 28 15 39 15 0 15 0 15 90 15 0 15 0 15 222 15 0 15 97 15 0 15 0 15 0 15-8 15 0 15 44 15 0 15 14 15 8 15 0 15 0 15 60 15 0 15 121 15 0 15 0 15 0 15 187 15 0 15 0 15 195 15 0 15 217 15 0 15 0 15 183 15 0 15 0 15 259 15 0 15 0 15 33 15 9 15 0 15 0 15 0 15 0 15 0 15-32 15 0 15 2 15 10 15 14 15 0 15 1 15 0 15 0 15 0 15 0 15 0 15 0 15-10 15 0 15-3 15 0 15 0 15 0 15 0 15 12 15-9 15 0 15-3 15-4 15 0 15 0 15 0 15 0 15 14 15 0 15 10 15 0 15 0 15-2 15 0 15 0 15-29 15 0 15-4 15 0 15 2 15 0 15 0 15 0 15-21 15 0 15 0 15-4 15 0 15 0 15 0 15-2 15 17 15 0 15 0 15 0 15 13 15 0 15 0 15-17 15 0 15 0 15 11 15-11 15 0 15 0 15-5 15 0 15 3 15 0 15-3 15 0 15-3 15-11 15 0 15 0 15 18 15 0 15 0 15 0 15 0 15 0 15 0 15 6 15 0 15 0 15 0 15 10 15-1 15 0 15 0 15 0 15 0 15 1 15 0 15-14 15 0 15 0 15 0 15-4 15-9 15 0 15 0 15 0 15 0 15 2 15 0 15 0 15-2 15 0 15 0 15-8 15 0 15 0 15 0 15-16 15 0 15 0 15-2 15 0 15 0 15 0 15 17 15 0 15 0 15 0 15 0 15 23 15 0 15 0 15 0 15 3 15 8 15 0 15 0 15 0 15 6 15 0 15 0 15 11 15 0 15 0 15 0 15 9 15 0 15 0 15-5 15 0 15-3 15 0 15 0 15 4 15 0 15 1 15 0 15-7 15 0 15 0 15 4 15-6 15 0 15-16 15 0 15 0 15 0 15-2 15 0 15-13 15 3 15 0 15 0 15 12 15 0 15 0 15 104 15 0 15 0 15 174 15 115 15 0 15 0 15 0 15 134 15 0 15 0 15 0 15 288 15 0 15 0 15 85 15 0 15 0 15 5 15-14 15-5 15 30 15 0 15 17 15 18 15 89 15 0 15 0 15 0 15 0 15-69 15 0 15-33 15-61 15-64 15-138 15 0 15 0 15 0 15-75 15-18 15 0 15 0 15 0 15 0 15 29 15 17 15 0 15 35 15 0 15 0 15 0 15 0 15 146 15 58 15 0 15 0 15-7 15 29 15 0 15 37 15 0 15 0 15 77 15 0 15 0 15 0 15 0 15-23 15 0 15-79 15 0 15-41 15 0 15-25 15 0"/>
<path stroke="#7E2F8E" d="M740 767l15 30 15 34 15 29 15 25 15 31 15 36 15 24 15 1 15-9 15-4 15 2 15-1 15-1 15 4 15 9 15 12 15 21 15 37 15 55 15 61 15 87 15 131 15 162 15 159 15 118 15 64 15 39 15 53 15 68 15 18 15 5 15 6 15 9 15 15 15 9 15-2 15-3 15-3 15 1 15 1 15-4 15-11 15-17 15-13 15-4 15-3 15-8 15-6 15-5 15-5 15-4 15 1 15 5 15 2 15-1 15 3 15-1 15-3 15-2 15-1 15 0 15 1 15 2 15 4 15 1 15-4 15-4 15 1 15 2 15-4 15-6 15-5 15-4 15-2 15-3 15-4 15-2 15 2 15 4 15 3 15 4 15 6 15 5 15-1 15-4 15 2 15 7 15 6 15 3 15 1 15 1 15 1 15-1 15-1 15 4 15 5 15-3 15-7 15 2 15 8 15 5 15 0 15 0 15-1 15-4 15-4 15-1 15 2 15 1 15-6 15-7 15-1 15 3 15 0 15-4 15-3 15-6 15-10 15-3 15-1 15-2 15 1 15 0 15 0 15 3 15 1 15-5 15-5 15-2 15 1 15 5 15 10 15 14 15 12 15 9 15 2 15-1 15-2 15-3 15-4 15-4 15 0 15 0 15-4 15-7 15-6 15 0 15 4 15 5 15 5 15 2 15 0 15 0 15 4 15 5 15 1 15-1 15-2 15-3 15-4 15-3 15 0 15-2 15-7 15-3 15 0 15 3 15 0 15 0 15 4 15 4 15 4 15 1 15-1 15 3 15 7 15 7 15 2 15-1 15 0 15 1 15 2 15 1 15 1 15 1 15-2 15-5 15-7 15-4 15-3 15-1 15 2 15 3 15 1 15 0 15 0 15 0 15 2 15 1 15-4 15-4 15-2 15-1 15 0 15 0 15-3 15-5 15-2 15-1 15-3 15-2 15 2 15 6 15 3 15-2 15-1 15 1 15 3 15 1 15-3 15-4 15-4 15-4 15 1 15 6 15 2 15 0 15-3 15-7 15-6 15-5 15-3 15 5 15 8 15 29 15 23 15 30 15 72 15 92 15 81 15 73 15 83 15 94 15 83 15 66 15 65 15 65 15 46 15 36 15 35 15 19 15 7 15-14 15-15 15-15 15-13 15-9 15-8 15-5 15 12 15 20 15 15 15 13 15 16 15-8 15-37 15-39 15-32 15-24 15-8 15 6 15 3 15-15 15-41 15-59 15-27 15-1 15-1 15 1 15 8 15 7 15 7 15 9 15 11 15 8 15 18 15 22 15 23 15 31 15 32 15 36 15 47 15 48 15 45 15 27 15 13 15-1 15-13 15-12 15 1"/>
<path stroke="#77AC30" d="M740 459l15 0 15 0 15 0 15-60 15 0 15 0 15 0 15 0 15 51 15 12 15 49 15 0 15 144 15 0 15 101 15 0 15 0 15 55 15 0 15 0 15 0 15 0 15 161 15 69 15 0 15 50 15 0 15 0 15 146 15 0 15 46 15 109 15 0 15 0 15 334 15 0 15 0 15 0 15 0 15 267 15 0 15 0 15 9 15 4 15 0 15 0 15-7 15 0 15-1 15-7 15-13 15 0 15-12 15 0 15 12 15 0 15 0 15 0 15 2 15 7 15 10 15 0 15 0 15 0 15 0 15 24 15 0 15 0 15 0 15 0 15-11 15 0 15 0 15 0 15 0 15 13 15-14 15 0 15 0 15 0 15 2 15 4 15 0 15 9 15 0 15 0 15 0 15 1 15 0 15 0 15 1 15 24 15 0 15 0 15 0 15 9 15 0 15 0 15 0 15-6 15 0 15 7 15 10 15 0 15 0 15-16 15 0 15 0 15 0 15-11 15-4 15 1 15 0 15 0 15-20 15 0 15 0 15 0 15 0 15 2 15 8 15 0 15 0 15 0 15 0 15 23 15 0 15 0 15 0 15 12 15 0 15 0 15-5 15-8 15 0 15-4 15-1 15-1 15 0 15 0 15-19 15 0 15 0 15-16 15-7 15-19 15 0 15 0 15 0 15 0 15 0 15 0 15 19 15 0 15 8 15 0 15 0 15 6 15 0 15 2 15 0 15 0 15-10 15 0 15-7 15-6 15 0 15 11 15 0 15 0 15 0 15-9 15 0 15 0 15 0 15 0 15 19 15 0 15 0 15 0 15 0 15-6 15 0 15 0 15 1 15 0 15 0 15-3 15 0 15 3 15 1 15 0 15 0 15-11 15 0 15 0 15 0 15 0 15-2 15-15 15 0 15 0 15 0 15 0 15-8 15 0 15 0 15 0 15 0 15 8 15 2 15 0 15 1 15-10 15 0 15 0 15-23 15 0 15 0 15 5 15 0 15 0 15 0 15 22 15 0 15 0 15 0 15 16 15 173 15 0 15 0 15 0 15 0 15 151 15 124 15 0 15 0 15 28 15 13 15 30 15 38 15 173 15 0 15 0 15 0 15 0 15 296 15 0 15 0 15 0 15 0 15 130 15 4 15 0 15 0 15 0 15 0 15 25 15 0 15 0 15-31 15-22 15 0 15 0 15-145 15 0 15-92 15 0 15-100 15 0 15-47 15 0 15 0 15-137 15 0 15-23 15 0 15 51 15 0 15 0 15 75 15 0 15 0 15 0 15 40 15 52 15 0 15 0 15 93 15 56 15 0 15 0 15 97 15 0 15 0 15 11 15 36 15 0 15 0 15 16"/>
<path stroke="#4DBEEE" d="M740 527l15 34 15 163 15 0 15 0 15 0 15 0 15 102 15 128 15 0 15 0 15 0 15-23 15 0 15 0 15 20 15 0 15 0 15 30 15 0 15 0 15 0 15 0 15 169 15 0 15 0 15 59 15 166 15 0 15 0 15 0 15 0 15 217 15 74 15 218 15 0 15 72 15 0 15 0 15 0 15 0 15 29 15 0 15 0 15 0 15 13 15 0 15 2 15 6 15 0 15 3 15 16 15 0 15 0 15-8 15 0 15-5 15-2 15-6 15-3 15 0 15 0 15 14 15 0 15 6 15 0 15 0 15 0 15 0 15-20 15 0 15 0 15 0 15 0 15-24 15 0 15 0 15 0 15 4 15 12 15 0 15 0 15-5 15 0 15 0 15 0 15 7 15 15 15 0 15 1 15-4 15 0 15 0 15-1 15 0 15 0 15 9 15 0 15 0 15 0 15 5 15 0 15 0 15 0 15 1 15 0 15 15 15 0 15 0 15 0 15 0 15 3 15 9 15 0 15 0 15 0 15 0 15-4 15 0 15 0 15 3 15 0 15 0 15-10 15 0 15-15 15 0 15 0 15 0 15 0 15-26 15 0 15-1 15 0 15 0 15 0 15 0 15-6 15 0 15 0 15 3 15 0 15 0 15 0 15 0 15 7 15 0 15 0 15 0 15-1 15-1 15 0 15 0 15-8 15 0 15 0 15-18 15 0 15 0 15 0 15 0 15 13 15 0 15 0 15 0 15 29 15 31 15 0 15 0 15 0 15 0 15-2 15 8 15 0 15 0 15 0 15 0 15 25 15 0 15 0 15 0 15-12 15-3 15-7 15 0 15 0 15-1 15 0 15 0 15 0 15 0 15-13 15 0 15 3 15 0 15 0 15-6 15 0 15-13 15 0 15 0 15 0 15-20 15 0 15 0 15 0 15 8 15 0 15 0 15 0 15-4 15-4 15 0 15 0 15-16 15 0 15 0 15 0 15 0 15-14 15 0 15 0 15-10 15 0 15-3 15-5 15 0 15 8 15 0 15-8 15 0 15 0 15 0 15 0 15 31 15 0 15 0 15 346 15 0 15 0 15 0 15 333 15 0 15 0 15 292 15 0 15 92 15 0 15 0 15 0 15 0 15-21 15 0 15-20 15 0 15-6 15-8 15-5 15 0 15 0 15 0 15-55 15 0 15 0 15-58 15-150 15 0 15 0 15 0 15-58 15 0 15 0 15-15 15 0 15 48 15 0 15-36 15 0 15 0 15 0 15 25 15 0 15 27 15 0 15 0 15 29 15 0 15-12 15 0 15 0 15 35 15 0 15 0 15 15 15 15 15 65 15 0 15 20 15 0 15 0 15 9"/>
<path stroke="#A2142F" d="M740 523l15 0 15 0 15 0 15 0 15 113 15 0 15 52 15 0 15 0 15 86 15 0 15 0 15 36 15 0 15 0 15 93 15 31 15 50 15 0 15 91 15 0 15 83 15 0 15 0 15 0 15 0 15 189 15 0 15 0 15 33 15 169 15 0 15 0 15 0 15 373 15 0 15 0 15 0 15 94 15 0 15 0 15 10 15 0 15 0 15-3 15 0 15 0 15 0 15 0 15-8 15 0 15 0 15 0 15 0 15 28 15 0 15 0 15 0 15 5 15-5 15 0 15-1 15 0 15-2 15 0 15-26 15 0 15 0 15 0 15-9 15 0 15 0 15 7 15 0 15 0 15 16 15 0 15-4 15 0 15 0 15 0 15 17 15 0 15 0 15-13 15 6 15 0 15 6 15 14 15 0 15 0 15 0 15-18 15-2 15-2 15 0 15 0 15-3 15 0 15-10 15 0 15 0 15-23 15 0 15 0 15 0 15 0 15-9 15 0 15 0 15 10 15 12 15 0 15 0 15 0 15 0 15 1 15 0 15 0 15 0 15-6 15 0 15 0 15 0 15 0 15 11 15 1 15 0 15 0 15 0 15 0 15 2 15 0 15 0 15 0 15 0 15 30 15 0 15 0 15 0 15 0 15 24 15 0 15 0 15 0 15 0 15-4 15 0 15 0 15 0 15-3 15 0 15-12 15 0 15-12 15 0 15 0 15 0 15 0 15 4 15 0 15 4 15 0 15 0 15 0 15 0 15-1 15 0 15 0 15 0 15-8 15 6 15 0 15 0 15 0 15-5 15 0 15 0 15-6 15 0 15 0 15 0 15 0 15 10 15 0 15 0 15 0 15 0 15-5 15-3 15 6 15 0 15-13 15 0 15 0 15 0 15 0 15-14 15 0 15 0 15-15 15 0 15 0 15 0 15 0 15-21 15-7 15 0 15 0 15 0 15 9 15 0 15 0 15 0 15 4 15 6 15 10 15 0 15-1 15 0 15 3 15 0 15 78 15 39 15 0 15 0 15 183 15 0 15 0 15 126 15 0 15 80 15 0 15 0 15 212 15 0 15 0 15 0 15 0 15 353 15 0 15 0 15-5 15 0 15 0 15 0 15 3 15 3 15 0 15 0 15 19 15-20 15 0 15 0 15 0 15-98 15 0 15 0 15-49 15 0 15 0 15 0 15 0 15-200 15 0 15 0 15 0 15-41 15 0 15 0 15 0 15 23 15 0 15 38 15 86 15 0 15 0 15 0 15 102 15 0 15 0 15 29 15 4 15 0 15 0 15-2 15 0 15-62 15 0 15-120 15 0 15-96 15 0 15 0 15-26 15 0 15-10 15 0 15 0 15 24"/>
<path stroke="#0072BD" d="M740 875l15 0 15 0 15 0 15 0 15 94 15 0 15 51 15 0 15-6 15 0 15 109 15 0 15 0 15 364 15 0 15 0 15 0 15 242 15 0 15 0 15 0 15 31 15 0 15 0 15 0 15 224 15 0 15 90 15 0 15 5 15 0 15 0 15-19 15 0 15 0 15 0 15-16 15-9 15 0 15-5 15-11 15 0 15 0 15 0 15 0 15 20 15 0 15-1 15-13 15 0 15-11 15 0 15 0 15-10 15 0 15 1 15 0 15 0 15 24 15 0 15 0 15 0 15 0 15-32 15 0 15 0 15-27 15 0 15-7 15 0 15 6 15 10 15 11 15 0 15 0 15 0 15-7 15 0 15 0 15 0 15 16 15 5 15 0 15 0 15 0 15-10 15 0 15 0 15 0 15 16 15 0 15 0 15-3 15 0 15-4 15 0 15 2 15 0 15 0 15-4 15 0 15 0 15 0 15 28 15 0 15 0 15 0 15 3 15 0 15-7 15 0 15 0 15 0 15 0 15-1 15-5 15-8 15 0 15 17 15 0 15 0 15 0 15 9 15 4 15 0 15-7 15 0 15-2 15 0 15 0 15 0 15 0 15-1 15 0 15-1 15-1 15 4 15 0 15 0 15-13 15 0 15-9 15 0 15 0 15 0 15-6 15-2 15-6 15 0 15 0 15-4 15 0 15 0 15 2 15 0 15 9 15 0 15 0 15-7 15-8 15-7 15-2 15 0 15 0 15 13 15 0 15 0 15 0 15 0 15 11 15 0 15 2 15 0 15 0 15 0 15 5 15 0 15 5 15 7 15 0 15 4 15 0 15 0 15 5 15 6 15 11 15 0 15-12 15 0 15-17 15 0 15 0 15 0 15-19 15 0 15 0 15-27 15 0 15-2 15 2 15 0 15 0 15 0 15 0 15 26 15 0 15 5 15 0 15 0 15 0 15 0 15 21 15 0 15 0 15 0 15 0 15-1 15 0 15 0 15 0 15-1 15 8 15 0 15 0 15 7 15 2 15 0 15 2 15 21 15 0 15 0 15 0 15 141 15 0 15 0 15 87 15 74 15 192 15 0 15 0 15 0 15 0 15 517 15 0 15 0 15 0 15 0 15 40 15 0 15 0 15-21 15 0 15 0 15 22 15 0 15 29 15 0 15 6 15 0 15 0 15 0 15-8 15 0 15 0 15-183 15 0 15 0 15 0 15 0 15-87 15 0 15 8 15-23 15 0 15 0 15 0 15 0 15-67 15 0 15-12 15 0 15 0 15 0 15 0 15 119 15 0 15 0 15 126 15 0 15 0 15 63 15 0 15 89 15 0 15 0 15 0 15 0 15-38 15-7 15-21"/>
<path stroke="#D95319" d="M740 740l15 0 15 0 15-17 15 0 15 12 15 0 15-5 15 0 15 0 15 43 15 0 15 0 15 0 15 0 15 107 15 0 15 0 15 46 15 0 15 35 15 141 15 0 15 90 15 79 15 59 15 0 15 0 15 124 15 0 15 0 15 0 15 162 15 146 15 0 15 0 15 0 15 0 15 237 15 0 15 9 15 5 15 0 15 14 15 0 15 0 15 0 15 0 15-40 15 0 15 0 15-13 15-2 15 0 15 0 15 0 15 0 15 0 15 0 15-6 15 0 15-4 15 0 15 2 15 16 15 0 15 0 15 0 15 0 15 12 15 6 15 0 15 0 15 0 15-17 15 0 15-17 15 0 15 0 15-4 15 0 15 11 15 24 15 0 15 19 15 0 15 0 15 9 15-7 15 0 15-15 15 0 15 0 15 0 15-1 15-6 15 0 15 0 15 0 15 0 15 3 15 0 15 0 15 0 15 0 15 2 15 0 15 0 15-13 15 0 15-6 15-3 15 0 15-2 15-8 15 0 15-14 15 0 15 0 15 0 15-8 15 0 15-8 15 0 15 0 15 0 15 0 15-7 15 0 15 0 15 0 15 0 15-8 15 0 15 0 15-2 15 0 15 0 15 0 15 0 15 14 15 0 15 9 15 12 15 0 15 0 15 1 15 5 15 0 15-5 15 0 15 0 15 1 15 0 15 0 15 0 15 4 15 0 15 6 15 0 15 0 15 0 15 0 15-2 15 0 15 0 15 0 15 23 15 0 15 0 15 11 15 0 15 0 15 0 15 4 15 0 15-3 15-10 15 0 15-8 15 0 15 0 15 0 15 0 15-2 15 0 15 0 15-5 15 0 15 0 15 0 15 0 15 4 15 8 15 0 15 0 15 0 15 0 15 9 15 0 15 0 15 3 15 0 15 0 15 0 15 0 15 14 15 2 15-3 15 0 15 15 15 0 15 0 15 0 15 13 15 0 15 19 15 0 15 0 15 0 15 0 15-7 15 0 15 0 15-2 15 0 15-2 15 0 15-12 15 2 15 0 15 0 15 191 15 0 15 0 15 0 15 162 15 0 15 97 15 0 15 0 15 0 15 0 15 177 15 0 15 0 15 0 15 199 15 0 15 0 15 0 15 67 15-8 15 0 15 0 15 0 15-25 15 16 15 0 15 0 15 0 15 0 15-5 15 13 15 0 15-79 15 0 15 0 15 0 15 0 15-114 15 0 15 0 15-113 15 0 15-12 15 0 15 0 15-45 15 0 15-10 15 20 15 0 15 0 15 9 15 0 15 68 15 0 15 0 15 34 15 0 15 163 15 0 15 0 15 0 15 0 15 104 15 0 15 0 15 0 15 0"/>
<path stroke="#EDB120" d="M740 354l15 43 15 36 15 24 15 17 15 22 15 26 15 17 15 12 15 16 15 28 15 44 15 56 15 57 15 56 15 49 15 33 15 19 15 13 15 9 15 8 15 9 15 12 15 19 15 26 15 23 15 28 15 51 15 59 15 84 15 63 15 45 15 48 15 73 15 92 15 74 15 43 15 35 15 58 15 98 15 127 15 46 15 15 15-4 15-1 15 4 15 3 15-1 15-8 15-11 15-8 15-3 15 2 15 4 15 0 15-3 15-1 15-4 15-8 15-8 15-5 15-1 15 0 15-3 15-1 15 3 15 5 15 3 15-1 15-5 15-6 15-3 15 0 15 1 15-1 15-1 15 1 15 3 15 3 15 3 15 3 15 3 15 2 15-3 15-5 15-2 15 3 15 4 15 2 15 2 15-2 15-4 15-3 15-5 15-2 15 2 15 2 15 0 15-2 15-1 15 2 15 4 15 1 15-4 15-6 15-3 15-2 15-4 15-4 15-1 15 1 15-3 15-5 15 2 15 10 15 10 15 6 15 3 15-2 15 4 15 4 15 2 15 0 15 0 15-1 15-3 15-2 15-1 15-2 15-3 15-2 15-1 15-4 15-5 15 0 15 2 15 3 15 4 15 2 15 0 15-3 15-2 15 3 15 6 15 3 15-4 15-9 15-6 15-3 15-3 15 0 15 5 15 2 15-4 15-9 15-7 15-3 15-2 15-5 15-5 15-3 15 2 15 2 15-2 15-3 15-1 15 1 15-1 15-1 15-1 15 3 15 5 15 3 15-2 15-2 15 0 15 2 15 2 15 2 15 5 15 4 15 1 15-2 15-3 15 3 15 8 15 9 15 4 15-2 15-2 15 1 15 0 15-1 15 1 15 0 15 0 15 2 15 7 15 3 15-2 15-1 15 4 15 9 15 8 15 3 15-2 15-4 15-4 15-3 15-1 15 0 15-3 15-2 15 2 15 2 15-3 15-4 15-4 15-6 15-1 15 1 15 3 15 12 15 10 15 44 15 79 15 104 15 90 15 49 15 18 15 9 15 7 15 13 15 40 15 76 15 87 15 70 15 53 15 43 15 38 15 28 15 0 15-25 15-2 15 4 15 20 15 30 15 30 15 31 15 16 15 16 15 15 15-11 15-34 15-47 15-58 15-43 15-11 15 7 15-13 15-38 15-43 15-44 15-50 15-39 15-20 15-17 15-28 15-27 15-8 15 12 15 19 15 32 15 47 15 46 15 26 15 25 15 32 15 61 15 98 15 101 15 69 15 29 15 16 15 23 15 12 15-15 15-22 15-34 15-62 15-73 15-72 15-39 15-11 15 7 15-4 15-23 15-34 15-29 15-12 15 4"/>
<path stroke="#7E2F8E" d="M740 385l15 29 15 24 15 88 15 0 15 97 15 0 15 133 15 0 15 0 15 0 15 28 15 0 15 0 15 94 15 0 15 0 15 0 15 0 15 46 15 0 15 0 15 152 15 0 15 136 15 0 15 0 15 222 15 0 15 0 15 41 15 30 15 243 15 0 15 0 15 0 15 0 15 282 15 0 15 0 15 26 15-3 15 0 15 0 15 0 15-19 15 0 15 0 15-43 15 0 15-13 15 0 15 0 15 0 15 0 15 6 15 26 15 0 15 0 15 0 15 0 15 8 15 0 15 0 15 0 15-30 15 0 15 0 15 7 15 1 15 0 15 0 15 0 15 9 15 0 15 11 15 0 15 0 15 11 15 0 15 0 15 2 15 0 15 0 15 0 15-4 15 0 15-6 15 0 15 0 15 4 15 0 15 0 15-12 15 0 15 0 15 0 15 0 15 3 15 0 15-17 15 0 15-12 15 0 15 0 15 0 15-18 15 0 15 0 15 8 15 6 15 17 15 0 15 0 15 27 15 0 15 1 15 0 15 0 15 0 15-19 15 0 15 0 15 0 15 0 15-12 15 0 15 0 15 1 15-2 15 0 15 0 15-13 15 0 15 0 15 0 15 0 15-13 15 0 15 0 15-4 15 0 15-1 15 0 15 14 15 0 15 0 15 0 15 0 15 24 15 2 15 0 15 0 15 0 15 8 15 12 15 0 15 0 15 0 15 1 15 0 15 1 15 0 15 5 15 0 15 0 15 8 15 1 15 0 15 0 15 0 15-1 15 0 15-3 15 0 15 0 15 0 15-15 15 0 15 0 15 0 15 0 15-8 15 1 15 0 15 0 15 0 15 0 15 3 15-4 15-5 15-5 15 0 15 0 15-8 15 0 15-2 15 8 15 0 15 0 15-10 15 0 15-10 15 0 15 0 15 5 15 0 15 0 15 0 15 0 15-2 15 0 15 7 15 0 15-7 15 0 15 0 15 7 15 0 15 0 15 0 15-17 15 0 15-12 15 0 15 0 15 0 15 116 15 0 15 0 15 0 15 178 15 0 15 129 15 0 15 0 15 167 15 0 15 254 15 0 15 0 15 0 15 159 15 0 15 20 15 0 15 26 15 0 15 0 15-19 15 0 15 0 15 7 15 0 15 0 15-53 15 0 15 0 15 0 15 0 15-88 15 0 15-143 15 0 15 0 15 0 15-72 15-134 15 0 15 0 15 0 15 0 15-54 15 27 15 0 15 0 15 15 15 70 15 0 15 0 15 35 15 85 15 0 15 0 15 0 15 0 15 36 15 0 15 29 15 63 15 67 15 0 15 0 15 0 15 0 15-56 15 0 15 0 15 0 15 0 15-35"/>
<path stroke="#77AC30" d="M740 518l15-8 15-18 15-8 15 9 15 21 15 31 15 53 15 91 15 107 15 70 15 11 15-27 15-27 15 24 15 57 15 34 15 1 15-5 15 8 15 16 15 34 15 71 15 113 15 141 15 90 15 37 15 46 15 85 15 94 15 76 15 49 15 57 15 88 15 31 15 18 15 9 15 0 15 4 15 13 15 8 15 2 15 6 15 4 15-1 15 1 15 4 15 6 15 2 15-4 15-5 15-4 15 0 15 3 15 1 15-1 15-1 15 4 15 5 15 3 15 0 15 0 15-6 15-10 15-5 15 1 15 6 15 4 15-3 15-7 15-5 15-3 15-7 15-9 15-9 15-6 15-2 15-3 15-1 15 0 15-2 15 3 15 8 15 1 15-1 15 5 15 6 15 2 15 1 15 1 15 1 15-4 15-7 15-10 15-4 15-2 15-2 15 0 15 4 15 5 15-1 15-5 15-2 15 1 15 4 15 3 15 0 15-1 15 1 15-1 15-7 15-6 15 3 15 8 15 6 15 5 15 2 15-4 15-7 15 0 15 2 15 5 15 5 15 4 15 4 15 4 15 3 15 3 15 0 15-2 15-2 15-4 15-2 15 5 15 6 15 0 15-5 15-9 15-7 15-6 15-8 15-7 15-1 15 1 15-2 15 2 15 2 15-1 15-3 15-3 15 1 15 2 15 3 15 2 15-4 15-4 15 0 15 3 15 2 15-1 15-7 15-10 15-9 15-7 15-3 15 0 15 4 15 5 15 5 15 4 15 4 15 4 15 2 15 1 15 6 15 7 15 2 15-1 15-2 15-2 15-2 15-1 15 1 15 3 15 3 15-3 15-7 15-7 15-2 15 4 15 2 15-2 15-2 15 1 15 1 15-1 15-2 15 0 15 4 15 3 15-1 15 2 15 5 15 5 15 5 15 3 15 0 15-1 15 1 15 4 15 1 15-4 15-3 15-1 15 1 15 2 15 2 15 1 15 3 15 5 15 6 15 2 15-3 15-4 15-6 15-1 15 0 15-4 15-5 15-2 15 1 15-1 15-3 15 0 15-4 15-6 15 1 15 19 15 127 15 132 15 100 15 39 15-12 15-14 15 29 15 82 15 103 15 102 15 97 15 76 15 32 15-4 15-7 15 6 15 9 15 31 15 7 15 9 15-3 15-4 15-1 15-10 15-28 15-48 15-42 15-9 15 4 15-8 15-23 15-20 15-13 15-5 15-3 15-1 15-13 15-17 15-13 15-5 15 13 15 16 15 30 15 35 15 25 15 22 15 12 15 11 15 18 15 16 15 9 15-2 15-10 15-9 15-11 15-9 15-7 15 2 15 8 15-3 15 3 15-3 15-23"/>
<path stroke="#4DBEEE" d="M740 719l15 170 15 0 15 0 15 3 15 45 15 0 15 21 15 54 15 0 15 0 15 119 15 0 15 0 15 0 15 0 15 148 15 364 15 0 15 0 15 0 15 236 15 0 15 0 15 72 15 67 15 82 15 0 15-9 15 0 15 0 15 0 15-16 15 0 15 0 15 0 15 0 15 20 15 0 15-8 15 0 15 0 15-7 15 0 15-2 15-4 15 0 15-5 15 0 15 0 15 0 15 0 15 11 15 0 15 0 15 22 15-10 15 0 15 0 15 0 15-17 15 0 15 0 15 0 15 0 15-21 15 0 15 0 15 0 15 0 15 0 15 0 15-1 15 0 15 0 15 0 15 2 15 0 15 5 15 9 15 0 15 0 15 0 15-1 15-1 15 27 15 0 15 0 15 0 15 0 15 2 15 0 15 16 15 0 15 6 15 0 15 3 15 6 15 0 15 0 15-24 15 0 15 0 15 0 15 0 15 12 15 1 15 0 15 16 15 0 15 0 15 0 15-10 15 8 15 0 15 0 15-10 15 0 15 0 15 0 15-19 15 0 15 0 15 0 15 11 15 0 15-1 15 0 15 0 15 2 15 0 15 0 15 0 15-27 15 0 15-6 15 0 15-13 15 0 15 0 15 0 15 0 15-13 15 0 15 4 15-6 15 0 15 0 15 0 15 0 15-4 15 0 15 5 15 0 15 0 15 0 15-2 15 0 15 0 15 0 15 3 15 0 15 0 15 0 15-14 15 0 15 0 15-8 15-15 15 0 15 0 15 0 15-10 15 0 15 0 15-14 15 0 15 0 15 0 15 1 15 0 15 0 15 13 15 0 15 0 15 0 15 7 15 0 15 0 15 28 15 0 15 0 15 0 15-8 15 0 15 0 15-6 15 0 15 0 15 0 15 8 15 4 15-4 15 0 15 0 15 0 15 0 15-7 15 1 15 12 15 0 15 0 15 0 15 8 15 0 15 0 15 0 15-4 15-8 15-5 15 0 15-23 15 0 15 0 15 0 15 0 15 2 15 0 15 0 15 0 15 2 15 0 15 0 15 19 15 0 15 0 15 0 15 0 15 11 15 0 15 100 15 0 15 357 15 0 15 0 15 0 15 187 15 164 15 0 15 0 15 173 15 65 15 51 15 0 15-8 15 0 15 0 15 20 15 0 15 0 15 32 15 0 15 0 15 0 15 0 15-47 15 0 15-132 15 0 15 0 15-109 15 0 15 0 15 50 15 0 15 0 15 0 15 0 15-45 15 0 15 0 15 0 15 0 15-8 15 0 15 3 15 0 15 0 15 0 15-10 15 0 15 0 15 10 15 0 15 18 15 11 15 48 15 0 15 93 15 0 15 41"/>
<path stroke="#A2142F" d="M740 698l15 71 15 54 15 41 15 31 15 15 15 7 15 16 15 16 15 1 15-5 15-4 15 8 15 14 15 8 15 6 15 24 15 30 15 27 15 25 15 28 15 37 15 96 15 109 15 75 15 11 15-17 15 17 15 63 15 90 15 107 15 116 15 91 15 45 15 32 15 16 15 21 15 3 15-4 15 1 15 1 15-2 15-3 15 1 15 4 15 5 15-2 15-9 15-10 15-3 15 4 15 6 15 3 15-4 15-1 15 2 15-1 15-6 15-6 15-5 15-4 15-6 15-3 15 2 15 6 15 8 15 6 15 5 15 3 15 2 15 1 15 2 15 3 15 6 15 7 15 4 15-5 15-7 15 0 15 3 15-3 15-7 15-6 15-5 15-5 15-1 15 5 15 5 15 2 15-1 15 1 15 8 15 7 15 0 15-4 15-3 15 4 15 8 15 7 15 4 15-1 15-5 15-8 15-5 15 3 15 4 15 1 15 0 15 1 15 0 15-4 15-5 15-7 15-9 15-4 15-4 15-9 15-13 15-11 15-2 15-1 15 0 15 1 15 1 15 0 15 1 15 6 15 8 15 5 15 4 15 3 15 0 15 0 15 4 15 9 15 6 15 1 15-3 15-4 15-2 15 4 15 4 15 1 15 0 15-3 15-5 15-6 15-6 15-6 15-6 15-3 15 2 15 2 15 0 15 0 15 3 15 4 15 4 15 4 15 3 15 1 15 2 15 3 15-4 15-5 15 4 15 11 15 11 15 6 15-1 15-1 15 0 15-3 15-7 15-9 15-6 15-4 15-1 15-1 15-1 15-3 15 1 15 6 15 7 15 6 15 3 15 0 15-1 15 3 15 5 15 3 15 0 15-2 15-7 15-4 15 2 15 4 15 0 15-3 15-2 15 1 15 1 15 0 15-2 15-2 15 3 15 3 15 1 15 1 15 5 15 5 15 3 15-1 15-4 15-5 15-3 15 2 15 4 15 2 15 1 15 1 15 4 15 5 15-2 15-6 15-7 15-4 15 12 15 103 15 68 15-1 15-26 15-8 15 25 15 56 15 91 15 110 15 73 15 12 15-6 15 17 15 51 15 79 15 99 15 111 15 93 15 20 15 16 15 14 15 4 15-2 15 4 15 11 15 6 15 3 15 9 15 10 15 1 15-6 15 7 15 20 15 0 15-23 15-21 15-3 15 2 15-9 15-35 15-51 15-45 15-29 15-22 15-26 15-24 15-20 15-13 15-3 15-22 15-29 15-6 15 12 15 19 15 9 15 4 15 0 15-4 15-6 15 11 15 34 15 32 15 10 15-1 15 0 15 21 15 35 15 25 15 25 15 9 15-5 15-13 15-8"/>
<path stroke="#0072BD" d="M740 657l15 0 15 0 15 46 15 0 15 0 15 82 15 0 15 0 15 0 15 46 15 0 15 31 15 0 15 0 15 92 15 98 15 0 15 0 15 0 15 0 15 179 15 0 15 0 15 2 15 0 15 63 15 0 15 0 15 0 15 0 15 580 15 0 15 0 15 0 15 0 15 196 15 0 15 0 15 25 15-10 15 0 15 0 15 0 15 0 15-24 15-16 15 0 15 0 15-26 15 0 15-13 15 0 15 0 15 0 15 0 15 1 15 0 15 0 15 17 15 0 15 7 15 0 15 0 15-2 15 0 15 0 15 2 15 0 15 0 15 0 15-4 15 0 15-2 15 0 15 0 15 20 15 0 15 0 15-1 15 0 15 0 15-16 15 0 15 14 15 0 15 6 15 6 15-4 15 0 15 0 15-11 15 0 15 0 15-16 15 0 15 0 15-5 15 0 15 0 15 4 15 0 15 19 15 0 15 0 15-3 15-22 15 0 15 0 15-20 15 0 15-10 15 0 15 0 15 24 15 0 15 0 15 0 15 4 15 0 15 0 15 9 15 0 15 0 15 8 15-11 15 0 15 0 15 0 15-11 15-8 15 0 15-7 15-10 15 0 15 0 15 0 15 0 15-2 15-17 15 0 15 0 15 0 15 2 15 0 15-6 15 0 15 0 15 0 15 0 15-8 15-6 15 0 15 0 15-8 15 0 15-7 15 0 15 5 15 0 15 13 15 0 15 0 15 0 15-3 15 0 15 3 15 3 15 0 15 0 15 0 15 7 15 4 15 8 15 0 15 0 15 5 15 0 15 3 15 2 15 1 15-1 15 0 15 0 15 0 15 0 15-5 15 0 15 0 15 9 15 0 15-12 15 0 15 0 15 0 15 25 15 0 15 0 15 0 15 0 15 8 15-2 15 0 15 2 15-5 15 0 15-8 15 0 15-6 15 0 15-7 15 0 15-3 15-3 15 0 15 0 15 0 15 8 15 0 15 0 15 0 15-12 15 0 15 0 15 0 15 0 15 18 15 0 15 0 15 0 15 0 15 251 15 116 15 0 15 96 15 0 15 89 15 0 15 31 15 261 15 0 15 0 15 0 15 51 15 0 15 0 15 23 15 0 15 0 15 0 15-47 15 0 15-2 15 0 15 44 15 0 15 5 15 0 15 0 15 0 15-50 15 0 15 0 15 0 15 10 15 2 15 0 15 0 15-99 15 0 15 0 15-30 15 7 15-14 15 0 15 0 15 0 15 0 15-47 15 0 15 14 15 0 15 0 15 119 15 0 15 166 15 0 15 0 15 70 15 0 15 0 15 0 15 0 15-51 15 0 15-66 15 0 15 0 15 0 15-28 15 0"/>
<path stroke="#D95319" d="M740 791l15 34 15 17 15 25 15 43 15 57 15 61 15 79 15 81 15 75 15 40 15 42 15 47 15 55 15 61 15 47 15 17 15 30 15 97 15 143 15 146 15 34 15 20 15-3 15-15 15-17 15-8 15 5 15 19 15 18 15 11 15 10 15 18 15 17 15 6 15 4 15 5 15 10 15 7 15-7 15-16 15-12 15-11 15-16 15-24 15-22 15-19 15-13 15-6 15-4 15-7 15-4 15 11 15 24 15 24 15 14 15 7 15 0 15-7 15-8 15 3 15 7 15 4 15-9 15-22 15-19 15-5 15 2 15 6 15 4 15 4 15 6 15 2 15-14 15-25 15-16 15-2 15 0 15-3 15-4 15-5 15-1 15 5 15-6 15-12 15-8 15-6 15-3 15 8 15 11 15 13 15 12 15 8 15 1 15-3 15 2 15 9 15 5 15-2 15-8 15-15 15-10 15 0 15 5 15-1 15-15 15-9 15 2 15-3 15-9 15-7 15 3 15 6 15 8 15 13 15 15 15 9 15 5 15 4 15 9 15 0 15-13 15-12 15-5 15 1 15 8 15 10 15 6 15 2 15 1 15-2 15-5 15-4 15-5 15-5 15-3 15 1 15-1 15-5 15-5 15 0 15 4 15 13 15 19 15 7 15-5 15-8 15-1 15 9 15 13 15 7 15-4 15-9 15 2 15 11 15 9 15-1 15-4 15 1 15 9 15 8 15 3 15 2 15-2 15-8 15-14 15-15 15-6 15 0 15-3 15-6 15-4 15 1 15 2 15 0 15 0 15 3 15-3 15-14 15-15 15-10 15-6 15-3 15-3 15-3 15 4 15 11 15 8 15 2 15 13 15 24 15 18 15 1 15-9 15-7 15-1 15 5 15 6 15 5 15 3 15 0 15-1 15-1 15-1 15 0 15 0 15 3 15 3 15 1 15 3 15 12 15 7 15-6 15-4 15 1 15 2 15-7 15-2 15 4 15 22 15 42 15 37 15 53 15 71 15 67 15 48 15 39 15 47 15 43 15 39 15 59 15 84 15 79 15 49 15 21 15-4 15 2 15 6 15 6 15 10 15 13 15 10 15-3 15-7 15-9 15-5 15 5 15 3 15-24 15-17 15-13 15-6 15-14 15-49 15-74 15-57 15-44 15-36 15-22 15-27 15-46 15-40 15-10 15 19 15 31 15 32 15 42 15 48 15 35 15 24 15 31 15 52 15 45 15 4 15-8 15 24 15 52 15 51 15 34 15 43 15 62 15 58 15 32 15 7 15 8 15-1 15-7 15-10 15-19 15-36 15-27 15-16 15-20 15-46 15-71 15-71 15-38 15-11 15-4 15-12 15-21"/>
<path stroke="#EDB120" d="M740 470l15 44 15 79 15 0 15 0 15 0 15 61 15 22 15 0 15 0 15 55 15 0 15 0 15-12 15 0 15 0 15 0 15 0 15 34 15 122 15 0 15 0 15 0 15 73 15 24 15 76 15 0 15 0 15 58 15 134 15 0 15 0 15 0 15 0 15 365 15 0 15 0 15 113 15 175 15 0 15 130 15 0 15 0 15 10 15 0 15 0 15 20 15 0 15 0 15-6 15 0 15 0 15 0 15-1 15 0 15 0 15-16 15 0 15 4 15 0 15 0 15 0 15 5 15 0 15 0 15 1 15 0 15 0 15 15 15 0 15 0 15 12 15 0 15-8 15 1 15 9 15 7 15-2 15-7 15-27 15 0 15 0 15 0 15 0 15-27 15 0 15 0 15 6 15 0 15 0 15 7 15 0 15 0 15 0 15 21 15 0 15 0 15-8 15-4 15 5 15 0 15 0 15 0 15 0 15 18 15 6 15 9 15 0 15 0 15 0 15 3 15 0 15 0 15-10 15 0 15 0 15 0 15-1 15 0 15 0 15 0 15 0 15-9 15 0 15 0 15 8 15 0 15 0 15-4 15 0 15 0 15 2 15 7 15 0 15 11 15 0 15 0 15-6 15 0 15-18 15 0 15 0 15 0 15 0 15-15 15-8 15 0 15 0 15 0 15 7 15 0 15 0 15 0 15-6 15-2 15 0 15 0 15 4 15 0 15 0 15-7 15 0 15 0 15 0 15 0 15 1 15 0 15 0 15-2 15 2 15 0 15 2 15 4 15 0 15 0 15 0 15-6 15 0 15 6 15 0 15 0 15-12 15 0 15 0 15 0 15 0 15 0 15 0 15 12 15 0 15 0 15 0 15 0 15-3 15 0 15-3 15 0 15-6 15-5 15-2 15 0 15 0 15 0 15 0 15-6 15 0 15 0 15 0 15 0 15 0 15-4 15 0 15 0 15-7 15 0 15 0 15 0 15 0 15 2 15 0 15 0 15 23 15 0 15 0 15 0 15 0 15 3 15 0 15 0 15-5 15 0 15 5 15 0 15 59 15 0 15 196 15 0 15 227 15 0 15 0 15 0 15 0 15 218 15 207 15 0 15 0 15 229 15 0 15 0 15 0 15 5 15 0 15 0 15 0 15 0 15 13 15 0 15 0 15 28 15 0 15-39 15 0 15 0 15 0 15-148 15 0 15-92 15 0 15 0 15 0 15-75 15-57 15 0 15 26 15-15 15 0 15-6 15 0 15-21 15 0 15-25 15 0 15 16 15 0 15 0 15 35 15 35 15 39 15 0 15 84 15 0 15 0 15 0 15 12 15 0 15-22 15 0 15 0 15-13 15-12 15-28"/>
<path stroke="#7E2F8E" d="M740 413l15 0 15 0 15 0 15 0 15 206 15 0 15 0 15 133 15 0 15 0 15 104 15 0 15 17 15 0 15 61 15 0 15 71 15 0 15 41 15 0 15 0 15 28 15 0 15 30 15 82 15 0 15 116 15 0 15 0 15 372 15 0 15 0 15 0 15 0 15 134 15 103 15 0 15 0 15 0 15 0 15 208 15 0 15 0 15-15 15-16 15 0 15 0 15 0 15-16 15-2 15 0 15 0 15 0 15-9 15 0 15 0 15 11 15 0 15 0 15 0 15 0 15 23 15 0 15 19 15 0 15 0 15 0 15-1 15-5 15 0 15 0 15 0 15-4 15-10 15 0 15 0 15-3 15 0 15-5 15 0 15 0 15 8 15 0 15 0 15 14 15-2 15-13 15 0 15-18 15 0 15 0 15 0 15-21 15 4 15 0 15 0 15 0 15 0 15 13 15 0 15 0 15 0 15 0 15-24 15 0 15-6 15 0 15 0 15 14 15 0 15 0 15 0 15 0 15-10 15 4 15 0 15 0 15 5 15 0 15 0 15 6 15 0 15-6 15 0 15 0 15 0 15 0 15-1 15 0 15 1 15 0 15 5 15 0 15 0 15-9 15 0 15 0 15 2 15-1 15-11 15 0 15 0 15-11 15 0 15 0 15 4 15-5 15 0 15 0 15 0 15 0 15 5 15 0 15 0 15-13 15-3 15 14 15 0 15 0 15 0 15-16 15 0 15 0 15 0 15-10 15 0 15-11 15 0 15-5 15 0 15 0 15 0 15 0 15 10 15 0 15 0 15 0 15 0 15 0 15 0 15 0 15 0 15 2 15 0 15 2 15 0 15 0 15 14 15 0 15 0 15 0 15 0 15 17 15-3 15-7 15 0 15 0 15 0 15 0 15 0 15 0 15 1 15-3 15 0 15 0 15 3 15 0 15 2 15 8 15 0 15 0 15 9 15 12 15 0 15 0 15 36 15 0 15 0 15 0 15 0 15-9 15-13 15 0 15 0 15 0 15 0 15 92 15 68 15 231 15 0 15 0 15 0 15 89 15 0 15 68 15 0 15 134 15 0 15 276 15 0 15 0 15 32 15 0 15 0 15 0 15 0 15-67 15 0 15 39 15 0 15 0 15 65 15 11 15 0 15 20 15 31 15 0 15-43 15 0 15 0 15-76 15-63 15 0 15 0 15-43 15-19 15 0 15 0 15-69 15 0 15 0 15 30 15 0 15 0 15 0 15 124 15 0 15 0 15 0 15 121 15 0 15 0 15 0 15 38 15 30 15 16 15 9 15 0 15 0 15-52 15 0 15 0 15 0 15-129 15 0 15-35 15 0 15 0 15-65 15 0"/>
<path stroke="#77AC30" d="M740 550l15 38 15 0 15 0 15 0 15-10 15 0 15 37 15 55 15 0 15 0 15 0 15 31 15 0 15 68 15 0 15 55 15 47 15 0 15 88 15 0 15 0 15 80 15 20 15 0 15-2 15 0 15 0 15 46 15 0 15 0 15 86 15 111 15 267 15 0 15 0 15 291 15 73 15 92 15 0 15 0 15 0 15 0 15 120 15-38 15 0 15-29 15 0 15 0 15-74 15 0 15 0 15 26 15-17 15 0 15 0 15 12 15 0 15 0 15 25 15 0 15 7 15 0 15 0 15-7 15 0 15 0 15 27 15 0 15 0 15 0 15 45 15 0 15 0 15 0 15 0 15-42 15 0 15 0 15 0 15 0 15-69 15 0 15-3 15 11 15 0 15 0 15 0 15 12 15 0 15 8 15 0 15 0 15 0 15 0 15 13 15 0 15 0 15 11 15-11 15 0 15 2 15 0 15 0 15 0 15-22 15 0 15 0 15 0 15 0 15 10 15 0 15 0 15 3 15 0 15 0 15 27 15 0 15 0 15 34 15 0 15 0 15-1 15-7 15-4 15 10 15 0 15 0 15 0 15-18 15 0 15-5 15-2 15 0 15 0 15-6 15 0 15 0 15 0 15-29 15 0 15 0 15-13 15 0 15 0 15-4 15 0 15-10 15-5 15 0 15 0 15 0 15-35 15-11 15 0 15 0 15 1 15 5 15 0 15 0 15-5 15 0 15 0 15-3 15-4 15 7 15 0 15 0 15 0 15 0 15-6 15 0 15 0 15-7 15 0 15 0 15 0 15 0 15-23 15 0 15 17 15 0 15 0 15 0 15 0 15 11 15 0 15-3 15 0 15 7 15 0 15 0 15 5 15-11 15 0 15 0 15-2 15 0 15 0 15 0 15 9 15 0 15 0 15 10 15 0 15-5 15-6 15-3 15 16 15 0 15 20 15 0 15 0 15 19 15 0 15 12 15 0 15 0 15 13 15 0 15 0 15 0 15 0 15-6 15 5 15 0 15 0 15 0 15 36 15 0 15 0 15 88 15 0 15 0 15 0 15 234 15 102 15 146 15 0 15 0 15 157 15 0 15 70 15 130 15 0 15 0 15 51 15 20 15 0 15 0 15 19 15 3 15 0 15 0 15 0 15-32 15 0 15 0 15 0 15 0 15-112 15 0 15 0 15 0 15 0 15-60 15-9 15-33 15-178 15 0 15 0 15 0 15 0 15-79 15 0 15 0 15-11 15 0 15 0 15 157 15 0 15 0 15 0 15 0 15 161 15 127 15 0 15 0 15 0 15 0 15 52 15 20 15 0 15 0 15 0 15 29 15 0 15 0 15-78 15 0 15-27"/>
<path stroke="#4DBEEE" d="M740 555l15 8 15 5 15-2 15-1 15 14 15 34 15 43 15 41 15 36 15 27 15 28 15 40 15 42 15 26 15 11 15 17 15 80 15 106 15 69 15 3 15-5 15 29 15 72 15 108 15 130 15 144 15 140 15 106 15 70 15 43 15 19 15 9 15 0 15-4 15-9 15-1 15-2 15-7 15-6 15 0 15 3 15-1 15-5 15-10 15-8 15-2 15-3 15-3 15 4 15 9 15 7 15 1 15 0 15 2 15 3 15 4 15 1 15 0 15 0 15-3 15-5 15-7 15-4 15-1 15 1 15 3 15-2 15-6 15-6 15-4 15 0 15 3 15 0 15-3 15-7 15-7 15-5 15-3 15-3 15-4 15 1 15 1 15 2 15 0 15 1 15 0 15 2 15 5 15 4 15 2 15 0 15-3 15-9 15-12 15-8 15-2 15-2 15-4 15-1 15 5 15 9 15 8 15 5 15 5 15 3 15 4 15 3 15 5 15 8 15 4 15-5 15-10 15-11 15-6 15-1 15 6 15 10 15 4 15 6 15 3 15-1 15 0 15-1 15 0 15 1 15 3 15 1 15-1 15-2 15 5 15 9 15 6 15 2 15-2 15-3 15 0 15 0 15-4 15-7 15-8 15-6 15 0 15 1 15 0 15 0 15-2 15-2 15 1 15 1 15-2 15-1 15 1 15 2 15-1 15-3 15-2 15-2 15-5 15-7 15-5 15 1 15 3 15 4 15 3 15 4 15 3 15 1 15 5 15 11 15 7 15 3 15 2 15 0 15 5 15 9 15 9 15 1 15-6 15-7 15-4 15-2 15-3 15-2 15-1 15 0 15 1 15 1 15 2 15 6 15 7 15 6 15 9 15 6 15 3 15 1 15 0 15 0 15-2 15-3 15-3 15-3 15-2 15-2 15-2 15-3 15-4 15-3 15 0 15 0 15-2 15 3 15 10 15 8 15-3 15-7 15-7 15-5 15 1 15 4 15 4 15 4 15-3 15-2 15 2 15 4 15 2 15-4 15-3 15 3 15 5 15 7 15 15 15 40 15 44 15 68 15 88 15 87 15 68 15 33 15-1 15-2 15 35 15 68 15 74 15 68 15 77 15 109 15 79 15 21 15 33 15 25 15 13 15 3 15-7 15-27 15-51 15-48 15-32 15-25 15-23 15-29 15-54 15-82 15-63 15-17 15 10 15-5 15-42 15-42 15-22 15-2 15 0 15 10 15 17 15 11 15 9 15 12 15 20 15 28 15 30 15 48 15 60 15 49 15 27 15 13 15 14 15 16 15 10 15-1 15 1 15 2 15-41 15-30 15-11 15-6 15-22 15-32 15-21 15-12 15-15"/>
<path stroke="#A2142F" d="M740 338l15 152 15 0 15 0 15 0 15 0 15 123 15 0 15 74 15 93 15 140 15 0 15 74 15 0 15 24 15 0 15 31 15 0 15 0 15 0 15 0 15 96 15 50 15 50 15 55 15 63 15 0 15 113 15 0 15 0 15 280 15 0 15 126 15 0 15 0 15 54 15 130 15 0 15 0 15 0 15 0 15 32 15 5 15-20 15 0 15 0 15 0 15 10 15 0 15-8 15 0 15-7 15-32 15 0 15 0 15 0 15 0 15-8 15 0 15 0 15 9 15 0 15 10 15 0 15 0 15 0 15-37 15 0 15 0 15-40 15 0 15 0 15 0 15-3 15 0 15-1 15 0 15-1 15 16 15 0 15 0 15 15 15 6 15 7 15-10 15 0 15 0 15 1 15 0 15 0 15-4 15 0 15 10 15 0 15 8 15 0 15 0 15 9 15 10 15 0 15 0 15-4 15 0 15 15 15 0 15 0 15 5 15 0 15 0 15-31 15 0 15 0 15 0 15 0 15-4 15-4 15 3 15 0 15 14 15 0 15 0 15 0 15 7 15 0 15-2 15 0 15 2 15-9 15 0 15-13 15 0 15 2 15 0 15-3 15 0 15-9 15 0 15-6 15-25 15 0 15-6 15 0 15 0 15 0 15 12 15 18 15 0 15 0 15 0 15 4 15 0 15 0 15 0 15 8 15 0 15 0 15 0 15 3 15 0 15 0 15 0 15 0 15 0 15 0 15 0 15 10 15 0 15 0 15 0 15 11 15 0 15-1 15 0 15-8 15 0 15 0 15 0 15 0 15 9 15 0 15 0 15 3 15 0 15 0 15 3 15 0 15 0 15 2 15 0 15 0 15 0 15 3 15 0 15 0 15 0 15 0 15 20 15 0 15 1 15 0 15 0 15 0 15 0 15-6 15-7 15 0 15-2 15 0 15 0 15 5 15 0 15 0 15 2 15 0 15 0 15 0 15 0 15-4 15 0 15 5 15 0 15 0 15-14 15 0 15 0 15-20 15 0 15 17 15 0 15 0 15 208 15 0 15 0 15 0 15 0 15 241 15 0 15 132 15 0 15 0 15 235 15 113 15 0 15 0 15 112 15 0 15 0 15-42 15 0 15 0 15-7 15 0 15 0 15-89 15-1 15 13 15 0 15-26 15 0 15 0 15-11 15 0 15 0 15 0 15 0 15-57 15 0 15 0 15 0 15-19 15 0 15 0 15-30 15 0 15-10 15 0 15 0 15 14 15 0 15 47 15 0 15 0 15 0 15 0 15-9 15 0 15 43 15 0 15 49 15 0 15 0 15 0 15 0 15-41 15 0 15 0 15 13 15 0 15 0 15 0 15 9"/>
<path stroke="#0072BD" d="M740 713l15 0 15 0 15 11 15 0 15 0 15 29 15 0 15 0 15 0 15 8 15 0 15 0 15 76 15 121 15 0 15 0 15 93 15 0 15 0 15 63 15 0 15 0 15 0 15 67 15 0 15 217 15 0 15 0 15 0 15 401 15 0 15 0 15 0 15 78 15 0 15 144 15 0 15-8 15 0 15 0 15 0 15 0 15 37 15 0 15 0 15 0 15-8 15 0 15-9 15 0 15-2 15-7 15 0 15-10 15 0 15-8 15 0 15 0 15 0 15 44 15 0 15 0 15 0 15 0 15 12 15 0 15 0 15-5 15 0 15 6 15 6 15 11 15 0 15 18 15 0 15 0 15 0 15 0 15 8 15-10 15 0 15 0 15-1 15-18 15 0 15 0 15 0 15 0 15-7 15-8 15-7 15-8 15 0 15-1 15-1 15 0 15 0 15 0 15 0 15 11 15 0 15 0 15 9 15-2 15 0 15 0 15 0 15 16 15 0 15-1 15 0 15-10 15 0 15 0 15 2 15 0 15 0 15 0 15-15 15-2 15 0 15 0 15 0 15-11 15 0 15-4 15 0 15 0 15-8 15-1 15-12 15 0 15-6 15-7 15 0 15 0 15 0 15 6 15 0 15 0 15 0 15 0 15-32 15 0 15 0 15 0 15 4 15 0 15 12 15 0 15 0 15 0 15 7 15 0 15 8 15 0 15 0 15-11 15 0 15-2 15 0 15-3 15 0 15 0 15-4 15 0 15 0 15 8 15 0 15 0 15 0 15 0 15 0 15 2 15 0 15 24 15 0 15 0 15 0 15 2 15 0 15 0 15 0 15 0 15 14 15 16 15 0 15 0 15 9 15 0 15-8 15 0 15 0 15 0 15-9 15-15 15 0 15-4 15 0 15-6 15 0 15 0 15 0 15 0 15 20 15 0 15-2 15 0 15 0 15 0 15 0 15-4 15 0 15 0 15-6 15 9 15 0 15 0 15 0 15 0 15 3 15 0 15 0 15 21 15 194 15 0 15 0 15 0 15 287 15 0 15 0 15 0 15 256 15 0 15 0 15 252 15 0 15 0 15 0 15 73 15 44 15 0 15 20 15 0 15 0 15-10 15 12 15 0 15 0 15 0 15-10 15-15 15 0 15 0 15-25 15 0 15-4 15-20 15-106 15 0 15 0 15-95 15 0 15-9 15 0 15 0 15-56 15 0 15 0 15 0 15 0 15-90 15 0 15-8 15 1 15 1 15 0 15 0 15 23 15 0 15 76 15 0 15 111 15 0 15 0 15 0 15 0 15 135 15 2 15 0 15-6 15 0 15-38 15 0 15-24 15-57 15 0 15 0 15 0 15 0"/>
<path stroke="#D95319" d="M740 520l15 0 15 0 15 0 15 0 15 116 15 0 15 31 15 0 15 0 15 84 15 0 15 0 15 0 15 17 15 12 15 0 15 20 15 0 15 0 15 0 15 0 15 133 15 0 15 0 15 0 15 244 15 0 15 44 15-27 15 0 15 0 15 0 15 255 15 258 15 0 15 0 15 232 15 0 15 0 15 69 15 0 15 0 15 11 15 0 15 0 15 5 15 0 15 0 15 4 15-12 15 0 15-15 15 0 15-9 15 0 15 0 15-17 15 0 15 0 15 0 15-9 15-7 15 0 15 0 15 0 15 0 15 9 15 2 15 0 15-7 15 0 15 0 15 0 15 0 15 0 15 0 15 0 15-2 15 0 15 0 15 3 15 0 15 3 15 0 15 0 15-15 15 6 15 0 15 0 15 15 15 10 15 0 15 0 15 0 15 0 15 0 15 7 15 0 15 0 15 0 15 0 15 28 15 0 15 0 15 0 15 0 15 20 15 0 15-5 15 0 15 0 15-6 15 0 15-3 15 0 15-1 15 0 15 0 15-18 15 0 15 0 15 0 15 0 15-1 15 0 15 0 15 9 15 0 15 8 15 0 15 7 15 1 15-3 15 0 15-1 15 0 15 0 15-12 15-14 15 0 15 0 15 0 15 0 15-9 15 0 15 0 15-1 15 0 15 0 15-8 15 0 15 0 15 9 15-4 15 0 15-4 15 0 15-7 15 0 15 0 15 0 15 3 15 4 15-2 15 0 15 0 15 0 15 0 15 9 15 0 15 0 15-3 15 0 15 0 15 0 15-1 15-3 15-2 15 0 15 0 15 3 15 0 15 3 15 0 15 0 15 0 15 0 15 4 15 0 15-5 15 0 15-6 15 0 15 0 15-4 15 0 15 0 15-1 15 3 15 0 15 0 15 0 15 4 15 5 15 0 15-3 15 0 15 0 15 0 15-5 15 0 15 0 15 6 15 0 15 0 15 0 15 0 15-14 15 12 15 0 15 0 15 165 15 0 15 0 15 0 15 0 15 240 15 56 15 37 15 0 15 0 15 82 15 0 15 89 15 0 15 0 15 193 15 0 15 37 15 0 15 31 15 0 15 0 15 0 15 11 15-15 15 0 15 0 15 0 15-33 15 0 15 0 15 0 15 10 15-1 15 0 15 0 15-174 15 0 15 0 15-20 15 0 15-76 15 0 15 0 15 0 15 0 15-15 15 0 15 0 15 0 15 0 15 96 15 0 15 0 15 0 15 0 15 173 15 0 15 17 15 38 15 0 15 40 15 36 15 0 15 0 15 33 15 0 15 20 15 0 15 0 15-39 15 0 15 0 15-81 15 0 15-69 15 0 15-38 15 0"/>
<path stroke="#EDB120" d="M740 781l15 0 15 0 15 123 15 0 15 0 15 0 15 53 15 0 15 0 15 37 15 0 15 0 15 0 15 0 15 0 15 58 15 72 15 0 15 0 15 190 15 0 15 0 15 171 15 0 15 0 15 309 15 0 15 0 15 229 15 0 15 0 15 0 15 0 15 51 15 0 15 19 15 43 15 0 15 11 15 0 15 0 15 0 15 0 15-32 15-9 15-16 15 0 15 0 15-38 15 0 15 0 15-33 15 5 15 0 15 0 15 9 15-8 15-17 15 0 15 0 15-21 15 0 15 14 15 33 15 0 15 37 15 0 15 31 15 0 15 0 15 0 15 20 15 9 15 0 15-37 15 0 15 0 15-31 15 0 15 0 15-22 15 0 15 2 15 12 15 0 15 0 15 32 15 0 15 0 15 11 15 12 15 0 15 5 15-7 15-38 15 0 15 0 15 0 15 14 15 0 15 10 15 16 15 0 15 0 15 0 15 15 15 0 15 0 15 0 15 1 15 4 15 5 15 0 15 0 15 0 15-10 15 0 15-12 15 0 15 0 15-15 15 0 15 0 15-6 15 0 15 0 15-9 15 16 15 0 15 0 15-9 15 0 15 0 15-2 15 7 15 0 15 0 15-1 15 1 15-9 15 0 15-14 15 0 15 0 15 1 15 0 15 0 15-14 15 0 15-9 15 0 15 3 15 13 15 0 15 0 15 20 15 0 15-20 15 0 15 0 15 0 15-4 15 0 15 3 15 0 15 11 15 0 15 0 15 0 15 11 15 0 15 0 15 17 15 0 15 4 15-8 15 0 15 2 15 0 15-11 15 0 15-17 15 0 15 0 15 0 15 0 15 4 15 0 15 0 15 0 15 0 15 29 15 0 15 0 15 0 15 19 15 0 15 0 15-38 15 0 15 0 15 2 15 0 15 0 15-2 15-22 15 0 15-2 15 0 15 0 15 15 15 0 15 0 15 3 15 0 15 17 15 0 15 0 15 20 15 0 15 0 15 33 15 0 15 2 15 0 15 0 15-14 15 0 15 1 15 19 15 0 15 35 15 0 15 0 15 294 15 0 15 0 15 85 15 0 15 0 15 83 15 0 15 0 15 235 15 0 15 161 15 0 15 0 15 0 15 42 15 0 15-30 15 0 15-16 15 0 15 0 15 0 15 0 15 38 15 0 15 0 15 4 15 0 15-89 15 0 15 0 15-119 15 0 15-59 15 0 15 0 15-64 15-40 15 0 15 0 15-59 15 0 15 0 15-23 15 0 15 26 15 0 15 0 15 0 15 0 15 277 15 0 15 0 15 0 15 96 15 0 15 110 15 0 15 55 15 0 15-9 15 0 15-49 15 0 15 0"/>
<path stroke="#7E2F8E" d="M740 294l15 0 15 38 15 52 15 0 15 0 15 0 15 0 15 93 15 0 15 58 15 0 15 25 15 0 15 0 15 22 15 36 15 0 15 0 15 61 15 0 15 0 15 129 15 0 15 0 15 0 15 107 15 0 15 29 15 0 15-8 15 36 15 0 15 127 15 0 15 0 15 116 15 0 15 264 15 0 15 0 15 0 15 0 15 405 15 0 15 85 15 0 15 0 15 0 15-11 15 0 15 0 15 0 15 16 15 0 15 0 15 0 15 0 15-16 15 7 15 0 15 0 15 9 15 0 15 7 15 19 15 0 15 0 15 36 15 0 15 26 15 0 15 0 15 0 15 0 15 45 15 17 15 0 15 0 15-33 15 0 15 0 15 0 15-16 15 0 15 0 15-36 15 0 15 0 15 0 15 0 15-53 15 0 15 14 15 28 15 0 15 8 15 25 15 0 15 0 15 39 15 0 15 0 15 0 15 0 15 0 15 0 15-23 15 0 15 0 15-12 15 0 15-1 15 0 15 0 15 0 15 18 15 0 15 0 15 19 15 0 15-4 15-12 15 0 15 0 15 11 15 24 15 0 15 0 15 0 15 0 15 5 15 9 15 0 15 0 15 0 15 0 15-6 15 0 15 14 15 0 15 9 15-7 15 0 15-4 15 2 15-3 15 0 15 0 15-28 15-17 15 0 15-14 15 0 15 0 15-44 15 0 15 0 15-47 15 0 15-2 15 10 15 0 15-2 15 0 15-31 15 0 15 0 15 0 15 0 15 30 15 0 15 0 15-18 15 0 15-6 15 0 15 3 15 9 15 0 15 2 15 3 15 0 15 4 15 0 15 0 15 58 15 0 15 0 15 18 15 0 15 11 15 18 15 0 15 0 15 0 15 0 15-11 15-1 15 0 15 0 15 12 15 0 15-3 15 0 15 0 15 5 15 0 15 0 15-21 15 0 15-28 15 0 15-5 15 0 15-8 15 0 15 0 15 0 15 17 15 0 15 8 15 0 15 0 15 14 15 120 15 0 15 80 15 0 15 0 15 0 15 149 15 0 15 0 15 0 15 170 15 0 15 98 15 248 15 0 15 78 15 14 15 0 15 2 15 0 15-42 15 0 15 0 15-12 15 0 15 0 15 0 15 34 15 0 15 0 15 0 15 0 15-46 15 0 15-17 15 0 15 0 15-55 15 0 15 0 15-16 15-39 15 0 15 0 15-7 15 6 15 0 15 0 15 14 15 0 15 21 15 0 15 0 15 0 15 80 15 0 15 0 15 0 15 130 15 0 15 0 15 0 15 0 15 35 15 0 15 0 15 0 15 0 15-30 15 0 15 0 15-81 15 0 15 0 15 0 15 0"/>
<path stroke="#77AC30" d="M740 638l15 0 15 24 15 82 15 0 15 0 15 45 15 104 15 0 15 43 15 28 15 22 15 23 15 0 15 18 15 35 15 0 15-6 15 0 15-1 15 0 15 0 15 89 15 0 15 0 15 0 15 95 15 0 15 96 15 0 15 0 15 220 15 0 15 81 15 65 15 0 15 0 15 110 15 0 15 180 15 0 15 98 15 43 15 0 15 0 15-39 15 0 15 0 15 0 15-4 15-5 15-7 15-13 15 0 15-8 15-5 15 3 15 0 15 0 15 0 15 0 15 0 15 0 15 0 15 0 15 0 15 0 15-5 15 0 15 0 15-12 15-3 15-3 15 0 15 0 15 0 15 0 15 0 15 0 15 16 15-4 15 0 15-6 15-14 15 0 15 0 15-21 15 0 15 0 15 0 15-1 15 0 15 0 15 0 15 5 15 0 15 7 15 0 15 3 15 13 15 0 15 0 15 0 15 3 15 0 15 0 15 0 15-2 15 0 15 0 15 13 15 0 15 0 15 0 15 12 15 0 15 0 15 0 15 6 15 3 15 0 15 0 15 0 15-9 15 0 15 0 15 0 15 0 15-15 15 0 15-8 15 0 15 0 15-14 15 0 15 0 15 1 15-1 15 0 15 0 15 3 15 0 15 0 15 0 15 0 15 27 15 0 15 0 15 0 15 2 15 2 15 0 15 10 15 0 15 7 15 0 15 3 15-11 15 0 15 0 15-8 15-1 15 0 15-4 15 0 15 0 15 0 15 0 15-2 15 0 15 0 15 0 15 0 15 11 15 0 15-5 15 0 15-7 15 0 15-5 15-2 15-2 15 4 15 0 15 0 15 8 15 0 15 0 15 0 15 0 15 0 15 0 15 4 15 0 15 10 15 0 15 0 15 0 15 0 15 10 15 5 15 0 15 0 15 0 15 0 15-13 15 0 15 0 15-19 15 0 15 0 15 0 15 0 15-2 15 0 15 0 15 1 15 0 15-1 15-5 15 0 15 0 15-18 15 0 15 0 15 26 15 0 15 0 15 0 15 201 15 0 15 213 15 0 15 0 15 106 15 7 15 107 15 0 15 236 15 0 15 0 15 0 15 30 15 0 15 0 15 166 15 0 15-12 15 0 15 0 15-16 15 18 15 0 15 33 15 41 15 0 15-26 15 0 15 0 15-16 15-64 15 0 15 0 15-76 15-11 15-106 15 0 15 0 15 0 15 0 15-117 15 0 15-22 15-44 15 0 15-38 15 12 15 0 15 0 15 0 15 0 15 44 15 46 15 0 15 0 15 57 15 0 15 0 15 174 15 0 15 74 15 0 15 0 15 0 15 43 15 0 15 0 15 0 15-45 15 0 15 0"/>
<path stroke="#4DBEEE" d="M740 464l15 0 15 0 15 85 15 0 15 0 15 107 15 64 15 0 15 0 15 72 15 81 15 0 15 15 15 0 15 0 15-9 15 0 15 0 15 0 15 42 15 0 15 12 15 0 15 0 15 0 15 85 15 80 15 0 15 0 15 73 15 0 15 0 15 0 15 0 15 525 15 0 15 0 15 0 15 119 15 0 15 207 15 0 15 0 15 90 15 0 15 31 15 0 15 0 15 0 15 1 15 0 15-18 15 0 15-20 15 0 15 0 15 0 15 0 15-26 15 0 15 0 15 0 15-12 15 0 15-3 15 0 15 6 15 0 15 0 15 2 15 4 15 0 15 0 15 0 15-7 15 0 15 0 15 0 15 0 15-13 15-4 15 0 15 0 15 0 15 9 15 0 15 11 15 0 15 30 15 0 15 0 15 0 15-12 15 0 15 12 15 0 15 0 15 6 15 0 15 0 15-9 15 7 15 0 15 0 15 0 15 0 15-13 15 0 15-17 15 0 15-7 15 2 15 4 15-4 15 0 15 0 15-9 15 0 15 7 15 0 15-7 15 0 15 0 15 0 15 0 15 1 15 0 15 0 15 15 15 0 15 2 15 0 15-6 15 0 15-1 15-11 15 0 15 0 15 0 15 0 15-9 15 0 15 0 15 0 15 0 15 7 15 0 15 0 15 0 15-16 15 0 15-3 15 0 15 4 15 0 15 0 15 0 15 0 15 11 15 0 15 0 15 0 15 0 15 0 15 3 15 0 15 0 15 0 15 15 15 3 15-8 15 0 15 0 15 0 15-11 15 0 15 0 15-9 15-3 15-10 15 0 15 0 15 0 15 0 15-7 15 0 15 0 15 3 15 0 15 0 15 0 15 0 15 8 15 0 15 0 15-2 15 0 15 0 15 0 15 0 15 20 15 0 15 0 15 0 15 2 15 0 15-4 15 0 15 0 15 0 15 0 15 0 15 0 15 8 15 0 15 0 15 4 15 0 15 3 15 5 15 0 15 0 15 0 15 0 15-2 15 0 15 10 15 0 15 0 15 0 15 18 15 0 15 166 15 0 15 0 15 289 15 0 15 0 15 0 15 390 15 0 15 0 15 0 15 0 15-49 15 0 15 53 15 183 15 0 15 0 15 0 15 0 15-30 15 0 15 0 15-11 15-1 15 0 15 0 15 0 15 9 15 0 15 0 15 0 15 0 15-100 15 0 15 0 15-34 15 0 15 0 15 4 15 0 15 0 15 0 15 24 15 0 15 1 15 0 15-1 15 2 15 4 15 0 15 0 15 0 15 0 15 0 15 0 15 0 15 2 15 0 15 0 15 51 15 0 15 47 15 0 15 0 15 0 15 0 15-1"/>
<path stroke="#A2142F" d="M740 691l15 40 15 57 15 57 15 46 15 28 15 6 15-4 15-1 15 18 15 26 15 18 15 5 15 1 15 9 15 43 15 48 15 23 15 27 15 64 15 93 15 100 15 92 15 75 15 38 15 27 15 58 15 79 15 46 15 11 15 39 15 61 15 35 15-4 15-8 15-3 15 3 15 4 15 0 15-5 15-3 15 2 15 0 15-8 15-10 15-3 15 2 15 1 15-5 15-7 15-2 15 4 15 1 15-7 15-5 15 5 15 8 15 3 15 2 15 5 15 6 15 4 15 1 15 4 15 6 15 2 15 2 15 7 15 5 15-1 15-2 15 0 15 4 15 1 15-7 15-10 15-5 15 1 15 0 15 0 15 2 15 1 15-1 15-7 15-7 15-1 15 4 15 0 15-3 15 2 15 7 15 9 15 10 15 9 15 6 15 1 15-5 15-5 15-3 15-3 15-2 15 3 15 2 15-2 15-2 15-1 15 2 15 7 15 8 15 5 15 6 15 6 15 6 15 6 15 3 15-3 15-4 15-3 15-11 15-6 15-4 15-4 15-5 15-6 15-7 15-7 15-1 15 3 15 8 15 7 15 4 15 6 15 9 15 12 15 10 15 6 15-3 15-9 15-7 15-5 15-2 15 2 15 2 15-2 15-2 15-3 15-5 15-3 15 3 15 12 15 15 15 9 15 6 15 5 15 4 15 5 15 2 15-3 15-1 15 1 15 2 15 1 15 1 15 1 15-1 15-6 15-11 15-6 15 3 15 4 15 3 15 7 15 5 15-2 15-3 15-1 15-3 15-8 15-8 15-4 15 0 15-2 15-1 15 0 15 1 15 0 15-1 15-1 15 0 15 1 15 1 15-1 15-3 15-3 15-5 15-8 15-5 15 4 15 4 15-5 15-7 15-3 15 0 15 1 15-1 15 0 15-2 15-2 15 0 15 5 15 6 15 0 15-1 15 0 15 4 15 10 15 7 15-1 15-6 15 0 15 2 15 8 15 5 15 5 15 7 15 55 15 41 15 24 15 1 15-6 15 35 15 107 15 139 15 108 15 65 15 49 15 33 15 10 15 16 15 70 15 130 15 69 15 18 15 19 15 19 15 16 15 20 15 23 15 8 15-10 15-22 15-16 15-8 15-9 15-7 15-2 15-5 15-12 15-40 15-65 15-62 15-38 15-11 15-1 15-5 15-13 15-18 15-9 15 20 15 19 15 11 15 18 15 24 15 8 15 4 15 13 15 28 15 40 15 34 15 18 15-2 15-12 15 4 15 25 15 37 15 36 15 26 15 21 15 21 15 6 15-10 15-22 15-35 15-49 15-39 15-25 15-15 15-11 15-16 15-25 15-32"/>
<path stroke="#0072BD" d="M740 398l15 0 15 90 15 0 15 0 15 158 15 0 15 23 15 0 15-38 15 0 15 0 15 31 15 0 15 0 15 0 15 0 15 105 15 0 15 0 15 0 15 0 15 72 15 0 15 0 15 0 15 0 15 89 15 46 15 0 15 40 15 0 15 0 15 0 15 0 15 149 15 0 15 286 15 0 15 0 15 0 15 207 15 221 15 0 15 88 15 58 15 33 15 0 15 0 15 0 15 0 15-15 15 0 15 0 15 0 15-24 15 0 15-13 15 0 15 0 15 0 15 0 15-5 15 0 15 0 15 0 15 17 15 0 15 0 15 22 15 0 15 0 15 0 15 4 15 2 15 0 15 0 15-11 15 0 15 0 15 0 15 2 15 0 15 0 15-2 15 0 15 0 15 0 15 0 15-21 15-1 15 0 15 0 15-6 15-3 15 0 15 0 15 5 15 0 15 0 15 0 15-15 15 0 15-6 15-14 15 0 15 0 15-9 15 0 15 8 15 6 15 3 15 13 15 0 15 0 15 0 15 0 15 22 15 0 15 0 15-7 15 0 15-2 15 0 15-3 15 0 15 0 15 7 15 0 15 0 15 12 15 4 15 0 15 5 15 0 15 0 15-1 15 0 15-5 15 0 15 0 15 0 15-17 15 0 15 0 15-11 15 0 15 0 15-16 15-6 15 0 15 0 15 22 15 0 15 0 15 7 15 0 15-1 15-4 15-6 15 0 15 0 15 0 15 0 15 4 15 0 15 0 15-2 15 0 15 4 15 6 15 0 15 12 15 0 15 0 15 0 15-2 15-3 15 0 15-21 15 0 15 0 15 0 15 0 15-1 15 0 15 0 15 4 15 4 15 0 15 0 15-7 15-1 15 5 15 0 15 4 15 0 15 0 15 0 15-1 15-2 15 0 15-2 15-1 15 2 15 2 15 0 15 0 15 0 15 0 15 0 15 5 15 5 15 0 15 0 15 0 15 0 15 8 15 0 15 0 15 14 15 0 15 0 15 0 15 9 15 19 15 0 15 0 15 8 15 97 15 0 15 0 15 308 15 0 15 156 15 0 15 50 15 0 15 53 15 129 15 0 15 0 15 127 15 0 15 1 15 0 15 43 15 0 15 28 15 50 15 0 15-15 15-70 15 0 15 0 15-49 15 0 15 0 15-90 15 0 15 0 15-159 15 0 15 0 15 0 15 6 15 13 15 11 15 0 15 0 15 3 15 0 15 0 15 18 15 0 15 16 15 0 15 0 15 0 15 23 15-7 15 0 15 66 15 0 15 0 15 0 15 0 15 59 15 0 15 42 15 0 15 0 15 0 15-18 15 0 15 6 15 0 15-45 15 0 15 0 15 0"/>
<path stroke="#D95319" d="M740 637l15 0 15 0 15 0 15 0 15 86 15 0 15 0 15 0 15 54 15 12 15-33 15 0 15 6 15 36 15 0 15 0 15 40 15 7 15 0 15 0 15 104 15 0 15 0 15 143 15 0 15 0 15 0 15 0 15 67 15 0 15 0 15 494 15 0 15 0 15 0 15 212 15 0 15 0 15 0 15 0 15 142 15 0 15 0 15-22 15-15 15 0 15 0 15 3 15 0 15 0 15 13 15 5 15 0 15-4 15 5 15 0 15 0 15 0 15 0 15-6 15 0 15 0 15-5 15 0 15-17 15 0 15 0 15-18 15 0 15-2 15 0 15 0 15-24 15-5 15-1 15 2 15 0 15 22 15 0 15 0 15 0 15 3 15 0 15 0 15 0 15 0 15 13 15 0 15 22 15 0 15 27 15 0 15 0 15-12 15 0 15 0 15 0 15 0 15-39 15 0 15-22 15 0 15 0 15 0 15 0 15 27 15 0 15 8 15 0 15 4 15 0 15 0 15 19 15 0 15 0 15 4 15 0 15-3 15 0 15 0 15 0 15 0 15 0 15 0 15-12 15-8 15 0 15 0 15 0 15 0 15 6 15 0 15 0 15-1 15 0 15 0 15 30 15 0 15 24 15 0 15 0 15 0 15-10 15 0 15 0 15 0 15 0 15-12 15 0 15 0 15-5 15 0 15-8 15 0 15 6 15 0 15 8 15 6 15 0 15 0 15-6 15 0 15 0 15-10 15 0 15 0 15 0 15 0 15-5 15-6 15 0 15 4 15 0 15 0 15 10 15 0 15 0 15 9 15 0 15 1 15 1 15 0 15 1 15 1 15 0 15 0 15-8 15 0 15 1 15 0 15 0 15 5 15 15 15 0 15-5 15 0 15 0 15 0 15-14 15 0 15-7 15 0 15 0 15 15 15 0 15 7 15 0 15 0 15-5 15 0 15 1 15-2 15 0 15 0 15 0 15-1 15 0 15 0 15 6 15 0 15 0 15 20 15 0 15 0 15 0 15-5 15-3 15 0 15 0 15-13 15 0 15 0 15 68 15 0 15 89 15 0 15 0 15 125 15 0 15 0 15 0 15 90 15 0 15 0 15 16 15 165 15 0 15 110 15 167 15 0 15 0 15 0 15-14 15 0 15 16 15 68 15 0 15 0 15 0 15 22 15 0 15 0 15 0 15 0 15-120 15 0 15 0 15 0 15 0 15-87 15 0 15-8 15 29 15 0 15-3 15 0 15-43 15 0 15 0 15-71 15-62 15 0 15 0 15-5 15 0 15 0 15 0 15 0 15 81 15 0 15 0 15 119 15 0 15 0 15 197 15 0 15 0 15 0 15 5 15 0"/>
<path stroke="#EDB120" d="M740 592l15 20 15 25 15 25 15 10 15 9 15 38 15 63 15 44 15 3 15-9 15 15 15 43 15 54 15 62 15 63 15 59 15 48 15 28 15 26 15 54 15 55 15 79 15 71 15 66 15 58 15 55 15 59 15 46 15 40 15 69 15 96 15 85 15 59 15 4 15 5 15 1 15-9 15-4 15-6 15-9 15-12 15-9 15-3 15-2 15-1 15-1 15 0 15 3 15-1 15-6 15-2 15 10 15 12 15 8 15 3 15 3 15 0 15-2 15-2 15-2 15-5 15-6 15-3 15-4 15-9 15-13 15-7 15-1 15-2 15-5 15 0 15 3 15 2 15-1 15 0 15 1 15-2 15-1 15 1 15 3 15 4 15 5 15 6 15 5 15 4 15 1 15-2 15-3 15-2 15-5 15-8 15-6 15-7 15-2 15 5 15 5 15 0 15-7 15-12 15-7 15 3 15 11 15 13 15 4 15-4 15-1 15 5 15 5 15 2 15 1 15 5 15 8 15 6 15 1 15-1 15 0 15 2 15-5 15-1 15 1 15 3 15-2 15-5 15-6 15-5 15-3 15-5 15-6 15-5 15-1 15 3 15 5 15 4 15 3 15 4 15 1 15-3 15-4 15 0 15 1 15 1 15 2 15 2 15-2 15-5 15-1 15 3 15 1 15-1 15-7 15-6 15-2 15 1 15 4 15 3 15-1 15-4 15 0 15 0 15-1 15-3 15-4 15-3 15-5 15-3 15-1 15 2 15 4 15 5 15 3 15 1 15-1 15-2 15-1 15-1 15 0 15 0 15-4 15-4 15-1 15 4 15 5 15 2 15 1 15 2 15-1 15-4 15-7 15-5 15-3 15-2 15-2 15-2 15-3 15-3 15 2 15 6 15 5 15 4 15 1 15-1 15 1 15 4 15 1 15-4 15-3 15-1 15-3 15-1 15 3 15 4 15 4 15 1 15 1 15 6 15 9 15 6 15 0 15 2 15 9 15 8 15 4 15 0 15 0 15 3 15 0 15 2 15 8 15 13 15 9 15 0 15-10 15-6 15 5 15 4 15 42 15 40 15 62 15 93 15 89 15 61 15 61 15 83 15 86 15 48 15 19 15 42 15 91 15 99 15 54 15 26 15 47 15 17 15 5 15 17 15 28 15 3 15-6 15 4 15 7 15 3 15-3 15-16 15-33 15-46 15-38 15-41 15-84 15-97 15-68 15-27 15-6 15-6 15-22 15-28 15-8 15 5 15 13 15 26 15 26 15 19 15 15 15 23 15 45 15 45 15 35 15 35 15 33 15 25 15 23 15 20 15 6 15-7 15-4 15 15 15 26 15 16 15-4 15-14 15-14"/>
<path stroke="#7E2F8E" d="M740 1016l15 0 15 0 15 0 15 123 15 0 15 0 15 0 15 0 15 162 15 0 15 282 15 0 15 0 15 215 15 0 15 0 15 0 15 208 15 0 15 0 15 0 15-11 15 0 15 21 15 0 15 0 15 43 15 19 15 0 15-8 15 0 15 0 15-21 15 0 15 30 15 0 15 0 15 2 15-2 15 0 15 14 15 0 15 0 15 1 15 12 15 0 15 0 15-5 15 0 15 0 15 65 15 0 15 0 15-1 15 0 15 0 15 0 15 0 15-29 15-11 15 0 15-15 15 0 15 0 15 0 15-25 15 0 15-10 15 0 15 0 15-5 15 0 15 0 15 0 15 0 15-13 15 0 15 0 15-1 15 1 15 0 15-24 15 0 15 0 15 0 15 0 15-31 15 0 15 0 15 0 15 0 15-2 15 0 15 0 15 0 15-24 15 0 15 0 15 12 15 0 15 0 15 43 15 0 15 0 15 30 15 0 15 0 15 0 15 2 15-20 15 0 15 0 15-17 15 0 15 0 15 15 15 0 15 14 15 0 15 0 15-6 15 0 15 0 15 15 15 0 15 0 15 0 15-22 15 0 15 8 15 0 15 0 15 0 15 0 15-12 15 0 15 0 15 0 15 2 15 14 15 0 15 4 15 8 15 0 15 14 15 0 15 0 15 0 15-2 15 0 15 0 15-12 15 10 15 0 15 0 15 0 15 0 15-24 15 0 15-18 15 0 15-28 15 0 15 0 15 0 15 0 15 7 15 4 15 2 15 0 15 0 15 1 15 0 15 0 15-2 15 0 15 0 15-19 15 0 15-25 15 0 15-8 15 0 15 0 15-2 15 8 15 0 15 13 15 0 15 0 15 0 15 28 15 7 15 1 15 0 15 24 15 0 15 0 15 0 15 3 15 0 15 0 15 0 15 0 15-4 15-10 15 0 15 0 15 0 15 0 15-9 15 0 15 5 15 0 15-3 15 0 15 18 15 0 15 0 15 0 15 1 15 2 15 0 15 0 15-15 15 0 15 0 15 0 15 0 15 207 15 0 15 125 15 0 15 0 15 0 15 0 15 404 15 0 15 0 15 0 15 0 15 61 15 100 15 0 15 7 15 0 15 0 15 13 15 0 15 0 15 0 15 0 15 7 15 0 15 0 15 0 15 0 15-26 15-29 15 0 15 0 15-138 15 0 15-104 15 0 15-61 15 0 15 0 15-24 15-1 15 0 15 0 15 13 15 0 15 0 15 112 15 0 15 68 15 80 15 0 15 0 15 10 15 0 15 86 15 0 15 0 15 0 15 23 15 44 15 0 15 0 15-35 15 0 15 0 15-176 15 0 15 0 15 0 15 0 15-68"/>
<path stroke="#77AC30" d="M740 503l15 0 15 69 15 0 15 0 15 0 15 217 15 0 15 0 15 0 15 97 15 0 15 31 15 0 15 0 15 0 15 0 15 230 15 0 15 0 15 249 15 0 15 0 15 0 15 294 15 0 15 0 15 0 15 311 15 0 15 21 15 0 15-12 15 0 15 6 15 0 15-2 15-9 15 0 15 0 15 4 15 10 15 0 15 0 15 0 15 0 15-13 15-4 15 0 15 9 15 0 15 4 15-2 15 3 15 0 15 0 15-13 15 0 15 0 15 0 15 0 15-11 15 0 15 0 15 0 15 0 15 8 15 0 15 0 15 0 15 19 15 0 15-3 15 0 15 9 15 0 15 0 15-11 15 0 15 0 15 0 15-10 15 0 15-4 15 0 15 0 15 4 15-6 15 0 15 0 15 0 15 0 15-26 15 0 15 0 15 0 15 5 15 0 15 2 15 0 15-6 15 0 15 0 15 0 15 0 15 6 15 0 15 0 15 0 15 0 15 37 15 0 15 0 15 0 15 0 15 0 15-12 15 0 15-13 15 0 15 7 15 9 15 0 15 0 15-8 15 0 15 6 15 4 15 0 15 0 15 0 15 9 15 0 15-2 15 0 15 2 15 2 15 0 15 1 15 1 15 0 15-5 15 0 15 0 15 0 15 15 15 0 15 3 15 6 15 0 15 0 15 0 15-20 15 0 15-2 15-3 15-2 15-2 15 0 15 0 15 4 15-11 15 0 15 0 15 2 15 0 15 0 15 0 15 0 15 30 15 0 15 7 15 1 15-6 15 0 15 0 15 4 15 0 15 0 15-9 15 0 15 0 15 1 15-3 15 0 15 0 15-5 15 0 15 0 15-4 15 0 15-6 15-5 15-5 15 0 15-11 15 0 15 0 15-9 15 0 15 0 15 21 15 0 15 0 15 0 15 0 15-3 15 0 15 0 15 0 15 0 15-9 15 0 15 0 15 10 15 0 15 0 15 0 15 0 15-6 15 0 15 0 15 0 15 198 15 0 15 0 15 76 15 0 15 0 15 140 15 0 15 0 15 114 15 0 15 0 15 0 15 213 15 0 15 0 15 0 15 0 15 184 15 45 15 0 15 0 15 0 15 0 15 32 15 0 15 0 15 0 15 0 15 0 15-76 15 0 15 0 15 0 15-66 15 0 15-140 15 0 15 0 15-108 15 0 15 0 15-21 15 0 15 0 15 0 15 0 15 82 15 0 15 0 15 0 15 0 15 199 15 0 15 44 15 31 15-5 15 0 15 8 15 0 15 0 15 36 15 0 15 43 15 0 15 15 15 0 15-12 15 0 15-72 15 0 15 0 15-188 15 0 15 0 15-99 15 0 15 0"/>
<path stroke="#4DBEEE" d="M740 529l15 178 15 0 15 128 15 0 15 0 15 0 15 41 15 20 15 0 15 23 15 0 15 0 15 139 15 0 15 92 15 0 15 0 15 47 15 33 15 0 15 0 15 177 15 0 15 66 15 337 15 0 15 0 15 0 15 61 15 0 15 120 15 0 15 0 15 92 15 0 15 0 15 58 15 0 15 14 15 0 15 10 15 0 15 36 15 0 15 0 15 0 15 0 15 29 15 0 15 0 15 0 15 0 15-6 15 18 15 0 15 11 15 0 15 0 15 0 15 0 15-19 15 0 15 0 15 8 15 0 15-5 15 0 15 0 15 0 15 0 15 1 15-19 15 0 15-65 15 0 15 0 15 0 15 0 15 32 15-11 15-23 15 0 15 0 15 0 15-13 15 0 15 0 15 0 15 7 15 0 15 0 15-5 15 0 15 0 15 0 15-32 15 0 15-7 15 0 15 0 15 0 15-19 15 0 15 0 15-13 15 0 15 2 15-16 15 0 15 0 15-28 15 0 15 11 15 0 15-18 15 0 15 0 15-23 15 15 15 0 15-19 15 0 15 0 15 0 15 0 15 1 15 0 15-1 15 0 15 0 15 0 15 2 15 0 15 4 15 0 15 0 15 19 15 0 15 11 15 0 15 0 15-6 15 0 15 0 15 25 15 0 15 0 15 0 15 1 15 0 15 0 15 0 15 0 15-8 15 0 15 7 15 23 15 0 15-1 15 0 15 0 15 0 15 23 15 0 15 0 15 0 15 0 15-9 15 0 15 0 15 0 15 0 15 7 15 0 15 0 15 0 15 0 15 26 15 22 15 0 15 0 15-5 15-5 15 0 15 22 15 0 15 0 15 9 15-2 15-9 15 0 15 0 15-6 15 0 15 0 15 0 15 0 15-57 15 0 15 0 15 0 15 0 15-4 15 0 15 0 15 0 15 0 15-8 15 0 15-2 15 0 15-1 15 0 15-11 15 0 15-7 15 0 15 0 15 0 15 36 15 0 15 0 15 0 15 0 15 21 15 0 15 0 15 0 15 0 15 291 15 0 15 0 15 0 15 360 15 0 15 0 15 0 15 0 15 327 15 0 15 0 15 0 15 0 15 41 15 0 15 0 15 0 15 64 15 0 15-67 15 0 15-21 15 16 15 0 15 0 15-57 15 0 15 0 15-3 15-6 15 25 15 0 15 0 15 13 15 0 15-19 15 0 15-55 15 0 15 0 15-91 15 0 15 0 15-80 15 0 15-87 15 0 15 0 15-26 15 0 15 0 15 4 15 9 15 53 15 0 15 0 15 0 15 30 15 31 15 135 15 0 15 0 15 0 15 65 15 12 15-2 15 0 15 0 15 5 15 0"/>
<path stroke="#A2142F" d="M740 844l15 0 15 62 15 0 15 56 15 0 15 59 15 0 15 84 15 0 15 0 15 0 15 0 15 29 15 0 15 0 15 0 15 0 15 205 15 159 15 0 15 0 15 0 15 0 15 325 15 0 15 83 15 0 15 0 15 0 15 0 15 106 15 22 15 0 15 0 15 0 15 0 15 6 15 0 15 0 15 0 15 0 15 8 15 0 15 1 15-23 15 0 15 0 15 0 15 0 15 8 15-2 15-3 15 0 15 0 15 1 15 0 15 0 15 19 15 0 15 0 15 0 15 0 15-10 15 5 15 0 15 5 15 6 15-6 15 0 15 0 15 0 15 1 15-3 15 0 15 0 15 0 15-8 15 0 15 0 15 1 15 0 15 0 15 0 15-8 15-5 15 0 15 0 15 16 15-5 15 0 15-2 15 13 15 0 15 0 15 5 15-26 15 0 15 0 15 0 15-13 15-3 15 0 15-2 15 0 15 0 15 15 15 0 15 0 15 0 15 15 15-3 15 0 15 6 15 0 15 0 15-1 15-4 15 0 15 0 15 17 15 0 15 0 15 0 15-11 15 0 15 0 15 0 15-12 15 0 15 0 15 0 15 16 15 0 15 0 15 4 15 0 15 0 15 20 15 0 15 0 15 0 15 2 15 0 15 0 15 0 15 0 15-1 15 0 15 0 15-1 15 0 15 0 15 0 15 4 15-6 15 0 15-11 15 0 15 0 15 0 15 0 15 16 15 0 15-8 15 0 15 0 15-4 15 0 15-3 15 0 15-7 15-3 15 0 15 8 15 0 15 0 15-3 15 0 15-5 15-14 15 0 15-6 15 0 15 0 15 0 15 0 15 15 15 6 15 0 15 0 15 0 15-2 15 0 15 0 15 0 15 3 15 0 15 0 15 0 15 0 15-4 15 0 15 0 15 9 15 0 15-3 15-18 15 0 15 0 15 0 15 9 15 0 15 0 15 0 15 5 15 0 15 2 15 4 15 0 15 0 15 7 15 0 15 3 15 0 15-10 15 0 15 0 15 0 15 0 15 38 15 0 15 94 15 0 15 153 15 0 15 0 15 190 15 0 15 0 15 13 15 51 15 0 15 0 15 277 15 0 15 143 15 0 15 11 15 0 15-17 15 0 15 1 15-26 15 0 15 0 15 0 15 24 15 27 15 0 15 0 15 0 15 0 15-50 15 0 15-1 15 0 15 0 15-72 15 0 15-17 15-62 15 0 15 0 15-12 15 0 15 0 15 17 15 33 15 0 15 0 15 0 15 0 15 33 15 0 15 0 15 24 15 0 15 0 15 43 15 28 15 0 15 116 15 0 15 0 15 0 15 18 15 0 15 0 15 0 15-16"/>
<path stroke="#0072BD" d="M740 192l15 42 15 59 15 65 15 51 15 42 15 34 15 41 15 75 15 102 15 84 15 40 15 14 15 17 15 22 15 12 15 3 15 0 15-1 15-3 15 12 15 35 15 41 15 30 15 24 15 40 15 46 15 26 15 9 15 4 15 17 15 51 15 29 15 5 15 14 15 44 15 106 15 109 15 107 15 95 15 99 15 127 15 109 15 44 15-6 15-5 15 7 15 11 15 8 15-15 15-5 15 7 15 5 15 11 15 20 15 10 15-3 15-9 15-7 15 6 15 11 15 7 15 4 15 0 15-1 15 11 15 15 15 6 15-1 15 5 15 4 15-2 15-12 15-21 15-12 15 0 15 4 15-4 15-8 15-1 15 5 15 2 15 0 15-7 15-10 15-15 15-23 15-23 15-16 15-2 15 2 15-1 15 5 15 18 15 16 15 10 15 4 15-1 15-1 15 7 15 10 15 3 15 1 15 7 15 6 15-11 15-25 15-20 15-9 15-10 15-21 15-17 15-4 15 2 15-4 15-8 15 3 15 15 15 16 15 17 15 4 15-1 15 11 15 15 15 7 15 4 15 5 15 2 15-10 15-19 15-14 15-1 15 5 15-1 15-8 15-6 15 1 15 1 15-3 15-6 15 6 15 18 15 16 15 5 15-4 15-4 15-3 15-7 15-13 15-16 15-14 15-2 15 10 15 7 15-1 15 2 15 4 15 7 15 13 15 16 15 9 15 0 15-5 15 0 15 1 15 2 15 4 15 2 15 0 15-6 15-12 15-12 15-5 15 3 15 4 15 5 15 3 15-2 15-6 15-7 15-3 15 2 15 0 15-6 15-2 15 2 15 0 15-1 15 0 15-4 15-12 15-8 15 5 15 10 15 1 15-6 15-5 15-5 15-3 15 3 15 4 15 8 15 13 15 11 15-2 15-5 15 5 15 10 15 6 15 1 15-2 15-4 15-5 15 0 15-4 15-14 15-21 15-15 15-3 15 1 15-4 15-7 15-4 15 5 15-1 15-4 15-2 15 1 15 0 15 2 15 12 15 8 15 58 15 54 15 54 15 64 15 69 15 66 15 83 15 110 15 96 15 55 15 47 15 67 15 67 15 49 15 32 15 22 15 31 15 32 15 8 15 14 15 17 15 8 15 1 15 10 15 18 15 15 15 4 15-23 15-31 15-16 15-3 15 2 15-4 15-36 15-39 15-14 15-6 15-17 15-20 15-10 15-9 15-9 15-16 15-18 15-22 15-21 15-15 15-9 15-8 15-2 15 10 15 17 15 12 15 7 15 10 15 24 15 43 15 56 15 47 15 24 15 2 15-11 15-8 15 6 15 23 15 26 15 11 15-6 15-15"/>
<path stroke="#D95319" d="M740 521l15 6 15 12 15 27 15 31 15 21 15 11 15 13 15 24 15 29 15 22 15 28 15 46 15 50 15 43 15 24 15-9 15-27 15-14 15 20 15 45 15 41 15 29 15 20 15 29 15 51 15 88 15 76 15 58 15 49 15 72 15 79 15 64 15 58 15 69 15 69 15 55 15 15 15-22 15 1 15 80 15 123 15 25 15 13 15-1 15-2 15-2 15-4 15-5 15-2 15-1 15-3 15-4 15-3 15-4 15 0 15 1 15-2 15 0 15 3 15 0 15-6 15-5 15-3 15 2 15 3 15-2 15-4 15-5 15-1 15 5 15 7 15 5 15 4 15 4 15 0 15-2 15-2 15-2 15 1 15 2 15-1 15-3 15 1 15 2 15-1 15-1 15 4 15 9 15 7 15 4 15 3 15-3 15-12 15-13 15-2 15 4 15 1 15-4 15-5 15-4 15-5 15-7 15-7 15-5 15 1 15 8 15 11 15 8 15-1 15-5 15 2 15 7 15 5 15-3 15-8 15-9 15-9 15-12 15-5 15 1 15 3 15 3 15 2 15 0 15 3 15 7 15 6 15 1 15-2 15-5 15-2 15 1 15 1 15 2 15 4 15 3 15-3 15-4 15-1 15 4 15 7 15 4 15-3 15-5 15-5 15-3 15 0 15 3 15 5 15 4 15 3 15 1 15 4 15 7 15 7 15 0 15 0 15 4 15 4 15 2 15 1 15 1 15-2 15-5 15-2 15-3 15-2 15 0 15-1 15-2 15 0 15 2 15 2 15 2 15 5 15 6 15 4 15 2 15 2 15 1 15-3 15-4 15-5 15-2 15 4 15 5 15-3 15-5 15-2 15-3 15-2 15 2 15 8 15 7 15 3 15 4 15 5 15 1 15-6 15-8 15-4 15-4 15-7 15-4 15-1 15-1 15-2 15-5 15-3 15 0 15 3 15 4 15 0 15-1 15-2 15-3 15 0 15 3 15 6 15 6 15 5 15 0 15-3 15 2 15 3 15-1 15-3 15-3 15-2 15 2 15 11 15 50 15 62 15 35 15 29 15 46 15 61 15 60 15 49 15 48 15 56 15 67 15 88 15 108 15 96 15 47 15 6 15 28 15 93 15 55 15 5 15-16 15 3 15 10 15-2 15-9 15-10 15-8 15-2 15 4 15 1 15 0 15 1 15-10 15-11 15-5 15-15 15-30 15-33 15-27 15-22 15-10 15 6 15 13 15 7 15-5 15-7 15 2 15-9 15-19 15-5 15 2 15-6 15-19 15-10 15 8 15 26 15 15 15-1 15 9 15 26 15 35 15 22 15-1 15-6 15 14 15 40 15 54 15 38 15 22"/>
<path stroke="#EDB120" d="M740 1018l15 0 15 0 15 129 15 0 15 0 15 277 15 0 15 216 15 0 15-36 15 0 15 0 15 76 15 0 15 174 15 0 15 76 15 144 15 0 15 0 15 0 15 0 15 17 15-1 15 0 15 0 15 0 15-1 15 0 15 0 15-14 15 0 15-6 15 0 15 7 15 0 15 0 15 0 15-25 15-6 15 0 15-13 15 0 15-2 15 0 15 0 15 0 15 0 15 18 15-1 15 0 15-1 15 0 15-14 15 0 15 0 15 14 15 0 15-1 15 0 15-4 15 0 15 0 15-8 15 0 15 0 15 0 15 0 15 0 15 0 15 0 15 4 15 0 15 0 15-3 15 0 15 0 15 5 15 0 15 0 15 0 15-8 15 0 15 0 15 0 15 0 15-16 15 0 15 0 15 0 15-2 15 0 15 0 15 9 15 0 15 0 15 0 15 8 15 8 15 0 15 0 15 0 15 0 15-1 15 5 15 5 15 0 15 0 15 0 15 0 15 2 15 3 15 0 15 0 15 0 15 0 15 7 15 0 15 7 15 0 15 0 15 0 15 7 15 0 15 0 15-18 15 0 15-6 15 0 15 0 15 0 15 0 15-5 15 0 15 5 15 0 15 9 15 0 15 10 15 0 15 0 15 3 15 11 15 0 15 0 15 12 15-2 15 0 15 0 15-11 15 0 15 0 15-11 15-13 15 0 15 0 15 0 15 0 15-3 15 0 15 0 15-8 15 0 15 0 15 2 15 0 15 0 15-2 15 4 15 0 15 0 15-14 15 0 15 0 15 0 15 0 15 8 15 0 15 0 15 0 15 16 15 0 15 0 15 0 15 2 15 0 15 0 15-1 15-1 15-1 15-2 15-5 15 0 15 0 15 6 15 0 15 0 15 0 15 0 15 1 15 0 15 0 15 0 15-3 15-3 15-7 15 0 15 0 15-2 15-3 15 0 15 0 15 10 15 0 15 0 15 3 15 0 15 0 15 15 15 0 15 0 15 0 15-16 15 0 15 0 15-9 15 0 15-10 15 0 15 0 15 103 15 0 15 0 15 0 15 0 15 365 15 0 15 0 15 130 15 0 15 0 15 0 15 82 15 0 15 0 15 169 15 68 15 39 15 0 15-7 15 0 15 0 15-26 15 3 15 0 15 0 15-21 15 0 15 0 15 5 15 0 15 0 15-9 15-39 15 0 15 0 15-110 15 0 15-38 15 0 15 0 15 0 15 0 15 24 15 0 15 0 15 0 15-28 15-70 15 0 15-28 15 0 15 0 15 0 15 51 15 37 15 51 15 142 15 0 15 0 15 0 15 0 15 53 15 6 15 0 15 0 15 0 15 0 15-18 15 0"/>
<path stroke="#7E2F8E" d="M740 442l15 13 15 11 15 31 15 60 15 65 15 38 15 21 15 23 15 13 15-2 15 0 15 2 15-6 15-16 15-10 15 8 15 27 15 29 15 29 15 46 15 80 15 82 15 45 15 14 15 5 15 6 15 19 15 45 15 81 15 76 15 51 15 21 15 9 15 38 15 84 15 107 15 82 15 36 15-4 15 1 15 60 15 147 15 77 15 11 15-8 15-4 15-2 15-1 15-1 15 1 15 5 15 13 15 12 15 5 15-1 15-4 15-2 15 1 15 2 15-3 15-3 15 0 15 2 15 0 15-5 15-8 15-6 15-2 15-4 15-7 15-6 15 3 15 11 15 7 15 2 15 3 15 6 15 4 15-1 15-1 15-2 15-1 15 1 15 2 15 1 15-3 15-8 15-7 15 1 15 5 15 0 15-2 15 4 15 9 15 8 15 9 15 7 15 8 15 11 15 10 15 3 15 0 15 2 15 6 15 3 15-4 15-8 15-9 15-9 15-10 15-9 15-6 15-5 15-9 15-9 15-2 15 3 15 0 15 1 15-6 15-7 15-6 15-3 15 2 15 4 15 5 15 6 15 4 15-3 15-7 15-6 15-2 15 3 15 9 15 11 15 4 15-3 15-5 15-3 15 1 15 0 15-2 15-4 15-6 15-4 15-1 15 3 15 4 15 7 15 7 15 5 15 0 15 1 15 1 15 0 15 2 15 1 15-3 15-1 15 3 15 2 15-1 15-4 15-4 15 0 15 2 15-2 15-6 15-9 15-6 15-2 15 2 15 4 15-2 15-4 15-5 15-3 15 2 15 4 15-1 15 0 15 2 15 1 15-1 15-1 15 2 15 3 15 2 15 2 15 0 15 0 15 0 15-2 15-1 15 1 15-3 15-6 15-5 15-6 15-4 15-2 15 3 15 7 15 8 15 8 15 8 15 8 15 7 15 5 15-1 15-2 15 1 15 3 15 3 15 4 15 0 15-6 15 8 15 11 15 48 15 13 15 2 15 38 15 87 15 84 15 54 15 47 15 58 15 70 15 67 15 44 15 30 15 45 15 64 15 75 15 93 15 84 15 17 15 5 15 7 15 6 15-8 15-19 15-23 15-4 15 13 15 15 15 2 15-7 15 0 15 4 15-14 15-19 15-2 15 11 15-17 15-45 15-37 15-13 15-12 15-25 15-22 15-14 15-9 15-9 15-18 15-13 15-3 15-13 15-25 15-29 15-9 15 9 15 21 15 27 15 16 15 2 15-2 15 2 15 11 15 24 15 40 15 45 15 40 15 26 15 1 15-1 15-3 15-10 15-20 15-30 15-15 15-8 15-12 15-22 15-28 15-26 15-15 15-4 15-8"/>
<path stroke="#77AC30" d="M740 703l15 25 15 24 15 19 15 20 15 34 15 37 15 24 15 22 15 27 15 15 15 9 15 24 15 24 15-2 15-14 15 3 15 33 15 48 15 36 15 15 15 12 15 30 15 68 15 78 15 94 15 74 15 69 15 63 15 71 15 97 15 97 15 61 15 10 15-16 15 11 15 74 15 54 15 28 15 3 15-3 15-5 15-1 15 4 15 4 15-3 15-11 15-14 15-10 15-8 15-11 15-9 15-2 15 1 15 0 15-2 15-2 15-2 15-4 15-2 15 4 15 11 15 8 15 5 15 4 15-1 15-1 15-3 15-7 15-7 15-3 15 1 15 5 15 7 15 6 15 1 15-1 15 0 15-4 15-10 15-14 15-11 15-9 15-12 15-9 15 2 15 9 15 4 15-1 15 5 15 13 15 13 15 7 15 1 15-4 15-7 15-8 15-4 15-4 15-8 15-9 15-7 15-3 15-1 15 2 15 4 15 3 15 4 15 4 15 4 15 4 15 7 15 9 15 7 15 2 15-1 15-4 15 0 15 2 15 6 15 1 15-7 15-7 15-2 15 3 15 3 15 3 15-2 15-8 15-5 15-1 15-2 15-1 15 4 15 6 15 4 15-1 15-2 15-1 15-4 15-5 15-2 15 3 15 3 15-1 15 0 15-1 15-3 15 1 15 5 15 5 15 3 15 1 15-1 15 4 15 10 15 8 15 5 15 0 15-6 15-4 15 4 15 7 15 5 15 1 15 0 15 2 15 0 15-3 15-6 15-9 15-10 15-10 15-9 15-8 15-3 15 3 15 5 15 4 15 7 15 10 15 9 15 5 15 1 15 0 15-4 15-7 15-9 15-9 15-8 15-6 15-4 15-1 15 0 15 0 15-5 15-4 15 2 15 6 15 5 15 1 15-4 15-3 15 1 15 5 15 3 15 3 15 4 15 2 15-4 15-7 15-3 15-1 15-1 15-4 15-4 15-5 15 0 15 5 15-2 15-10 15-9 15 2 15 8 15 8 15 5 15 4 15 13 15 62 15 57 15 54 15 37 15 30 15 56 15 99 15 134 15 121 15 39 15-32 15-13 15 60 15 103 15 92 15 69 15 65 15 45 15 19 15 31 15 70 15 24 15-3 15-10 15 11 15 8 15-1 15-6 15-17 15-4 15 1 15 9 15 3 15-16 15-32 15-36 15-35 15-32 15-46 15-42 15-30 15-7 15 16 15 30 15 29 15 6 15-29 15-32 15 1 15 13 15-12 15-35 15-32 15-8 15 5 15-13 15-22 15-1 15 26 15 48 15 56 15 50 15 37 15 10 15 12 15 6 15-20 15-23 15-13 15-21 15-28 15-18 15-12"/>
<path stroke="#4DBEEE" d="M740 921l15 24 15 19 15 15 15 9 15 11 15 10 15-5 15-9 15 7 15 25 15 32 15 28 15 48 15 53 15 72 15 81 15 59 15 45 15 31 15 29 15 59 15 122 15 168 15 161 15 22 15 5 15-4 15-6 15-3 15-12 15-21 15-12 15-1 15-1 15-6 15-5 15 6 15 13 15 7 15 0 15-1 15-1 15 8 15 16 15 17 15 13 15 3 15-11 15-20 15-23 15-18 15-15 15-15 15-8 15-2 15 5 15 7 15 1 15 1 15 2 15-2 15-4 15 6 15 12 15 5 15-2 15-3 15-1 15 8 15 12 15 13 15 11 15 5 15-6 15-9 15-5 15 4 15 13 15 12 15 4 15 0 15-10 15-23 15-27 15-12 15 7 15 10 15-2 15-12 15-9 15-4 15 8 15 16 15 10 15-1 15-8 15-6 15 4 15 10 15 13 15 14 15 13 15 12 15 11 15 12 15 4 15-9 15-12 15-3 15 6 15 4 15-1 15 9 15 20 15 18 15 7 15-1 15-3 15 5 15 3 15-1 15-3 15-5 15-10 15-9 15-2 15 7 15 9 15 4 15 0 15 4 15 9 15 7 15-1 15-11 15-19 15-21 15-10 15-1 15-6 15-12 15-9 15-5 15-10 15-17 15-13 15-6 15 0 15 3 15 9 15 9 15 5 15 4 15 5 15 6 15 3 15 2 15 0 15-2 15-2 15 0 15-2 15 0 15 5 15 2 15-5 15-8 15-9 15-5 15-2 15 2 15 1 15-4 15-4 15 2 15 4 15 6 15 9 15 1 15-9 15-14 15-10 15-5 15-3 15-2 15-4 15-3 15-3 15-3 15 0 15 2 15-1 15-4 15 1 15 7 15 11 15 5 15-9 15-19 15-14 15-2 15 5 15 6 15 4 15 4 15 4 15 6 15 0 15-4 15-1 15 0 15-6 15-8 15-4 15-2 15-6 15-5 15-3 15-3 15 1 15 5 15 1 15-2 15 5 15 10 15 5 15-2 15-9 15-7 15 9 15 8 15 3 15 53 15 89 15 93 15 70 15 58 15 53 15 44 15 31 15 21 15 25 15 41 15 55 15 64 15 71 15 38 15 28 15 15 15 8 15 23 15 35 15 40 15 38 15 30 15 17 15 10 15-4 15-9 15-22 15-39 15-42 15-24 15-16 15-23 15-36 15-50 15-34 15 6 15 21 15-9 15-25 15-20 15-13 15-14 15-9 15 4 15 19 15 22 15 26 15 48 15 42 15 20 15 14 15 21 15 27 15 21 15 18 15 21 15 18 15 18 15 3 15 2 15 6 15-9 15-26 15-40 15-45 15-37 15-38"/>
<path stroke="#A2142F" d="M740 865l15 23 15 24 15 26 15 31 15 29 15 20 15 11 15 23 15 22 15 23 15 29 15 70 15 92 15 62 15 34 15 49 15 82 15 100 15 103 15 105 15 95 15 59 15 9 15 10 15 17 15 1 15-3 15-3 15-1 15-3 15 0 15 3 15 2 15 1 15 2 15-6 15-10 15-5 15-2 15-5 15-5 15-6 15-5 15 0 15 3 15 2 15 0 15 0 15 0 15 3 15 2 15-1 15 0 15 3 15 2 15 0 15 0 15-2 15-11 15-10 15-1 15 1 15-2 15-2 15 0 15 0 15 1 15 3 15 7 15 5 15 3 15 3 15 2 15-4 15-4 15 4 15 9 15 10 15 6 15 3 15 5 15 8 15 10 15 15 15 13 15 5 15 1 15 0 15-2 15 2 15 8 15 9 15 3 15-1 15 2 15 6 15 6 15 2 15-1 15-1 15 3 15 1 15-1 15-1 15 0 15-1 15-3 15-6 15-9 15-7 15-4 15-1 15-3 15-7 15-5 15-7 15-9 15-12 15-3 15-7 15-3 15 1 15 5 15 1 15-3 15-2 15 0 15-2 15-3 15 1 15 1 15 1 15 2 15 3 15-1 15-6 15-6 15 1 15 4 15 0 15-1 15-2 15-4 15-9 15-8 15-3 15 5 15 7 15 6 15 5 15 8 15 7 15 2 15-2 15-2 15 2 15 6 15 7 15 4 15 1 15-2 15-5 15-4 15-1 15 0 15-3 15-6 15-6 15-5 15-5 15-2 15 2 15 3 15 1 15 4 15 5 15 2 15 3 15 4 15 3 15-1 15-3 15 0 15-1 15-4 15-2 15-1 15-2 15-1 15-3 15-6 15-8 15-8 15-4 15 1 15 2 15 2 15-3 15-5 15-2 15 5 15 3 15-1 15 0 15 3 15 7 15 7 15 6 15 6 15 1 15-6 15-4 15 2 15 5 15 6 15 4 15 3 15 1 15 0 15-3 15 7 15 12 15 29 15 61 15 51 15 41 15 31 15 23 15 25 15 60 15 98 15 78 15 32 15 33 15 62 15 78 15 67 15 27 15-2 15 10 15 31 15 26 15 22 15 35 15 33 15 13 15 1 15-17 15-15 15-5 15 8 15 11 15-22 15-42 15-49 15-33 15-7 15 3 15-16 15-34 15-50 15-50 15-35 15-13 15-3 15-10 15-15 15-5 15-5 15-6 15 5 15 13 15 20 15 22 15 20 15 9 15 0 15-15 15-1 15 34 15 59 15 60 15 38 15 10 15 19 15 29 15-10 15-6 15 8 15 2 15-10 15-23 15-35 15-53 15-47 15-30 15-16 15-17 15-27 15-30"/>
<path stroke="#0072BD" d="M740 499l15 12 15 12 15 5 15 11 15 24 15 39 15 52 15 47 15 31 15 24 15 27 15 29 15 22 15 14 15 17 15 27 15 31 15 30 15 55 15 78 15 69 15 47 15 49 15 71 15 63 15 33 15 48 15 118 15 155 15 133 15 98 15 27 15 27 15 12 15-3 15 3 15 5 15 2 15-4 15-11 15-13 15-3 15 5 15 5 15-3 15-14 15-20 15-16 15-3 15 12 15 14 15 7 15-1 15 1 15 2 15-2 15-3 15 5 15 8 15 1 15-6 15-4 15 3 15 4 15 3 15-1 15-7 15-6 15-2 15 0 15-4 15-2 15 1 15 1 15-3 15-4 15-3 15 5 15 8 15 8 15 7 15 5 15 1 15 0 15-2 15-3 15-1 15 0 15 1 15 8 15 9 15 10 15 5 15-3 15-7 15-3 15 2 15 2 15 1 15 4 15 4 15 1 15 2 15 7 15 6 15-3 15-7 15-1 15 4 15-2 15-8 15-6 15-4 15-1 15-4 15-4 15 1 15-3 15 2 15 3 15 2 15-1 15-1 15 7 15 11 15 8 15 0 15-6 15-8 15 0 15 5 15 5 15 0 15-4 15-2 15-2 15-1 15 0 15-3 15-5 15-4 15-1 15 2 15 1 15 1 15 1 15-1 15-5 15-3 15 4 15 5 15 1 15 2 15 0 15-6 15-8 15-7 15-5 15-2 15-2 15-4 15-7 15-9 15-6 15 0 15 4 15 2 15 2 15 5 15 3 15-3 15-1 15 5 15 9 15 5 15 4 15 4 15 0 15-4 15 1 15 5 15 5 15 3 15 2 15 2 15-1 15-3 15-2 15 1 15 0 15-3 15-4 15-1 15 2 15 3 15 3 15 4 15 2 15 0 15-2 15-5 15-3 15-2 15 0 15 3 15 2 15 4 15 3 15 0 15-6 15-5 15-2 15 0 15-1 15-3 15-8 15-3 15 3 15-5 15-2 15-5 15-1 15 4 15 11 15 75 15 108 15 82 15 58 15 44 15 27 15 19 15 44 15 80 15 91 15 63 15 20 15-4 15 1 15 28 15 65 15 91 15 77 15 5 15-18 15-23 15-9 15 5 15 3 15-10 15-11 15-8 15-2 15-7 15-11 15-44 15-53 15-31 15 15 15 21 15-19 15-53 15-42 15-32 15-41 15-53 15-38 15-24 15-11 15 1 15 4 15-2 15-7 15 2 15 24 15 34 15 37 15 26 15 2 15-1 15 16 15 26 15 42 15 65 15 69 15 60 15 40 15 22 15 15 15 1 15-4 15-21 15-3 15 13 15-10 15-32 15-13 15-2 15-10 15-21 15-24"/>
<path stroke="#D95319" d="M740 1159l15 49 15 88 15 0 15 115 15 0 15 0 15 0 15 0 15 225 15 0 15 49 15 0 15 0 15 78 15 88 15 73 15 0 15 0 15 63 15 79 15 0 15 14 15 0 15 0 15-13 15 0 15-21 15 0 15-27 15 0 15 0 15 0 15-5 15 0 15 0 15 0 15 0 15 5 15 0 15 0 15 0 15-20 15 0 15 0 15 0 15-12 15 0 15 0 15-17 15 0 15 0 15 3 15 0 15 0 15-6 15 0 15 0 15 0 15 0 15 11 15 0 15 0 15 9 15 0 15 0 15 0 15 0 15 33 15 0 15-18 15 0 15 0 15 0 15-7 15-3 15-3 15 0 15 0 15 1 15 3 15 13 15 0 15 0 15-8 15-3 15 0 15 0 15 0 15 0 15 7 15 0 15 17 15 0 15 0 15 0 15 0 15 17 15 0 15 5 15 0 15 0 15 0 15 0 15-11 15 0 15-15 15 0 15 0 15-25 15 0 15-17 15 0 15-2 15 0 15-3 15 0 15 0 15 0 15 32 15 0 15 0 15 0 15 0 15 19 15 0 15 1 15 0 15-24 15 0 15 0 15 0 15 0 15-23 15 14 15 0 15 0 15 0 15 11 15 0 15 12 15 0 15 0 15 21 15 0 15 9 15 7 15 0 15 0 15-10 15-19 15 0 15 0 15 0 15-5 15 0 15 0 15 0 15 7 15 0 15 0 15-6 15 0 15-9 15 0 15 0 15-8 15 0 15 0 15 11 15 11 15 0 15 0 15-12 15 2 15 0 15 13 15 0 15 0 15 0 15 34 15 0 15 0 15 0 15 0 15-3 15 0 15 0 15 0 15-31 15 0 15 0 15-25 15 0 15 0 15-17 15 0 15 0 15 0 15 0 15 7 15 0 15 0 15 0 15 0 15 14 15 0 15 19 15 0 15 0 15 0 15-1 15 0 15 0 15 0 15-18 15 0 15 0 15 21 15 0 15 0 15-10 15 0 15 0 15-2 15 0 15 0 15 2 15 4 15 0 15 0 15 259 15 0 15 52 15 0 15 27 15 165 15 0 15 0 15 0 15 0 15 254 15 0 15 0 15 29 15 143 15 0 15 0 15 0 15 30 15-15 15 0 15 0 15-14 15 0 15 31 15 0 15 0 15 0 15 0 15 16 15-11 15 0 15-51 15 0 15-84 15 0 15-80 15 0 15-24 15 13 15 0 15 0 15-13 15-117 15 0 15 0 15 0 15 0 15 60 15 0 15 0 15 0 15 0 15 134 15 0 15 0 15 128 15 0 15 0 15 85 15 0 15 0 15 0 15 54 15 0 15-2 15-21 15 0 15-16 15 0"/>
<path stroke="#EDB120" d="M740 451l15 65 15 0 15 34 15 0 15 0 15 0 15 12 15 0 15 19 15 41 15 123 15 0 15 0 15 257 15 0 15 0 15 0 15 17 15 2 15-10 15-21 15 0 15-5 15 33 15 0 15 230 15 0 15 0 15 0 15 0 15 272 15 0 15 22 15 254 15 0 15 0 15 0 15 0 15 231 15 20 15 0 15 5 15 0 15 0 15-3 15 0 15 0 15-10 15 0 15 0 15 0 15 0 15 4 15 0 15 0 15 19 15 0 15-4 15 0 15 1 15 0 15 17 15 0 15 0 15 0 15 0 15-2 15-7 15 0 15-5 15-19 15 0 15 0 15 0 15 2 15 0 15 20 15 0 15 0 15-19 15 0 15 0 15-5 15 8 15 11 15 0 15 0 15 0 15 12 15 0 15-2 15-4 15 0 15 0 15-17 15 0 15 0 15 0 15 0 15 0 15 0 15 0 15-9 15 0 15 0 15 0 15-8 15 0 15 2 15 5 15 0 15 0 15-3 15 15 15 0 15 0 15 6 15 0 15 0 15 0 15 0 15-12 15 0 15-2 15 0 15-2 15 0 15 0 15-3 15 0 15 0 15 0 15 3 15 0 15 15 15 0 15 0 15 0 15-6 15 0 15 0 15 0 15 3 15 0 15 9 15 0 15 0 15 0 15 3 15 0 15 0 15-11 15-1 15-6 15 0 15 0 15-8 15 0 15 0 15 0 15-4 15 0 15 3 15 7 15 0 15-8 15 0 15-6 15 0 15 0 15 0 15 0 15 11 15 0 15 6 15 0 15 0 15 2 15 0 15 0 15 0 15 0 15-2 15-4 15 0 15 0 15-18 15 0 15 0 15 15 15 0 15 0 15 0 15-15 15 0 15 0 15 0 15 0 15-3 15 0 15 0 15 3 15 0 15 0 15 0 15 0 15-7 15 0 15 0 15 0 15 0 15-12 15 0 15 0 15 14 15 0 15 0 15-1 15 0 15 0 15-11 15 0 15 0 15 2 15 0 15 2 15 0 15 0 15 99 15 0 15 145 15 0 15 0 15 157 15 158 15 0 15 229 15 0 15 0 15 0 15 0 15 164 15 33 15 0 15 23 15 0 15 0 15 0 15 0 15 79 15 0 15 0 15 0 15 0 15-35 15 0 15 28 15 12 15-65 15 0 15-38 15 0 15-95 15 0 15 0 15 0 15-131 15-111 15 0 15 0 15-9 15 0 15 0 15 0 15-7 15-36 15 0 15 92 15 0 15 0 15 142 15 0 15 38 15 69 15 0 15 0 15 47 15 0 15 54 15 0 15 61 15 0 15 0 15-53 15-22 15-30 15-105 15 0 15 0 15 0"/>
<path stroke="#7E2F8E" d="M740 865l15 0 15 0 15 0 15 150 15 0 15 0 15 0 15 66 15 0 15 0 15 0 15 56 15 0 15 252 15 0 15 0 15 0 15 101 15 137 15 0 15 71 15 195 15 0 15 0 15 103 15 0 15 0 15 28 15 5 15 0 15 8 15 0 15 0 15 0 15 0 15 0 15 0 15 0 15 0 15-13 15 0 15 0 15-15 15 0 15 0 15 0 15 0 15-7 15 0 15 0 15 8 15 0 15 6 15 0 15 9 15 0 15-5 15 0 15-1 15 0 15 0 15 9 15 1 15 0 15 0 15-3 15 0 15 0 15-9 15 0 15 0 15-11 15 0 15 0 15 0 15 0 15 8 15 0 15 6 15 8 15 28 15 0 15 0 15 15 15-8 15 0 15 2 15 0 15-15 15 0 15 0 15 1 15 0 15-6 15 0 15 0 15 0 15 0 15 19 15 8 15 0 15 0 15 0 15 0 15 0 15 0 15-15 15 4 15 0 15 0 15 4 15 3 15 3 15 1 15-4 15-22 15 0 15 0 15 0 15 0 15-22 15 0 15 0 15-6 15 10 15 0 15 0 15 16 15 0 15 0 15 0 15 0 15-8 15-28 15 0 15 0 15 0 15 0 15 0 15-1 15 0 15 0 15 11 15 0 15 0 15 0 15-1 15 0 15 0 15 0 15-8 15 0 15 0 15-9 15 0 15 0 15-4 15-3 15-18 15 0 15 0 15 0 15-1 15 0 15 0 15 0 15 0 15-4 15 3 15 0 15 0 15 0 15 12 15 0 15 0 15 0 15 0 15 11 15 0 15 17 15 0 15 0 15 4 15 0 15 0 15-6 15 0 15 0 15-5 15 0 15 0 15-9 15-6 15 0 15 7 15 0 15 0 15 0 15 0 15 15 15 0 15 0 15-7 15 0 15 0 15 0 15 11 15 0 15 0 15 3 15 0 15 0 15-5 15 0 15 0 15 27 15 0 15 0 15 0 15 0 15 28 15 5 15 0 15 0 15 5 15-5 15 0 15 0 15 120 15 0 15 0 15 0 15 0 15 357 15 0 15 0 15 298 15 0 15 0 15 132 15 0 15 0 15 45 15 0 15 0 15 59 15 0 15 6 15-70 15 0 15-40 15-60 15 0 15-63 15 0 15-15 15 0 15-14 15 0 15 0 15 0 15-16 15 22 15 0 15 0 15 0 15 0 15-5 15 3 15-1 15 0 15 0 15 0 15 0 15-53 15 0 15-33 15-42 15 0 15-35 15 0 15 0 15 0 15 0 15 62 15 0 15 43 15 0 15 0 15 49 15 0 15 28 15 0 15-16 15 0 15 0 15 0 15 0 15 0 15 0"/>
<path stroke="#77AC30" d="M740 592l15 23 15 41 15 90 15 107 15 59 15 16 15-4 15 1 15 12 15 24 15 28 15 28 15 23 15 10 15 6 15-1 15-12 15-10 15-2 15 13 15 38 15 59 15 85 15 60 15 66 15 71 15 49 15 45 15 90 15 138 15 158 15 72 15 18 15 9 15-1 15-4 15-5 15-7 15-3 15 4 15 3 15-5 15-7 15 0 15 1 15 0 15-2 15-2 15-1 15 2 15-2 15-4 15 2 15 6 15 5 15 4 15 5 15 3 15 5 15 10 15 11 15 7 15 8 15 8 15 3 15-2 15-1 15-4 15-6 15-3 15 1 15 2 15-4 15-9 15-5 15 3 15 4 15 1 15 1 15 0 15 1 15 1 15-2 15-4 15-5 15-1 15-2 15-6 15-3 15 3 15 3 15-3 15-4 15 0 15 7 15 7 15-2 15-3 15 3 15 6 15 3 15 3 15 1 15-3 15-6 15-5 15-2 15 0 15-1 15-2 15-1 15 1 15 2 15 0 15 1 15 4 15 6 15 5 15 7 15 2 15-1 15 0 15-1 15-4 15-4 15-7 15-8 15-6 15-4 15-4 15-5 15-7 15-3 15 1 15 1 15-1 15 2 15 1 15 0 15-2 15 3 15 8 15 6 15 1 15-3 15-6 15-7 15-3 15-4 15-4 15-3 15-1 15 2 15 3 15 1 15 0 15 0 15 1 15 2 15 2 15 1 15 0 15 3 15 7 15 7 15 5 15 0 15-4 15-6 15-3 15 2 15 8 15 5 15 2 15-3 15-5 15-2 15 2 15 1 15-1 15-1 15-2 15-3 15-3 15 1 15-1 15-4 15-6 15-3 15 1 15 2 15 1 15-2 15-4 15-4 15-1 15 4 15 5 15 1 15 0 15 4 15 2 15 1 15 4 15 8 15 6 15 0 15-2 15-3 15-3 15 0 15 0 15-2 15 1 15 3 15 1 15-6 15-10 15-4 15 4 15 3 15-2 15-1 15 6 15 13 15 12 15 1 15-2 15-1 15 2 15 1 15 7 15 7 15 51 15 104 15 88 15 61 15 51 15 67 15 82 15 87 15 98 15 95 15 67 15 31 15 16 15 28 15 43 15 21 15 22 15 18 15 3 15-20 15-40 15-35 15-9 15 8 15 8 15-14 15 4 15 22 15 12 15-14 15-24 15-23 15-20 15-3 15 10 15-4 15-31 15-31 15-29 15-31 15-22 15 3 15 13 15-3 15-12 15 0 15-3 15-25 15-41 15-35 15-30 15-22 15 9 15 19 15 6 15-5 15 6 15 27 15 43 15 40 15 31 15 28 15 25 15 20 15 30 15 28 15 9"/>
<path stroke="#4DBEEE" d="M740 680l15 44 15 54 15 55 15 39 15 16 15 4 15 8 15 13 15 26 15 27 15 0 15-13 15 5 15 23 15 23 15 18 15 17 15 51 15 68 15 67 15 64 15 78 15 77 15 51 15 37 15 39 15 45 15 52 15 54 15 62 15 85 15 110 15 26 15 16 15-5 15-5 15-5 15-4 15-2 15-2 15 0 15 4 15 6 15 4 15 4 15 2 15-5 15-2 15 0 15-6 15-4 15-4 15-4 15-3 15 1 15 4 15 6 15 5 15 1 15-1 15-1 15-4 15-12 15-18 15-6 15-1 15-8 15-9 15-8 15-6 15 0 15 4 15 3 15 1 15 2 15 1 15-7 15-12 15 3 15 20 15 9 15-12 15-18 15-7 15 3 15 3 15 2 15-2 15 1 15 2 15-2 15-1 15-1 15 4 15 8 15 5 15 1 15 1 15 1 15 3 15 10 15 10 15 8 15 11 15 10 15 7 15 7 15 7 15-3 15-7 15-12 15-8 15 3 15 8 15 4 15 4 15 10 15 2 15-5 15 0 15 1 15-4 15-2 15 4 15 9 15 8 15-5 15-14 15-9 15 3 15 5 15 0 15-8 15-10 15 2 15 8 15 4 15-2 15-4 15 5 15 14 15 10 15-5 15-12 15-9 15-4 15-2 15-6 15-10 15-7 15-6 15-7 15-4 15-4 15-3 15-2 15 5 15 11 15 11 15 8 15 4 15 2 15 4 15 6 15 6 15 4 15 0 15-4 15-7 15-5 15-3 15-2 15-5 15-6 15-5 15-3 15-2 15-1 15 2 15 4 15 7 15 10 15 12 15 12 15 12 15 11 15 6 15 3 15 8 15 7 15 2 15-1 15 0 15 1 15-5 15-9 15-3 15 2 15 0 15-8 15-12 15-7 15 0 15 3 15 5 15 4 15 0 15-6 15-8 15 0 15 6 15 3 15-1 15-5 15-5 15-4 15-3 15-3 15 3 15 16 15 25 15 21 15 6 15-7 15-13 15-12 15-14 15-14 15-5 15 8 15 5 15 25 15 86 15 89 15 55 15 21 15 1 15 10 15 39 15 50 15 47 15 56 15 72 15 82 15 85 15 79 15 65 15 49 15 49 15 48 15 18 15 9 15-8 15-5 15 9 15 11 15 13 15 24 15 18 15 1 15 1 15 13 15 15 15-15 15-33 15-48 15-44 15-39 15-43 15-35 15-36 15-19 15-3 15-15 15-28 15-33 15-32 15-17 15-4 15-3 15-12 15-21 15-20 15-10 15 2 15 13 15 20 15 24 15 29 15 37 15 47 15 77 15 98 15 88 15 31 15-5 15-11 15-3 15 5 15-1"/>
<path stroke="#A2142F" d="M740 292l15 0 15 0 15 49 15 0 15 143 15 0 15 0 15 144 15 0 15 0 15 0 15 145 15 0 15 0 15 0 15 0 15 93 15 0 15 0 15 0 15 40 15 0 15 57 15 0 15 0 15 0 15 47 15 0 15 0 15 172 15 0 15 107 15 0 15 0 15 273 15 0 15 0 15 175 15 109 15 0 15 156 15 0 15 0 15 0 15 41 15 0 15 21 15 0 15 0 15 8 15 0 15 25 15 0 15-38 15 0 15 0 15 0 15-27 15 0 15 0 15 11 15 0 15 0 15 0 15 14 15-10 15 0 15 0 15 27 15 0 15 3 15 0 15 17 15 7 15 0 15-11 15-13 15-22 15 0 15-23 15 0 15 0 15-28 15 0 15-11 15 0 15 0 15 0 15 0 15 44 15 0 15 0 15 0 15-10 15 0 15 0 15-20 15 0 15 0 15 0 15 0 15 0 15 0 15-15 15-7 15 23 15 0 15 0 15 0 15 34 15 0 15 7 15 0 15 0 15 0 15 11 15-5 15 0 15 0 15 2 15 0 15 0 15-10 15 0 15 0 15 53 15 0 15 0 15 0 15 0 15 28 15 0 15 0 15-4 15 0 15 0 15-2 15-15 15 0 15 0 15 0 15 0 15-33 15 8 15 0 15 0 15 0 15 0 15-12 15 0 15 19 15 0 15 0 15-1 15 0 15 15 15 0 15 0 15 9 15 0 15-5 15 0 15-2 15-1 15 0 15 0 15 0 15 0 15 0 15-16 15 0 15 0 15 0 15-21 15 0 15 0 15 4 15 16 15 0 15 0 15-12 15 0 15 3 15 0 15-3 15 0 15 0 15 0 15 0 15-10 15 0 15-18 15 0 15 0 15 0 15 0 15-31 15 0 15 0 15 0 15 27 15 0 15 0 15 0 15 0 15 33 15 0 15 0 15 0 15-15 15-14 15 0 15 0 15 0 15 0 15-4 15 0 15 0 15 0 15-5 15 0 15 0 15 0 15-29 15 0 15 7 15-1 15-2 15 0 15 2 15 0 15 0 15 16 15 0 15 0 15 0 15 221 15 0 15 0 15 0 15 333 15 0 15 0 15 222 15 0 15 0 15 95 15 0 15 0 15 177 15 0 15 16 15 0 15 46 15 0 15 0 15 75 15 0 15 0 15-2 15 0 15-1 15 34 15 0 15 0 15 0 15 0 15-204 15 0 15 0 15-124 15 0 15 0 15-34 15 0 15 0 15-51 15 0 15 0 15 0 15 0 15-50 15 0 15 4 15 84 15 0 15 0 15 123 15 0 15 0 15 0 15 0 15 163 15-26 15 0 15 0 15-55 15 0 15 0 15 0"/>
<path stroke="#0072BD" d="M740 607l15 0 15 0 15 105 15 0 15 82 15 0 15 0 15 20 15-27 15 0 15-25 15-76 15 0 15 0 15 0 15-25 15 0 15 0 15 0 15 176 15 0 15 0 15 131 15 81 15 0 15 134 15 0 15 0 15 0 15 258 15 0 15 304 15 0 15 0 15 0 15 0 15 299 15 0 15 0 15 0 15 0 15 14 15 0 15 0 15 0 15 0 15-15 15 0 15-12 15 0 15-5 15-2 15 0 15 0 15 0 15-8 15 0 15-4 15 0 15 5 15 7 15 0 15 0 15 3 15-7 15 0 15 9 15 0 15 0 15 1 15-6 15 14 15 0 15 0 15 0 15 9 15 0 15 0 15 9 15 0 15-9 15 0 15 1 15 0 15 0 15 0 15 0 15-6 15 0 15 0 15 6 15 1 15-5 15-11 15-4 15 0 15 9 15 8 15 12 15 0 15 0 15 0 15 0 15 16 15 0 15 0 15 0 15 0 15 2 15 0 15 0 15 0 15-1 15 0 15 0 15-2 15-6 15-10 15 0 15 0 15-8 15 0 15 0 15 0 15 1 15 4 15 0 15 0 15 6 15 0 15 1 15 0 15 0 15 0 15-2 15 0 15 0 15 2 15 0 15 0 15 0 15-3 15 0 15 0 15 0 15 0 15 0 15 2 15 14 15 0 15 0 15 0 15 0 15 1 15 0 15 0 15-1 15-4 15 0 15-15 15 0 15 0 15 0 15 0 15-40 15 0 15 0 15 0 15-4 15-11 15 0 15 0 15-2 15 0 15 0 15 0 15 0 15-5 15-12 15 0 15-2 15 0 15 0 15 5 15 0 15 0 15 0 15-6 15 0 15 0 15 0 15 0 15 18 15 7 15 0 15 0 15 0 15 0 15 4 15 3 15 5 15 0 15 13 15 0 15 0 15 0 15 17 15 0 15 2 15 0 15 0 15 3 15 0 15 0 15 0 15 0 15-13 15 0 15 0 15 2 15 0 15 0 15 8 15 0 15 0 15 0 15 0 15-16 15-11 15-3 15 0 15 0 15 186 15 0 15 0 15 0 15 247 15 0 15 0 15 0 15 0 15 119 15 0 15 0 15 297 15 0 15 0 15 0 15 194 15 0 15 0 15 0 15 0 15-18 15-56 15 0 15 0 15 0 15 55 15 0 15-4 15-5 15 0 15 0 15-41 15 0 15 0 15 0 15 0 15-317 15 0 15 0 15 0 15 0 15-124 15 0 15 20 15 0 15 18 15 47 15 161 15 0 15 0 15 0 15 0 15 178 15 0 15 14 15 0 15 6 15 22 15 0 15-3 15 0 15 0 15 0 15-8 15-19 15-70 15 0"/>
<path stroke="#D95319" d="M740 218l15 29 15 42 15 64 15 87 15 79 15 30 15-9 15 10 15 64 15 80 15 58 15 38 15 23 15 14 15 10 15 9 15 5 15-2 15-1 15 5 15 7 15 10 15 14 15 16 15 26 15 38 15 30 15 15 15 14 15 19 15 25 15 34 15 50 15 77 15 89 15 81 15 71 15 72 15 81 15 60 15 37 15 65 15 107 15 102 15 30 15 16 15-2 15 1 15 3 15-1 15-5 15-3 15 1 15-3 15-7 15-8 15-12 15-11 15-3 15 3 15 1 15 0 15 1 15-2 15-3 15 1 15 5 15 5 15 4 15 2 15 0 15 3 15 3 15 1 15 5 15 10 15 5 15-1 15 1 15-1 15-1 15 2 15 5 15 3 15-5 15-8 15 0 15 6 15 5 15 2 15 4 15 6 15 6 15 0 15-4 15-6 15-8 15-6 15-6 15-7 15-3 15-1 15 0 15-3 15-6 15-4 15 3 15 5 15 5 15 2 15 3 15 3 15-4 15-6 15-1 15-1 15-7 15-12 15 0 15 5 15 2 15-3 15-8 15-7 15-1 15 5 15 3 15 3 15 5 15 3 15-2 15-5 15-6 15-2 15 2 15-1 15 0 15 1 15 0 15-2 15-4 15-3 15-3 15-3 15-2 15-2 15-3 15-6 15 0 15 7 15 9 15 8 15 6 15 1 15-1 15-3 15 0 15 5 15 3 15 1 15 7 15 10 15 5 15-4 15-5 15 1 15 0 15-1 15-3 15-5 15-3 15 1 15-2 15-1 15 1 15 2 15 3 15 2 15 5 15 8 15 8 15 5 15 2 15 2 15 1 15-2 15-5 15-7 15-7 15-9 15-7 15-3 15-3 15-6 15-8 15-5 15-1 15 0 15 3 15 1 15 0 15 0 15 0 15-1 15 3 15 3 15-1 15-1 15 1 15 0 15 1 15 3 15 7 15 4 15 0 15-2 15 0 15 3 15 6 15 6 15 1 15-1 15 0 15-2 15-9 15-12 15 1 15 7 15-2 15-4 15-3 15 1 15 7 15 47 15 64 15 60 15 58 15 66 15 79 15 85 15 80 15 81 15 86 15 81 15 76 15 77 15 58 15 27 15 33 15 35 15 9 15-28 15-34 15-29 15-17 15-5 15-10 15-28 15-35 15-26 15-11 15-7 15 1 15 7 15 2 15-14 15-37 15-55 15-61 15-46 15-38 15-51 15-58 15-43 15-9 15 7 15 2 15-17 15-28 15-21 15 4 15 0 15 2 15 7 15 14 15 30 15 47 15 58 15 72 15 76 15 46 15 12 15 13 15 47 15 27 15 3 15-13 15-14 15 7 15 5"/>
<path stroke="#EDB120" d="M740 551l15 57 15 0 15 34 15 0 15 0 15 42 15 39 15 0 15 0 15 0 15 0 15 57 15 0 15 0 15 110 15 0 15 69 15 0 15 0 15 67 15 38 15 69 15 0 15 0 15 0 15 110 15 0 15 0 15 0 15 82 15 94 15 0 15 239 15 0 15 0 15 0 15 0 15 476 15 0 15 0 15 0 15 0 15-3 15-14 15 0 15 0 15 0 15 0 15-5 15 0 15-8 15 0 15 0 15-11 15 0 15-1 15-10 15 0 15 0 15-19 15 0 15 0 15 0 15 1 15 0 15-3 15 0 15 0 15 0 15 4 15 0 15 0 15 0 15 17 15 0 15 4 15 0 15 0 15 0 15-21 15 0 15 5 15 0 15 0 15 7 15-5 15 0 15-3 15-12 15 0 15-12 15 0 15 0 15 0 15-33 15 0 15 0 15 0 15 0 15 0 15 0 15 0 15 0 15-11 15 0 15 2 15 0 15 0 15 13 15 0 15 0 15 0 15 8 15 6 15-3 15-22 15 0 15 0 15-5 15 0 15 0 15-2 15 0 15 4 15 0 15 0 15 0 15 0 15 5 15 4 15 4 15 0 15 0 15 12 15 7 15 6 15 0 15 0 15 0 15 7 15 5 15 0 15 0 15 0 15-4 15 0 15 0 15 4 15 0 15 0 15-18 15 0 15 0 15 0 15 0 15-6 15 0 15-12 15 0 15 1 15 0 15 0 15-1 15-3 15 1 15 0 15-6 15 0 15-8 15 0 15 0 15 0 15 0 15 29 15 0 15 0 15 0 15 7 15 0 15 0 15 0 15 0 15 13 15 0 15 0 15 0 15 1 15-4 15 0 15 0 15 0 15 0 15-11 15 0 15 0 15 0 15-2 15 2 15 0 15 7 15 0 15 0 15 0 15 0 15 0 15 0 15-3 15 0 15-19 15 0 15 0 15 0 15 0 15 18 15 5 15 0 15 7 15 0 15 0 15 0 15 0 15 3 15 0 15 0 15 0 15-22 15 0 15 0 15-22 15-12 15 0 15 25 15 0 15 203 15 0 15 0 15 0 15 0 15 342 15 0 15 0 15 0 15 154 15 0 15-17 15 159 15 0 15 0 15 0 15 0 15 61 15-6 15 0 15 0 15-25 15 0 15 0 15 0 15 70 15 0 15 0 15 0 15 0 15-162 15 0 15 0 15-25 15-64 15 0 15 0 15 0 15-39 15 3 15 0 15-64 15 0 15 0 15 0 15 0 15 110 15 0 15 0 15 0 15 195 15 0 15 0 15 0 15 71 15 0 15 0 15 112 15 0 15 0 15 93 15 0 15 42 15 0 15-7 15 0 15 0"/>
<path stroke="#7E2F8E" d="M740 362l15 27 15 0 15 0 15 0 15 0 15 3 15 0 15 19 15 91 15 0 15 103 15 0 15 0 15 0 15 267 15 0 15 0 15 0 15 0 15 97 15 0 15 7 15 0 15 29 15 0 15 0 15 0 15 0 15 86 15 0 15 50 15 146 15 0 15 95 15 212 15 0 15 0 15 0 15 0 15 405 15 0 15 0 15 0 15 0 15 80 15 0 15 8 15 0 15 19 15 0 15 0 15-26 15 0 15 0 15 0 15 6 15 0 15-7 15 0 15 0 15-25 15-21 15 0 15-27 15 0 15 0 15-6 15 0 15-2 15 9 15 0 15 0 15 0 15 10 15 0 15 0 15 21 15 0 15 0 15 0 15 0 15 18 15 0 15 0 15 0 15 11 15 0 15 0 15 0 15 0 15-6 15 0 15 0 15 4 15 0 15 0 15 8 15 0 15-1 15 0 15-5 15-7 15 0 15-1 15 1 15 0 15-9 15 0 15 0 15 0 15 0 15-36 15 0 15-15 15 0 15 0 15 0 15 0 15-5 15-10 15 0 15 0 15 0 15 5 15 0 15 0 15 0 15 9 15 0 15-1 15 0 15 0 15 0 15 0 15 0 15 0 15 0 15 13 15 0 15 0 15 0 15 15 15 3 15 0 15 0 15 9 15 13 15 0 15 0 15 13 15 0 15 0 15 0 15 0 15-6 15 0 15 0 15 0 15-23 15 0 15 0 15 0 15 0 15 30 15 0 15 0 15 0 15 0 15 9 15 0 15-2 15 0 15-1 15-9 15 0 15 0 15-17 15 0 15-3 15 0 15 0 15 0 15 0 15 3 15 0 15 4 15 0 15 1 15 0 15 0 15-6 15 0 15 0 15 8 15 0 15 0 15-5 15 0 15 0 15 0 15 0 15-23 15 0 15 0 15 0 15 0 15-13 15 0 15 0 15 0 15 0 15-16 15 0 15 0 15 0 15 0 15 0 15 0 15 0 15-13 15 0 15 0 15 0 15 0 15 15 15 19 15 0 15 0 15 10 15 0 15 8 15 0 15 6 15 6 15 29 15 0 15 21 15 0 15 108 15 0 15 0 15 247 15 0 15 0 15 296 15 0 15 0 15 0 15 0 15 287 15 0 15 0 15 0 15 80 15 0 15-56 15 0 15 0 15 0 15 0 15-18 15 0 15-17 15 0 15 0 15-15 15-43 15 0 15 0 15 0 15 0 15-39 15 0 15-77 15 0 15 0 15-141 15 0 15 0 15 0 15-6 15 0 15 10 15 0 15 2 15 0 15 0 15-29 15-18 15 0 15 22 15 0 15 57 15 0 15 59 15 0 15 0 15 74 15 108 15 0"/>
<path stroke="#77AC30" d="M740 704l15 27 15 0 15 0 15 106 15 0 15 0 15 0 15 0 15 123 15 0 15 14 15 9 15 80 15 0 15 164 15 0 15 239 15 0 15 0 15 0 15 86 15 45 15 189 15 0 15 0 15 154 15 0 15 0 15 16 15 35 15 42 15 0 15 1 15 0 15 0 15 8 15 0 15 0 15-7 15 0 15 0 15 0 15 0 15-26 15-32 15 0 15 0 15 0 15-8 15-4 15 0 15 0 15-3 15 8 15 0 15 0 15 3 15 0 15 0 15 0 15 0 15 22 15 0 15 0 15 0 15-5 15 0 15 0 15 0 15 0 15-19 15 0 15 0 15 0 15 0 15 7 15 0 15-5 15 0 15 2 15 0 15 0 15 8 15 0 15-4 15 0 15-6 15 0 15 0 15-17 15 0 15-2 15 0 15 1 15-8 15 0 15 3 15 0 15 0 15 0 15 26 15 0 15 8 15 0 15 0 15 10 15 0 15-1 15 9 15 0 15 0 15 44 15 0 15 0 15 14 15 0 15 0 15-8 15 0 15 0 15-3 15 0 15 0 15 0 15-5 15 0 15 1 15 0 15-2 15 0 15-4 15-3 15-1 15-10 15 0 15 0 15 0 15 0 15 2 15 1 15 0 15 7 15 0 15 2 15 0 15 0 15 4 15 0 15 0 15-13 15 0 15 0 15-8 15 0 15 0 15 0 15 0 15-2 15 0 15 0 15 0 15 0 15 6 15 0 15 0 15 9 15 0 15 0 15 0 15 0 15 20 15 2 15 0 15 0 15 2 15 0 15 0 15-2 15 0 15 0 15 0 15-6 15 0 15 0 15 0 15-6 15 0 15 0 15-9 15 0 15 0 15 0 15 0 15 8 15-6 15 0 15 0 15 0 15 0 15 6 15 0 15 0 15 0 15 0 15 4 15 0 15 2 15 0 15 0 15 0 15 0 15 5 15 0 15-8 15 0 15 0 15-1 15 0 15 17 15 0 15 87 15 0 15 81 15 0 15 0 15 187 15 220 15 0 15 64 15 0 15 0 15 141 15 0 15 213 15 0 15 0 15 0 15 38 15 0 15-7 15 0 15-10 15 0 15-32 15 0 15 0 15-90 15 0 15 0 15 0 15-45 15 0 15-40 15 0 15 0 15-50 15-67 15 0 15 0 15-62 15 0 15 5 15 0 15 0 15 115 15 0 15 0 15 0 15-5 15 0 15 0 15 31 15 0 15 0 15 23 15 0 15 0 15 0 15 62 15 0 15 56 15 0 15 26 15-95 15 0 15 0 15 0 15-52 15 0 15-13 15-4 15 2 15 0 15 0 15 0 15-5 15 26 15 0 15 0 15 0"/>
<path stroke="#4DBEEE" d="M740 728l15 47 15 47 15 38 15 46 15 48 15 28 15 10 15 12 15 10 15-1 15 2 15 10 15 19 15 21 15 16 15 17 15 22 15 21 15 18 15 43 15 49 15 27 15 26 15 68 15 97 15 78 15 74 15 99 15 118 15 116 15 50 15 7 15 9 15 11 15 12 15 13 15-1 15-1 15-5 15 0 15 3 15 2 15 1 15-2 15-6 15-10 15-8 15 1 15 3 15 2 15-2 15-1 15 1 15 1 15-2 15-3 15-1 15 3 15 8 15 10 15 4 15-3 15-8 15-6 15 0 15 5 15 4 15-3 15-4 15 2 15 3 15-1 15-5 15-7 15-3 15 3 15 8 15 9 15 5 15 1 15 0 15 0 15 0 15-3 15-4 15-1 15 6 15 8 15 4 15 4 15 5 15 4 15-1 15 1 15 4 15 5 15 2 15-1 15-4 15-4 15-2 15 0 15-5 15-5 15-1 15 0 15 0 15 1 15 4 15 3 15 0 15 1 15 6 15 7 15 3 15 0 15-4 15-9 15 3 15 6 15 1 15-5 15-11 15-11 15-11 15-8 15-5 15-3 15-1 15 3 15 3 15-3 15-6 15-6 15-5 15-2 15-2 15-1 15 0 15 1 15 1 15 2 15 7 15 5 15-2 15-4 15-2 15 0 15-4 15-8 15-8 15-4 15-5 15-6 15-2 15 1 15 2 15 0 15 0 15 2 15 3 15 4 15 4 15 2 15 1 15 2 15-1 15-2 15-2 15-1 15 0 15 4 15 8 15 7 15 5 15 5 15 5 15 6 15 2 15-2 15-1 15 3 15 4 15 3 15-3 15-5 15-5 15-3 15-1 15-3 15-5 15-2 15-3 15-2 15 0 15 1 15 4 15 6 15 5 15-3 15-6 15-6 15 0 15 3 15 0 15-7 15-7 15-2 15 3 15 2 15-3 15-4 15-1 15 2 15 2 15-2 15-2 15 2 15 1 15-1 15 1 15 4 15 0 15 1 15 1 15-2 15 11 15 25 15 53 15 30 15 59 15 106 15 133 15 116 15 64 15 15 15 0 15 9 15 21 15 28 15 43 15 56 15 55 15 56 15 79 15 53 15 44 15 30 15 19 15 11 15-9 15-29 15-27 15-5 15 7 15 33 15 30 15 8 15-9 15-8 15-9 15-20 15-23 15-18 15-15 15-27 15-31 15-26 15-33 15-50 15-46 15-44 15-40 15-16 15-14 15-21 15-10 15 18 15 8 15 8 15 21 15 31 15 31 15 24 15 22 15 25 15 42 15 60 15 59 15 18 15 11 15 14 15 9 15-1 15-9 15-18 15-6 15 2 15-9 15-25"/>
<path stroke="#A2142F" d="M740 772l15 48 15 0 15 0 15 67 15 0 15 0 15 40 15 0 15 0 15 60 15 29 15 92 15 0 15 0 15 0 15 143 15 0 15 0 15 0 15 0 15 297 15 0 15 217 15 0 15 0 15 147 15 0 15 106 15 0 15 0 15 96 15 0 15 0 15-72 15 0 15 0 15 5 15 0 15 0 15 0 15-26 15 0 15 0 15 0 15 0 15-14 15 0 15-21 15 0 15 0 15 8 15 0 15 0 15 6 15 0 15 0 15-55 15 0 15-22 15 0 15 0 15 0 15 11 15 24 15 0 15 0 15 0 15 0 15 17 15 0 15 0 15 38 15 0 15 0 15 0 15 22 15 0 15 0 15 34 15 0 15 13 15 0 15 0 15 0 15-21 15-10 15 0 15 0 15 0 15 22 15 0 15 0 15-24 15 0 15-10 15-4 15 4 15 12 15 12 15 0 15 0 15-18 15 0 15 6 15 10 15 31 15 0 15 0 15 0 15-16 15 0 15 0 15 15 15 0 15 0 15 23 15 0 15-22 15 0 15 0 15 0 15 0 15 14 15-12 15 0 15-27 15 0 15 0 15-29 15 0 15 0 15-31 15 0 15-28 15 0 15-7 15 0 15 7 15 3 15 0 15 0 15 0 15 0 15 5 15 0 15-3 15 0 15 0 15 7 15 0 15 0 15-40 15 0 15 12 15 0 15 0 15-19 15 0 15 11 15 0 15 26 15 0 15 2 15 0 15 19 15 0 15 0 15 0 15 25 15 0 15 0 15 5 15-5 15 0 15 0 15 0 15 0 15-7 15 0 15 0 15 0 15-4 15 0 15-6 15 0 15 0 15 0 15 0 15 30 15 0 15 0 15 17 15 0 15 0 15 0 15-13 15 0 15 2 15 0 15 6 15 0 15 0 15-2 15 6 15 0 15 0 15-15 15 0 15-20 15 0 15 0 15 0 15-2 15 0 15-10 15 0 15 0 15 4 15 0 15 0 15-4 15 0 15 0 15 24 15 0 15 0 15 0 15 3 15 12 15 0 15 0 15 0 15 136 15 109 15 210 15 0 15 0 15 0 15 57 15 0 15 0 15 0 15 295 15 0 15 0 15 0 15 173 15 0 15 0 15 36 15 7 15 0 15 0 15-36 15 10 15 0 15 0 15 0 15 0 15 0 15 0 15-14 15 0 15 0 15-45 15 0 15 0 15 0 15 0 15-25 15 0 15-35 15 0 15-64 15 0 15 0 15 0 15-78 15 0 15 0 15 0 15 0 15-27 15 0 15 53 15 0 15 0 15 0 15 0 15 102 15 0 15 13 15 80 15 0 15 0 15 0 15 0 15 138 15 9 15-6"/>
<path stroke="#0072BD" d="M740 947l15 0 15 0 15 0 15 0 15 96 15 0 15 0 15 0 15 299 15 0 15 0 15 0 15 65 15 0 15 0 15 135 15 72 15 74 15 93 15 0 15 0 15 4 15 110 15 0 15 67 15 19 15 0 15 0 15 0 15 0 15-5 15 0 15 0 15-9 15 0 15 0 15-5 15 0 15-6 15-3 15 0 15 0 15 14 15 14 15 13 15 0 15 0 15 7 15 0 15 0 15 0 15 0 15 8 15 0 15 0 15 0 15 0 15 6 15 0 15 0 15 10 15 0 15 0 15-7 15-10 15 0 15 6 15 0 15 0 15 4 15 0 15 0 15 0 15 6 15 0 15-7 15 0 15 3 15 0 15-7 15 0 15 0 15 0 15 0 15-7 15 0 15 0 15 0 15 0 15 14 15 0 15-3 15 0 15 0 15 0 15-2 15 0 15-2 15 0 15 0 15 8 15 0 15 4 15 0 15 16 15 0 15 0 15 0 15 4 15 0 15 4 15 0 15 2 15 0 15 0 15 0 15-21 15 0 15 0 15 0 15 0 15 0 15 0 15 0 15 1 15 0 15-1 15-5 15 0 15 0 15 0 15-19 15 0 15 0 15 0 15 0 15-25 15 0 15 0 15 0 15 0 15-1 15 0 15 0 15 0 15 14 15 0 15 0 15 0 15 0 15 2 15-5 15 0 15 0 15 10 15 0 15 0 15 0 15 0 15 24 15 0 15 0 15 0 15 2 15 0 15-15 15 0 15-3 15 0 15 19 15 0 15 0 15 0 15 0 15 22 15 0 15-4 15 0 15 0 15 6 15 7 15 0 15-3 15 0 15 0 15-10 15-17 15 0 15 0 15 0 15-20 15 0 15-3 15 0 15-8 15 0 15 0 15 0 15 12 15 0 15 0 15 2 15 0 15-5 15 0 15 0 15 6 15 0 15 0 15 0 15 0 15 4 15 0 15 0 15 0 15-5 15 0 15-4 15-5 15 0 15 0 15-6 15 7 15 0 15 5 15-10 15 0 15 1 15 48 15 0 15 0 15 206 15 0 15 97 15 0 15 0 15 141 15 0 15 0 15 54 15 0 15 0 15 0 15 0 15 179 15 0 15 0 15 113 15 68 15 0 15 46 15 50 15 0 15 0 15-47 15 0 15 0 15-46 15 0 15 0 15-33 15 0 15 0 15 0 15-12 15 0 15-37 15 0 15 0 15 0 15 0 15-83 15 0 15-48 15 0 15 0 15-61 15 0 15-13 15-9 15-11 15 0 15 0 15 0 15 0 15 75 15 0 15 95 15 0 15 0 15 56 15 105 15 0 15 0 15 0 15 0 15-21 15 0 15-48 15 0"/>
<path stroke="#D95319" d="M740 811l15 7 15 26 15 42 15 25 15-2 15-15 15-7 15 5 15 4 15-4 15-8 15-11 15-2 15 7 15 6 15 3 15 20 15 39 15 49 15 49 15 30 15 20 15 29 15 59 15 65 15 64 15 52 15 85 15 142 15 142 15 81 15 41 15 52 15 86 15 62 15 13 15 2 15 0 15-6 15 3 15 3 15 1 15 2 15 2 15 1 15 1 15 2 15-1 15-7 15-10 15-6 15 0 15 6 15 5 15-1 15-2 15 4 15 6 15 6 15 6 15 3 15-1 15-4 15-4 15 2 15 7 15 5 15 3 15 1 15 2 15 7 15 8 15 5 15-1 15-1 15 1 15 3 15 2 15 0 15-6 15-6 15-6 15-4 15-1 15-2 15-3 15-5 15-4 15-4 15-3 15 0 15-3 15-5 15-2 15-3 15-8 15-10 15-6 15-3 15-4 15-6 15-7 15-4 15 0 15 2 15 2 15 1 15 1 15 1 15 1 15 2 15 3 15 1 15 1 15 0 15 1 15 2 15-3 15-4 15-1 15 3 15 3 15 2 15 5 15 8 15 4 15-3 15-4 15-5 15-7 15-3 15-2 15-5 15-6 15-3 15-1 15-3 15-4 15 0 15-2 15-6 15-3 15-1 15-2 15-2 15 1 15 4 15 3 15 2 15 4 15 2 15 1 15 2 15 1 15-1 15-3 15-2 15-2 15-2 15-2 15-1 15 1 15 4 15 4 15 3 15 1 15 1 15 0 15 1 15 3 15 3 15 0 15-5 15-3 15 0 15 3 15 4 15 3 15 0 15-3 15-3 15-2 15-2 15-1 15 2 15 7 15 8 15 7 15 5 15-1 15-5 15-3 15-3 15-5 15-1 15 5 15 8 15 6 15 2 15 2 15 4 15 4 15 2 15 0 15 0 15-3 15-9 15-9 15-4 15-3 15-3 15 1 15 1 15-1 15 0 15 0 15-1 15 0 15 3 15 4 15 1 15-3 15-3 15 1 15 3 15 0 15-3 15 0 15-2 15-3 15-1 15 4 15 5 15-4 15-12 15-12 15 6 15 29 15 89 15 66 15 73 15 102 15 99 15 50 15 10 15 13 15 51 15 89 15 96 15 75 15 55 15 38 15 21 15 8 15-6 15 3 15 13 15 23 15 27 15 20 15 22 15 38 15 32 15 15 15 5 15 5 15-12 15-18 15-26 15-41 15-46 15-40 15-28 15-32 15-30 15-15 15-10 15-22 15-39 15-33 15-31 15-32 15-24 15-6 15 6 15 16 15 42 15 67 15 60 15 34 15 28 15 28 15 17 15 19 15 36 15 44 15 41 15-4 15-17 15-25"/>
<path stroke="#EDB120" d="M740 155l15 21 15 75 15 0 15 114 15 0 15 0 15 163 15 0 15 0 15 0 15 0 15 85 15 0 15 96 15 0 15 0 15 0 15 81 15 0 15 0 15 0 15 0 15 61 15 0 15 69 15 0 15 0 15 0 15 0 15 160 15 0 15 0 15 668 15 0 15 0 15 0 15 0 15 245 15-6 15 0 15 1 15 0 15 18 15-7 15 0 15 0 15 0 15 0 15-7 15 0 15-16 15 0 15 0 15-9 15-2 15 0 15 0 15-10 15 0 15 0 15 7 15 0 15 1 15 0 15 0 15 0 15 0 15 23 15 2 15 0 15 0 15-14 15 0 15-8 15 0 15 0 15-1 15 0 15 0 15 8 15 0 15 0 15 0 15-12 15 0 15 1 15 0 15 0 15 5 15 0 15 5 15 0 15 9 15 0 15 0 15 0 15 11 15 5 15 0 15-3 15 0 15 0 15-2 15-3 15 1 15-9 15 0 15 0 15 0 15 0 15 0 15 0 15 0 15 9 15 0 15 0 15-7 15 0 15-5 15-12 15 0 15 0 15 0 15-26 15 0 15 0 15 0 15 4 15 0 15-1 15 0 15 0 15 0 15 0 15-4 15 0 15 0 15 0 15 0 15-3 15 0 15 0 15-2 15 1 15 0 15-8 15 0 15 0 15-9 15 0 15 0 15 0 15 20 15 0 15 12 15 23 15 0 15 0 15 0 15 11 15 0 15 0 15 19 15 0 15 0 15 0 15 0 15-2 15 0 15-3 15-5 15-6 15-2 15 0 15 0 15 0 15 0 15 1 15 0 15 0 15 0 15-2 15 0 15 0 15 10 15 0 15 0 15 0 15 3 15 3 15 0 15 0 15 0 15 0 15 6 15 0 15 0 15 0 15 9 15 0 15 8 15 0 15 0 15 0 15-1 15-1 15 0 15 3 15 0 15 0 15 0 15 15 15 0 15 0 15-5 15 0 15 0 15 0 15 21 15 0 15 0 15 0 15-18 15-25 15 0 15 4 15 9 15 165 15 0 15 0 15 0 15 150 15 0 15 0 15 0 15 0 15 425 15 85 15 0 15 0 15 0 15 100 15 0 15 90 15 0 15 0 15 0 15 0 15-76 15 0 15-6 15 0 15 0 15-13 15-4 15 25 15 0 15 0 15 17 15 0 15 0 15 0 15 0 15-112 15 0 15-104 15 0 15 0 15 0 15 0 15-59 15 0 15 0 15-6 15 0 15 0 15 20 15-17 15 0 15 0 15 0 15 68 15 0 15 0 15 0 15 0 15 64 15 0 15 0 15 0 15 0 15 29 15 20 15 0 15 0 15 0 15-41 15 0 15 0 15 0"/>
<path stroke="#7E2F8E" d="M740 534l15 20 15 14 15 10 15 10 15 6 15-1 15 7 15 31 15 44 15 26 15-3 15-5 15 25 15 63 15 89 15 98 15 78 15 47 15 18 15-1 15 0 15 20 15 52 15 65 15 111 15 145 15 147 15 102 15 62 15 40 15 10 15-11 15 16 15 75 15 111 15 18 15 8 15-9 15-5 15 0 15 1 15-5 15-11 15-7 15-3 15-6 15-8 15-8 15-8 15-10 15-6 15 1 15 7 15 9 15 8 15 8 15 9 15 9 15 3 15-4 15-10 15-9 15-5 15-2 15 1 15 3 15 5 15 2 15-5 15-7 15-6 15-6 15-4 15 2 15 5 15 1 15-2 15-3 15 0 15 4 15 2 15 0 15-2 15-1 15-3 15-3 15-1 15-2 15-2 15 0 15-1 15-1 15 3 15 5 15 5 15 5 15 1 15-5 15-2 15 4 15 4 15 1 15-2 15-6 15-6 15 1 15 4 15-1 15-7 15-4 15 3 15 3 15 2 15 1 15-5 15-8 15-7 15-10 15-5 15-7 15-9 15-3 15 2 15 1 15 1 15 5 15 5 15 1 15-1 15 2 15 4 15 4 15 3 15 3 15 2 15 1 15-1 15-1 15-3 15-3 15 0 15 1 15 0 15 0 15 1 15 2 15 3 15 4 15 0 15-4 15-5 15-4 15-1 15-3 15-5 15-4 15 0 15 4 15 6 15 4 15 5 15 5 15 6 15 7 15 8 15 9 15 7 15 0 15-4 15-3 15-3 15-6 15-7 15-4 15 0 15 2 15 7 15 11 15 8 15 6 15 4 15 0 15-2 15 0 15 2 15 0 15 1 15 3 15 2 15-2 15-5 15-7 15-5 15 1 15 2 15-1 15 1 15 2 15 0 15-2 15-2 15 0 15-2 15-3 15-1 15 2 15 0 15-4 15-3 15-2 15-7 15-8 15-6 15 0 15 4 15 0 15-2 15 3 15 5 15 6 15 6 15 8 15 3 15-5 15-3 15 10 15 76 15 30 15-19 15-30 15 10 15 56 15 87 15 107 15 112 15 88 15 71 15 77 15 70 15 43 15 33 15 60 15 90 15 25 15 17 15 12 15 22 15 17 15 13 15 15 15-5 15 2 15 7 15-8 15-16 15-12 15-23 15-62 15-69 15-57 15-43 15-33 15-35 15-46 15-49 15-29 15 0 15 25 15 14 15 5 15 14 15 23 15 24 15 24 15 33 15 34 15 21 15 11 15 14 15 24 15 40 15 52 15 38 15 24 15 24 15 21 15 16 15 17 15 18 15-9 15-8 15-9 15-23 15-24 15-23 15-27 15-16 15-9 15 7 15 9"/>
<path stroke="#EDB120" d="M740 400l60-40 40 80 60 30 20-50 40 80 70 20 30 60 40 120 40 20 20 120 40 40 40 80 40 80 50 10 20 70 40 20 20 80 50 20 24 137 101 13 13 139 62 151 13 64 64 12 25 101 38 76 60 37 60 20 80 40"/>
<path stroke="#EDB120" d="M740 520l80 30 60 80 80 30 40 80 60 60 60 120 60 80 40 120 50 156 62 126 51 178 37 120 39 157 41 103 60 40"/>
<path stroke="#EDB120" d="M740 440l60 60 60 20 60 80 70 40 50 80 60 60 60 120 50 40 50 100 50 60 30 140 30 40 20 140 30 80 20 140 40 80 30 140 50 80 60 50"/>
<path stroke="#7E2F8E" d="M1460 1960l40-60 34-43 46-27 43-23 27 23 23 2 26-98 21 46 17 27 33 23 30 2 40-32 43-30 27 50 33 70 37 30 60 40 60 30"/>
<path stroke="#7E2F8E" d="M2050 1980l50-80 40-60 27-26 23 46 30-10 40 70 60 40"/>
<path stroke="#EDB120" d="M1360 2140l30 78 37 30 0 322 5-175 68-5 99-5 15-108 45-59 41-58"/>
<path stroke="#4DBEEE" d="M1600 2150l50 70 30 60 24 117 16 33 14 57 15-45 15 60 8 58 6 80 7-60 8-33 7-147 8-123 22-37 23-22 15 89 12-67 40-60 60-40"/>
<path stroke="#4DBEEE" d="M1580 2120l50 80 30 60 30-20 20 120 20-40 20 60 20-80 30-80 40-60"/>
<path stroke="#EDB120" d="M2080 2080l16 60 5 452 5-452 14-60"/>
<path stroke="#4DBEEE" d="M2100 2120l60 50 60 40 60 30 50 10 50-30 60-50 60-30"/>
<path stroke="#EDB120" d="M1940 2000l30-100 15-60 15 80 15-60 15 90 20 50"/>
<path stroke="#EDB120" d="M3800 2040l60 60 40 40 30 80 15 900 8-820 7-80 8 780 8-850 14-190 20-130 20 70 20 100 20 220 10 160 10-230 20-200 30-140 20 70 20 120"/>
<path stroke="#4DBEEE" d="M4400 3000l40 180 40 120 30 80 20 80 20-20 13 83 17-43 20-100 30-80 30-80"/>
<path stroke="#77AC30" d="M740 1060l30 60 20-20 24 110 26-30 20 100 30 120 30 160"/>
<path stroke="#ee1c1c" stroke-width="9" d="M740 844l210 0 260 1176 3070 0 272 963 177 0 151-266 190 51 63 62 101 64"/>
</g></g>
<!-- axes box and ticks -->
<g stroke="#6a6a6a" stroke-width="1.25" fill="none">
<rect x="73.8" y="28.6" width="450.4" height="346.1"/>
<path d="M164 374.6v-4M254.1 374.6v-4M344.2 374.6v-4M434.2 374.6v-4M164 28.7v4M254.1 28.7v4M344.2 28.7v4M434.2 28.7v4M73.8 202.2h4.2M524.2 202.2h-4.2"/>
</g>
<!-- vertical dotted markers -->
<line x1="120.6" y1="26.6" x2="120.6" y2="374.6" stroke="#ff1a1a" stroke-width="2.1" stroke-dasharray="2.2 2.25"/>
<line x1="134.0" y1="26.6" x2="134.0" y2="374.6" stroke="#1f5fd6" stroke-width="2.1" stroke-dasharray="2.2 2.25"/>
<line x1="428.0" y1="26.6" x2="428.0" y2="374.6" stroke="#1f5fd6" stroke-width="2.1" stroke-dasharray="2.2 2.25"/>
<line x1="440.3" y1="26.6" x2="440.3" y2="374.6" stroke="#ff1a1a" stroke-width="2.1" stroke-dasharray="2.2 2.25"/>
<!-- dashed level lines -->
<line x1="74.2" y1="154.4" x2="121" y2="154.4" stroke="#000" stroke-width="2.5" stroke-dasharray="9.6 6.4"/>
<line x1="76.5" y1="254.6" x2="428.5" y2="254.6" stroke="#000" stroke-width="2.6" stroke-dasharray="10.2 5.17"/>
<circle cx="121.3" cy="154.3" r="6.45" fill="#0c2a6e"/>
<circle cx="440" cy="254.5" r="6.3" fill="#0c2a6e"/>
<!-- tick labels -->
<g class="tk" text-anchor="end">
<text x="67.2" y="35.3">5</text>
<text x="69.0" y="161.3" font-size="20.3">1.61</text>
<text x="66.6" y="209.9">0</text>
<text x="69.8" y="263.0" font-size="20.3">-1.39</text>
<text x="66.0" y="382.7">-5</text>
</g>
<g class="tk" text-anchor="middle">
<text x="73.2" y="401">3900</text>
<text x="164" y="401">4000</text>
<text x="254.1" y="401">4100</text>
<text x="344.2" y="401">4200</text>
<text x="434.4" y="401">4300</text>
<text x="524.3" y="401">4400</text>
</g>
<text class="tk" y="24.1"><tspan x="74.3" y="27" font-size="24.8">×</tspan><tspan x="90" y="24.1">10</tspan><tspan x="110.4" y="14.2" font-size="16.8">-3</tspan></text>
<!-- axis labels -->
<text class="lb" x="304" y="425.5" text-anchor="middle">Distance [m]</text>
<text class="lb" transform="translate(24.3 200.4) rotate(-90)" text-anchor="middle">Curvature [m<tspan font-size="15.6" dy="-7.8" dx="0.6">-1</tspan><tspan dy="7.8" dx="0.8">]</tspan></text>
<!-- annotations -->
<g class="an" text-anchor="middle">
<text transform="translate(94.6 318.2) rotate(-90)">Mid-point of</text>
<text transform="translate(115.3 319.5) rotate(-90)">curve: 3946m</text>
<text transform="translate(157.4 317.0) rotate(-90)">ETC: 3966m</text>
<text transform="translate(413.7 97.7) rotate(-90)">BTC: 4292m</text>
<text transform="translate(464.4 134.1) rotate(-90)">Mid-point of curve: 4307m</text>
</g>
</svg>
</body></html>
